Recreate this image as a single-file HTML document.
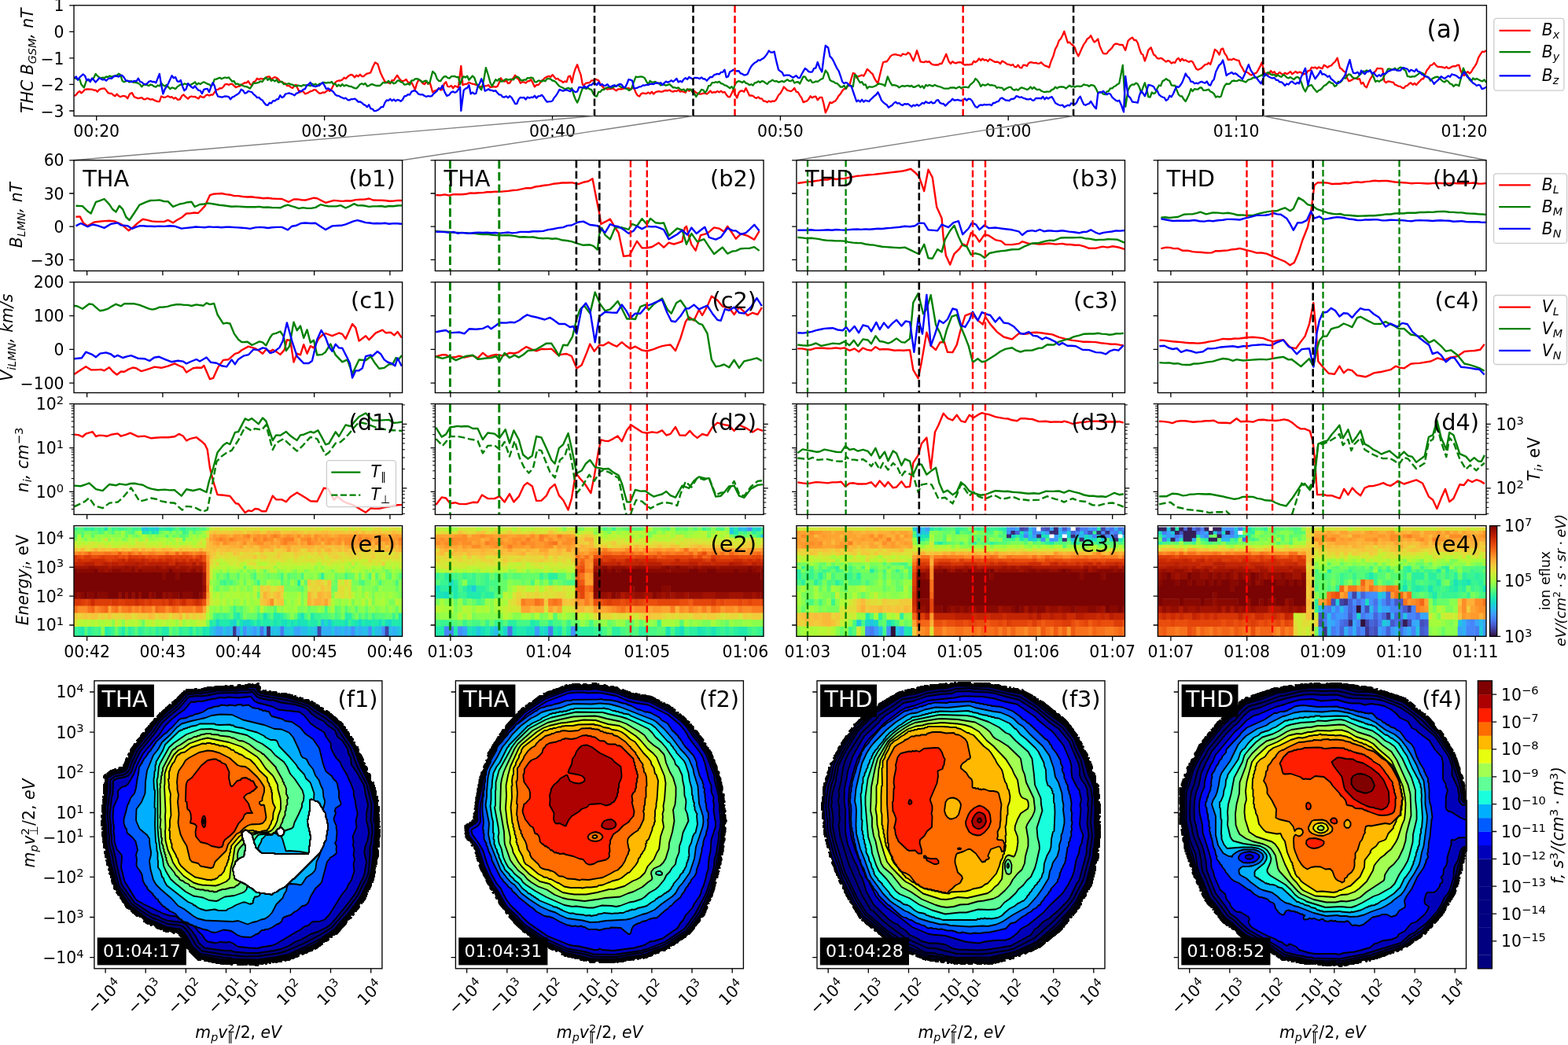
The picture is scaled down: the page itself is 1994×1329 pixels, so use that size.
<!DOCTYPE html><html><head><meta charset="utf-8"><title>THEMIS figure</title><style>html,body{margin:0;padding:0;background:#fff;}svg{display:block;}</style></head><body><svg width="1994" height="1329" viewBox="0 0 1994 1329" font-family="DejaVu Sans, Liberation Sans, sans-serif" font-size="20.4"><path fill="#38f491" d="M94 670.5h4.8v5h-4.8zM111.2 670.5h4.8v5h-4.8zM124.1 670.5h4.8v5h-4.8zM141.3 670.5h4.8v5h-4.8zM149.9 670.5h9.1v5h-9.1zM167.1 670.5h9.1v5h-9.1zM218.7 670.5h4.8v5h-4.8zM227.3 670.5h4.8v5h-4.8zM244.5 670.5h4.8v5h-4.8zM188.6 675h4.8v4.9h-4.8zM231.6 675h4.8v4.9h-4.8zM283.2 736.9h4.8v8.2h-4.8zM326.2 736.9h4.8v8.2h-4.8zM296.1 770.1h4.8v9.3h-4.8zM274.6 778.9h4.8v9.4h-4.8zM283.2 778.9h4.8v9.4h-4.8zM326.2 778.9h4.8v9.4h-4.8zM339.1 778.9h4.8v9.4h-4.8zM399.3 778.9h9.1v9.4h-9.1zM472.4 778.9h4.8v9.4h-4.8zM498.2 778.9h4.8v9.4h-4.8zM300.4 787.8h4.8v9.3h-4.8zM403.6 787.8h4.8v9.3h-4.8zM442.3 787.8h4.8v9.3h-4.8zM94 796.6h4.8v12.8h-4.8zM115.5 796.6h4.8v12.8h-4.8zM124.1 796.6h4.8v12.8h-4.8zM141.3 796.6h4.8v12.8h-4.8zM149.9 796.6h4.8v12.8h-4.8zM167.1 796.6h4.8v12.8h-4.8zM180 796.6h4.8v12.8h-4.8zM188.6 796.6h4.8v12.8h-4.8zM201.5 796.6h4.8v12.8h-4.8zM231.6 796.6h9.1v12.8h-9.1zM253.1 796.6h4.8v12.8h-4.8zM777.6 670.5h6.2v5h-6.2zM892.6 670.5h6.2v5h-6.2zM967.4 670.5h3.6v5h-3.6zM944.4 675h6.2v4.9h-6.2zM961.6 679.4h6.2v4.9h-6.2zM553.4 728.1h6.2v9.3h-6.2zM570.6 728.1h6.2v9.3h-6.2zM587.9 728.1h6.2v9.3h-6.2zM599.4 728.1h6.2v9.3h-6.2zM616.6 728.1h6.2v9.3h-6.2zM685.6 728.1h6.2v9.3h-6.2zM559.1 736.9h12v8.2h-12zM593.6 736.9h12v8.2h-12zM616.6 736.9h6.2v8.2h-6.2zM616.6 744.6h6.2v8.3h-6.2zM570.6 752.4h6.2v9.3h-6.2zM582.1 752.4h12v9.3h-12zM610.9 752.4h6.2v9.3h-6.2zM559.1 787.8h12v9.3h-12zM587.9 787.8h6.2v9.3h-6.2zM616.6 787.8h6.2v9.3h-6.2zM628.1 787.8h12v9.3h-12zM720.1 787.8h6.2v9.3h-6.2zM835.1 787.8h6.2v9.3h-6.2zM754.6 796.6h6.2v12.8h-6.2zM869.6 796.6h6.2v12.8h-6.2zM915.6 796.6h6.2v12.8h-6.2zM927.1 796.6h6.2v12.8h-6.2zM950.1 796.6h6.2v12.8h-6.2zM961.6 796.6h6.2v12.8h-6.2zM1187.3 670.5h6v5h-6zM1220 670.5h6v5h-6zM1236.3 670.5h6v5h-6zM1258.2 670.5h11.4v5h-11.4zM1274.5 675h6v4.9h-6zM1389 675h6v4.9h-6zM1285.4 683.8h5.9v4.9h-5.9zM1356.2 683.8h6v4.9h-6zM1187.3 688.2h6v5h-6zM1018.4 719.2h5.9v4.9h-5.9zM1029.2 723.6h6v5h-6zM1045.6 723.6h6v5h-6zM1062 723.6h6v5h-6zM1138.2 723.6h6v5h-6zM1023.8 728.1h11.4v9.3h-11.4zM1072.8 728.1h11.4v9.3h-11.4zM1056.5 761.2h6v9.4h-6zM1078.3 796.6h6v12.8h-6zM1590.5 670.5h5.9v5h-5.9zM1585.2 675h5.9v4.9h-5.9zM1472.4 679.4h5.9v4.9h-5.9zM1526.1 683.8h5.9v4.9h-5.9zM1590.5 683.8h5.9v4.9h-5.9zM1515.4 688.2h5.9v5h-5.9zM1783.9 719.2h5.9v4.9h-5.9zM1805.3 719.2h5.9v4.9h-5.9zM1832.2 719.2h5.9v4.9h-5.9zM1714.1 723.6h5.9v5h-5.9zM1751.6 723.6h5.9v5h-5.9zM1762.4 723.6h5.9v5h-5.9zM1783.9 723.6h5.9v5h-5.9zM1800 723.6h5.9v5h-5.9zM1810.7 723.6h11.2v5h-11.2zM1869.8 723.6h5.9v5h-5.9zM1703.3 728.1h5.9v9.3h-5.9zM1719.4 728.1h5.9v9.3h-5.9zM1735.5 728.1h5.9v9.3h-5.9zM1746.3 728.1h5.9v9.3h-5.9zM1783.9 728.1h5.9v9.3h-5.9zM1837.6 728.1h5.9v9.3h-5.9zM1864.4 728.1h11.2v9.3h-11.2zM1880.5 728.1h5.9v9.3h-5.9zM1703.3 736.9h5.9v8.2h-5.9zM1746.3 736.9h5.9v8.2h-5.9zM1816.1 736.9h11.2v8.2h-11.2zM1842.9 736.9h5.9v8.2h-5.9zM1869.8 736.9h11.2v8.2h-11.2zM1778.5 744.6h5.9v8.3h-5.9zM1810.7 744.6h5.9v8.3h-5.9zM1821.5 744.6h11.2v8.3h-11.2zM1837.6 744.6h5.9v8.3h-5.9zM1853.7 744.6h5.9v8.3h-5.9zM1869.8 744.6h5.9v8.3h-5.9zM1880.5 744.6h5.9v8.3h-5.9zM1816.1 752.4h5.9v9.3h-5.9zM1832.2 752.4h22v9.3h-22zM1864.4 752.4h5.9v9.3h-5.9zM1671.1 770.1h5.9v9.3h-5.9z"/>
<path fill="#55fa76" d="M98.3 670.5h9.1v5h-9.1zM162.8 670.5h4.8v5h-4.8zM223 670.5h4.8v5h-4.8zM253.1 670.5h4.8v5h-4.8zM102.6 675h4.8v4.9h-4.8zM128.4 675h4.8v4.9h-4.8zM162.8 675h4.8v4.9h-4.8zM244.5 675h4.8v4.9h-4.8zM94 679.4h4.8v4.9h-4.8zM102.6 679.4h4.8v4.9h-4.8zM115.5 679.4h4.8v4.9h-4.8zM227.3 679.4h9.1v4.9h-9.1zM231.6 683.8h4.8v4.9h-4.8zM300.4 728.1h4.8v9.3h-4.8zM364.9 728.1h4.8v9.3h-4.8zM476.7 728.1h4.8v9.3h-4.8zM493.9 728.1h4.8v9.3h-4.8zM506.8 728.1h4.8v9.3h-4.8zM287.5 736.9h4.8v8.2h-4.8zM356.3 736.9h4.8v8.2h-4.8zM386.4 736.9h4.8v8.2h-4.8zM455.2 736.9h4.8v8.2h-4.8zM511.1 736.9h0.5v8.2h-0.5zM382.1 744.6h4.8v8.3h-4.8zM511.1 744.6h0.5v8.3h-0.5zM304.7 770.1h4.8v9.3h-4.8zM347.7 770.1h4.8v9.3h-4.8zM425.1 770.1h4.8v9.3h-4.8zM438 770.1h4.8v9.3h-4.8zM450.9 770.1h4.8v9.3h-4.8zM343.4 778.9h4.8v9.4h-4.8zM416.5 778.9h4.8v9.4h-4.8zM429.4 778.9h4.8v9.4h-4.8zM446.6 778.9h4.8v9.4h-4.8zM476.7 778.9h13.4v9.4h-13.4zM106.9 796.6h4.8v12.8h-4.8zM158.5 796.6h4.8v12.8h-4.8zM171.4 796.6h4.8v12.8h-4.8zM223 796.6h4.8v12.8h-4.8zM794.9 670.5h23.5v5h-23.5zM846.6 670.5h6.2v5h-6.2zM858.1 670.5h6.2v5h-6.2zM869.6 670.5h6.2v5h-6.2zM881.1 670.5h6.2v5h-6.2zM898.4 670.5h6.2v5h-6.2zM967.4 675h3.6v4.9h-3.6zM582.1 728.1h6.2v9.3h-6.2zM605.1 728.1h6.2v9.3h-6.2zM651.1 728.1h12v9.3h-12zM691.4 728.1h6.2v9.3h-6.2zM708.6 728.1h12v9.3h-12zM553.4 736.9h6.2v8.2h-6.2zM582.1 736.9h6.2v8.2h-6.2zM605.1 736.9h6.2v8.2h-6.2zM714.4 736.9h6.2v8.2h-6.2zM622.4 744.6h6.2v8.3h-6.2zM628.1 752.4h6.2v9.3h-6.2zM587.9 761.2h6.2v9.4h-6.2zM610.9 761.2h6.2v9.4h-6.2zM702.9 778.9h6.2v9.4h-6.2zM576.4 787.8h6.2v9.3h-6.2zM593.6 787.8h6.2v9.3h-6.2zM639.6 787.8h6.2v9.3h-6.2zM685.6 787.8h12v9.3h-12zM863.9 787.8h6.2v9.3h-6.2zM794.9 796.6h6.2v12.8h-6.2zM806.4 796.6h6.2v12.8h-6.2zM835.1 796.6h12v12.8h-12zM1203.7 670.5h11.4v5h-11.4zM1160 675h6v4.9h-6zM1225.5 675h6v4.9h-6zM1198.2 679.4h6v4.9h-6zM1274.5 679.4h6v4.9h-6zM1198.2 683.8h6v4.9h-6zM1252.7 683.8h6v4.9h-6zM1329 683.8h6v4.9h-6zM1165.5 688.2h6v5h-6zM1203.7 688.2h5.9v5h-5.9zM1230.9 688.2h5.9v5h-5.9zM1247.2 688.2h11.4v5h-11.4zM1269 688.2h11.4v5h-11.4zM1301.8 688.2h6v5h-6zM1312.7 688.2h5.9v5h-5.9zM1339.9 688.2h5.9v5h-5.9zM1350.8 688.2h6v5h-6zM1372.6 688.2h11.4v5h-11.4zM1399.8 688.2h6v5h-6zM1410.8 688.2h6v5h-6zM1427.1 688.2h3.4v5h-3.4zM1350.8 692.7h6v4.9h-6zM1121.9 714.8h5.9v4.9h-5.9zM1132.8 714.8h11.4v4.9h-11.4zM1040.2 719.2h5.9v4.9h-5.9zM1051 719.2h6v4.9h-6zM1127.3 719.2h6v4.9h-6zM1149.2 719.2h5.9v4.9h-5.9zM1023.8 723.6h6v5h-6zM1040.2 723.6h5.9v5h-5.9zM1111 723.6h6v5h-6zM1018.4 728.1h5.9v9.3h-5.9zM1034.7 728.1h6v9.3h-6zM1045.6 728.1h6v9.3h-6zM1083.8 728.1h6v9.3h-6zM1121.9 728.1h5.9v9.3h-5.9zM1143.7 728.1h6v9.3h-6zM1056.5 736.9h6v8.2h-6zM1051 744.6h6v8.3h-6zM1072.8 744.6h6v8.3h-6zM1023.8 761.2h6v9.4h-6zM1105.5 778.9h6v9.4h-6zM1116.5 787.8h6v9.3h-6zM1083.8 796.6h6v12.8h-6zM1595.9 670.5h5.9v5h-5.9zM1622.8 670.5h11.2v5h-11.2zM1638.9 670.5h5.9v5h-5.9zM1649.6 670.5h5.9v5h-5.9zM1617.4 675h5.9v4.9h-5.9zM1644.2 675h16.6v4.9h-16.6zM1628.1 679.4h5.9v4.9h-5.9zM1638.9 679.4h5.9v4.9h-5.9zM1585.2 683.8h5.9v4.9h-5.9zM1595.9 683.8h5.9v4.9h-5.9zM1628.1 683.8h5.9v4.9h-5.9zM1493.9 688.2h5.9v5h-5.9zM1504.6 688.2h11.2v5h-11.2zM1531.5 688.2h5.9v5h-5.9zM1547.6 688.2h5.9v5h-5.9zM1563.7 688.2h11.2v5h-11.2zM1622.8 688.2h5.9v5h-5.9zM1638.9 688.2h5.9v5h-5.9zM1687.2 714.8h5.9v4.9h-5.9zM1697.9 719.2h5.9v4.9h-5.9zM1714.1 719.2h11.2v4.9h-11.2zM1730.2 719.2h5.9v4.9h-5.9zM1751.6 719.2h5.9v4.9h-5.9zM1859 719.2h16.6v4.9h-16.6zM1880.5 719.2h5.9v4.9h-5.9zM1708.7 723.6h5.9v5h-5.9zM1719.4 723.6h27.3v5h-27.3zM1757 723.6h5.9v5h-5.9zM1767.8 723.6h5.9v5h-5.9zM1778.5 723.6h5.9v5h-5.9zM1794.6 723.6h5.9v5h-5.9zM1805.3 723.6h5.9v5h-5.9zM1848.3 723.6h5.9v5h-5.9zM1859 723.6h11.2v5h-11.2zM1671.1 728.1h11.2v9.3h-11.2zM1687.2 728.1h5.9v9.3h-5.9zM1697.9 728.1h5.9v9.3h-5.9zM1714.1 728.1h5.9v9.3h-5.9zM1724.8 728.1h11.2v9.3h-11.2zM1751.6 728.1h11.2v9.3h-11.2zM1767.8 728.1h16.6v9.3h-16.6zM1810.7 728.1h5.9v9.3h-5.9zM1832.2 728.1h5.9v9.3h-5.9zM1671.1 736.9h5.9v8.2h-5.9zM1687.2 736.9h5.9v8.2h-5.9zM1697.9 736.9h5.9v8.2h-5.9zM1757 736.9h5.9v8.2h-5.9zM1767.8 736.9h5.9v8.2h-5.9zM1805.3 736.9h5.9v8.2h-5.9zM1885.9 736.9h4.1v8.2h-4.1zM1789.2 744.6h5.9v8.3h-5.9zM1800 752.4h5.9v9.3h-5.9zM1810.7 752.4h5.9v9.3h-5.9zM1859 752.4h5.9v9.3h-5.9z"/>
<path fill="#2aefa1" d="M106.9 670.5h4.8v5h-4.8zM115.5 670.5h4.8v5h-4.8zM201.5 670.5h9.1v5h-9.1zM231.6 670.5h4.8v5h-4.8zM407.9 728.1h4.8v9.3h-4.8zM296.1 778.9h4.8v9.4h-4.8zM356.3 778.9h4.8v9.4h-4.8zM377.8 778.9h4.8v9.4h-4.8zM438 778.9h9.1v9.4h-9.1zM270.3 787.8h4.8v9.3h-4.8zM321.9 787.8h4.8v9.3h-4.8zM330.5 787.8h4.8v9.3h-4.8zM343.4 787.8h4.8v9.3h-4.8zM390.7 787.8h4.8v9.3h-4.8zM485.3 787.8h4.8v9.3h-4.8zM98.3 796.6h4.8v12.8h-4.8zM111.2 796.6h4.8v12.8h-4.8zM137 796.6h4.8v12.8h-4.8zM162.8 796.6h4.8v12.8h-4.8zM175.7 796.6h4.8v12.8h-4.8zM197.2 796.6h4.8v12.8h-4.8zM227.3 796.6h4.8v12.8h-4.8zM248.8 796.6h4.8v12.8h-4.8zM955.9 675h6.2v4.9h-6.2zM564.9 728.1h6.2v9.3h-6.2zM697.1 728.1h12v9.3h-12zM576.4 736.9h6.2v8.2h-6.2zM559.1 744.6h12v8.3h-12zM587.9 744.6h6.2v8.3h-6.2zM605.1 744.6h12v8.3h-12zM616.6 752.4h12v9.3h-12zM645.4 787.8h12v9.3h-12zM679.9 787.8h6.2v9.3h-6.2zM697.1 787.8h6.2v9.3h-6.2zM737.4 796.6h17.8v12.8h-17.8zM760.4 796.6h6.2v12.8h-6.2zM777.6 796.6h12v12.8h-12zM812.1 796.6h12v12.8h-12zM875.4 796.6h12v12.8h-12zM898.4 796.6h6.2v12.8h-6.2zM909.9 796.6h6.2v12.8h-6.2zM921.4 796.6h6.2v12.8h-6.2zM932.9 796.6h6.2v12.8h-6.2zM967.4 796.6h3.6v12.8h-3.6zM1192.8 670.5h6v5h-6zM1214.5 670.5h6v5h-6zM1241.8 670.5h6v5h-6zM1252.7 670.5h6v5h-6zM1269 670.5h6v5h-6zM1290.8 679.4h6v4.9h-6zM1171 683.8h6v4.9h-6zM1318.1 683.8h6v4.9h-6zM1345.3 683.8h6v4.9h-6zM1236.3 688.2h6v5h-6zM1258.2 688.2h5.9v5h-5.9zM1329 688.2h6v5h-6zM1361.7 688.2h11.4v5h-11.4zM1394.4 688.2h5.9v5h-5.9zM1062 719.2h6v4.9h-6zM1012.9 723.6h6v5h-6zM1012.9 728.1h6v9.3h-6zM1040.2 728.1h5.9v9.3h-5.9zM1089.2 728.1h6v9.3h-6zM1018.4 736.9h5.9v8.2h-5.9zM1034.7 736.9h6v8.2h-6zM1062 736.9h6v8.2h-6zM1116.5 778.9h6v9.4h-6zM1143.7 778.9h6v9.4h-6zM1132.8 787.8h6v9.3h-6zM1606.7 670.5h5.9v5h-5.9zM1590.5 675h5.9v4.9h-5.9zM1579.8 679.4h11.2v4.9h-11.2zM1531.5 683.8h5.9v4.9h-5.9zM1569.1 683.8h5.9v4.9h-5.9zM1472.4 688.2h5.9v5h-5.9zM1789.2 719.2h5.9v4.9h-5.9zM1837.6 719.2h5.9v4.9h-5.9zM1789.2 723.6h5.9v5h-5.9zM1837.6 723.6h5.9v5h-5.9zM1794.6 728.1h16.6v9.3h-16.6zM1816.1 728.1h11.2v9.3h-11.2zM1848.3 728.1h5.9v9.3h-5.9zM1859 728.1h5.9v9.3h-5.9zM1875.2 728.1h5.9v9.3h-5.9zM1783.9 736.9h5.9v8.2h-5.9zM1794.6 736.9h5.9v8.2h-5.9zM1853.7 736.9h5.9v8.2h-5.9zM1880.5 736.9h5.9v8.2h-5.9zM1697.9 744.6h5.9v8.3h-5.9zM1794.6 744.6h5.9v8.3h-5.9zM1805.3 744.6h5.9v8.3h-5.9zM1842.9 744.6h5.9v8.3h-5.9zM1859 744.6h5.9v8.3h-5.9zM1671.1 761.2h5.9v9.4h-5.9z"/>
<path fill="#46f884" d="M119.8 670.5h4.8v5h-4.8zM128.4 670.5h4.8v5h-4.8zM145.6 670.5h4.8v5h-4.8zM158.5 670.5h4.8v5h-4.8zM175.7 670.5h4.8v5h-4.8zM235.9 670.5h9.1v5h-9.1zM248.8 670.5h4.8v5h-4.8zM257.4 670.5h4.8v5h-4.8zM124.1 675h4.8v4.9h-4.8zM141.3 675h4.8v4.9h-4.8zM167.1 675h4.8v4.9h-4.8zM235.9 675h4.8v4.9h-4.8zM210.1 679.4h4.8v4.9h-4.8zM287.5 728.1h4.8v9.3h-4.8zM321.9 728.1h4.8v9.3h-4.8zM356.3 728.1h4.8v9.3h-4.8zM382.1 728.1h4.8v9.3h-4.8zM438 728.1h4.8v9.3h-4.8zM468.1 728.1h4.8v9.3h-4.8zM278.9 736.9h4.8v8.2h-4.8zM291.8 736.9h4.8v8.2h-4.8zM459.5 736.9h4.8v8.2h-4.8zM481 736.9h4.8v8.2h-4.8zM502.5 736.9h4.8v8.2h-4.8zM412.2 770.1h4.8v9.3h-4.8zM270.3 778.9h4.8v9.4h-4.8zM278.9 778.9h4.8v9.4h-4.8zM287.5 778.9h4.8v9.4h-4.8zM304.7 778.9h4.8v9.4h-4.8zM330.5 778.9h4.8v9.4h-4.8zM360.6 778.9h4.8v9.4h-4.8zM386.4 778.9h4.8v9.4h-4.8zM407.9 778.9h9.1v9.4h-9.1zM425.1 778.9h4.8v9.4h-4.8zM455.2 778.9h4.8v9.4h-4.8zM463.8 778.9h4.8v9.4h-4.8zM119.8 796.6h4.8v12.8h-4.8zM184.3 796.6h4.8v12.8h-4.8zM192.9 796.6h4.8v12.8h-4.8zM218.7 796.6h4.8v12.8h-4.8zM244.5 796.6h4.8v12.8h-4.8zM766.1 670.5h6.2v5h-6.2zM909.9 670.5h12v5h-12zM938.6 675h6.2v4.9h-6.2zM961.6 675h6.2v4.9h-6.2zM932.9 679.4h6.2v4.9h-6.2zM559.1 728.1h6.2v9.3h-6.2zM576.4 728.1h6.2v9.3h-6.2zM593.6 728.1h6.2v9.3h-6.2zM610.9 728.1h6.2v9.3h-6.2zM628.1 728.1h6.2v9.3h-6.2zM639.6 728.1h6.2v9.3h-6.2zM610.9 736.9h6.2v8.2h-6.2zM622.4 736.9h12v8.2h-12zM674.1 736.9h6.2v8.2h-6.2zM697.1 736.9h6.2v8.2h-6.2zM720.1 736.9h12v8.2h-12zM582.1 744.6h6.2v8.3h-6.2zM628.1 744.6h6.2v8.3h-6.2zM605.1 761.2h6.2v9.4h-6.2zM553.4 787.8h6.2v9.3h-6.2zM570.6 787.8h6.2v9.3h-6.2zM599.4 787.8h12v9.3h-12zM656.9 787.8h17.8v9.3h-17.8zM702.9 787.8h12v9.3h-12zM748.9 787.8h6.2v9.3h-6.2zM714.4 796.6h6.2v12.8h-6.2zM766.1 796.6h6.2v12.8h-6.2zM789.1 796.6h6.2v12.8h-6.2zM800.6 796.6h6.2v12.8h-6.2zM823.6 796.6h12v12.8h-12zM852.4 796.6h6.2v12.8h-6.2zM955.9 796.6h6.2v12.8h-6.2zM1198.2 670.5h6v5h-6zM1225.5 670.5h6v5h-6zM1247.2 670.5h6v5h-6zM1230.9 675h5.9v4.9h-5.9zM1252.7 675h11.4v4.9h-11.4zM1160 679.4h6v4.9h-6zM1269 679.4h6v4.9h-6zM1176.4 683.8h5.9v4.9h-5.9zM1241.8 683.8h6v4.9h-6zM1274.5 683.8h11.4v4.9h-11.4zM1301.8 683.8h6v4.9h-6zM1367.2 683.8h5.9v4.9h-5.9zM1394.4 683.8h5.9v4.9h-5.9zM1427.1 683.8h3.4v4.9h-3.4zM1198.2 688.2h6v5h-6zM1220 688.2h6v5h-6zM1263.6 688.2h6v5h-6zM1323.5 688.2h6v5h-6zM1345.3 688.2h6v5h-6zM1383.5 688.2h11.4v5h-11.4zM1405.3 688.2h6v5h-6zM1421.7 688.2h5.9v5h-5.9zM1143.7 714.8h11.4v4.9h-11.4zM1029.2 719.2h6v4.9h-6zM1056.5 719.2h6v4.9h-6zM1078.3 719.2h6v4.9h-6zM1094.7 719.2h5.9v4.9h-5.9zM1154.6 719.2h6v4.9h-6zM1051 723.6h6v5h-6zM1067.4 723.6h5.9v5h-5.9zM1078.3 723.6h6v5h-6zM1121.9 723.6h5.9v5h-5.9zM1154.6 723.6h6v5h-6zM1056.5 728.1h6v9.3h-6zM1154.6 728.1h6v9.3h-6zM1012.9 736.9h6v8.2h-6zM1040.2 736.9h5.9v8.2h-5.9zM1051 736.9h6v8.2h-6zM1067.4 736.9h5.9v8.2h-5.9zM1078.3 736.9h16.9v8.2h-16.9zM1100.1 736.9h6v8.2h-6zM1029.2 761.2h6v9.4h-6zM1040.2 761.2h5.9v9.4h-5.9zM1083.8 787.8h6v9.3h-6zM1094.7 787.8h5.9v9.3h-5.9zM1138.2 787.8h6v9.3h-6zM1121.9 796.6h5.9v12.8h-5.9zM1601.3 670.5h5.9v5h-5.9zM1617.4 670.5h5.9v5h-5.9zM1644.2 670.5h5.9v5h-5.9zM1563.7 683.8h5.9v4.9h-5.9zM1477.8 688.2h11.2v5h-11.2zM1536.8 688.2h5.9v5h-5.9zM1558.3 688.2h5.9v5h-5.9zM1740.9 719.2h5.9v4.9h-5.9zM1762.4 719.2h5.9v4.9h-5.9zM1875.2 719.2h5.9v4.9h-5.9zM1885.9 719.2h4.1v4.9h-4.1zM1671.1 723.6h5.9v5h-5.9zM1821.5 723.6h5.9v5h-5.9zM1842.9 723.6h5.9v5h-5.9zM1875.2 723.6h11.2v5h-11.2zM1681.8 728.1h5.9v9.3h-5.9zM1708.7 728.1h5.9v9.3h-5.9zM1826.8 728.1h5.9v9.3h-5.9zM1842.9 728.1h5.9v9.3h-5.9zM1885.9 728.1h4.1v9.3h-4.1zM1719.4 736.9h5.9v8.2h-5.9zM1762.4 736.9h5.9v8.2h-5.9zM1778.5 736.9h5.9v8.2h-5.9zM1789.2 736.9h5.9v8.2h-5.9zM1800 736.9h5.9v8.2h-5.9zM1810.7 736.9h5.9v8.2h-5.9zM1671.1 744.6h5.9v8.3h-5.9zM1687.2 744.6h5.9v8.3h-5.9zM1832.2 744.6h5.9v8.3h-5.9zM1875.2 744.6h5.9v8.3h-5.9zM1794.6 752.4h5.9v9.3h-5.9zM1826.8 752.4h5.9v9.3h-5.9zM1853.7 752.4h5.9v9.3h-5.9zM1880.5 752.4h9.5v9.3h-9.5zM1821.5 761.2h5.9v9.4h-5.9z"/>
<path fill="#1ae4b6" d="M132.7 670.5h4.8v5h-4.8zM180 675h4.8v4.9h-4.8zM192.9 675h4.8v4.9h-4.8zM334.8 778.9h4.8v9.4h-4.8zM382.1 778.9h4.8v9.4h-4.8zM304.7 787.8h4.8v9.3h-4.8zM317.6 787.8h4.8v9.3h-4.8zM326.2 787.8h4.8v9.3h-4.8zM347.7 787.8h4.8v9.3h-4.8zM356.3 787.8h4.8v9.3h-4.8zM382.1 787.8h9.1v9.3h-9.1zM420.8 787.8h4.8v9.3h-4.8zM450.9 787.8h4.8v9.3h-4.8zM463.8 787.8h9.1v9.3h-9.1zM506.8 787.8h4.8v9.3h-4.8zM257.4 796.6h4.8v12.8h-4.8zM570.6 744.6h6.2v8.3h-6.2zM593.6 744.6h6.2v8.3h-6.2zM553.4 752.4h12v9.3h-12zM593.6 796.6h6.2v12.8h-6.2zM846.6 796.6h6.2v12.8h-6.2zM886.9 796.6h6.2v12.8h-6.2zM904.1 796.6h6.2v12.8h-6.2zM1296.3 675h6v4.9h-6zM1171 679.4h6v4.9h-6zM1323.5 679.4h11.4v4.9h-11.4zM1165.5 683.8h6v4.9h-6zM1421.7 683.8h5.9v4.9h-5.9zM1154.6 796.6h6v12.8h-6zM1579.8 670.5h11.2v5h-11.2zM1499.2 683.8h5.9v4.9h-5.9zM1848.3 736.9h5.9v8.2h-5.9zM1864.4 736.9h5.9v8.2h-5.9zM1783.9 744.6h5.9v8.3h-5.9zM1816.1 744.6h5.9v8.3h-5.9zM1885.9 744.6h4.1v8.3h-4.1z"/>
<path fill="#65fd69" d="M137 670.5h4.8v5h-4.8zM94 675h9.1v4.9h-9.1zM115.5 675h9.1v4.9h-9.1zM137 675h4.8v4.9h-4.8zM158.5 675h4.8v4.9h-4.8zM201.5 675h4.8v4.9h-4.8zM214.4 675h4.8v4.9h-4.8zM223 675h4.8v4.9h-4.8zM158.5 679.4h4.8v4.9h-4.8zM171.4 679.4h4.8v4.9h-4.8zM218.7 679.4h4.8v4.9h-4.8zM235.9 679.4h4.8v4.9h-4.8zM309 719.2h4.8v4.9h-4.8zM334.8 723.6h4.8v5h-4.8zM489.6 723.6h4.8v5h-4.8zM274.6 728.1h4.8v9.3h-4.8zM283.2 728.1h4.8v9.3h-4.8zM317.6 728.1h4.8v9.3h-4.8zM339.1 728.1h4.8v9.3h-4.8zM352 728.1h4.8v9.3h-4.8zM369.2 728.1h9.1v9.3h-9.1zM403.6 728.1h4.8v9.3h-4.8zM425.1 728.1h4.8v9.3h-4.8zM442.3 728.1h9.1v9.3h-9.1zM455.2 728.1h4.8v9.3h-4.8zM489.6 728.1h4.8v9.3h-4.8zM296.1 736.9h4.8v8.2h-4.8zM309 736.9h4.8v8.2h-4.8zM321.9 736.9h4.8v8.2h-4.8zM364.9 736.9h4.8v8.2h-4.8zM425.1 736.9h4.8v8.2h-4.8zM274.6 744.6h4.8v8.3h-4.8zM377.8 744.6h4.8v8.3h-4.8zM420.8 744.6h9.1v8.3h-9.1zM476.7 744.6h4.8v8.3h-4.8zM502.5 744.6h4.8v8.3h-4.8zM326.2 752.4h4.8v9.3h-4.8zM291.8 770.1h4.8v9.3h-4.8zM300.4 770.1h4.8v9.3h-4.8zM326.2 770.1h4.8v9.3h-4.8zM390.7 770.1h4.8v9.3h-4.8zM429.4 770.1h4.8v9.3h-4.8zM463.8 770.1h4.8v9.3h-4.8zM502.5 770.1h4.8v9.3h-4.8zM291.8 778.9h4.8v9.4h-4.8zM313.3 778.9h13.4v9.4h-13.4zM364.9 778.9h4.8v9.4h-4.8zM373.5 778.9h4.8v9.4h-4.8zM390.7 778.9h4.8v9.4h-4.8zM420.8 778.9h4.8v9.4h-4.8zM459.5 778.9h4.8v9.4h-4.8zM468.1 778.9h4.8v9.4h-4.8zM489.6 778.9h9.1v9.4h-9.1zM502.5 778.9h4.8v9.4h-4.8zM511.1 778.9h0.5v9.4h-0.5zM180 787.8h4.8v9.3h-4.8zM145.6 796.6h4.8v12.8h-4.8zM214.4 796.6h4.8v12.8h-4.8zM771.9 670.5h6.2v5h-6.2zM789.1 670.5h6.2v5h-6.2zM840.9 670.5h6.2v5h-6.2zM863.9 670.5h6.2v5h-6.2zM950.1 675h6.2v4.9h-6.2zM944.4 679.4h6.2v4.9h-6.2zM955.9 679.4h6.2v4.9h-6.2zM622.4 728.1h6.2v9.3h-6.2zM633.9 728.1h6.2v9.3h-6.2zM645.4 728.1h6.2v9.3h-6.2zM662.6 728.1h23.5v9.3h-23.5zM725.9 728.1h6.2v9.3h-6.2zM633.9 736.9h12v8.2h-12zM662.6 736.9h6.2v8.2h-6.2zM685.6 736.9h6.2v8.2h-6.2zM708.6 736.9h6.2v8.2h-6.2zM633.9 744.6h12v8.3h-12zM633.9 752.4h6.2v9.3h-6.2zM576.4 761.2h6.2v9.4h-6.2zM599.4 761.2h6.2v9.4h-6.2zM582.1 787.8h6.2v9.3h-6.2zM610.9 787.8h6.2v9.3h-6.2zM622.4 787.8h6.2v9.3h-6.2zM714.4 787.8h6.2v9.3h-6.2zM725.9 787.8h12v9.3h-12zM771.9 787.8h6.2v9.3h-6.2zM794.9 787.8h12v9.3h-12zM812.1 787.8h6.2v9.3h-6.2zM921.4 787.8h6.2v9.3h-6.2zM771.9 796.6h6.2v12.8h-6.2zM1198.2 675h11.4v4.9h-11.4zM1220 675h6v4.9h-6zM1269 675h6v4.9h-6zM1236.3 679.4h27.8v4.9h-27.8zM1230.9 683.8h5.9v4.9h-5.9zM1290.8 683.8h6v4.9h-6zM1405.3 683.8h6v4.9h-6zM1171 688.2h6v5h-6zM1209.1 688.2h6v5h-6zM1241.8 688.2h6v5h-6zM1280 688.2h6v5h-6zM1318.1 688.2h6v5h-6zM1356.2 688.2h6v5h-6zM1416.2 688.2h6v5h-6zM1410.8 692.7h6v4.9h-6zM1012.9 714.8h6v4.9h-6zM1040.2 714.8h11.4v4.9h-11.4zM1056.5 714.8h6v4.9h-6zM1078.3 714.8h6v4.9h-6zM1023.8 719.2h6v4.9h-6zM1072.8 719.2h6v4.9h-6zM1083.8 719.2h6v4.9h-6zM1105.5 719.2h11.4v4.9h-11.4zM1034.7 723.6h6v5h-6zM1056.5 723.6h6v5h-6zM1083.8 723.6h11.4v5h-11.4zM1132.8 723.6h6v5h-6zM1143.7 723.6h6v5h-6zM1062 728.1h11.4v9.3h-11.4zM1094.7 728.1h22.3v9.3h-22.3zM1132.8 728.1h11.4v9.3h-11.4zM1023.8 736.9h11.4v8.2h-11.4zM1094.7 736.9h5.9v8.2h-5.9zM1105.5 736.9h6v8.2h-6zM1121.9 736.9h5.9v8.2h-5.9zM1138.2 736.9h6v8.2h-6zM1040.2 744.6h5.9v8.3h-5.9zM1121.9 744.6h5.9v8.3h-5.9zM1138.2 744.6h11.4v8.3h-11.4zM1056.5 752.4h6v9.3h-6zM1094.7 752.4h5.9v9.3h-5.9zM1018.4 770.1h5.9v9.3h-5.9zM1121.9 778.9h5.9v9.4h-5.9zM1121.9 787.8h5.9v9.3h-5.9zM1149.2 787.8h5.9v9.3h-5.9zM1067.4 796.6h5.9v12.8h-5.9zM1633.5 670.5h5.9v5h-5.9zM1606.7 675h5.9v4.9h-5.9zM1536.8 679.4h5.9v4.9h-5.9zM1590.5 679.4h5.9v4.9h-5.9zM1601.3 679.4h5.9v4.9h-5.9zM1622.8 679.4h5.9v4.9h-5.9zM1644.2 679.4h11.2v4.9h-11.2zM1472.4 683.8h5.9v4.9h-5.9zM1547.6 683.8h5.9v4.9h-5.9zM1617.4 683.8h5.9v4.9h-5.9zM1638.9 683.8h5.9v4.9h-5.9zM1649.6 683.8h5.9v4.9h-5.9zM1488.5 688.2h5.9v5h-5.9zM1526.1 688.2h5.9v5h-5.9zM1542.2 688.2h5.9v5h-5.9zM1703.3 714.8h5.9v4.9h-5.9zM1746.3 714.8h5.9v4.9h-5.9zM1800 714.8h11.2v4.9h-11.2zM1816.1 714.8h5.9v4.9h-5.9zM1692.6 719.2h5.9v4.9h-5.9zM1724.8 719.2h5.9v4.9h-5.9zM1810.7 719.2h5.9v4.9h-5.9zM1826.8 719.2h5.9v4.9h-5.9zM1848.3 719.2h5.9v4.9h-5.9zM1692.6 723.6h16.6v5h-16.6zM1832.2 723.6h5.9v5h-5.9zM1885.9 723.6h4.1v5h-4.1zM1692.6 728.1h5.9v9.3h-5.9zM1789.2 728.1h5.9v9.3h-5.9zM1853.7 728.1h5.9v9.3h-5.9zM1676.5 736.9h11.2v8.2h-11.2zM1708.7 736.9h5.9v8.2h-5.9zM1832.2 736.9h5.9v8.2h-5.9zM1676.5 744.6h11.2v8.3h-11.2zM1692.6 744.6h5.9v8.3h-5.9zM1864.4 744.6h5.9v8.3h-5.9zM1676.5 752.4h5.9v9.3h-5.9zM1805.3 752.4h5.9v9.3h-5.9zM1875.2 752.4h5.9v9.3h-5.9zM1826.8 761.2h16.6v9.4h-16.6zM1832.2 796.6h5.9v12.8h-5.9z"/>
<path fill="#1ccdd8" d="M180 670.5h4.8v5h-4.8zM266 796.6h4.8v12.8h-4.8zM304.7 796.6h4.8v12.8h-4.8zM369.2 796.6h4.8v12.8h-4.8zM390.7 796.6h4.8v12.8h-4.8zM506.8 796.6h4.8v12.8h-4.8zM927.1 670.5h6.2v5h-6.2zM961.6 670.5h6.2v5h-6.2zM599.4 744.6h6.2v8.3h-6.2zM1171 675h6v4.9h-6zM1421.7 675h5.9v4.9h-5.9zM1307.2 679.4h6v4.9h-6zM1345.3 679.4h6v4.9h-6zM1356.2 679.4h6v4.9h-6zM1399.8 683.8h6v4.9h-6zM1410.8 683.8h6v4.9h-6zM1089.2 787.8h6v9.3h-6zM1569.1 670.5h5.9v5h-5.9zM1488.5 675h5.9v4.9h-5.9zM1542.2 675h5.9v4.9h-5.9zM1751.6 752.4h5.9v9.3h-5.9zM1697.9 761.2h5.9v9.4h-5.9zM1757 787.8h5.9v9.3h-5.9zM1880.5 796.6h5.9v12.8h-5.9z"/>
<path fill="#22c5e2" d="M184.3 670.5h4.8v5h-4.8zM197.2 670.5h4.8v5h-4.8zM407.9 787.8h4.8v9.3h-4.8zM416.5 787.8h4.8v9.3h-4.8zM283.2 796.6h4.8v12.8h-4.8zM347.7 796.6h4.8v12.8h-4.8zM360.6 796.6h9.1v12.8h-9.1zM395 796.6h4.8v12.8h-4.8zM420.8 796.6h4.8v12.8h-4.8zM944.4 670.5h6.2v5h-6.2zM927.1 675h6.2v4.9h-6.2zM967.4 679.4h3.6v4.9h-3.6zM605.1 796.6h6.2v12.8h-6.2zM1171 670.5h6v5h-6zM1176.4 675h5.9v4.9h-5.9zM1323.5 675h6v4.9h-6zM1372.6 675h6v4.9h-6zM1367.2 679.4h5.9v4.9h-5.9zM1383.5 679.4h6v4.9h-6zM1427.1 679.4h3.4v4.9h-3.4zM1307.2 683.8h6v4.9h-6zM1105.5 787.8h6v9.3h-6zM1116.5 796.6h6v12.8h-6zM1138.2 796.6h6v12.8h-6zM1483.1 670.5h5.9v5h-5.9zM1477.8 679.4h5.9v4.9h-5.9zM1751.6 770.1h5.9v9.3h-5.9zM1783.9 778.9h5.9v9.4h-5.9zM1853.7 787.8h5.9v9.3h-5.9zM1800 796.6h5.9v12.8h-5.9z"/>
<path fill="#18dec0" d="M188.6 670.5h4.8v5h-4.8zM291.8 787.8h4.8v9.3h-4.8zM360.6 787.8h4.8v9.3h-4.8zM369.2 787.8h4.8v9.3h-4.8zM377.8 787.8h4.8v9.3h-4.8zM412.2 787.8h4.8v9.3h-4.8zM438 787.8h4.8v9.3h-4.8zM481 787.8h4.8v9.3h-4.8zM489.6 787.8h4.8v9.3h-4.8zM955.9 670.5h6.2v5h-6.2zM570.6 736.9h6.2v8.2h-6.2zM553.4 744.6h6.2v8.3h-6.2zM564.9 752.4h6.2v9.3h-6.2zM599.4 796.6h6.2v12.8h-6.2zM610.9 796.6h6.2v12.8h-6.2zM651.1 796.6h6.2v12.8h-6.2zM668.4 796.6h12v12.8h-12zM685.6 796.6h6.2v12.8h-6.2zM708.6 796.6h6.2v12.8h-6.2zM863.9 796.6h6.2v12.8h-6.2zM1176.4 679.4h5.9v4.9h-5.9zM1378 679.4h6v4.9h-6zM1394.4 679.4h5.9v4.9h-5.9zM1378 683.8h6v4.9h-6zM1389 683.8h6v4.9h-6zM1127.3 787.8h6v9.3h-6zM1472.4 675h5.9v4.9h-5.9zM1553 675h5.9v4.9h-5.9zM1574.4 679.4h5.9v4.9h-5.9zM1735.5 761.2h5.9v9.4h-5.9z"/>
<path fill="#19d5cd" d="M192.9 670.5h4.8v5h-4.8zM274.6 787.8h4.8v9.3h-4.8zM296.1 787.8h4.8v9.3h-4.8zM309 787.8h9.1v9.3h-9.1zM455.2 787.8h4.8v9.3h-4.8zM493.9 787.8h4.8v9.3h-4.8zM472.4 796.6h4.8v12.8h-4.8zM622.4 796.6h6.2v12.8h-6.2zM639.6 796.6h6.2v12.8h-6.2zM691.4 796.6h6.2v12.8h-6.2zM1160 670.5h6v5h-6zM1307.2 675h6v4.9h-6zM1356.2 675h6v4.9h-6zM1165.5 679.4h6v4.9h-6zM1285.4 679.4h5.9v4.9h-5.9zM1296.3 679.4h6v4.9h-6zM1312.7 683.8h5.9v4.9h-5.9zM1383.5 683.8h6v4.9h-6zM1100.1 787.8h6v9.3h-6zM1111 787.8h6v9.3h-6zM1483.1 683.8h5.9v4.9h-5.9zM1724.8 778.9h5.9v9.4h-5.9z"/>
<path fill="#20eaac" d="M210.1 670.5h9.1v5h-9.1zM184.3 675h4.8v4.9h-4.8zM197.2 675h4.8v4.9h-4.8zM377.8 736.9h4.8v8.2h-4.8zM300.4 778.9h4.8v9.4h-4.8zM347.7 778.9h9.1v9.4h-9.1zM395 778.9h4.8v9.4h-4.8zM506.8 778.9h4.8v9.4h-4.8zM266 787.8h4.8v9.3h-4.8zM278.9 787.8h13.4v9.3h-13.4zM334.8 787.8h9.1v9.3h-9.1zM352 787.8h4.8v9.3h-4.8zM364.9 787.8h4.8v9.3h-4.8zM373.5 787.8h4.8v9.3h-4.8zM395 787.8h9.1v9.3h-9.1zM425.1 787.8h13.4v9.3h-13.4zM446.6 787.8h4.8v9.3h-4.8zM459.5 787.8h4.8v9.3h-4.8zM472.4 787.8h9.1v9.3h-9.1zM498.2 787.8h9.1v9.3h-9.1zM102.6 796.6h4.8v12.8h-4.8zM132.7 796.6h4.8v12.8h-4.8zM154.2 796.6h4.8v12.8h-4.8zM205.8 796.6h9.1v12.8h-9.1zM240.2 796.6h4.8v12.8h-4.8zM261.7 796.6h4.8v12.8h-4.8zM932.9 670.5h6.2v5h-6.2zM932.9 675h6.2v4.9h-6.2zM576.4 744.6h6.2v8.3h-6.2zM576.4 752.4h6.2v9.3h-6.2zM593.6 752.4h17.8v9.3h-17.8zM674.1 787.8h6.2v9.3h-6.2zM553.4 796.6h12v12.8h-12zM576.4 796.6h6.2v12.8h-6.2zM616.6 796.6h6.2v12.8h-6.2zM633.9 796.6h6.2v12.8h-6.2zM656.9 796.6h12v12.8h-12zM702.9 796.6h6.2v12.8h-6.2zM720.1 796.6h6.2v12.8h-6.2zM731.6 796.6h6.2v12.8h-6.2zM858.1 796.6h6.2v12.8h-6.2zM892.6 796.6h6.2v12.8h-6.2zM938.6 796.6h12v12.8h-12zM1181.8 670.5h6v5h-6zM1274.5 670.5h6v5h-6zM1394.4 670.5h5.9v5h-5.9zM1214.5 675h6v4.9h-6zM1296.3 683.8h6v4.9h-6zM1192.8 688.2h6v5h-6zM1334.5 688.2h6v5h-6zM1105.5 723.6h6v5h-6zM1100.1 778.9h6v9.4h-6zM1149.2 796.6h5.9v12.8h-5.9zM1493.9 670.5h5.9v5h-5.9zM1520.7 679.4h5.9v4.9h-5.9zM1687.2 723.6h5.9v5h-5.9zM1826.8 723.6h5.9v5h-5.9zM1740.9 728.1h5.9v9.3h-5.9zM1826.8 736.9h5.9v8.2h-5.9zM1859 736.9h5.9v8.2h-5.9zM1800 744.6h5.9v8.3h-5.9zM1848.3 744.6h5.9v8.3h-5.9zM1821.5 752.4h5.9v9.3h-5.9z"/>
<path fill="#79fe59" d="M261.7 670.5h4.8v5h-4.8zM106.9 675h9.1v4.9h-9.1zM149.9 675h4.8v4.9h-4.8zM205.8 675h4.8v4.9h-4.8zM227.3 675h4.8v4.9h-4.8zM248.8 675h9.1v4.9h-9.1zM167.1 679.4h4.8v4.9h-4.8zM188.6 679.4h4.8v4.9h-4.8zM197.2 679.4h4.8v4.9h-4.8zM223 679.4h4.8v4.9h-4.8zM94 683.8h4.8v4.9h-4.8zM106.9 683.8h4.8v4.9h-4.8zM154.2 683.8h4.8v4.9h-4.8zM304.7 723.6h4.8v5h-4.8zM313.3 723.6h4.8v5h-4.8zM321.9 723.6h4.8v5h-4.8zM373.5 723.6h4.8v5h-4.8zM386.4 723.6h4.8v5h-4.8zM420.8 723.6h4.8v5h-4.8zM278.9 728.1h4.8v9.3h-4.8zM291.8 728.1h9.1v9.3h-9.1zM309 728.1h4.8v9.3h-4.8zM334.8 728.1h4.8v9.3h-4.8zM343.4 728.1h9.1v9.3h-9.1zM377.8 728.1h4.8v9.3h-4.8zM429.4 728.1h9.1v9.3h-9.1zM463.8 728.1h4.8v9.3h-4.8zM502.5 728.1h4.8v9.3h-4.8zM274.6 736.9h4.8v8.2h-4.8zM300.4 736.9h4.8v8.2h-4.8zM334.8 736.9h4.8v8.2h-4.8zM360.6 736.9h4.8v8.2h-4.8zM373.5 736.9h4.8v8.2h-4.8zM420.8 736.9h4.8v8.2h-4.8zM446.6 736.9h9.1v8.2h-9.1zM463.8 736.9h9.1v8.2h-9.1zM476.7 736.9h4.8v8.2h-4.8zM485.3 736.9h4.8v8.2h-4.8zM498.2 736.9h4.8v8.2h-4.8zM270.3 744.6h4.8v8.3h-4.8zM283.2 744.6h9.1v8.3h-9.1zM313.3 744.6h4.8v8.3h-4.8zM360.6 744.6h17.7v8.3h-17.7zM459.5 744.6h4.8v8.3h-4.8zM472.4 744.6h4.8v8.3h-4.8zM382.1 752.4h4.8v9.3h-4.8zM472.4 752.4h4.8v9.3h-4.8zM506.8 752.4h4.8v9.3h-4.8zM382.1 761.2h4.8v9.4h-4.8zM446.6 761.2h4.8v9.4h-4.8zM472.4 761.2h4.8v9.4h-4.8zM493.9 761.2h9.1v9.4h-9.1zM278.9 770.1h4.8v9.3h-4.8zM309 770.1h4.8v9.3h-4.8zM339.1 770.1h9.1v9.3h-9.1zM377.8 770.1h9.1v9.3h-9.1zM395 770.1h9.1v9.3h-9.1zM442.3 770.1h4.8v9.3h-4.8zM476.7 770.1h4.8v9.3h-4.8zM489.6 770.1h4.8v9.3h-4.8zM309 778.9h4.8v9.4h-4.8zM433.7 778.9h4.8v9.4h-4.8zM450.9 778.9h4.8v9.4h-4.8zM261.7 787.8h4.8v9.3h-4.8zM731.6 670.5h12v5h-12zM760.4 670.5h6.2v5h-6.2zM783.4 670.5h6.2v5h-6.2zM829.4 670.5h12v5h-12zM875.4 670.5h6.2v5h-6.2zM886.9 670.5h6.2v5h-6.2zM771.9 675h6.2v4.9h-6.2zM823.6 675h12v4.9h-12zM823.6 679.4h6.2v4.9h-6.2zM898.4 679.4h6.2v4.9h-6.2zM927.1 679.4h6.2v4.9h-6.2zM938.6 679.4h6.2v4.9h-6.2zM950.1 679.4h6.2v4.9h-6.2zM651.1 736.9h12v8.2h-12zM668.4 736.9h6.2v8.2h-6.2zM702.9 736.9h6.2v8.2h-6.2zM553.4 761.2h6.2v9.4h-6.2zM593.6 761.2h6.2v9.4h-6.2zM576.4 770.1h6.2v9.3h-6.2zM599.4 778.9h6.2v9.4h-6.2zM685.6 778.9h6.2v9.4h-6.2zM743.1 787.8h6.2v9.3h-6.2zM754.6 787.8h6.2v9.3h-6.2zM777.6 787.8h6.2v9.3h-6.2zM892.6 787.8h12v9.3h-12zM915.6 787.8h6.2v9.3h-6.2zM1230.9 670.5h5.9v5h-5.9zM1192.8 675h6v4.9h-6zM1209.1 675h6v4.9h-6zM1241.8 675h11.4v4.9h-11.4zM1187.3 679.4h11.4v4.9h-11.4zM1209.1 679.4h6v4.9h-6zM1230.9 679.4h5.9v4.9h-5.9zM1263.6 679.4h6v4.9h-6zM1187.3 683.8h11.4v4.9h-11.4zM1209.1 683.8h6v4.9h-6zM1236.3 683.8h6v4.9h-6zM1247.2 683.8h6v4.9h-6zM1263.6 683.8h6v4.9h-6zM1176.4 688.2h5.9v5h-5.9zM1214.5 688.2h6v5h-6zM1285.4 688.2h16.8v5h-16.8zM1394.4 692.7h5.9v4.9h-5.9zM1018.4 714.8h11.4v4.9h-11.4zM1067.4 714.8h5.9v4.9h-5.9zM1089.2 714.8h6v4.9h-6zM1105.5 714.8h11.4v4.9h-11.4zM1127.3 714.8h6v4.9h-6zM1045.6 719.2h6v4.9h-6zM1121.9 719.2h5.9v4.9h-5.9zM1138.2 719.2h6v4.9h-6zM1018.4 723.6h5.9v5h-5.9zM1094.7 723.6h11.4v5h-11.4zM1116.5 723.6h6v5h-6zM1149.2 728.1h5.9v9.3h-5.9zM1045.6 736.9h6v8.2h-6zM1072.8 736.9h6v8.2h-6zM1111 736.9h6v8.2h-6zM1132.8 736.9h6v8.2h-6zM1143.7 736.9h6v8.2h-6zM1023.8 744.6h11.4v8.3h-11.4zM1067.4 744.6h5.9v8.3h-5.9zM1127.3 744.6h6v8.3h-6zM1154.6 744.6h6v8.3h-6zM1018.4 752.4h16.9v9.3h-16.9zM1045.6 752.4h11.4v9.3h-11.4zM1034.7 761.2h6v9.4h-6zM1045.6 761.2h6v9.4h-6zM1040.2 770.1h5.9v9.3h-5.9zM1051 770.1h16.9v9.3h-16.9zM1154.6 787.8h6v9.3h-6zM1612 675h5.9v4.9h-5.9zM1622.8 675h5.9v4.9h-5.9zM1638.9 675h5.9v4.9h-5.9zM1542.2 679.4h5.9v4.9h-5.9zM1606.7 679.4h11.2v4.9h-11.2zM1606.7 683.8h5.9v4.9h-5.9zM1574.4 688.2h11.2v5h-11.2zM1628.1 688.2h11.2v5h-11.2zM1783.9 710.4h5.9v4.9h-5.9zM1805.3 710.4h5.9v4.9h-5.9zM1842.9 710.4h11.2v4.9h-11.2zM1671.1 714.8h5.9v4.9h-5.9zM1719.4 714.8h5.9v4.9h-5.9zM1757 714.8h5.9v4.9h-5.9zM1778.5 714.8h5.9v4.9h-5.9zM1789.2 714.8h5.9v4.9h-5.9zM1837.6 714.8h11.2v4.9h-11.2zM1875.2 714.8h11.2v4.9h-11.2zM1681.8 719.2h5.9v4.9h-5.9zM1703.3 719.2h11.2v4.9h-11.2zM1735.5 719.2h5.9v4.9h-5.9zM1757 719.2h5.9v4.9h-5.9zM1773.1 719.2h5.9v4.9h-5.9zM1794.6 719.2h11.2v4.9h-11.2zM1816.1 719.2h5.9v4.9h-5.9zM1853.7 719.2h5.9v4.9h-5.9zM1676.5 723.6h5.9v5h-5.9zM1762.4 728.1h5.9v9.3h-5.9zM1692.6 736.9h5.9v8.2h-5.9zM1724.8 736.9h5.9v8.2h-5.9zM1751.6 736.9h5.9v8.2h-5.9zM1773.1 736.9h5.9v8.2h-5.9zM1837.6 736.9h5.9v8.2h-5.9zM1681.8 752.4h5.9v9.3h-5.9zM1869.8 752.4h5.9v9.3h-5.9zM1821.5 770.1h5.9v9.3h-5.9zM1837.6 770.1h11.2v9.3h-11.2zM1826.8 778.9h5.9v9.4h-5.9zM1842.9 787.8h5.9v9.3h-5.9zM1671.1 796.6h5.9v12.8h-5.9z"/>
<path fill="#c3f134" d="M266 670.5h4.8v5h-4.8zM278.9 670.5h4.8v5h-4.8zM291.8 670.5h4.8v5h-4.8zM330.5 670.5h4.8v5h-4.8zM343.4 670.5h4.8v5h-4.8zM420.8 670.5h4.8v5h-4.8zM438 670.5h4.8v5h-4.8zM446.6 670.5h4.8v5h-4.8zM459.5 670.5h4.8v5h-4.8zM468.1 670.5h4.8v5h-4.8zM485.3 670.5h4.8v5h-4.8zM261.7 679.4h4.8v4.9h-4.8zM171.4 683.8h4.8v4.9h-4.8zM253.1 683.8h9.1v4.9h-9.1zM94 688.2h4.8v5h-4.8zM102.6 688.2h4.8v5h-4.8zM111.2 688.2h4.8v5h-4.8zM119.8 688.2h13.4v5h-13.4zM137 688.2h4.8v5h-4.8zM158.5 688.2h4.8v5h-4.8zM184.3 688.2h4.8v5h-4.8zM223 688.2h4.8v5h-4.8zM248.8 688.2h4.8v5h-4.8zM119.8 692.7h4.8v4.9h-4.8zM141.3 692.7h9.1v4.9h-9.1zM205.8 692.7h4.8v4.9h-4.8zM223 692.7h4.8v4.9h-4.8zM244.5 692.7h4.8v4.9h-4.8zM274.6 710.4h4.8v4.9h-4.8zM326.2 710.4h4.8v4.9h-4.8zM364.9 710.4h4.8v4.9h-4.8zM446.6 710.4h4.8v4.9h-4.8zM459.5 710.4h9.1v4.9h-9.1zM493.9 710.4h4.8v4.9h-4.8zM270.3 714.8h4.8v4.9h-4.8zM287.5 714.8h4.8v4.9h-4.8zM296.1 714.8h4.8v4.9h-4.8zM339.1 714.8h4.8v4.9h-4.8zM356.3 714.8h22v4.9h-22zM382.1 714.8h9.1v4.9h-9.1zM399.3 714.8h4.8v4.9h-4.8zM412.2 714.8h4.8v4.9h-4.8zM420.8 714.8h17.7v4.9h-17.7zM481 714.8h4.8v4.9h-4.8zM493.9 714.8h4.8v4.9h-4.8zM506.8 714.8h4.8v4.9h-4.8zM300.4 719.2h4.8v4.9h-4.8zM326.2 719.2h4.8v4.9h-4.8zM343.4 719.2h4.8v4.9h-4.8zM352 719.2h4.8v4.9h-4.8zM442.3 719.2h4.8v4.9h-4.8zM468.1 719.2h4.8v4.9h-4.8zM343.4 723.6h4.8v5h-4.8zM433.7 736.9h4.8v8.2h-4.8zM274.6 761.2h4.8v9.4h-4.8zM158.5 787.8h4.8v9.3h-4.8zM192.9 787.8h4.8v9.3h-4.8zM253.1 787.8h4.8v9.3h-4.8zM559.1 670.5h6.2v5h-6.2zM639.6 670.5h6.2v5h-6.2zM668.4 670.5h6.2v5h-6.2zM691.4 670.5h6.2v5h-6.2zM720.1 670.5h12v5h-12zM737.4 675h6.2v4.9h-6.2zM909.9 675h6.2v4.9h-6.2zM771.9 679.4h6.2v4.9h-6.2zM783.4 679.4h6.2v4.9h-6.2zM835.1 679.4h6.2v4.9h-6.2zM846.6 679.4h6.2v4.9h-6.2zM921.4 679.4h6.2v4.9h-6.2zM766.1 683.8h12v4.9h-12zM829.4 683.8h6.2v4.9h-6.2zM863.9 683.8h6.2v4.9h-6.2zM892.6 683.8h12v4.9h-12zM915.6 683.8h6.2v4.9h-6.2zM932.9 683.8h6.2v4.9h-6.2zM858.1 688.2h6.2v5h-6.2zM961.6 688.2h6.2v5h-6.2zM564.9 714.8h6.2v4.9h-6.2zM645.4 714.8h12v4.9h-12zM685.6 714.8h6.2v4.9h-6.2zM708.6 714.8h6.2v4.9h-6.2zM553.4 719.2h6.2v4.9h-6.2zM570.6 719.2h12v4.9h-12zM605.1 719.2h6.2v4.9h-6.2zM616.6 719.2h23.5v4.9h-23.5zM651.1 719.2h6.2v4.9h-6.2zM674.1 719.2h6.2v4.9h-6.2zM702.9 719.2h6.2v4.9h-6.2zM720.1 719.2h12v4.9h-12zM622.4 723.6h6.2v5h-6.2zM691.4 723.6h6.2v5h-6.2zM720.1 723.6h6.2v5h-6.2zM708.6 744.6h6.2v8.3h-6.2zM725.9 744.6h6.2v8.3h-6.2zM639.6 770.1h6.2v9.3h-6.2zM714.4 770.1h6.2v9.3h-6.2zM731.6 778.9h6.2v9.4h-6.2zM748.9 778.9h6.2v9.4h-6.2zM1012.9 670.5h6v5h-6zM1023.8 670.5h6v5h-6zM1187.3 697.1h6v4.9h-6zM1209.1 697.1h6v4.9h-6zM1230.9 697.1h5.9v4.9h-5.9zM1252.7 697.1h11.4v4.9h-11.4zM1269 697.1h11.4v4.9h-11.4zM1307.2 697.1h6v4.9h-6zM1367.2 697.1h5.9v4.9h-5.9zM1405.3 697.1h6v4.9h-6zM1427.1 697.1h3.4v4.9h-3.4zM1018.4 705.9h5.9v5h-5.9zM1040.2 705.9h5.9v5h-5.9zM1051 705.9h6v5h-6zM1062 705.9h6v5h-6zM1111 705.9h6v5h-6zM1127.3 705.9h6v5h-6zM1149.2 705.9h5.9v5h-5.9zM1029.2 710.4h6v4.9h-6zM1040.2 710.4h11.4v4.9h-11.4zM1067.4 710.4h5.9v4.9h-5.9zM1149.2 710.4h5.9v4.9h-5.9zM1062 752.4h6v9.3h-6zM1111 752.4h6v9.3h-6zM1078.3 778.9h6v9.4h-6zM1138.2 778.9h6v9.4h-6zM1067.4 787.8h11.4v9.3h-11.4zM1051 796.6h6v12.8h-6zM1676.5 670.5h5.9v5h-5.9zM1735.5 670.5h5.9v5h-5.9zM1778.5 670.5h5.9v5h-5.9zM1805.3 670.5h5.9v5h-5.9zM1821.5 670.5h5.9v5h-5.9zM1869.8 670.5h5.9v5h-5.9zM1660.4 683.8h5.9v4.9h-5.9zM1472.4 692.7h5.9v4.9h-5.9zM1515.4 692.7h16.6v4.9h-16.6zM1569.1 692.7h5.9v4.9h-5.9zM1590.5 692.7h16.6v4.9h-16.6zM1628.1 692.7h5.9v4.9h-5.9zM1757 701.5h5.9v4.9h-5.9zM1810.7 701.5h5.9v4.9h-5.9zM1826.8 701.5h5.9v4.9h-5.9zM1848.3 701.5h5.9v4.9h-5.9zM1671.1 705.9h5.9v5h-5.9zM1681.8 705.9h5.9v5h-5.9zM1719.4 705.9h11.2v5h-11.2zM1746.3 705.9h5.9v5h-5.9zM1778.5 705.9h22v5h-22zM1805.3 705.9h5.9v5h-5.9zM1832.2 705.9h5.9v5h-5.9zM1681.8 710.4h5.9v4.9h-5.9zM1708.7 710.4h5.9v4.9h-5.9zM1746.3 710.4h5.9v4.9h-5.9zM1767.8 710.4h5.9v4.9h-5.9zM1644.2 778.9h5.9v9.4h-5.9zM1671.1 778.9h5.9v9.4h-5.9zM1832.2 778.9h5.9v9.4h-5.9zM1848.3 778.9h5.9v9.4h-5.9zM1660.4 796.6h5.9v12.8h-5.9z"/>
<path fill="#d9e436" d="M270.3 670.5h4.8v5h-4.8zM296.1 670.5h9.1v5h-9.1zM313.3 670.5h13.4v5h-13.4zM334.8 670.5h9.1v5h-9.1zM347.7 670.5h4.8v5h-4.8zM356.3 670.5h4.8v5h-4.8zM369.2 670.5h4.8v5h-4.8zM377.8 670.5h4.8v5h-4.8zM386.4 670.5h4.8v5h-4.8zM399.3 670.5h4.8v5h-4.8zM407.9 670.5h4.8v5h-4.8zM425.1 670.5h9.1v5h-9.1zM450.9 670.5h4.8v5h-4.8zM472.4 670.5h4.8v5h-4.8zM493.9 670.5h4.8v5h-4.8zM502.5 670.5h4.8v5h-4.8zM511.1 670.5h0.5v5h-0.5zM184.3 683.8h4.8v4.9h-4.8zM115.5 688.2h4.8v5h-4.8zM171.4 688.2h4.8v5h-4.8zM94 692.7h4.8v4.9h-4.8zM111.2 692.7h4.8v4.9h-4.8zM128.4 692.7h4.8v4.9h-4.8zM137 692.7h4.8v4.9h-4.8zM154.2 692.7h9.1v4.9h-9.1zM167.1 692.7h13.4v4.9h-13.4zM192.9 692.7h4.8v4.9h-4.8zM201.5 692.7h4.8v4.9h-4.8zM227.3 692.7h4.8v4.9h-4.8zM240.2 692.7h4.8v4.9h-4.8zM304.7 701.5h4.8v4.9h-4.8zM326.2 701.5h4.8v4.9h-4.8zM399.3 701.5h4.8v4.9h-4.8zM433.7 701.5h4.8v4.9h-4.8zM485.3 701.5h9.1v4.9h-9.1zM498.2 701.5h4.8v4.9h-4.8zM511.1 701.5h0.5v4.9h-0.5zM278.9 705.9h4.8v5h-4.8zM291.8 705.9h9.1v5h-9.1zM369.2 705.9h4.8v5h-4.8zM395 705.9h4.8v5h-4.8zM403.6 705.9h4.8v5h-4.8zM450.9 705.9h4.8v5h-4.8zM476.7 705.9h4.8v5h-4.8zM270.3 710.4h4.8v4.9h-4.8zM300.4 710.4h4.8v4.9h-4.8zM309 710.4h4.8v4.9h-4.8zM317.6 710.4h4.8v4.9h-4.8zM330.5 710.4h9.1v4.9h-9.1zM347.7 710.4h9.1v4.9h-9.1zM360.6 710.4h4.8v4.9h-4.8zM382.1 710.4h9.1v4.9h-9.1zM399.3 710.4h4.8v4.9h-4.8zM407.9 710.4h9.1v4.9h-9.1zM425.1 710.4h4.8v4.9h-4.8zM442.3 710.4h4.8v4.9h-4.8zM476.7 710.4h4.8v4.9h-4.8zM489.6 710.4h4.8v4.9h-4.8zM498.2 710.4h4.8v4.9h-4.8zM506.8 710.4h4.8v4.9h-4.8zM291.8 714.8h4.8v4.9h-4.8zM300.4 714.8h4.8v4.9h-4.8zM313.3 714.8h4.8v4.9h-4.8zM416.5 714.8h4.8v4.9h-4.8zM476.7 714.8h4.8v4.9h-4.8zM511.1 714.8h0.5v4.9h-0.5zM412.2 736.9h4.8v8.2h-4.8zM429.4 736.9h4.8v8.2h-4.8zM343.4 744.6h9.1v8.3h-9.1zM390.7 744.6h4.8v8.3h-4.8zM429.4 752.4h4.8v9.3h-4.8zM261.7 770.1h4.8v9.3h-4.8zM94 787.8h4.8v9.3h-4.8zM616.6 670.5h6.2v5h-6.2zM628.1 670.5h6.2v5h-6.2zM656.9 670.5h6.2v5h-6.2zM697.1 670.5h6.2v5h-6.2zM553.4 675h6.2v4.9h-6.2zM576.4 675h6.2v4.9h-6.2zM662.6 675h6.2v4.9h-6.2zM685.6 675h6.2v4.9h-6.2zM748.9 675h6.2v4.9h-6.2zM760.4 683.8h6.2v4.9h-6.2zM789.1 683.8h6.2v4.9h-6.2zM817.9 683.8h6.2v4.9h-6.2zM869.6 683.8h12v4.9h-12zM904.1 683.8h6.2v4.9h-6.2zM950.1 683.8h12v4.9h-12zM754.6 688.2h17.8v5h-17.8zM783.4 688.2h6.2v5h-6.2zM794.9 688.2h6.2v5h-6.2zM806.4 688.2h12v5h-12zM846.6 688.2h6.2v5h-6.2zM869.6 688.2h6.2v5h-6.2zM886.9 688.2h6.2v5h-6.2zM898.4 688.2h6.2v5h-6.2zM909.9 688.2h6.2v5h-6.2zM927.1 688.2h17.8v5h-17.8zM955.9 688.2h6.2v5h-6.2zM967.4 688.2h3.6v5h-3.6zM771.9 692.7h6.2v4.9h-6.2zM932.9 692.7h6.2v4.9h-6.2zM955.9 692.7h6.2v4.9h-6.2zM599.4 705.9h6.2v5h-6.2zM616.6 705.9h12v5h-12zM697.1 705.9h6.2v5h-6.2zM559.1 710.4h6.2v4.9h-6.2zM570.6 710.4h12v4.9h-12zM593.6 710.4h6.2v4.9h-6.2zM605.1 710.4h6.2v4.9h-6.2zM628.1 710.4h6.2v4.9h-6.2zM662.6 710.4h6.2v4.9h-6.2zM553.4 714.8h12v4.9h-12zM570.6 714.8h12v4.9h-12zM599.4 714.8h6.2v4.9h-6.2zM616.6 714.8h6.2v4.9h-6.2zM628.1 714.8h12v4.9h-12zM662.6 714.8h6.2v4.9h-6.2zM679.9 714.8h6.2v4.9h-6.2zM702.9 714.8h6.2v4.9h-6.2zM714.4 714.8h17.8v4.9h-17.8zM685.6 719.2h6.2v4.9h-6.2zM570.6 723.6h6.2v5h-6.2zM679.9 744.6h6.2v8.3h-6.2zM714.4 744.6h6.2v8.3h-6.2zM651.1 752.4h6.2v9.3h-6.2zM662.6 752.4h6.2v9.3h-6.2zM685.6 752.4h6.2v9.3h-6.2zM697.1 752.4h6.2v9.3h-6.2zM725.9 752.4h6.2v9.3h-6.2zM645.4 761.2h6.2v9.4h-6.2zM656.9 770.1h6.2v9.3h-6.2zM691.4 770.1h6.2v9.3h-6.2zM725.9 770.1h6.2v9.3h-6.2zM777.6 778.9h6.2v9.4h-6.2zM915.6 778.9h6.2v9.4h-6.2zM938.6 778.9h6.2v9.4h-6.2zM1018.4 670.5h5.9v5h-5.9zM1051 670.5h11.4v5h-11.4zM1078.3 670.5h6v5h-6zM1111 670.5h6v5h-6zM1121.9 670.5h5.9v5h-5.9zM1132.8 670.5h11.4v5h-11.4zM1149.2 670.5h11.4v5h-11.4zM1181.8 697.1h6v4.9h-6zM1220 697.1h11.4v4.9h-11.4zM1236.3 697.1h16.9v4.9h-16.9zM1263.6 697.1h6v4.9h-6zM1280 697.1h16.8v4.9h-16.8zM1301.8 697.1h6v4.9h-6zM1318.1 697.1h11.4v4.9h-11.4zM1334.5 697.1h6v4.9h-6zM1345.3 697.1h6v4.9h-6zM1399.8 697.1h6v4.9h-6zM1421.7 697.1h5.9v4.9h-5.9zM1040.2 701.5h5.9v4.9h-5.9zM1089.2 701.5h6v4.9h-6zM1132.8 701.5h6v4.9h-6zM1149.2 701.5h11.4v4.9h-11.4zM1100.1 705.9h6v5h-6zM1127.3 710.4h6v4.9h-6zM1116.5 761.2h6v9.4h-6zM1072.8 770.1h6v9.3h-6zM1067.4 778.9h5.9v9.4h-5.9zM1181.8 796.6h6v12.8h-6zM1660.4 670.5h5.9v5h-5.9zM1671.1 670.5h5.9v5h-5.9zM1681.8 670.5h11.2v5h-11.2zM1703.3 670.5h11.2v5h-11.2zM1724.8 670.5h5.9v5h-5.9zM1751.6 670.5h16.6v5h-16.6zM1794.6 670.5h5.9v5h-5.9zM1842.9 670.5h5.9v5h-5.9zM1853.7 670.5h5.9v5h-5.9zM1660.4 675h5.9v4.9h-5.9zM1483.1 692.7h5.9v4.9h-5.9zM1547.6 692.7h11.2v4.9h-11.2zM1612 692.7h5.9v4.9h-5.9zM1649.6 692.7h5.9v4.9h-5.9zM1751.6 697.1h5.9v4.9h-5.9zM1681.8 701.5h5.9v4.9h-5.9zM1703.3 701.5h5.9v4.9h-5.9zM1714.1 701.5h5.9v4.9h-5.9zM1735.5 701.5h5.9v4.9h-5.9zM1762.4 701.5h11.2v4.9h-11.2zM1789.2 701.5h5.9v4.9h-5.9zM1800 701.5h5.9v4.9h-5.9zM1821.5 701.5h5.9v4.9h-5.9zM1837.6 701.5h5.9v4.9h-5.9zM1853.7 701.5h5.9v4.9h-5.9zM1885.9 701.5h4.1v4.9h-4.1zM1676.5 705.9h5.9v5h-5.9zM1687.2 705.9h5.9v5h-5.9zM1708.7 705.9h5.9v5h-5.9zM1730.2 705.9h5.9v5h-5.9zM1740.9 705.9h5.9v5h-5.9zM1762.4 705.9h5.9v5h-5.9zM1773.1 705.9h5.9v5h-5.9zM1826.8 705.9h5.9v5h-5.9zM1875.2 705.9h5.9v5h-5.9zM1655 778.9h5.9v9.4h-5.9zM1655 796.6h5.9v12.8h-5.9z"/>
<path fill="#e1dd37" d="M274.6 670.5h4.8v5h-4.8zM309 670.5h4.8v5h-4.8zM326.2 670.5h4.8v5h-4.8zM395 670.5h4.8v5h-4.8zM412.2 670.5h9.1v5h-9.1zM442.3 670.5h4.8v5h-4.8zM455.2 670.5h4.8v5h-4.8zM476.7 670.5h4.8v5h-4.8zM498.2 670.5h4.8v5h-4.8zM132.7 683.8h4.8v4.9h-4.8zM253.1 688.2h4.8v5h-4.8zM106.9 692.7h4.8v4.9h-4.8zM124.1 692.7h4.8v4.9h-4.8zM180 692.7h4.8v4.9h-4.8zM210.1 692.7h4.8v4.9h-4.8zM231.6 692.7h9.1v4.9h-9.1zM111.2 697.1h4.8v4.9h-4.8zM382.1 697.1h4.8v4.9h-4.8zM274.6 701.5h4.8v4.9h-4.8zM287.5 701.5h9.1v4.9h-9.1zM321.9 701.5h4.8v4.9h-4.8zM334.8 701.5h17.7v4.9h-17.7zM360.6 701.5h13.4v4.9h-13.4zM386.4 701.5h9.1v4.9h-9.1zM407.9 701.5h9.1v4.9h-9.1zM429.4 701.5h4.8v4.9h-4.8zM446.6 701.5h4.8v4.9h-4.8zM455.2 701.5h9.1v4.9h-9.1zM476.7 701.5h9.1v4.9h-9.1zM493.9 701.5h4.8v4.9h-4.8zM506.8 701.5h4.8v4.9h-4.8zM274.6 705.9h4.8v5h-4.8zM283.2 705.9h9.1v5h-9.1zM300.4 705.9h4.8v5h-4.8zM326.2 705.9h4.8v5h-4.8zM339.1 705.9h9.1v5h-9.1zM356.3 705.9h13.4v5h-13.4zM377.8 705.9h4.8v5h-4.8zM386.4 705.9h4.8v5h-4.8zM399.3 705.9h4.8v5h-4.8zM416.5 705.9h4.8v5h-4.8zM433.7 705.9h13.4v5h-13.4zM459.5 705.9h13.4v5h-13.4zM481 705.9h9.1v5h-9.1zM493.9 705.9h9.1v5h-9.1zM511.1 705.9h0.5v5h-0.5zM304.7 710.4h4.8v4.9h-4.8zM343.4 710.4h4.8v4.9h-4.8zM356.3 710.4h4.8v4.9h-4.8zM373.5 710.4h4.8v4.9h-4.8zM390.7 710.4h9.1v4.9h-9.1zM420.8 710.4h4.8v4.9h-4.8zM433.7 710.4h4.8v4.9h-4.8zM481 710.4h4.8v4.9h-4.8zM317.6 714.8h9.1v4.9h-9.1zM446.6 714.8h4.8v4.9h-4.8zM330.5 719.2h4.8v4.9h-4.8zM395 736.9h4.8v8.2h-4.8zM403.6 744.6h4.8v8.3h-4.8zM429.4 744.6h9.1v8.3h-9.1zM442.3 744.6h4.8v8.3h-4.8zM433.7 752.4h4.8v9.3h-4.8zM442.3 752.4h4.8v9.3h-4.8zM167.1 778.9h4.8v9.4h-4.8zM214.4 778.9h4.8v9.4h-4.8zM231.6 778.9h4.8v9.4h-4.8zM559.1 675h12v4.9h-12zM593.6 675h12v4.9h-12zM616.6 675h6.2v4.9h-6.2zM633.9 675h12v4.9h-12zM651.1 675h12v4.9h-12zM668.4 675h6.2v4.9h-6.2zM679.9 675h6.2v4.9h-6.2zM691.4 675h6.2v4.9h-6.2zM708.6 675h6.2v4.9h-6.2zM731.6 679.4h6.2v4.9h-6.2zM771.9 688.2h6.2v5h-6.2zM789.1 688.2h6.2v5h-6.2zM800.6 688.2h6.2v5h-6.2zM829.4 688.2h17.8v5h-17.8zM852.4 688.2h6.2v5h-6.2zM863.9 688.2h6.2v5h-6.2zM875.4 688.2h12v5h-12zM892.6 688.2h6.2v5h-6.2zM904.1 688.2h6.2v5h-6.2zM915.6 688.2h6.2v5h-6.2zM944.4 688.2h6.2v5h-6.2zM863.9 692.7h6.2v4.9h-6.2zM938.6 692.7h6.2v4.9h-6.2zM961.6 692.7h6.2v4.9h-6.2zM553.4 697.1h6.2v4.9h-6.2zM553.4 705.9h12v5h-12zM628.1 705.9h12v5h-12zM645.4 705.9h17.8v5h-17.8zM668.4 705.9h6.2v5h-6.2zM685.6 705.9h6.2v5h-6.2zM708.6 705.9h6.2v5h-6.2zM564.9 710.4h6.2v4.9h-6.2zM587.9 710.4h6.2v4.9h-6.2zM599.4 710.4h6.2v4.9h-6.2zM633.9 710.4h6.2v4.9h-6.2zM645.4 710.4h6.2v4.9h-6.2zM697.1 710.4h6.2v4.9h-6.2zM708.6 710.4h6.2v4.9h-6.2zM593.6 714.8h6.2v4.9h-6.2zM622.4 714.8h6.2v4.9h-6.2zM639.6 714.8h6.2v4.9h-6.2zM564.9 719.2h6.2v4.9h-6.2zM697.1 744.6h6.2v8.3h-6.2zM674.1 752.4h6.2v9.3h-6.2zM691.4 752.4h6.2v9.3h-6.2zM702.9 752.4h6.2v9.3h-6.2zM714.4 752.4h6.2v9.3h-6.2zM651.1 761.2h6.2v9.4h-6.2zM754.6 778.9h6.2v9.4h-6.2zM783.4 778.9h23.5v9.4h-23.5zM846.6 778.9h6.2v9.4h-6.2zM858.1 778.9h6.2v9.4h-6.2zM875.4 778.9h6.2v9.4h-6.2zM921.4 778.9h6.2v9.4h-6.2zM967.4 778.9h3.6v9.4h-3.6zM1040.2 670.5h11.4v5h-11.4zM1067.4 670.5h11.4v5h-11.4zM1100.1 670.5h6v5h-6zM1116.5 670.5h6v5h-6zM1127.3 670.5h6v5h-6zM1143.7 670.5h6v5h-6zM1111 697.1h6v4.9h-6zM1121.9 697.1h5.9v4.9h-5.9zM1149.2 697.1h11.4v4.9h-11.4zM1171 697.1h6v4.9h-6zM1296.3 697.1h6v4.9h-6zM1312.7 697.1h5.9v4.9h-5.9zM1329 697.1h6v4.9h-6zM1339.9 697.1h5.9v4.9h-5.9zM1410.8 697.1h6v4.9h-6zM1012.9 701.5h6v4.9h-6zM1056.5 701.5h6v4.9h-6zM1072.8 701.5h6v4.9h-6zM1105.5 701.5h6v4.9h-6zM1116.5 701.5h6v4.9h-6zM1138.2 701.5h11.4v4.9h-11.4zM1083.8 761.2h6v9.4h-6zM1105.5 761.2h11.4v9.4h-11.4zM1078.3 770.1h11.4v9.3h-11.4zM1697.9 670.5h5.9v5h-5.9zM1746.3 670.5h5.9v5h-5.9zM1767.8 670.5h5.9v5h-5.9zM1783.9 670.5h11.2v5h-11.2zM1826.8 670.5h11.2v5h-11.2zM1880.5 670.5h9.5v5h-9.5zM1665.7 675h5.9v4.9h-5.9zM1660.4 679.4h5.9v4.9h-5.9zM1665.7 683.8h5.9v4.9h-5.9zM1660.4 688.2h5.9v5h-5.9zM1585.2 692.7h5.9v4.9h-5.9zM1633.5 692.7h5.9v4.9h-5.9zM1665.7 692.7h5.9v4.9h-5.9zM1746.3 692.7h5.9v4.9h-5.9zM1671.1 697.1h5.9v4.9h-5.9zM1783.9 697.1h5.9v4.9h-5.9zM1810.7 697.1h5.9v4.9h-5.9zM1821.5 697.1h5.9v4.9h-5.9zM1869.8 697.1h11.2v4.9h-11.2zM1692.6 701.5h5.9v4.9h-5.9zM1730.2 701.5h5.9v4.9h-5.9zM1778.5 701.5h11.2v4.9h-11.2zM1794.6 701.5h5.9v4.9h-5.9zM1816.1 701.5h5.9v4.9h-5.9zM1842.9 701.5h5.9v4.9h-5.9zM1859 701.5h16.6v4.9h-16.6zM1697.9 705.9h5.9v5h-5.9zM1821.5 705.9h5.9v5h-5.9zM1859 705.9h5.9v5h-5.9zM1660.4 719.2h5.9v4.9h-5.9zM1665.7 736.9h5.9v8.2h-5.9zM1644.2 787.8h5.9v9.3h-5.9zM1655 787.8h11.2v9.3h-11.2z"/>
<path fill="#d0ea34" d="M283.2 670.5h9.1v5h-9.1zM304.7 670.5h4.8v5h-4.8zM352 670.5h4.8v5h-4.8zM360.6 670.5h9.1v5h-9.1zM373.5 670.5h4.8v5h-4.8zM382.1 670.5h4.8v5h-4.8zM390.7 670.5h4.8v5h-4.8zM403.6 670.5h4.8v5h-4.8zM433.7 670.5h4.8v5h-4.8zM463.8 670.5h4.8v5h-4.8zM489.6 670.5h4.8v5h-4.8zM506.8 670.5h4.8v5h-4.8zM261.7 675h4.8v4.9h-4.8zM223 683.8h4.8v4.9h-4.8zM175.7 688.2h9.1v5h-9.1zM201.5 688.2h4.8v5h-4.8zM98.3 692.7h9.1v4.9h-9.1zM115.5 692.7h4.8v4.9h-4.8zM132.7 692.7h4.8v4.9h-4.8zM149.9 692.7h4.8v4.9h-4.8zM162.8 692.7h4.8v4.9h-4.8zM184.3 692.7h9.1v4.9h-9.1zM197.2 692.7h4.8v4.9h-4.8zM214.4 692.7h9.1v4.9h-9.1zM248.8 692.7h13.4v4.9h-13.4zM382.1 705.9h4.8v5h-4.8zM390.7 705.9h4.8v5h-4.8zM412.2 705.9h4.8v5h-4.8zM506.8 705.9h4.8v5h-4.8zM283.2 710.4h17.7v4.9h-17.7zM313.3 710.4h4.8v4.9h-4.8zM321.9 710.4h4.8v4.9h-4.8zM339.1 710.4h4.8v4.9h-4.8zM369.2 710.4h4.8v4.9h-4.8zM377.8 710.4h4.8v4.9h-4.8zM403.6 710.4h4.8v4.9h-4.8zM416.5 710.4h4.8v4.9h-4.8zM429.4 710.4h4.8v4.9h-4.8zM438 710.4h4.8v4.9h-4.8zM450.9 710.4h9.1v4.9h-9.1zM472.4 710.4h4.8v4.9h-4.8zM485.3 710.4h4.8v4.9h-4.8zM502.5 710.4h4.8v4.9h-4.8zM343.4 714.8h9.1v4.9h-9.1zM377.8 714.8h4.8v4.9h-4.8zM395 714.8h4.8v4.9h-4.8zM407.9 714.8h4.8v4.9h-4.8zM459.5 714.8h17.7v4.9h-17.7zM266 719.2h9.1v4.9h-9.1zM321.9 719.2h4.8v4.9h-4.8zM334.8 719.2h9.1v4.9h-9.1zM433.7 719.2h4.8v4.9h-4.8zM498.2 719.2h4.8v4.9h-4.8zM506.8 719.2h4.8v4.9h-4.8zM266 723.6h4.8v5h-4.8zM266 728.1h4.8v9.3h-4.8zM442.3 736.9h4.8v8.2h-4.8zM438 744.6h4.8v8.3h-4.8zM266 752.4h4.8v9.3h-4.8zM425.1 752.4h4.8v9.3h-4.8zM438 752.4h4.8v9.3h-4.8zM266 761.2h4.8v9.4h-4.8zM145.6 787.8h4.8v9.3h-4.8zM227.3 787.8h4.8v9.3h-4.8zM582.1 670.5h23.5v5h-23.5zM610.9 670.5h6.2v5h-6.2zM645.4 670.5h6.2v5h-6.2zM679.9 670.5h12v5h-12zM702.9 670.5h6.2v5h-6.2zM743.1 675h6.2v4.9h-6.2zM754.6 679.4h6.2v4.9h-6.2zM858.1 679.4h12v4.9h-12zM754.6 683.8h6.2v4.9h-6.2zM777.6 683.8h12v4.9h-12zM812.1 683.8h6.2v4.9h-6.2zM852.4 683.8h12v4.9h-12zM881.1 683.8h12v4.9h-12zM909.9 683.8h6.2v4.9h-6.2zM921.4 683.8h12v4.9h-12zM938.6 683.8h12v4.9h-12zM967.4 683.8h3.6v4.9h-3.6zM817.9 688.2h12v5h-12zM570.6 705.9h6.2v5h-6.2zM587.9 705.9h6.2v5h-6.2zM720.1 710.4h6.2v4.9h-6.2zM582.1 714.8h12v4.9h-12zM605.1 714.8h12v4.9h-12zM674.1 714.8h6.2v4.9h-6.2zM691.4 714.8h12v4.9h-12zM559.1 719.2h6.2v4.9h-6.2zM582.1 719.2h12v4.9h-12zM610.9 719.2h6.2v4.9h-6.2zM639.6 719.2h6.2v4.9h-6.2zM656.9 719.2h12v4.9h-12zM679.9 719.2h6.2v4.9h-6.2zM697.1 719.2h6.2v4.9h-6.2zM708.6 719.2h12v4.9h-12zM702.9 723.6h6.2v5h-6.2zM656.9 744.6h12v8.3h-12zM691.4 744.6h6.2v8.3h-6.2zM702.9 744.6h6.2v8.3h-6.2zM720.1 744.6h6.2v8.3h-6.2zM720.1 752.4h6.2v9.3h-6.2zM645.4 770.1h12v9.3h-12zM720.1 770.1h6.2v9.3h-6.2zM806.4 778.9h6.2v9.4h-6.2zM1029.2 670.5h11.4v5h-11.4zM1062 670.5h6v5h-6zM1083.8 670.5h16.8v5h-16.8zM1105.5 670.5h6v5h-6zM1181.8 688.2h6v5h-6zM1160 692.7h6v4.9h-6zM1181.8 692.7h6v4.9h-6zM1160 697.1h11.4v4.9h-11.4zM1176.4 697.1h5.9v4.9h-5.9zM1192.8 697.1h16.8v4.9h-16.8zM1214.5 697.1h6v4.9h-6zM1350.8 697.1h16.9v4.9h-16.9zM1372.6 697.1h16.9v4.9h-16.9zM1416.2 697.1h6v4.9h-6zM1023.8 705.9h6v5h-6zM1034.7 705.9h6v5h-6zM1045.6 705.9h6v5h-6zM1083.8 705.9h6v5h-6zM1105.5 705.9h6v5h-6zM1121.9 705.9h5.9v5h-5.9zM1138.2 705.9h6v5h-6zM1154.6 705.9h6v5h-6zM1012.9 710.4h6v4.9h-6zM1051 710.4h11.4v4.9h-11.4zM1078.3 710.4h16.9v4.9h-16.9zM1116.5 710.4h6v4.9h-6zM1132.8 710.4h16.9v4.9h-16.9zM1078.3 761.2h6v9.4h-6zM1067.4 770.1h5.9v9.3h-5.9zM1072.8 778.9h6v9.4h-6zM1083.8 778.9h6v9.4h-6zM1089.2 796.6h6v12.8h-6zM1692.6 670.5h5.9v5h-5.9zM1719.4 670.5h5.9v5h-5.9zM1730.2 670.5h5.9v5h-5.9zM1740.9 670.5h5.9v5h-5.9zM1800 670.5h5.9v5h-5.9zM1810.7 670.5h11.2v5h-11.2zM1837.6 670.5h5.9v5h-5.9zM1848.3 670.5h5.9v5h-5.9zM1859 670.5h5.9v5h-5.9zM1875.2 670.5h5.9v5h-5.9zM1477.8 692.7h5.9v4.9h-5.9zM1488.5 692.7h5.9v4.9h-5.9zM1499.2 692.7h5.9v4.9h-5.9zM1510 692.7h5.9v4.9h-5.9zM1606.7 692.7h5.9v4.9h-5.9zM1617.4 692.7h5.9v4.9h-5.9zM1644.2 692.7h5.9v4.9h-5.9zM1655 692.7h5.9v4.9h-5.9zM1671.1 701.5h5.9v4.9h-5.9zM1751.6 701.5h5.9v4.9h-5.9zM1805.3 701.5h5.9v4.9h-5.9zM1832.2 701.5h5.9v4.9h-5.9zM1880.5 701.5h5.9v4.9h-5.9zM1692.6 705.9h5.9v5h-5.9zM1703.3 705.9h5.9v5h-5.9zM1735.5 705.9h5.9v5h-5.9zM1757 705.9h5.9v5h-5.9zM1767.8 705.9h5.9v5h-5.9zM1848.3 705.9h5.9v5h-5.9zM1869.8 705.9h5.9v5h-5.9zM1735.5 710.4h5.9v4.9h-5.9zM1649.6 778.9h5.9v9.4h-5.9zM1816.1 778.9h5.9v9.4h-5.9zM1837.6 778.9h11.2v9.4h-11.2zM1649.6 787.8h5.9v9.3h-5.9zM1665.7 787.8h5.9v9.3h-5.9zM1649.6 796.6h5.9v12.8h-5.9z"/>
<path fill="#e9d539" d="M481 670.5h4.8v5h-4.8zM309 675h4.8v4.9h-4.8zM386.4 675h4.8v4.9h-4.8zM98.3 697.1h4.8v4.9h-4.8zM106.9 697.1h4.8v4.9h-4.8zM223 697.1h4.8v4.9h-4.8zM347.7 697.1h9.1v4.9h-9.1zM386.4 697.1h4.8v4.9h-4.8zM407.9 697.1h4.8v4.9h-4.8zM468.1 697.1h4.8v4.9h-4.8zM283.2 701.5h4.8v4.9h-4.8zM309 701.5h13.4v4.9h-13.4zM356.3 701.5h4.8v4.9h-4.8zM377.8 701.5h9.1v4.9h-9.1zM395 701.5h4.8v4.9h-4.8zM420.8 701.5h9.1v4.9h-9.1zM438 701.5h4.8v4.9h-4.8zM463.8 701.5h13.4v4.9h-13.4zM502.5 701.5h4.8v4.9h-4.8zM270.3 705.9h4.8v5h-4.8zM304.7 705.9h17.7v5h-17.7zM330.5 705.9h4.8v5h-4.8zM347.7 705.9h4.8v5h-4.8zM373.5 705.9h4.8v5h-4.8zM407.9 705.9h4.8v5h-4.8zM420.8 705.9h4.8v5h-4.8zM429.4 705.9h4.8v5h-4.8zM446.6 705.9h4.8v5h-4.8zM455.2 705.9h4.8v5h-4.8zM489.6 705.9h4.8v5h-4.8zM502.5 705.9h4.8v5h-4.8zM266 710.4h4.8v4.9h-4.8zM468.1 710.4h4.8v4.9h-4.8zM266 714.8h4.8v4.9h-4.8zM274.6 714.8h4.8v4.9h-4.8zM399.3 736.9h4.8v8.2h-4.8zM407.9 736.9h4.8v8.2h-4.8zM438 736.9h4.8v8.2h-4.8zM334.8 744.6h4.8v8.3h-4.8zM352 744.6h4.8v8.3h-4.8zM395 744.6h9.1v8.3h-9.1zM412.2 744.6h4.8v8.3h-4.8zM330.5 752.4h4.8v9.3h-4.8zM343.4 752.4h4.8v9.3h-4.8zM356.3 752.4h4.8v9.3h-4.8zM399.3 752.4h4.8v9.3h-4.8zM347.7 761.2h4.8v9.4h-4.8zM98.3 778.9h4.8v9.4h-4.8zM124.1 778.9h4.8v9.4h-4.8zM132.7 778.9h4.8v9.4h-4.8zM141.3 778.9h17.7v9.4h-17.7zM171.4 778.9h4.8v9.4h-4.8zM197.2 778.9h4.8v9.4h-4.8zM240.2 778.9h4.8v9.4h-4.8zM248.8 778.9h4.8v9.4h-4.8zM257.4 778.9h4.8v9.4h-4.8zM570.6 675h6.2v4.9h-6.2zM587.9 675h6.2v4.9h-6.2zM622.4 675h6.2v4.9h-6.2zM702.9 675h6.2v4.9h-6.2zM714.4 675h17.8v4.9h-17.8zM737.4 679.4h6.2v4.9h-6.2zM748.9 679.4h6.2v4.9h-6.2zM800.6 683.8h6.2v4.9h-6.2zM743.1 688.2h6.2v5h-6.2zM921.4 688.2h6.2v5h-6.2zM754.6 692.7h6.2v4.9h-6.2zM777.6 692.7h12v4.9h-12zM800.6 692.7h6.2v4.9h-6.2zM823.6 692.7h12v4.9h-12zM840.9 692.7h12v4.9h-12zM869.6 692.7h6.2v4.9h-6.2zM915.6 692.7h6.2v4.9h-6.2zM927.1 692.7h6.2v4.9h-6.2zM570.6 697.1h6.2v4.9h-6.2zM564.9 701.5h6.2v4.9h-6.2zM564.9 705.9h6.2v5h-6.2zM576.4 705.9h12v5h-12zM605.1 705.9h6.2v5h-6.2zM639.6 705.9h6.2v5h-6.2zM662.6 705.9h6.2v5h-6.2zM674.1 705.9h12v5h-12zM714.4 705.9h12v5h-12zM553.4 710.4h6.2v4.9h-6.2zM582.1 710.4h6.2v4.9h-6.2zM610.9 710.4h17.8v4.9h-17.8zM651.1 710.4h6.2v4.9h-6.2zM668.4 710.4h17.8v4.9h-17.8zM691.4 710.4h6.2v4.9h-6.2zM702.9 710.4h6.2v4.9h-6.2zM714.4 710.4h6.2v4.9h-6.2zM656.9 752.4h6.2v9.3h-6.2zM668.4 752.4h6.2v9.3h-6.2zM679.9 752.4h6.2v9.3h-6.2zM708.6 752.4h6.2v9.3h-6.2zM760.4 778.9h17.8v9.4h-17.8zM812.1 778.9h6.2v9.4h-6.2zM840.9 778.9h6.2v9.4h-6.2zM852.4 778.9h6.2v9.4h-6.2zM863.9 778.9h12v9.4h-12zM892.6 778.9h6.2v9.4h-6.2zM909.9 778.9h6.2v9.4h-6.2zM927.1 778.9h12v9.4h-12zM950.1 778.9h6.2v9.4h-6.2zM1018.4 697.1h5.9v4.9h-5.9zM1056.5 697.1h6v4.9h-6zM1067.4 697.1h5.9v4.9h-5.9zM1089.2 697.1h6v4.9h-6zM1100.1 697.1h11.4v4.9h-11.4zM1018.4 701.5h11.4v4.9h-11.4zM1045.6 701.5h11.4v4.9h-11.4zM1062 701.5h6v4.9h-6zM1078.3 701.5h6v4.9h-6zM1121.9 701.5h11.4v4.9h-11.4zM1100.1 710.4h6v4.9h-6zM1100.1 761.2h6v9.4h-6zM1127.3 761.2h16.9v9.4h-16.9zM1056.5 778.9h6v9.4h-6zM1018.4 787.8h5.9v9.3h-5.9zM1062 787.8h6v9.3h-6zM1864.4 670.5h5.9v5h-5.9zM1665.7 679.4h5.9v4.9h-5.9zM1665.7 688.2h5.9v5h-5.9zM1853.7 688.2h5.9v5h-5.9zM1660.4 692.7h5.9v4.9h-5.9zM1789.2 692.7h11.2v4.9h-11.2zM1885.9 692.7h4.1v4.9h-4.1zM1472.4 697.1h5.9v4.9h-5.9zM1504.6 697.1h5.9v4.9h-5.9zM1536.8 697.1h5.9v4.9h-5.9zM1547.6 697.1h5.9v4.9h-5.9zM1569.1 697.1h5.9v4.9h-5.9zM1595.9 697.1h11.2v4.9h-11.2zM1628.1 697.1h5.9v4.9h-5.9zM1681.8 697.1h5.9v4.9h-5.9zM1719.4 697.1h5.9v4.9h-5.9zM1757 697.1h11.2v4.9h-11.2zM1805.3 697.1h5.9v4.9h-5.9zM1816.1 697.1h5.9v4.9h-5.9zM1853.7 697.1h5.9v4.9h-5.9zM1880.5 697.1h5.9v4.9h-5.9zM1676.5 701.5h5.9v4.9h-5.9zM1687.2 701.5h5.9v4.9h-5.9zM1724.8 701.5h5.9v4.9h-5.9zM1746.3 701.5h5.9v4.9h-5.9zM1773.1 701.5h5.9v4.9h-5.9zM1875.2 701.5h5.9v4.9h-5.9zM1885.9 705.9h4.1v5h-4.1zM1660.4 714.8h5.9v4.9h-5.9zM1665.7 719.2h5.9v4.9h-5.9zM1660.4 723.6h5.9v5h-5.9zM1665.7 728.1h5.9v9.3h-5.9zM1665.7 761.2h5.9v9.4h-5.9zM1671.1 787.8h5.9v9.3h-5.9zM1644.2 796.6h5.9v12.8h-5.9zM1665.7 796.6h5.9v12.8h-5.9z"/>
<path fill="#88ff4e" d="M132.7 675h4.8v4.9h-4.8zM145.6 675h4.8v4.9h-4.8zM171.4 675h4.8v4.9h-4.8zM210.1 675h4.8v4.9h-4.8zM218.7 675h4.8v4.9h-4.8zM240.2 675h4.8v4.9h-4.8zM119.8 679.4h4.8v4.9h-4.8zM132.7 679.4h4.8v4.9h-4.8zM141.3 679.4h13.4v4.9h-13.4zM175.7 679.4h4.8v4.9h-4.8zM201.5 679.4h9.1v4.9h-9.1zM214.4 679.4h4.8v4.9h-4.8zM248.8 679.4h4.8v4.9h-4.8zM124.1 683.8h4.8v4.9h-4.8zM137 683.8h4.8v4.9h-4.8zM158.5 683.8h4.8v4.9h-4.8zM399.3 719.2h4.8v4.9h-4.8zM485.3 719.2h4.8v4.9h-4.8zM278.9 723.6h4.8v5h-4.8zM287.5 723.6h4.8v5h-4.8zM317.6 723.6h4.8v5h-4.8zM352 723.6h4.8v5h-4.8zM463.8 723.6h4.8v5h-4.8zM472.4 723.6h4.8v5h-4.8zM485.3 723.6h4.8v5h-4.8zM493.9 723.6h4.8v5h-4.8zM304.7 728.1h4.8v9.3h-4.8zM313.3 728.1h4.8v9.3h-4.8zM326.2 728.1h9.1v9.3h-9.1zM360.6 728.1h4.8v9.3h-4.8zM390.7 728.1h9.1v9.3h-9.1zM412.2 728.1h4.8v9.3h-4.8zM481 728.1h4.8v9.3h-4.8zM270.3 736.9h4.8v8.2h-4.8zM317.6 736.9h4.8v8.2h-4.8zM330.5 736.9h4.8v8.2h-4.8zM347.7 736.9h4.8v8.2h-4.8zM489.6 736.9h9.1v8.2h-9.1zM506.8 736.9h4.8v8.2h-4.8zM278.9 744.6h4.8v8.3h-4.8zM296.1 744.6h4.8v8.3h-4.8zM304.7 744.6h4.8v8.3h-4.8zM317.6 744.6h4.8v8.3h-4.8zM386.4 744.6h4.8v8.3h-4.8zM446.6 744.6h9.1v8.3h-9.1zM463.8 744.6h9.1v8.3h-9.1zM485.3 744.6h17.7v8.3h-17.7zM506.8 744.6h4.8v8.3h-4.8zM420.8 752.4h4.8v9.3h-4.8zM459.5 752.4h4.8v9.3h-4.8zM502.5 752.4h4.8v9.3h-4.8zM296.1 761.2h4.8v9.4h-4.8zM309 761.2h4.8v9.4h-4.8zM360.6 761.2h4.8v9.4h-4.8zM369.2 761.2h4.8v9.4h-4.8zM429.4 761.2h4.8v9.4h-4.8zM463.8 761.2h4.8v9.4h-4.8zM511.1 761.2h0.5v9.4h-0.5zM270.3 770.1h4.8v9.3h-4.8zM287.5 770.1h4.8v9.3h-4.8zM313.3 770.1h4.8v9.3h-4.8zM321.9 770.1h4.8v9.3h-4.8zM334.8 770.1h4.8v9.3h-4.8zM356.3 770.1h4.8v9.3h-4.8zM386.4 770.1h4.8v9.3h-4.8zM407.9 770.1h4.8v9.3h-4.8zM416.5 770.1h4.8v9.3h-4.8zM433.7 770.1h4.8v9.3h-4.8zM446.6 770.1h4.8v9.3h-4.8zM455.2 770.1h9.1v9.3h-9.1zM468.1 770.1h4.8v9.3h-4.8zM481 770.1h4.8v9.3h-4.8zM498.2 770.1h4.8v9.3h-4.8zM266 778.9h4.8v9.4h-4.8zM369.2 778.9h4.8v9.4h-4.8zM141.3 787.8h4.8v9.3h-4.8zM154.2 787.8h4.8v9.3h-4.8zM128.4 796.6h4.8v12.8h-4.8zM714.4 670.5h6.2v5h-6.2zM817.9 670.5h6.2v5h-6.2zM904.1 670.5h6.2v5h-6.2zM921.4 670.5h6.2v5h-6.2zM754.6 675h6.2v4.9h-6.2zM840.9 675h6.2v4.9h-6.2zM858.1 675h17.8v4.9h-17.8zM898.4 675h6.2v4.9h-6.2zM645.4 723.6h6.2v5h-6.2zM668.4 723.6h6.2v5h-6.2zM720.1 728.1h6.2v9.3h-6.2zM587.9 736.9h6.2v8.2h-6.2zM645.4 736.9h6.2v8.2h-6.2zM691.4 736.9h6.2v8.2h-6.2zM564.9 761.2h6.2v9.4h-6.2zM622.4 761.2h6.2v9.4h-6.2zM622.4 770.1h6.2v9.3h-6.2zM553.4 778.9h6.2v9.4h-6.2zM570.6 778.9h12v9.4h-12zM605.1 778.9h35v9.4h-35zM651.1 778.9h12v9.4h-12zM674.1 778.9h6.2v9.4h-6.2zM691.4 778.9h6.2v9.4h-6.2zM725.9 778.9h6.2v9.4h-6.2zM760.4 787.8h6.2v9.3h-6.2zM817.9 787.8h6.2v9.3h-6.2zM829.4 787.8h6.2v9.3h-6.2zM875.4 787.8h6.2v9.3h-6.2zM886.9 787.8h6.2v9.3h-6.2zM909.9 787.8h6.2v9.3h-6.2zM932.9 787.8h12v9.3h-12zM955.9 787.8h15.1v9.3h-15.1zM1181.8 675h11.4v4.9h-11.4zM1263.6 675h6v4.9h-6zM1214.5 679.4h16.9v4.9h-16.9zM1214.5 683.8h6v4.9h-6zM1269 683.8h6v4.9h-6zM1225.5 688.2h6v5h-6zM1307.2 688.2h6v5h-6zM1209.1 692.7h6v4.9h-6zM1220 692.7h16.8v4.9h-16.8zM1247.2 692.7h6v4.9h-6zM1258.2 692.7h5.9v4.9h-5.9zM1307.2 692.7h6v4.9h-6zM1318.1 692.7h6v4.9h-6zM1378 692.7h6v4.9h-6zM1399.8 692.7h6v4.9h-6zM1427.1 692.7h3.4v4.9h-3.4zM1034.7 714.8h6v4.9h-6zM1062 714.8h6v4.9h-6zM1083.8 714.8h6v4.9h-6zM1094.7 714.8h5.9v4.9h-5.9zM1116.5 714.8h6v4.9h-6zM1154.6 714.8h6v4.9h-6zM1012.9 719.2h6v4.9h-6zM1034.7 719.2h6v4.9h-6zM1089.2 719.2h6v4.9h-6zM1116.5 719.2h6v4.9h-6zM1132.8 719.2h6v4.9h-6zM1143.7 719.2h6v4.9h-6zM1072.8 723.6h6v5h-6zM1051 728.1h6v9.3h-6zM1116.5 728.1h6v9.3h-6zM1127.3 728.1h6v9.3h-6zM1012.9 744.6h6v8.3h-6zM1045.6 744.6h6v8.3h-6zM1105.5 744.6h16.9v8.3h-16.9zM1132.8 744.6h6v8.3h-6zM1040.2 752.4h5.9v9.3h-5.9zM1067.4 752.4h5.9v9.3h-5.9zM1078.3 752.4h6v9.3h-6zM1089.2 752.4h6v9.3h-6zM1100.1 752.4h6v9.3h-6zM1121.9 752.4h5.9v9.3h-5.9zM1132.8 752.4h11.4v9.3h-11.4zM1154.6 752.4h6v9.3h-6zM1018.4 761.2h5.9v9.4h-5.9zM1062 761.2h6v9.4h-6zM1023.8 770.1h6v9.3h-6zM1045.6 770.1h6v9.3h-6zM1149.2 778.9h5.9v9.4h-5.9zM1143.7 787.8h6v9.3h-6zM1062 796.6h6v12.8h-6zM1072.8 796.6h6v12.8h-6zM1094.7 796.6h5.9v12.8h-5.9zM1612 670.5h5.9v5h-5.9zM1579.8 675h5.9v4.9h-5.9zM1601.3 675h5.9v4.9h-5.9zM1628.1 675h11.2v4.9h-11.2zM1595.9 679.4h5.9v4.9h-5.9zM1617.4 679.4h5.9v4.9h-5.9zM1633.5 679.4h5.9v4.9h-5.9zM1655 679.4h5.9v4.9h-5.9zM1520.7 683.8h5.9v4.9h-5.9zM1601.3 683.8h5.9v4.9h-5.9zM1633.5 683.8h5.9v4.9h-5.9zM1655 683.8h5.9v4.9h-5.9zM1553 688.2h5.9v5h-5.9zM1585.2 688.2h11.2v5h-11.2zM1601.3 688.2h5.9v5h-5.9zM1617.4 688.2h5.9v5h-5.9zM1730.2 710.4h5.9v4.9h-5.9zM1708.7 714.8h5.9v4.9h-5.9zM1724.8 714.8h5.9v4.9h-5.9zM1735.5 714.8h11.2v4.9h-11.2zM1794.6 714.8h5.9v4.9h-5.9zM1810.7 714.8h5.9v4.9h-5.9zM1832.2 714.8h5.9v4.9h-5.9zM1853.7 714.8h11.2v4.9h-11.2zM1869.8 714.8h5.9v4.9h-5.9zM1671.1 719.2h5.9v4.9h-5.9zM1687.2 719.2h5.9v4.9h-5.9zM1746.3 719.2h5.9v4.9h-5.9zM1767.8 719.2h5.9v4.9h-5.9zM1821.5 719.2h5.9v4.9h-5.9zM1773.1 723.6h5.9v5h-5.9zM1853.7 723.6h5.9v5h-5.9zM1714.1 736.9h5.9v8.2h-5.9zM1671.1 752.4h5.9v9.3h-5.9zM1816.1 761.2h5.9v9.4h-5.9zM1842.9 761.2h11.2v9.4h-11.2zM1837.6 787.8h5.9v9.3h-5.9zM1816.1 796.6h5.9v12.8h-5.9zM1826.8 796.6h5.9v12.8h-5.9zM1837.6 796.6h16.6v12.8h-16.6z"/>
<path fill="#a4fc3c" d="M154.2 675h4.8v4.9h-4.8zM175.7 675h4.8v4.9h-4.8zM257.4 675h4.8v4.9h-4.8zM244.5 679.4h4.8v4.9h-4.8zM253.1 679.4h4.8v4.9h-4.8zM111.2 683.8h4.8v4.9h-4.8zM119.8 683.8h4.8v4.9h-4.8zM149.9 683.8h4.8v4.9h-4.8zM167.1 683.8h4.8v4.9h-4.8zM180 683.8h4.8v4.9h-4.8zM197.2 683.8h9.1v4.9h-9.1zM210.1 683.8h4.8v4.9h-4.8zM218.7 683.8h4.8v4.9h-4.8zM235.9 683.8h4.8v4.9h-4.8zM248.8 683.8h4.8v4.9h-4.8zM210.1 688.2h4.8v5h-4.8zM218.7 688.2h4.8v5h-4.8zM227.3 688.2h9.1v5h-9.1zM244.5 688.2h4.8v5h-4.8zM403.6 714.8h4.8v4.9h-4.8zM442.3 714.8h4.8v4.9h-4.8zM450.9 714.8h4.8v4.9h-4.8zM287.5 719.2h4.8v4.9h-4.8zM438 719.2h4.8v4.9h-4.8zM459.5 719.2h4.8v4.9h-4.8zM472.4 719.2h4.8v4.9h-4.8zM493.9 719.2h4.8v4.9h-4.8zM502.5 719.2h4.8v4.9h-4.8zM270.3 723.6h9.1v5h-9.1zM291.8 723.6h9.1v5h-9.1zM309 723.6h4.8v5h-4.8zM339.1 723.6h4.8v5h-4.8zM360.6 723.6h4.8v5h-4.8zM377.8 723.6h9.1v5h-9.1zM395 723.6h4.8v5h-4.8zM403.6 723.6h4.8v5h-4.8zM412.2 723.6h4.8v5h-4.8zM425.1 723.6h4.8v5h-4.8zM455.2 723.6h9.1v5h-9.1zM468.1 723.6h4.8v5h-4.8zM498.2 723.6h4.8v5h-4.8zM511.1 723.6h0.5v5h-0.5zM450.9 728.1h4.8v9.3h-4.8zM459.5 728.1h4.8v9.3h-4.8zM485.3 728.1h4.8v9.3h-4.8zM339.1 736.9h4.8v8.2h-4.8zM291.8 744.6h4.8v8.3h-4.8zM300.4 744.6h4.8v8.3h-4.8zM455.2 744.6h4.8v8.3h-4.8zM270.3 752.4h4.8v9.3h-4.8zM283.2 752.4h4.8v9.3h-4.8zM291.8 752.4h4.8v9.3h-4.8zM304.7 752.4h9.1v9.3h-9.1zM360.6 752.4h4.8v9.3h-4.8zM455.2 752.4h4.8v9.3h-4.8zM476.7 752.4h4.8v9.3h-4.8zM485.3 752.4h4.8v9.3h-4.8zM493.9 752.4h4.8v9.3h-4.8zM278.9 761.2h4.8v9.4h-4.8zM321.9 761.2h9.1v9.4h-9.1zM364.9 761.2h4.8v9.4h-4.8zM373.5 761.2h4.8v9.4h-4.8zM386.4 761.2h4.8v9.4h-4.8zM433.7 761.2h4.8v9.4h-4.8zM450.9 761.2h4.8v9.4h-4.8zM476.7 761.2h9.1v9.4h-9.1zM506.8 761.2h4.8v9.4h-4.8zM317.6 770.1h4.8v9.3h-4.8zM360.6 770.1h4.8v9.3h-4.8zM373.5 770.1h4.8v9.3h-4.8zM420.8 770.1h4.8v9.3h-4.8zM115.5 787.8h4.8v9.3h-4.8zM124.1 787.8h9.1v9.3h-9.1zM197.2 787.8h4.8v9.3h-4.8zM210.1 787.8h4.8v9.3h-4.8zM240.2 787.8h9.1v9.3h-9.1zM576.4 670.5h6.2v5h-6.2zM731.6 675h6.2v4.9h-6.2zM794.9 675h6.2v4.9h-6.2zM835.1 675h6.2v4.9h-6.2zM852.4 675h6.2v4.9h-6.2zM881.1 675h6.2v4.9h-6.2zM921.4 675h6.2v4.9h-6.2zM766.1 679.4h6.2v4.9h-6.2zM852.4 679.4h6.2v4.9h-6.2zM875.4 679.4h6.2v4.9h-6.2zM915.6 679.4h6.2v4.9h-6.2zM553.4 723.6h6.2v5h-6.2zM576.4 723.6h6.2v5h-6.2zM587.9 723.6h6.2v5h-6.2zM599.4 723.6h6.2v5h-6.2zM628.1 723.6h6.2v5h-6.2zM674.1 723.6h6.2v5h-6.2zM685.6 723.6h6.2v5h-6.2zM697.1 723.6h6.2v5h-6.2zM708.6 723.6h12v5h-12zM645.4 752.4h6.2v9.3h-6.2zM559.1 761.2h6.2v9.4h-6.2zM639.6 761.2h6.2v9.4h-6.2zM564.9 770.1h6.2v9.3h-6.2zM610.9 770.1h6.2v9.3h-6.2zM628.1 770.1h6.2v9.3h-6.2zM645.4 778.9h6.2v9.4h-6.2zM662.6 778.9h12v9.4h-12zM743.1 778.9h6.2v9.4h-6.2zM840.9 787.8h17.8v9.3h-17.8zM869.6 787.8h6.2v9.3h-6.2zM904.1 787.8h6.2v9.3h-6.2zM1236.3 675h6v4.9h-6zM1181.8 679.4h6v4.9h-6zM1181.8 683.8h6v4.9h-6zM1165.5 692.7h6v4.9h-6zM1187.3 692.7h6v4.9h-6zM1198.2 692.7h6v4.9h-6zM1236.3 692.7h6v4.9h-6zM1263.6 692.7h11.4v4.9h-11.4zM1290.8 692.7h6v4.9h-6zM1312.7 692.7h5.9v4.9h-5.9zM1329 692.7h6v4.9h-6zM1361.7 692.7h6v4.9h-6zM1383.5 692.7h6v4.9h-6zM1056.5 705.9h6v5h-6zM1078.3 705.9h6v5h-6zM1116.5 705.9h6v5h-6zM1121.9 710.4h5.9v4.9h-5.9zM1154.6 710.4h6v4.9h-6zM1029.2 714.8h6v4.9h-6zM1100.1 719.2h6v4.9h-6zM1018.4 744.6h5.9v8.3h-5.9zM1034.7 744.6h6v8.3h-6zM1056.5 744.6h6v8.3h-6zM1089.2 744.6h6v8.3h-6zM1012.9 752.4h6v9.3h-6zM1034.7 752.4h6v9.3h-6zM1105.5 752.4h6v9.3h-6zM1149.2 752.4h5.9v9.3h-5.9zM1012.9 761.2h6v9.4h-6zM1029.2 770.1h6v9.3h-6zM1111 778.9h6v9.4h-6zM1132.8 778.9h6v9.4h-6zM1018.4 796.6h5.9v12.8h-5.9zM1665.7 670.5h5.9v5h-5.9zM1622.8 683.8h5.9v4.9h-5.9zM1644.2 688.2h16.6v5h-16.6zM1531.5 692.7h5.9v4.9h-5.9zM1864.4 705.9h5.9v5h-5.9zM1714.1 710.4h5.9v4.9h-5.9zM1762.4 710.4h5.9v4.9h-5.9zM1778.5 710.4h5.9v4.9h-5.9zM1794.6 710.4h5.9v4.9h-5.9zM1816.1 710.4h5.9v4.9h-5.9zM1826.8 710.4h5.9v4.9h-5.9zM1853.7 710.4h5.9v4.9h-5.9zM1869.8 710.4h20.2v4.9h-20.2zM1681.8 714.8h5.9v4.9h-5.9zM1751.6 714.8h5.9v4.9h-5.9zM1762.4 714.8h5.9v4.9h-5.9zM1821.5 714.8h5.9v4.9h-5.9zM1885.9 714.8h4.1v4.9h-4.1zM1832.2 770.1h5.9v9.3h-5.9zM1821.5 778.9h5.9v9.4h-5.9zM1816.1 787.8h16.6v9.3h-16.6z"/>
<path fill="#f1cb3a" d="M266 675h4.8v4.9h-4.8zM274.6 675h22v4.9h-22zM330.5 675h9.1v4.9h-9.1zM356.3 675h4.8v4.9h-4.8zM395 675h4.8v4.9h-4.8zM438 675h4.8v4.9h-4.8zM455.2 675h4.8v4.9h-4.8zM463.8 675h9.1v4.9h-9.1zM476.7 675h4.8v4.9h-4.8zM485.3 675h13.4v4.9h-13.4zM506.8 675h4.8v4.9h-4.8zM261.7 683.8h4.8v4.9h-4.8zM489.6 692.7h4.8v4.9h-4.8zM124.1 697.1h4.8v4.9h-4.8zM149.9 697.1h4.8v4.9h-4.8zM162.8 697.1h4.8v4.9h-4.8zM175.7 697.1h4.8v4.9h-4.8zM218.7 697.1h4.8v4.9h-4.8zM231.6 697.1h4.8v4.9h-4.8zM240.2 697.1h4.8v4.9h-4.8zM248.8 697.1h4.8v4.9h-4.8zM257.4 697.1h4.8v4.9h-4.8zM274.6 697.1h4.8v4.9h-4.8zM317.6 697.1h4.8v4.9h-4.8zM334.8 697.1h4.8v4.9h-4.8zM356.3 697.1h4.8v4.9h-4.8zM399.3 697.1h4.8v4.9h-4.8zM420.8 697.1h9.1v4.9h-9.1zM433.7 697.1h4.8v4.9h-4.8zM442.3 697.1h4.8v4.9h-4.8zM459.5 697.1h4.8v4.9h-4.8zM485.3 697.1h4.8v4.9h-4.8zM498.2 697.1h4.8v4.9h-4.8zM270.3 701.5h4.8v4.9h-4.8zM278.9 701.5h4.8v4.9h-4.8zM300.4 701.5h4.8v4.9h-4.8zM330.5 701.5h4.8v4.9h-4.8zM352 701.5h4.8v4.9h-4.8zM373.5 701.5h4.8v4.9h-4.8zM403.6 701.5h4.8v4.9h-4.8zM416.5 701.5h4.8v4.9h-4.8zM442.3 701.5h4.8v4.9h-4.8zM450.9 701.5h4.8v4.9h-4.8zM334.8 705.9h4.8v5h-4.8zM352 705.9h4.8v5h-4.8zM425.1 705.9h4.8v5h-4.8zM472.4 705.9h4.8v5h-4.8zM485.3 714.8h4.8v4.9h-4.8zM390.7 736.9h4.8v8.2h-4.8zM403.6 736.9h4.8v8.2h-4.8zM330.5 744.6h4.8v8.3h-4.8zM339.1 744.6h4.8v8.3h-4.8zM356.3 744.6h4.8v8.3h-4.8zM416.5 744.6h4.8v8.3h-4.8zM395 752.4h4.8v9.3h-4.8zM330.5 761.2h4.8v9.4h-4.8zM416.5 761.2h4.8v9.4h-4.8zM94 778.9h4.8v9.4h-4.8zM102.6 778.9h4.8v9.4h-4.8zM111.2 778.9h4.8v9.4h-4.8zM128.4 778.9h4.8v9.4h-4.8zM158.5 778.9h9.1v9.4h-9.1zM175.7 778.9h13.4v9.4h-13.4zM201.5 778.9h4.8v9.4h-4.8zM210.1 778.9h4.8v9.4h-4.8zM218.7 778.9h9.1v9.4h-9.1zM244.5 778.9h4.8v9.4h-4.8zM253.1 778.9h4.8v9.4h-4.8zM628.1 675h6.2v4.9h-6.2zM645.4 675h6.2v4.9h-6.2zM674.1 675h6.2v4.9h-6.2zM743.1 679.4h6.2v4.9h-6.2zM731.6 683.8h12v4.9h-12zM731.6 688.2h12v5h-12zM777.6 688.2h6.2v5h-6.2zM950.1 688.2h6.2v5h-6.2zM760.4 692.7h12v4.9h-12zM789.1 692.7h6.2v4.9h-6.2zM812.1 692.7h12v4.9h-12zM875.4 692.7h6.2v4.9h-6.2zM892.6 692.7h12v4.9h-12zM921.4 692.7h6.2v4.9h-6.2zM944.4 692.7h12v4.9h-12zM967.4 692.7h3.6v4.9h-3.6zM628.1 697.1h6.2v4.9h-6.2zM553.4 701.5h6.2v4.9h-6.2zM587.9 701.5h6.2v4.9h-6.2zM668.4 701.5h6.2v4.9h-6.2zM714.4 701.5h12v4.9h-12zM593.6 705.9h6.2v5h-6.2zM610.9 705.9h6.2v5h-6.2zM702.9 705.9h6.2v5h-6.2zM725.9 705.9h6.2v5h-6.2zM639.6 710.4h6.2v4.9h-6.2zM656.9 710.4h6.2v4.9h-6.2zM685.6 710.4h6.2v4.9h-6.2zM725.9 710.4h6.2v4.9h-6.2zM656.9 761.2h6.2v9.4h-6.2zM691.4 761.2h6.2v9.4h-6.2zM720.1 761.2h6.2v9.4h-6.2zM743.1 770.1h6.2v9.3h-6.2zM817.9 778.9h6.2v9.4h-6.2zM829.4 778.9h12v9.4h-12zM881.1 778.9h12v9.4h-12zM898.4 778.9h12v9.4h-12zM944.4 778.9h6.2v9.4h-6.2zM955.9 778.9h12v9.4h-12zM1012.9 697.1h6v4.9h-6zM1023.8 697.1h11.4v4.9h-11.4zM1040.2 697.1h5.9v4.9h-5.9zM1051 697.1h6v4.9h-6zM1072.8 697.1h6v4.9h-6zM1083.8 697.1h6v4.9h-6zM1094.7 697.1h5.9v4.9h-5.9zM1116.5 697.1h6v4.9h-6zM1127.3 697.1h16.9v4.9h-16.9zM1034.7 701.5h6v4.9h-6zM1067.4 701.5h5.9v4.9h-5.9zM1083.8 701.5h6v4.9h-6zM1094.7 701.5h11.4v4.9h-11.4zM1111 701.5h6v4.9h-6zM1160 701.5h6v4.9h-6zM1176.4 701.5h5.9v4.9h-5.9zM1089.2 761.2h6v9.4h-6zM1121.9 761.2h5.9v9.4h-5.9zM1143.7 761.2h16.8v9.4h-16.8zM1100.1 770.1h6v9.3h-6zM1121.9 770.1h5.9v9.3h-5.9zM1132.8 770.1h6v9.3h-6zM1143.7 770.1h6v9.3h-6zM1012.9 778.9h6v9.4h-6zM1062 778.9h6v9.4h-6zM1012.9 787.8h6v9.3h-6zM1034.7 787.8h6v9.3h-6zM1160 796.6h6v12.8h-6zM1880.5 688.2h5.9v5h-5.9zM1735.5 692.7h5.9v4.9h-5.9zM1762.4 692.7h5.9v4.9h-5.9zM1821.5 692.7h11.2v4.9h-11.2zM1880.5 692.7h5.9v4.9h-5.9zM1526.1 697.1h5.9v4.9h-5.9zM1542.2 697.1h5.9v4.9h-5.9zM1553 697.1h11.2v4.9h-11.2zM1579.8 697.1h5.9v4.9h-5.9zM1612 697.1h5.9v4.9h-5.9zM1622.8 697.1h5.9v4.9h-5.9zM1633.5 697.1h5.9v4.9h-5.9zM1644.2 697.1h11.2v4.9h-11.2zM1660.4 697.1h5.9v4.9h-5.9zM1676.5 697.1h5.9v4.9h-5.9zM1687.2 697.1h32.7v4.9h-32.7zM1724.8 697.1h5.9v4.9h-5.9zM1735.5 697.1h16.6v4.9h-16.6zM1778.5 697.1h5.9v4.9h-5.9zM1789.2 697.1h5.9v4.9h-5.9zM1800 697.1h5.9v4.9h-5.9zM1832.2 697.1h5.9v4.9h-5.9zM1859 697.1h11.2v4.9h-11.2zM1697.9 701.5h5.9v4.9h-5.9zM1708.7 701.5h5.9v4.9h-5.9zM1719.4 701.5h5.9v4.9h-5.9zM1740.9 701.5h5.9v4.9h-5.9zM1665.7 723.6h5.9v5h-5.9zM1660.4 728.1h5.9v9.3h-5.9zM1660.4 744.6h5.9v8.3h-5.9zM1660.4 752.4h5.9v9.3h-5.9zM1665.7 770.1h5.9v9.3h-5.9zM1864.4 770.1h5.9v9.3h-5.9z"/>
<path fill="#f6c33a" d="M270.3 675h4.8v4.9h-4.8zM296.1 675h13.4v4.9h-13.4zM313.3 675h9.1v4.9h-9.1zM360.6 675h9.1v4.9h-9.1zM377.8 675h9.1v4.9h-9.1zM390.7 675h4.8v4.9h-4.8zM399.3 675h9.1v4.9h-9.1zM416.5 675h22v4.9h-22zM442.3 675h9.1v4.9h-9.1zM472.4 675h4.8v4.9h-4.8zM481 675h4.8v4.9h-4.8zM502.5 675h4.8v4.9h-4.8zM511.1 675h0.5v4.9h-0.5zM261.7 688.2h4.8v5h-4.8zM261.7 692.7h4.8v4.9h-4.8zM309 692.7h4.8v4.9h-4.8zM321.9 692.7h4.8v4.9h-4.8zM399.3 692.7h4.8v4.9h-4.8zM416.5 692.7h9.1v4.9h-9.1zM433.7 692.7h4.8v4.9h-4.8zM459.5 692.7h4.8v4.9h-4.8zM468.1 692.7h4.8v4.9h-4.8zM476.7 692.7h4.8v4.9h-4.8zM511.1 692.7h0.5v4.9h-0.5zM94 697.1h4.8v4.9h-4.8zM115.5 697.1h4.8v4.9h-4.8zM132.7 697.1h9.1v4.9h-9.1zM158.5 697.1h4.8v4.9h-4.8zM184.3 697.1h9.1v4.9h-9.1zM197.2 697.1h9.1v4.9h-9.1zM235.9 697.1h4.8v4.9h-4.8zM244.5 697.1h4.8v4.9h-4.8zM261.7 697.1h9.1v4.9h-9.1zM278.9 697.1h9.1v4.9h-9.1zM291.8 697.1h26.3v4.9h-26.3zM321.9 697.1h9.1v4.9h-9.1zM339.1 697.1h4.8v4.9h-4.8zM360.6 697.1h4.8v4.9h-4.8zM369.2 697.1h4.8v4.9h-4.8zM377.8 697.1h4.8v4.9h-4.8zM395 697.1h4.8v4.9h-4.8zM450.9 697.1h9.1v4.9h-9.1zM463.8 697.1h4.8v4.9h-4.8zM472.4 697.1h9.1v4.9h-9.1zM493.9 697.1h4.8v4.9h-4.8zM511.1 697.1h0.5v4.9h-0.5zM266 701.5h4.8v4.9h-4.8zM296.1 701.5h4.8v4.9h-4.8zM266 705.9h4.8v5h-4.8zM321.9 705.9h4.8v5h-4.8zM416.5 736.9h4.8v8.2h-4.8zM407.9 744.6h4.8v8.3h-4.8zM339.1 752.4h4.8v9.3h-4.8zM347.7 752.4h4.8v9.3h-4.8zM412.2 752.4h4.8v9.3h-4.8zM334.8 761.2h4.8v9.4h-4.8zM352 761.2h9.1v9.4h-9.1zM395 761.2h4.8v9.4h-4.8zM106.9 778.9h4.8v9.4h-4.8zM115.5 778.9h9.1v9.4h-9.1zM137 778.9h4.8v9.4h-4.8zM192.9 778.9h4.8v9.4h-4.8zM205.8 778.9h4.8v9.4h-4.8zM235.9 778.9h4.8v9.4h-4.8zM582.1 675h6.2v4.9h-6.2zM605.1 675h12v4.9h-12zM697.1 675h6.2v4.9h-6.2zM731.6 692.7h6.2v4.9h-6.2zM794.9 692.7h6.2v4.9h-6.2zM835.1 692.7h6.2v4.9h-6.2zM852.4 692.7h12v4.9h-12zM881.1 692.7h6.2v4.9h-6.2zM904.1 692.7h12v4.9h-12zM662.6 697.1h6.2v4.9h-6.2zM679.9 697.1h6.2v4.9h-6.2zM697.1 697.1h12v4.9h-12zM714.4 697.1h6.2v4.9h-6.2zM576.4 701.5h12v4.9h-12zM599.4 701.5h12v4.9h-12zM616.6 701.5h12v4.9h-12zM639.6 701.5h17.8v4.9h-17.8zM674.1 701.5h12v4.9h-12zM697.1 701.5h12v4.9h-12zM725.9 701.5h6.2v4.9h-6.2zM691.4 705.9h6.2v5h-6.2zM714.4 761.2h6.2v9.4h-6.2zM725.9 761.2h6.2v9.4h-6.2zM748.9 770.1h6.2v9.3h-6.2zM823.6 778.9h6.2v9.4h-6.2zM1089.2 692.7h6v4.9h-6zM1034.7 697.1h6v4.9h-6zM1045.6 697.1h6v4.9h-6zM1062 697.1h6v4.9h-6zM1029.2 701.5h6v4.9h-6zM1165.5 701.5h6v4.9h-6zM1181.8 701.5h6v4.9h-6zM1192.8 701.5h6v4.9h-6zM1280 701.5h6v4.9h-6zM1290.8 701.5h6v4.9h-6zM1318.1 701.5h6v4.9h-6zM1329 701.5h11.4v4.9h-11.4zM1378 701.5h11.4v4.9h-11.4zM1405.3 701.5h6v4.9h-6zM1089.2 770.1h6v9.3h-6zM1105.5 770.1h11.4v9.3h-11.4zM1127.3 770.1h6v9.3h-6zM1138.2 770.1h6v9.3h-6zM1154.6 770.1h6v9.3h-6zM1018.4 778.9h5.9v9.4h-5.9zM1029.2 778.9h6v9.4h-6zM1040.2 778.9h5.9v9.4h-5.9zM1029.2 787.8h6v9.3h-6zM1040.2 787.8h5.9v9.3h-5.9zM1056.5 787.8h6v9.3h-6zM1714.1 679.4h5.9v4.9h-5.9zM1671.1 688.2h5.9v5h-5.9zM1681.8 688.2h5.9v5h-5.9zM1783.9 688.2h5.9v5h-5.9zM1794.6 688.2h11.2v5h-11.2zM1816.1 688.2h5.9v5h-5.9zM1832.2 688.2h5.9v5h-5.9zM1671.1 692.7h5.9v4.9h-5.9zM1681.8 692.7h5.9v4.9h-5.9zM1692.6 692.7h5.9v4.9h-5.9zM1703.3 692.7h5.9v4.9h-5.9zM1714.1 692.7h5.9v4.9h-5.9zM1740.9 692.7h5.9v4.9h-5.9zM1751.6 692.7h11.2v4.9h-11.2zM1767.8 692.7h5.9v4.9h-5.9zM1783.9 692.7h5.9v4.9h-5.9zM1800 692.7h5.9v4.9h-5.9zM1816.1 692.7h5.9v4.9h-5.9zM1832.2 692.7h11.2v4.9h-11.2zM1848.3 692.7h5.9v4.9h-5.9zM1859 692.7h5.9v4.9h-5.9zM1477.8 697.1h22v4.9h-22zM1520.7 697.1h5.9v4.9h-5.9zM1531.5 697.1h5.9v4.9h-5.9zM1574.4 697.1h5.9v4.9h-5.9zM1590.5 697.1h5.9v4.9h-5.9zM1606.7 697.1h5.9v4.9h-5.9zM1617.4 697.1h5.9v4.9h-5.9zM1638.9 697.1h5.9v4.9h-5.9zM1655 697.1h5.9v4.9h-5.9zM1665.7 697.1h5.9v4.9h-5.9zM1730.2 697.1h5.9v4.9h-5.9zM1767.8 697.1h11.2v4.9h-11.2zM1794.6 697.1h5.9v4.9h-5.9zM1826.8 697.1h5.9v4.9h-5.9zM1842.9 697.1h11.2v4.9h-11.2zM1885.9 697.1h4.1v4.9h-4.1zM1660.4 701.5h11.2v4.9h-11.2zM1660.4 705.9h11.2v5h-11.2zM1660.4 710.4h5.9v4.9h-5.9zM1665.7 714.8h5.9v4.9h-5.9zM1660.4 736.9h5.9v8.2h-5.9zM1853.7 761.2h5.9v9.4h-5.9zM1660.4 770.1h5.9v9.3h-5.9zM1660.4 778.9h11.2v9.4h-11.2zM1853.7 778.9h5.9v9.4h-5.9z"/>
<path fill="#faba39" d="M321.9 675h9.1v4.9h-9.1zM343.4 675h4.8v4.9h-4.8zM369.2 675h9.1v4.9h-9.1zM407.9 675h9.1v4.9h-9.1zM450.9 675h4.8v4.9h-4.8zM459.5 675h4.8v4.9h-4.8zM498.2 675h4.8v4.9h-4.8zM266 688.2h4.8v5h-4.8zM407.9 688.2h4.8v5h-4.8zM266 692.7h9.1v4.9h-9.1zM278.9 692.7h13.4v4.9h-13.4zM313.3 692.7h4.8v4.9h-4.8zM326.2 692.7h4.8v4.9h-4.8zM347.7 692.7h4.8v4.9h-4.8zM356.3 692.7h4.8v4.9h-4.8zM369.2 692.7h13.4v4.9h-13.4zM403.6 692.7h4.8v4.9h-4.8zM412.2 692.7h4.8v4.9h-4.8zM425.1 692.7h9.1v4.9h-9.1zM446.6 692.7h4.8v4.9h-4.8zM463.8 692.7h4.8v4.9h-4.8zM502.5 692.7h4.8v4.9h-4.8zM102.6 697.1h4.8v4.9h-4.8zM128.4 697.1h4.8v4.9h-4.8zM141.3 697.1h4.8v4.9h-4.8zM154.2 697.1h4.8v4.9h-4.8zM210.1 697.1h9.1v4.9h-9.1zM227.3 697.1h4.8v4.9h-4.8zM270.3 697.1h4.8v4.9h-4.8zM287.5 697.1h4.8v4.9h-4.8zM373.5 697.1h4.8v4.9h-4.8zM390.7 697.1h4.8v4.9h-4.8zM403.6 697.1h4.8v4.9h-4.8zM412.2 697.1h4.8v4.9h-4.8zM429.4 697.1h4.8v4.9h-4.8zM438 697.1h4.8v4.9h-4.8zM446.6 697.1h4.8v4.9h-4.8zM481 697.1h4.8v4.9h-4.8zM502.5 697.1h4.8v4.9h-4.8zM352 752.4h4.8v9.3h-4.8zM407.9 752.4h4.8v9.3h-4.8zM416.5 752.4h4.8v9.3h-4.8zM407.9 761.2h4.8v9.4h-4.8zM188.6 778.9h4.8v9.4h-4.8zM227.3 778.9h4.8v9.4h-4.8zM748.9 688.2h6.2v5h-6.2zM743.1 692.7h12v4.9h-12zM806.4 692.7h6.2v4.9h-6.2zM886.9 692.7h6.2v4.9h-6.2zM559.1 697.1h6.2v4.9h-6.2zM582.1 697.1h6.2v4.9h-6.2zM593.6 697.1h17.8v4.9h-17.8zM616.6 697.1h12v4.9h-12zM633.9 697.1h12v4.9h-12zM651.1 697.1h12v4.9h-12zM674.1 697.1h6.2v4.9h-6.2zM725.9 697.1h6.2v4.9h-6.2zM737.4 697.1h6.2v4.9h-6.2zM559.1 701.5h6.2v4.9h-6.2zM593.6 701.5h6.2v4.9h-6.2zM610.9 701.5h6.2v4.9h-6.2zM628.1 701.5h12v4.9h-12zM656.9 701.5h6.2v4.9h-6.2zM685.6 701.5h6.2v4.9h-6.2zM708.6 701.5h6.2v4.9h-6.2zM674.1 770.1h6.2v9.3h-6.2zM702.9 770.1h6.2v9.3h-6.2zM731.6 770.1h12v9.3h-12zM1094.7 675h5.9v4.9h-5.9zM1111 675h6v4.9h-6zM1034.7 679.4h6v4.9h-6zM1067.4 679.4h5.9v4.9h-5.9zM1143.7 679.4h6v4.9h-6zM1056.5 688.2h6v5h-6zM1111 688.2h6v5h-6zM1078.3 692.7h6v4.9h-6zM1100.1 692.7h6v4.9h-6zM1116.5 692.7h6v4.9h-6zM1078.3 697.1h6v4.9h-6zM1143.7 697.1h6v4.9h-6zM1187.3 701.5h6v4.9h-6zM1203.7 701.5h5.9v4.9h-5.9zM1214.5 701.5h6v4.9h-6zM1225.5 701.5h6v4.9h-6zM1241.8 701.5h11.4v4.9h-11.4zM1258.2 701.5h5.9v4.9h-5.9zM1269 701.5h11.4v4.9h-11.4zM1285.4 701.5h5.9v4.9h-5.9zM1296.3 701.5h6v4.9h-6zM1307.2 701.5h11.4v4.9h-11.4zM1323.5 701.5h6v4.9h-6zM1350.8 701.5h6v4.9h-6zM1367.2 701.5h11.4v4.9h-11.4zM1399.8 701.5h6v4.9h-6zM1094.7 761.2h5.9v9.4h-5.9zM1116.5 770.1h6v9.3h-6zM1149.2 770.1h5.9v9.3h-5.9zM1023.8 778.9h6v9.4h-6zM1034.7 778.9h6v9.4h-6zM1045.6 778.9h11.4v9.4h-11.4zM1023.8 787.8h6v9.3h-6zM1045.6 787.8h11.4v9.3h-11.4zM1681.8 675h5.9v4.9h-5.9zM1697.9 675h5.9v4.9h-5.9zM1730.2 675h5.9v4.9h-5.9zM1773.1 675h5.9v4.9h-5.9zM1789.2 675h5.9v4.9h-5.9zM1805.3 675h5.9v4.9h-5.9zM1853.7 675h5.9v4.9h-5.9zM1875.2 675h5.9v4.9h-5.9zM1816.1 679.4h5.9v4.9h-5.9zM1837.6 679.4h5.9v4.9h-5.9zM1859 679.4h5.9v4.9h-5.9zM1859 683.8h5.9v4.9h-5.9zM1724.8 688.2h5.9v5h-5.9zM1740.9 688.2h5.9v5h-5.9zM1751.6 688.2h5.9v5h-5.9zM1762.4 688.2h11.2v5h-11.2zM1778.5 688.2h5.9v5h-5.9zM1789.2 688.2h5.9v5h-5.9zM1842.9 688.2h5.9v5h-5.9zM1864.4 688.2h5.9v5h-5.9zM1885.9 688.2h4.1v5h-4.1zM1676.5 692.7h5.9v4.9h-5.9zM1687.2 692.7h5.9v4.9h-5.9zM1697.9 692.7h5.9v4.9h-5.9zM1708.7 692.7h5.9v4.9h-5.9zM1724.8 692.7h11.2v4.9h-11.2zM1773.1 692.7h5.9v4.9h-5.9zM1805.3 692.7h11.2v4.9h-11.2zM1842.9 692.7h5.9v4.9h-5.9zM1864.4 692.7h16.6v4.9h-16.6zM1499.2 697.1h5.9v4.9h-5.9zM1563.7 697.1h5.9v4.9h-5.9zM1585.2 697.1h5.9v4.9h-5.9zM1837.6 697.1h5.9v4.9h-5.9zM1665.7 710.4h5.9v4.9h-5.9zM1665.7 744.6h5.9v8.3h-5.9zM1665.7 752.4h5.9v9.3h-5.9zM1660.4 761.2h5.9v9.4h-5.9z"/>
<path fill="#fcb136" d="M339.1 675h4.8v4.9h-4.8zM347.7 675h9.1v4.9h-9.1zM266 679.4h4.8v4.9h-4.8zM291.8 679.4h4.8v4.9h-4.8zM382.1 679.4h4.8v4.9h-4.8zM395 679.4h4.8v4.9h-4.8zM420.8 679.4h4.8v4.9h-4.8zM317.6 683.8h4.8v4.9h-4.8zM347.7 683.8h4.8v4.9h-4.8zM377.8 683.8h4.8v4.9h-4.8zM511.1 683.8h0.5v4.9h-0.5zM278.9 688.2h4.8v5h-4.8zM300.4 688.2h4.8v5h-4.8zM313.3 688.2h4.8v5h-4.8zM377.8 688.2h4.8v5h-4.8zM433.7 688.2h4.8v5h-4.8zM459.5 688.2h4.8v5h-4.8zM472.4 688.2h4.8v5h-4.8zM485.3 688.2h4.8v5h-4.8zM274.6 692.7h4.8v4.9h-4.8zM291.8 692.7h13.4v4.9h-13.4zM317.6 692.7h4.8v4.9h-4.8zM343.4 692.7h4.8v4.9h-4.8zM360.6 692.7h4.8v4.9h-4.8zM382.1 692.7h17.7v4.9h-17.7zM407.9 692.7h4.8v4.9h-4.8zM438 692.7h4.8v4.9h-4.8zM455.2 692.7h4.8v4.9h-4.8zM472.4 692.7h4.8v4.9h-4.8zM485.3 692.7h4.8v4.9h-4.8zM493.9 692.7h4.8v4.9h-4.8zM119.8 697.1h4.8v4.9h-4.8zM145.6 697.1h4.8v4.9h-4.8zM167.1 697.1h9.1v4.9h-9.1zM180 697.1h4.8v4.9h-4.8zM192.9 697.1h4.8v4.9h-4.8zM205.8 697.1h4.8v4.9h-4.8zM253.1 697.1h4.8v4.9h-4.8zM330.5 697.1h4.8v4.9h-4.8zM343.4 697.1h4.8v4.9h-4.8zM416.5 697.1h4.8v4.9h-4.8zM489.6 697.1h4.8v4.9h-4.8zM506.8 697.1h4.8v4.9h-4.8zM261.7 701.5h4.8v4.9h-4.8zM334.8 752.4h4.8v9.3h-4.8zM390.7 752.4h4.8v9.3h-4.8zM403.6 752.4h4.8v9.3h-4.8zM261.7 761.2h4.8v9.4h-4.8zM339.1 761.2h4.8v9.4h-4.8zM390.7 761.2h4.8v9.4h-4.8zM399.3 761.2h9.1v9.4h-9.1zM593.6 679.4h6.2v4.9h-6.2zM610.9 683.8h6.2v4.9h-6.2zM743.1 683.8h12v4.9h-12zM553.4 692.7h6.2v4.9h-6.2zM582.1 692.7h6.2v4.9h-6.2zM633.9 692.7h6.2v4.9h-6.2zM702.9 692.7h6.2v4.9h-6.2zM737.4 692.7h6.2v4.9h-6.2zM564.9 697.1h6.2v4.9h-6.2zM576.4 697.1h6.2v4.9h-6.2zM587.9 697.1h6.2v4.9h-6.2zM610.9 697.1h6.2v4.9h-6.2zM668.4 697.1h6.2v4.9h-6.2zM708.6 697.1h6.2v4.9h-6.2zM743.1 697.1h6.2v4.9h-6.2zM800.6 697.1h6.2v4.9h-6.2zM812.1 697.1h6.2v4.9h-6.2zM858.1 697.1h6.2v4.9h-6.2zM886.9 697.1h6.2v4.9h-6.2zM915.6 697.1h6.2v4.9h-6.2zM932.9 697.1h6.2v4.9h-6.2zM944.4 697.1h6.2v4.9h-6.2zM570.6 701.5h6.2v4.9h-6.2zM662.6 701.5h6.2v4.9h-6.2zM691.4 701.5h6.2v4.9h-6.2zM679.9 770.1h12v9.3h-12zM858.1 770.1h6.2v9.3h-6.2zM1023.8 675h6v4.9h-6zM1056.5 675h6v4.9h-6zM1072.8 675h6v4.9h-6zM1083.8 675h11.4v4.9h-11.4zM1100.1 675h11.4v4.9h-11.4zM1116.5 675h16.8v4.9h-16.8zM1138.2 675h6v4.9h-6zM1154.6 675h6v4.9h-6zM1089.2 679.4h6v4.9h-6zM1111 679.4h6v4.9h-6zM1127.3 679.4h11.4v4.9h-11.4zM1056.5 683.8h6v4.9h-6zM1067.4 683.8h5.9v4.9h-5.9zM1078.3 683.8h6v4.9h-6zM1132.8 683.8h6v4.9h-6zM1149.2 683.8h11.4v4.9h-11.4zM1045.6 688.2h6v5h-6zM1083.8 688.2h6v5h-6zM1094.7 688.2h11.4v5h-11.4zM1116.5 688.2h6v5h-6zM1138.2 688.2h6v5h-6zM1083.8 692.7h6v4.9h-6zM1094.7 692.7h5.9v4.9h-5.9zM1143.7 692.7h11.4v4.9h-11.4zM1171 701.5h6v4.9h-6zM1198.2 701.5h6v4.9h-6zM1220 701.5h6v4.9h-6zM1230.9 701.5h11.4v4.9h-11.4zM1301.8 701.5h6v4.9h-6zM1345.3 701.5h6v4.9h-6zM1356.2 701.5h6v4.9h-6zM1421.7 701.5h5.9v4.9h-5.9zM1181.8 710.4h6v4.9h-6zM1181.8 714.8h6v4.9h-6zM1094.7 770.1h5.9v9.3h-5.9zM1181.8 787.8h6v9.3h-6zM1671.1 675h11.2v4.9h-11.2zM1692.6 675h5.9v4.9h-5.9zM1714.1 675h16.6v4.9h-16.6zM1751.6 675h11.2v4.9h-11.2zM1778.5 675h11.2v4.9h-11.2zM1832.2 675h5.9v4.9h-5.9zM1842.9 675h5.9v4.9h-5.9zM1864.4 675h11.2v4.9h-11.2zM1880.5 675h5.9v4.9h-5.9zM1703.3 679.4h11.2v4.9h-11.2zM1805.3 679.4h5.9v4.9h-5.9zM1869.8 679.4h5.9v4.9h-5.9zM1724.8 683.8h11.2v4.9h-11.2zM1751.6 683.8h5.9v4.9h-5.9zM1783.9 683.8h5.9v4.9h-5.9zM1794.6 683.8h5.9v4.9h-5.9zM1816.1 683.8h5.9v4.9h-5.9zM1864.4 683.8h5.9v4.9h-5.9zM1687.2 688.2h11.2v5h-11.2zM1714.1 688.2h11.2v5h-11.2zM1730.2 688.2h11.2v5h-11.2zM1757 688.2h5.9v5h-5.9zM1805.3 688.2h5.9v5h-5.9zM1837.6 688.2h5.9v5h-5.9zM1848.3 688.2h5.9v5h-5.9zM1859 688.2h5.9v5h-5.9zM1869.8 688.2h11.2v5h-11.2zM1719.4 692.7h5.9v4.9h-5.9zM1778.5 692.7h5.9v4.9h-5.9zM1853.7 692.7h5.9v4.9h-5.9zM1510 697.1h11.2v4.9h-11.2zM1708.7 744.6h5.9v8.3h-5.9zM1864.4 761.2h11.2v9.4h-11.2zM1853.7 770.1h5.9v9.3h-5.9zM1880.5 778.9h5.9v9.4h-5.9z"/>
<path fill="#affa37" d="M98.3 679.4h4.8v4.9h-4.8zM180 679.4h4.8v4.9h-4.8zM128.4 683.8h4.8v4.9h-4.8zM141.3 683.8h4.8v4.9h-4.8zM162.8 683.8h4.8v4.9h-4.8zM205.8 683.8h4.8v4.9h-4.8zM244.5 683.8h4.8v4.9h-4.8zM98.3 688.2h4.8v5h-4.8zM106.9 688.2h4.8v5h-4.8zM132.7 688.2h4.8v5h-4.8zM145.6 688.2h4.8v5h-4.8zM167.1 688.2h4.8v5h-4.8zM278.9 714.8h9.1v4.9h-9.1zM309 714.8h4.8v4.9h-4.8zM330.5 714.8h9.1v4.9h-9.1zM352 714.8h4.8v4.9h-4.8zM489.6 714.8h4.8v4.9h-4.8zM291.8 719.2h4.8v4.9h-4.8zM313.3 719.2h4.8v4.9h-4.8zM360.6 719.2h4.8v4.9h-4.8zM373.5 719.2h13.4v4.9h-13.4zM390.7 719.2h4.8v4.9h-4.8zM403.6 719.2h4.8v4.9h-4.8zM412.2 719.2h4.8v4.9h-4.8zM425.1 719.2h4.8v4.9h-4.8zM450.9 719.2h4.8v4.9h-4.8zM476.7 719.2h9.1v4.9h-9.1zM489.6 719.2h4.8v4.9h-4.8zM511.1 719.2h0.5v4.9h-0.5zM283.2 723.6h4.8v5h-4.8zM326.2 723.6h4.8v5h-4.8zM364.9 723.6h4.8v5h-4.8zM407.9 723.6h4.8v5h-4.8zM472.4 728.1h4.8v9.3h-4.8zM287.5 752.4h4.8v9.3h-4.8zM296.1 752.4h9.1v9.3h-9.1zM313.3 752.4h4.8v9.3h-4.8zM377.8 752.4h4.8v9.3h-4.8zM511.1 752.4h0.5v9.3h-0.5zM291.8 761.2h4.8v9.4h-4.8zM304.7 761.2h4.8v9.4h-4.8zM313.3 761.2h4.8v9.4h-4.8zM420.8 761.2h4.8v9.4h-4.8zM442.3 761.2h4.8v9.4h-4.8zM485.3 761.2h4.8v9.4h-4.8zM261.7 778.9h4.8v9.4h-4.8zM106.9 787.8h4.8v9.3h-4.8zM132.7 787.8h9.1v9.3h-9.1zM149.9 787.8h4.8v9.3h-4.8zM162.8 787.8h9.1v9.3h-9.1zM184.3 787.8h9.1v9.3h-9.1zM201.5 787.8h4.8v9.3h-4.8zM214.4 787.8h9.1v9.3h-9.1zM235.9 787.8h4.8v9.3h-4.8zM564.9 670.5h6.2v5h-6.2zM605.1 670.5h6.2v5h-6.2zM651.1 670.5h6.2v5h-6.2zM743.1 670.5h12v5h-12zM823.6 670.5h6.2v5h-6.2zM789.1 675h6.2v4.9h-6.2zM817.9 675h6.2v4.9h-6.2zM846.6 675h6.2v4.9h-6.2zM886.9 675h6.2v4.9h-6.2zM915.6 675h6.2v4.9h-6.2zM777.6 679.4h6.2v4.9h-6.2zM789.1 679.4h6.2v4.9h-6.2zM829.4 679.4h6.2v4.9h-6.2zM881.1 679.4h12v4.9h-12zM909.9 679.4h6.2v4.9h-6.2zM559.1 723.6h6.2v5h-6.2zM582.1 723.6h6.2v5h-6.2zM593.6 723.6h6.2v5h-6.2zM616.6 723.6h6.2v5h-6.2zM633.9 723.6h6.2v5h-6.2zM662.6 723.6h6.2v5h-6.2zM651.1 744.6h6.2v8.3h-6.2zM685.6 744.6h6.2v8.3h-6.2zM628.1 761.2h12v9.4h-12zM559.1 770.1h6.2v9.3h-6.2zM570.6 770.1h6.2v9.3h-6.2zM593.6 770.1h6.2v9.3h-6.2zM605.1 770.1h6.2v9.3h-6.2zM616.6 770.1h6.2v9.3h-6.2zM679.9 778.9h6.2v9.4h-6.2zM714.4 778.9h6.2v9.4h-6.2zM1203.7 683.8h5.9v4.9h-5.9zM1192.8 692.7h6v4.9h-6zM1214.5 692.7h6v4.9h-6zM1280 692.7h11.4v4.9h-11.4zM1323.5 692.7h6v4.9h-6zM1339.9 692.7h11.4v4.9h-11.4zM1367.2 692.7h5.9v4.9h-5.9zM1389 692.7h6v4.9h-6zM1421.7 692.7h5.9v4.9h-5.9zM1067.4 705.9h5.9v5h-5.9zM1018.4 710.4h5.9v4.9h-5.9zM1034.7 710.4h6v4.9h-6zM1111 710.4h6v4.9h-6zM1149.2 744.6h5.9v8.3h-5.9zM1083.8 752.4h6v9.3h-6zM1067.4 761.2h11.4v9.4h-11.4zM1023.8 796.6h16.9v12.8h-16.9zM1056.5 796.6h6v12.8h-6zM1542.2 692.7h5.9v4.9h-5.9zM1558.3 692.7h5.9v4.9h-5.9zM1816.1 705.9h5.9v5h-5.9zM1842.9 705.9h5.9v5h-5.9zM1671.1 710.4h11.2v4.9h-11.2zM1697.9 710.4h5.9v4.9h-5.9zM1724.8 710.4h5.9v4.9h-5.9zM1740.9 710.4h5.9v4.9h-5.9zM1773.1 710.4h5.9v4.9h-5.9zM1837.6 710.4h5.9v4.9h-5.9zM1859 710.4h5.9v4.9h-5.9zM1676.5 714.8h5.9v4.9h-5.9zM1773.1 714.8h5.9v4.9h-5.9zM1864.4 714.8h5.9v4.9h-5.9zM1826.8 770.1h5.9v9.3h-5.9z"/>
<path fill="#96fe44" d="M106.9 679.4h9.1v4.9h-9.1zM124.1 679.4h9.1v4.9h-9.1zM137 679.4h4.8v4.9h-4.8zM154.2 679.4h4.8v4.9h-4.8zM162.8 679.4h4.8v4.9h-4.8zM184.3 679.4h4.8v4.9h-4.8zM192.9 679.4h4.8v4.9h-4.8zM240.2 679.4h4.8v4.9h-4.8zM257.4 679.4h4.8v4.9h-4.8zM102.6 683.8h4.8v4.9h-4.8zM115.5 683.8h4.8v4.9h-4.8zM145.6 683.8h4.8v4.9h-4.8zM175.7 683.8h4.8v4.9h-4.8zM188.6 683.8h9.1v4.9h-9.1zM214.4 683.8h4.8v4.9h-4.8zM240.2 683.8h4.8v4.9h-4.8zM347.7 719.2h4.8v4.9h-4.8zM407.9 719.2h4.8v4.9h-4.8zM446.6 719.2h4.8v4.9h-4.8zM300.4 723.6h4.8v5h-4.8zM330.5 723.6h4.8v5h-4.8zM356.3 723.6h4.8v5h-4.8zM369.2 723.6h4.8v5h-4.8zM390.7 723.6h4.8v5h-4.8zM399.3 723.6h4.8v5h-4.8zM416.5 723.6h4.8v5h-4.8zM438 723.6h9.1v5h-9.1zM476.7 723.6h9.1v5h-9.1zM502.5 723.6h9.1v5h-9.1zM270.3 728.1h4.8v9.3h-4.8zM386.4 728.1h4.8v9.3h-4.8zM399.3 728.1h4.8v9.3h-4.8zM416.5 728.1h9.1v9.3h-9.1zM498.2 728.1h4.8v9.3h-4.8zM266 736.9h4.8v8.2h-4.8zM304.7 736.9h4.8v8.2h-4.8zM313.3 736.9h4.8v8.2h-4.8zM343.4 736.9h4.8v8.2h-4.8zM352 736.9h4.8v8.2h-4.8zM369.2 736.9h4.8v8.2h-4.8zM382.1 736.9h4.8v8.2h-4.8zM472.4 736.9h4.8v8.2h-4.8zM309 744.6h4.8v8.3h-4.8zM326.2 744.6h4.8v8.3h-4.8zM481 744.6h4.8v8.3h-4.8zM278.9 752.4h4.8v9.3h-4.8zM317.6 752.4h4.8v9.3h-4.8zM364.9 752.4h13.4v9.3h-13.4zM386.4 752.4h4.8v9.3h-4.8zM450.9 752.4h4.8v9.3h-4.8zM468.1 752.4h4.8v9.3h-4.8zM481 752.4h4.8v9.3h-4.8zM489.6 752.4h4.8v9.3h-4.8zM498.2 752.4h4.8v9.3h-4.8zM287.5 761.2h4.8v9.4h-4.8zM300.4 761.2h4.8v9.4h-4.8zM317.6 761.2h4.8v9.4h-4.8zM425.1 761.2h4.8v9.4h-4.8zM438 761.2h4.8v9.4h-4.8zM455.2 761.2h4.8v9.4h-4.8zM489.6 761.2h4.8v9.4h-4.8zM266 770.1h4.8v9.3h-4.8zM274.6 770.1h4.8v9.3h-4.8zM283.2 770.1h4.8v9.3h-4.8zM352 770.1h4.8v9.3h-4.8zM364.9 770.1h9.1v9.3h-9.1zM403.6 770.1h4.8v9.3h-4.8zM472.4 770.1h4.8v9.3h-4.8zM485.3 770.1h4.8v9.3h-4.8zM493.9 770.1h4.8v9.3h-4.8zM506.8 770.1h4.8v9.3h-4.8zM175.7 787.8h4.8v9.3h-4.8zM223 787.8h4.8v9.3h-4.8zM231.6 787.8h4.8v9.3h-4.8zM570.6 670.5h6.2v5h-6.2zM754.6 670.5h6.2v5h-6.2zM852.4 670.5h6.2v5h-6.2zM766.1 675h6.2v4.9h-6.2zM783.4 675h6.2v4.9h-6.2zM875.4 675h6.2v4.9h-6.2zM904.1 675h6.2v4.9h-6.2zM800.6 679.4h6.2v4.9h-6.2zM812.1 679.4h6.2v4.9h-6.2zM869.6 679.4h6.2v4.9h-6.2zM605.1 723.6h6.2v5h-6.2zM651.1 723.6h6.2v5h-6.2zM679.9 723.6h6.2v5h-6.2zM679.9 736.9h6.2v8.2h-6.2zM645.4 744.6h6.2v8.3h-6.2zM570.6 761.2h6.2v9.4h-6.2zM582.1 761.2h6.2v9.4h-6.2zM616.6 761.2h6.2v9.4h-6.2zM582.1 770.1h6.2v9.3h-6.2zM599.4 770.1h6.2v9.3h-6.2zM559.1 778.9h12v9.4h-12zM587.9 778.9h6.2v9.4h-6.2zM708.6 778.9h6.2v9.4h-6.2zM720.1 778.9h6.2v9.4h-6.2zM737.4 787.8h6.2v9.3h-6.2zM766.1 787.8h6.2v9.3h-6.2zM783.4 787.8h12v9.3h-12zM806.4 787.8h6.2v9.3h-6.2zM823.6 787.8h6.2v9.3h-6.2zM858.1 787.8h6.2v9.3h-6.2zM881.1 787.8h6.2v9.3h-6.2zM927.1 787.8h6.2v9.3h-6.2zM944.4 787.8h12v9.3h-12zM1203.7 679.4h5.9v4.9h-5.9zM1160 683.8h6v4.9h-6zM1220 683.8h11.4v4.9h-11.4zM1258.2 683.8h5.9v4.9h-5.9zM1160 688.2h6v5h-6zM1171 692.7h6v4.9h-6zM1241.8 692.7h6v4.9h-6zM1274.5 692.7h6v4.9h-6zM1301.8 692.7h6v4.9h-6zM1334.5 692.7h6v4.9h-6zM1356.2 692.7h6v4.9h-6zM1372.6 692.7h6v4.9h-6zM1405.3 692.7h6v4.9h-6zM1416.2 692.7h6v4.9h-6zM1062 710.4h6v4.9h-6zM1051 714.8h6v4.9h-6zM1072.8 714.8h6v4.9h-6zM1100.1 714.8h6v4.9h-6zM1067.4 719.2h5.9v4.9h-5.9zM1127.3 723.6h6v5h-6zM1149.2 723.6h5.9v5h-5.9zM1116.5 736.9h6v8.2h-6zM1127.3 736.9h6v8.2h-6zM1149.2 736.9h11.4v8.2h-11.4zM1062 744.6h6v8.3h-6zM1078.3 744.6h11.4v8.3h-11.4zM1100.1 744.6h6v8.3h-6zM1072.8 752.4h6v9.3h-6zM1116.5 752.4h6v9.3h-6zM1127.3 752.4h6v9.3h-6zM1143.7 752.4h6v9.3h-6zM1051 761.2h6v9.4h-6zM1012.9 770.1h6v9.3h-6zM1034.7 770.1h6v9.3h-6zM1089.2 778.9h11.4v9.4h-11.4zM1154.6 778.9h6v9.4h-6zM1078.3 787.8h6v9.3h-6zM1012.9 796.6h6v12.8h-6zM1655 670.5h5.9v5h-5.9zM1595.9 675h5.9v4.9h-5.9zM1574.4 683.8h5.9v4.9h-5.9zM1612 683.8h5.9v4.9h-5.9zM1644.2 683.8h5.9v4.9h-5.9zM1499.2 688.2h5.9v5h-5.9zM1520.7 688.2h5.9v5h-5.9zM1595.9 688.2h5.9v5h-5.9zM1606.7 688.2h11.2v5h-11.2zM1563.7 692.7h5.9v4.9h-5.9zM1687.2 710.4h11.2v4.9h-11.2zM1703.3 710.4h5.9v4.9h-5.9zM1719.4 710.4h5.9v4.9h-5.9zM1800 710.4h5.9v4.9h-5.9zM1832.2 710.4h5.9v4.9h-5.9zM1692.6 714.8h11.2v4.9h-11.2zM1714.1 714.8h5.9v4.9h-5.9zM1730.2 714.8h5.9v4.9h-5.9zM1783.9 714.8h5.9v4.9h-5.9zM1826.8 714.8h5.9v4.9h-5.9zM1848.3 714.8h5.9v4.9h-5.9zM1676.5 719.2h5.9v4.9h-5.9zM1778.5 719.2h5.9v4.9h-5.9zM1842.9 719.2h5.9v4.9h-5.9zM1681.8 723.6h5.9v5h-5.9zM1746.3 723.6h5.9v5h-5.9zM1816.1 770.1h5.9v9.3h-5.9zM1848.3 770.1h5.9v9.3h-5.9zM1832.2 787.8h5.9v9.3h-5.9zM1848.3 787.8h5.9v9.3h-5.9zM1821.5 796.6h5.9v12.8h-5.9z"/>
<path fill="#fe992c" d="M270.3 679.4h4.8v4.9h-4.8zM278.9 679.4h9.1v4.9h-9.1zM296.1 679.4h9.1v4.9h-9.1zM321.9 679.4h4.8v4.9h-4.8zM330.5 679.4h4.8v4.9h-4.8zM360.6 679.4h4.8v4.9h-4.8zM369.2 679.4h4.8v4.9h-4.8zM386.4 679.4h9.1v4.9h-9.1zM403.6 679.4h4.8v4.9h-4.8zM412.2 679.4h4.8v4.9h-4.8zM429.4 679.4h26.3v4.9h-26.3zM459.5 679.4h13.4v4.9h-13.4zM485.3 679.4h4.8v4.9h-4.8zM493.9 679.4h4.8v4.9h-4.8zM502.5 679.4h4.8v4.9h-4.8zM511.1 679.4h0.5v4.9h-0.5zM270.3 683.8h4.8v4.9h-4.8zM287.5 683.8h4.8v4.9h-4.8zM300.4 683.8h17.7v4.9h-17.7zM330.5 683.8h4.8v4.9h-4.8zM352 683.8h4.8v4.9h-4.8zM395 683.8h4.8v4.9h-4.8zM412.2 683.8h4.8v4.9h-4.8zM425.1 683.8h4.8v4.9h-4.8zM433.7 683.8h4.8v4.9h-4.8zM446.6 683.8h9.1v4.9h-9.1zM459.5 683.8h4.8v4.9h-4.8zM472.4 683.8h9.1v4.9h-9.1zM498.2 683.8h9.1v4.9h-9.1zM274.6 688.2h4.8v5h-4.8zM287.5 688.2h4.8v5h-4.8zM321.9 688.2h4.8v5h-4.8zM343.4 688.2h4.8v5h-4.8zM364.9 688.2h13.4v5h-13.4zM382.1 688.2h4.8v5h-4.8zM399.3 688.2h9.1v5h-9.1zM412.2 688.2h4.8v5h-4.8zM425.1 688.2h4.8v5h-4.8zM446.6 688.2h9.1v5h-9.1zM463.8 688.2h4.8v5h-4.8zM489.6 688.2h4.8v5h-4.8zM498.2 688.2h4.8v5h-4.8zM261.7 705.9h4.8v5h-4.8zM261.7 710.4h4.8v4.9h-4.8zM261.7 752.4h4.8v9.3h-4.8zM149.9 770.1h4.8v9.3h-4.8zM192.9 770.1h4.8v9.3h-4.8zM576.4 679.4h12v4.9h-12zM599.4 679.4h12v4.9h-12zM616.6 679.4h12v4.9h-12zM633.9 679.4h12v4.9h-12zM656.9 679.4h12v4.9h-12zM714.4 679.4h12v4.9h-12zM553.4 683.8h6.2v4.9h-6.2zM564.9 683.8h6.2v4.9h-6.2zM593.6 683.8h17.8v4.9h-17.8zM628.1 683.8h12v4.9h-12zM645.4 683.8h6.2v4.9h-6.2zM662.6 683.8h6.2v4.9h-6.2zM674.1 683.8h12v4.9h-12zM708.6 683.8h12v4.9h-12zM559.1 688.2h6.2v5h-6.2zM582.1 688.2h6.2v5h-6.2zM605.1 688.2h6.2v5h-6.2zM639.6 688.2h12v5h-12zM656.9 688.2h6.2v5h-6.2zM679.9 688.2h12v5h-12zM725.9 688.2h6.2v5h-6.2zM564.9 692.7h6.2v4.9h-6.2zM587.9 692.7h6.2v4.9h-6.2zM622.4 692.7h6.2v4.9h-6.2zM639.6 692.7h6.2v4.9h-6.2zM651.1 692.7h17.8v4.9h-17.8zM679.9 692.7h12v4.9h-12zM708.6 692.7h6.2v4.9h-6.2zM720.1 692.7h6.2v4.9h-6.2zM720.1 697.1h6.2v4.9h-6.2zM754.6 697.1h6.2v4.9h-6.2zM771.9 697.1h6.2v4.9h-6.2zM817.9 697.1h6.2v4.9h-6.2zM829.4 697.1h12v4.9h-12zM846.6 697.1h12v4.9h-12zM863.9 697.1h6.2v4.9h-6.2zM881.1 697.1h6.2v4.9h-6.2zM892.6 697.1h6.2v4.9h-6.2zM904.1 697.1h6.2v4.9h-6.2zM921.4 697.1h6.2v4.9h-6.2zM950.1 697.1h6.2v4.9h-6.2zM967.4 697.1h3.6v4.9h-3.6zM731.6 701.5h12v4.9h-12zM748.9 705.9h6.2v5h-6.2zM748.9 714.8h6.2v4.9h-6.2zM748.9 719.2h6.2v4.9h-6.2zM748.9 728.1h6.2v9.3h-6.2zM737.4 761.2h6.2v9.4h-6.2zM748.9 761.2h6.2v9.4h-6.2zM754.6 770.1h6.2v9.3h-6.2zM771.9 770.1h6.2v9.3h-6.2zM800.6 770.1h6.2v9.3h-6.2zM829.4 770.1h12v9.3h-12zM869.6 770.1h6.2v9.3h-6.2zM886.9 770.1h6.2v9.3h-6.2zM898.4 770.1h6.2v9.3h-6.2zM915.6 770.1h6.2v9.3h-6.2zM932.9 770.1h6.2v9.3h-6.2zM1012.9 675h6v4.9h-6zM1034.7 675h11.4v4.9h-11.4zM1023.8 679.4h11.4v4.9h-11.4zM1045.6 679.4h6v4.9h-6zM1138.2 679.4h6v4.9h-6zM1149.2 679.4h5.9v4.9h-5.9zM1012.9 683.8h6v4.9h-6zM1029.2 683.8h11.4v4.9h-11.4zM1094.7 683.8h5.9v4.9h-5.9zM1138.2 683.8h6v4.9h-6zM1012.9 688.2h16.9v5h-16.9zM1034.7 688.2h6v5h-6zM1067.4 688.2h5.9v5h-5.9zM1132.8 688.2h6v5h-6zM1149.2 688.2h5.9v5h-5.9zM1018.4 692.7h5.9v4.9h-5.9zM1029.2 692.7h16.8v4.9h-16.8zM1062 692.7h11.4v4.9h-11.4zM1132.8 692.7h6v4.9h-6zM1339.9 701.5h5.9v4.9h-5.9zM1269 705.9h6v5h-6zM1421.7 705.9h5.9v5h-5.9zM1181.8 719.2h6v4.9h-6zM1181.8 778.9h6v9.4h-6zM1165.5 796.6h6v12.8h-6zM1356.2 796.6h6v12.8h-6zM1740.9 675h5.9v4.9h-5.9zM1767.8 675h5.9v4.9h-5.9zM1826.8 675h5.9v4.9h-5.9zM1837.6 675h5.9v4.9h-5.9zM1885.9 675h4.1v4.9h-4.1zM1692.6 679.4h11.2v4.9h-11.2zM1719.4 679.4h11.2v4.9h-11.2zM1751.6 679.4h11.2v4.9h-11.2zM1794.6 679.4h11.2v4.9h-11.2zM1826.8 679.4h5.9v4.9h-5.9zM1864.4 679.4h5.9v4.9h-5.9zM1880.5 679.4h5.9v4.9h-5.9zM1676.5 683.8h11.2v4.9h-11.2zM1703.3 683.8h5.9v4.9h-5.9zM1714.1 683.8h5.9v4.9h-5.9zM1735.5 683.8h11.2v4.9h-11.2zM1773.1 683.8h5.9v4.9h-5.9zM1800 683.8h5.9v4.9h-5.9zM1826.8 683.8h11.2v4.9h-11.2zM1676.5 688.2h5.9v5h-5.9zM1553 701.5h5.9v4.9h-5.9zM1633.5 701.5h5.9v4.9h-5.9zM1655 701.5h5.9v4.9h-5.9zM1740.9 736.9h5.9v8.2h-5.9zM1724.8 744.6h5.9v8.3h-5.9zM1757 744.6h5.9v8.3h-5.9zM1767.8 752.4h5.9v9.3h-5.9zM1681.8 761.2h5.9v9.4h-5.9zM1789.2 761.2h5.9v9.4h-5.9zM1810.7 770.1h5.9v9.3h-5.9zM1875.2 770.1h5.9v9.3h-5.9zM1859 778.9h5.9v9.4h-5.9zM1869.8 778.9h11.2v9.4h-11.2zM1885.9 778.9h4.1v9.4h-4.1z"/>
<path fill="#fea431" d="M274.6 679.4h4.8v4.9h-4.8zM287.5 679.4h4.8v4.9h-4.8zM304.7 679.4h4.8v4.9h-4.8zM317.6 679.4h4.8v4.9h-4.8zM339.1 679.4h4.8v4.9h-4.8zM356.3 679.4h4.8v4.9h-4.8zM373.5 679.4h4.8v4.9h-4.8zM407.9 679.4h4.8v4.9h-4.8zM416.5 679.4h4.8v4.9h-4.8zM425.1 679.4h4.8v4.9h-4.8zM472.4 679.4h9.1v4.9h-9.1zM489.6 679.4h4.8v4.9h-4.8zM498.2 679.4h4.8v4.9h-4.8zM506.8 679.4h4.8v4.9h-4.8zM266 683.8h4.8v4.9h-4.8zM373.5 683.8h4.8v4.9h-4.8zM403.6 683.8h4.8v4.9h-4.8zM493.9 683.8h4.8v4.9h-4.8zM270.3 688.2h4.8v5h-4.8zM291.8 688.2h9.1v5h-9.1zM304.7 688.2h4.8v5h-4.8zM317.6 688.2h4.8v5h-4.8zM334.8 688.2h9.1v5h-9.1zM347.7 688.2h9.1v5h-9.1zM386.4 688.2h4.8v5h-4.8zM420.8 688.2h4.8v5h-4.8zM481 688.2h4.8v5h-4.8zM493.9 688.2h4.8v5h-4.8zM502.5 688.2h4.8v5h-4.8zM511.1 688.2h0.5v5h-0.5zM304.7 692.7h4.8v4.9h-4.8zM330.5 692.7h13.4v4.9h-13.4zM352 692.7h4.8v4.9h-4.8zM364.9 692.7h4.8v4.9h-4.8zM442.3 692.7h4.8v4.9h-4.8zM450.9 692.7h4.8v4.9h-4.8zM481 692.7h4.8v4.9h-4.8zM498.2 692.7h4.8v4.9h-4.8zM506.8 692.7h4.8v4.9h-4.8zM364.9 697.1h4.8v4.9h-4.8zM412.2 761.2h4.8v9.4h-4.8zM137 770.1h4.8v9.3h-4.8zM257.4 770.1h4.8v9.3h-4.8zM553.4 679.4h23.5v4.9h-23.5zM628.1 679.4h6.2v4.9h-6.2zM645.4 679.4h12v4.9h-12zM668.4 679.4h6.2v4.9h-6.2zM679.9 679.4h6.2v4.9h-6.2zM697.1 679.4h12v4.9h-12zM725.9 679.4h6.2v4.9h-6.2zM616.6 683.8h6.2v4.9h-6.2zM639.6 683.8h6.2v4.9h-6.2zM691.4 683.8h6.2v4.9h-6.2zM702.9 683.8h6.2v4.9h-6.2zM599.4 688.2h6.2v5h-6.2zM610.9 688.2h6.2v5h-6.2zM708.6 688.2h6.2v5h-6.2zM559.1 692.7h6.2v4.9h-6.2zM570.6 692.7h12v4.9h-12zM593.6 692.7h6.2v4.9h-6.2zM610.9 692.7h12v4.9h-12zM668.4 692.7h6.2v4.9h-6.2zM714.4 692.7h6.2v4.9h-6.2zM725.9 692.7h6.2v4.9h-6.2zM645.4 697.1h6.2v4.9h-6.2zM685.6 697.1h12v4.9h-12zM731.6 697.1h6.2v4.9h-6.2zM748.9 697.1h6.2v4.9h-6.2zM760.4 697.1h6.2v4.9h-6.2zM777.6 697.1h17.8v4.9h-17.8zM806.4 697.1h6.2v4.9h-6.2zM823.6 697.1h6.2v4.9h-6.2zM840.9 697.1h6.2v4.9h-6.2zM875.4 697.1h6.2v4.9h-6.2zM898.4 697.1h6.2v4.9h-6.2zM909.9 697.1h6.2v4.9h-6.2zM927.1 697.1h6.2v4.9h-6.2zM938.6 697.1h6.2v4.9h-6.2zM955.9 697.1h12v4.9h-12zM743.1 701.5h6.2v4.9h-6.2zM743.1 728.1h6.2v9.3h-6.2zM743.1 736.9h12v8.2h-12zM662.6 770.1h12v9.3h-12zM697.1 770.1h6.2v9.3h-6.2zM708.6 770.1h6.2v9.3h-6.2zM760.4 770.1h12v9.3h-12zM823.6 770.1h6.2v9.3h-6.2zM840.9 770.1h12v9.3h-12zM1018.4 675h5.9v4.9h-5.9zM1045.6 675h11.4v4.9h-11.4zM1062 675h11.4v4.9h-11.4zM1078.3 675h6v4.9h-6zM1132.8 675h6v4.9h-6zM1143.7 675h11.4v4.9h-11.4zM1012.9 679.4h6v4.9h-6zM1040.2 679.4h5.9v4.9h-5.9zM1051 679.4h16.9v4.9h-16.9zM1072.8 679.4h16.9v4.9h-16.9zM1094.7 679.4h11.4v4.9h-11.4zM1121.9 679.4h5.9v4.9h-5.9zM1154.6 679.4h6v4.9h-6zM1018.4 683.8h11.4v4.9h-11.4zM1040.2 683.8h16.8v4.9h-16.8zM1062 683.8h6v4.9h-6zM1083.8 683.8h11.4v4.9h-11.4zM1100.1 683.8h11.4v4.9h-11.4zM1116.5 683.8h11.4v4.9h-11.4zM1143.7 683.8h6v4.9h-6zM1051 688.2h6v5h-6zM1062 688.2h6v5h-6zM1072.8 688.2h6v5h-6zM1089.2 688.2h6v5h-6zM1105.5 688.2h6v5h-6zM1127.3 688.2h6v5h-6zM1143.7 688.2h6v5h-6zM1154.6 688.2h6v5h-6zM1012.9 692.7h6v4.9h-6zM1045.6 692.7h16.9v4.9h-16.9zM1105.5 692.7h11.4v4.9h-11.4zM1121.9 692.7h11.4v4.9h-11.4zM1138.2 692.7h6v4.9h-6zM1154.6 692.7h6v4.9h-6zM1209.1 701.5h6v4.9h-6zM1252.7 701.5h6v4.9h-6zM1263.6 701.5h6v4.9h-6zM1361.7 701.5h6v4.9h-6zM1389 701.5h6v4.9h-6zM1410.8 701.5h11.4v4.9h-11.4zM1427.1 701.5h3.4v4.9h-3.4zM1160 705.9h6v5h-6zM1181.8 705.9h6v5h-6zM1160 787.8h6v9.3h-6zM1687.2 675h5.9v4.9h-5.9zM1703.3 675h11.2v4.9h-11.2zM1735.5 675h5.9v4.9h-5.9zM1746.3 675h5.9v4.9h-5.9zM1762.4 675h5.9v4.9h-5.9zM1794.6 675h11.2v4.9h-11.2zM1810.7 675h16.6v4.9h-16.6zM1848.3 675h5.9v4.9h-5.9zM1859 675h5.9v4.9h-5.9zM1671.1 679.4h11.2v4.9h-11.2zM1687.2 679.4h5.9v4.9h-5.9zM1730.2 679.4h22v4.9h-22zM1762.4 679.4h5.9v4.9h-5.9zM1778.5 679.4h5.9v4.9h-5.9zM1810.7 679.4h5.9v4.9h-5.9zM1821.5 679.4h5.9v4.9h-5.9zM1832.2 679.4h5.9v4.9h-5.9zM1875.2 679.4h5.9v4.9h-5.9zM1697.9 683.8h5.9v4.9h-5.9zM1708.7 683.8h5.9v4.9h-5.9zM1719.4 683.8h5.9v4.9h-5.9zM1757 683.8h11.2v4.9h-11.2zM1778.5 683.8h5.9v4.9h-5.9zM1789.2 683.8h5.9v4.9h-5.9zM1810.7 683.8h5.9v4.9h-5.9zM1837.6 683.8h22v4.9h-22zM1869.8 683.8h20.2v4.9h-20.2zM1697.9 688.2h16.6v5h-16.6zM1746.3 688.2h5.9v5h-5.9zM1773.1 688.2h5.9v5h-5.9zM1810.7 688.2h5.9v5h-5.9zM1821.5 688.2h11.2v5h-11.2zM1649.6 701.5h5.9v4.9h-5.9zM1735.5 736.9h5.9v8.2h-5.9zM1735.5 744.6h5.9v8.3h-5.9zM1751.6 744.6h5.9v8.3h-5.9zM1703.3 752.4h5.9v9.3h-5.9zM1783.9 752.4h5.9v9.3h-5.9zM1676.5 761.2h5.9v9.4h-5.9zM1810.7 761.2h5.9v9.4h-5.9zM1869.8 770.1h5.9v9.3h-5.9zM1864.4 778.9h5.9v9.4h-5.9z"/>
<path fill="#fd8d27" d="M309 679.4h4.8v4.9h-4.8zM326.2 679.4h4.8v4.9h-4.8zM334.8 679.4h4.8v4.9h-4.8zM343.4 679.4h4.8v4.9h-4.8zM352 679.4h4.8v4.9h-4.8zM364.9 679.4h4.8v4.9h-4.8zM377.8 679.4h4.8v4.9h-4.8zM399.3 679.4h4.8v4.9h-4.8zM455.2 679.4h4.8v4.9h-4.8zM481 679.4h4.8v4.9h-4.8zM274.6 683.8h4.8v4.9h-4.8zM283.2 683.8h4.8v4.9h-4.8zM296.1 683.8h4.8v4.9h-4.8zM326.2 683.8h4.8v4.9h-4.8zM339.1 683.8h9.1v4.9h-9.1zM356.3 683.8h4.8v4.9h-4.8zM382.1 683.8h9.1v4.9h-9.1zM399.3 683.8h4.8v4.9h-4.8zM407.9 683.8h4.8v4.9h-4.8zM416.5 683.8h9.1v4.9h-9.1zM429.4 683.8h4.8v4.9h-4.8zM438 683.8h9.1v4.9h-9.1zM468.1 683.8h4.8v4.9h-4.8zM481 683.8h13.4v4.9h-13.4zM283.2 688.2h4.8v5h-4.8zM309 688.2h4.8v5h-4.8zM326.2 688.2h9.1v5h-9.1zM356.3 688.2h4.8v5h-4.8zM395 688.2h4.8v5h-4.8zM416.5 688.2h4.8v5h-4.8zM429.4 688.2h4.8v5h-4.8zM438 688.2h9.1v5h-9.1zM455.2 688.2h4.8v5h-4.8zM468.1 688.2h4.8v5h-4.8zM476.7 688.2h4.8v5h-4.8zM506.8 688.2h4.8v5h-4.8zM94 701.5h4.8v4.9h-4.8zM102.6 701.5h4.8v4.9h-4.8zM171.4 701.5h4.8v4.9h-4.8zM180 701.5h9.1v4.9h-9.1zM197.2 701.5h13.4v4.9h-13.4zM214.4 701.5h9.1v4.9h-9.1zM227.3 701.5h4.8v4.9h-4.8zM244.5 701.5h4.8v4.9h-4.8zM261.7 714.8h4.8v4.9h-4.8zM261.7 719.2h4.8v4.9h-4.8zM261.7 723.6h4.8v5h-4.8zM261.7 728.1h4.8v9.3h-4.8zM261.7 736.9h4.8v8.2h-4.8zM343.4 761.2h4.8v9.4h-4.8zM98.3 770.1h13.4v9.3h-13.4zM119.8 770.1h4.8v9.3h-4.8zM167.1 770.1h4.8v9.3h-4.8zM175.7 770.1h4.8v9.3h-4.8zM210.1 770.1h4.8v9.3h-4.8zM227.3 770.1h4.8v9.3h-4.8zM244.5 770.1h4.8v9.3h-4.8zM587.9 679.4h6.2v4.9h-6.2zM610.9 679.4h6.2v4.9h-6.2zM674.1 679.4h6.2v4.9h-6.2zM691.4 679.4h6.2v4.9h-6.2zM559.1 683.8h6.2v4.9h-6.2zM576.4 683.8h17.8v4.9h-17.8zM622.4 683.8h6.2v4.9h-6.2zM651.1 683.8h12v4.9h-12zM697.1 683.8h6.2v4.9h-6.2zM720.1 683.8h12v4.9h-12zM553.4 688.2h6.2v5h-6.2zM564.9 688.2h17.8v5h-17.8zM587.9 688.2h12v5h-12zM622.4 688.2h17.8v5h-17.8zM651.1 688.2h6.2v5h-6.2zM668.4 688.2h12v5h-12zM691.4 688.2h6.2v5h-6.2zM714.4 688.2h12v5h-12zM599.4 692.7h12v4.9h-12zM628.1 692.7h6.2v4.9h-6.2zM674.1 692.7h6.2v4.9h-6.2zM691.4 692.7h12v4.9h-12zM794.9 697.1h6.2v4.9h-6.2zM748.9 701.5h6.2v4.9h-6.2zM817.9 701.5h6.2v4.9h-6.2zM881.1 701.5h6.2v4.9h-6.2zM909.9 701.5h6.2v4.9h-6.2zM921.4 701.5h6.2v4.9h-6.2zM938.6 701.5h17.8v4.9h-17.8zM737.4 705.9h6.2v5h-6.2zM743.1 710.4h12v4.9h-12zM743.1 714.8h6.2v4.9h-6.2zM743.1 719.2h6.2v4.9h-6.2zM748.9 752.4h6.2v9.3h-6.2zM668.4 761.2h12v9.4h-12zM731.6 761.2h6.2v9.4h-6.2zM777.6 770.1h6.2v9.3h-6.2zM794.9 770.1h6.2v9.3h-6.2zM806.4 770.1h17.8v9.3h-17.8zM863.9 770.1h6.2v9.3h-6.2zM881.1 770.1h6.2v9.3h-6.2zM921.4 770.1h12v9.3h-12zM944.4 770.1h12v9.3h-12zM1029.2 675h6v4.9h-6zM1018.4 679.4h5.9v4.9h-5.9zM1105.5 679.4h6v4.9h-6zM1116.5 679.4h6v4.9h-6zM1072.8 683.8h6v4.9h-6zM1111 683.8h6v4.9h-6zM1029.2 688.2h6v5h-6zM1040.2 688.2h5.9v5h-5.9zM1121.9 688.2h5.9v5h-5.9zM1023.8 692.7h6v4.9h-6zM1072.8 692.7h6v4.9h-6zM1394.4 701.5h5.9v4.9h-5.9zM1165.5 705.9h6v5h-6zM1225.5 705.9h11.4v5h-11.4zM1247.2 705.9h6v5h-6zM1274.5 705.9h6v5h-6zM1307.2 705.9h6v5h-6zM1318.1 705.9h6v5h-6zM1350.8 705.9h11.4v5h-11.4zM1160 710.4h6v4.9h-6zM1181.8 723.6h6v5h-6zM1181.8 728.1h6v9.3h-6zM1171 796.6h6v12.8h-6zM1198.2 796.6h6v12.8h-6zM1301.8 796.6h6v12.8h-6zM1318.1 796.6h6v12.8h-6zM1681.8 679.4h5.9v4.9h-5.9zM1767.8 679.4h11.2v4.9h-11.2zM1783.9 679.4h5.9v4.9h-5.9zM1842.9 679.4h16.6v4.9h-16.6zM1885.9 679.4h4.1v4.9h-4.1zM1671.1 683.8h5.9v4.9h-5.9zM1687.2 683.8h5.9v4.9h-5.9zM1746.3 683.8h5.9v4.9h-5.9zM1767.8 683.8h5.9v4.9h-5.9zM1805.3 683.8h5.9v4.9h-5.9zM1477.8 701.5h5.9v4.9h-5.9zM1493.9 701.5h5.9v4.9h-5.9zM1504.6 701.5h5.9v4.9h-5.9zM1520.7 701.5h5.9v4.9h-5.9zM1563.7 701.5h5.9v4.9h-5.9zM1590.5 701.5h11.2v4.9h-11.2zM1612 701.5h22v4.9h-22zM1746.3 744.6h5.9v8.3h-5.9zM1708.7 752.4h5.9v9.3h-5.9zM1794.6 761.2h5.9v9.4h-5.9zM1859 761.2h5.9v9.4h-5.9zM1875.2 761.2h11.2v9.4h-11.2zM1805.3 770.1h5.9v9.3h-5.9zM1859 770.1h5.9v9.3h-5.9zM1880.5 770.1h9.5v9.3h-9.5zM1622.8 796.6h5.9v12.8h-5.9z"/>
<path fill="#fb7e21" d="M313.3 679.4h4.8v4.9h-4.8zM347.7 679.4h4.8v4.9h-4.8zM278.9 683.8h4.8v4.9h-4.8zM291.8 683.8h4.8v4.9h-4.8zM321.9 683.8h4.8v4.9h-4.8zM334.8 683.8h4.8v4.9h-4.8zM360.6 683.8h13.4v4.9h-13.4zM390.7 683.8h4.8v4.9h-4.8zM455.2 683.8h4.8v4.9h-4.8zM463.8 683.8h4.8v4.9h-4.8zM506.8 683.8h4.8v4.9h-4.8zM360.6 688.2h4.8v5h-4.8zM390.7 688.2h4.8v5h-4.8zM98.3 701.5h4.8v4.9h-4.8zM106.9 701.5h4.8v4.9h-4.8zM115.5 701.5h17.7v4.9h-17.7zM141.3 701.5h9.1v4.9h-9.1zM154.2 701.5h9.1v4.9h-9.1zM167.1 701.5h4.8v4.9h-4.8zM188.6 701.5h9.1v4.9h-9.1zM240.2 701.5h4.8v4.9h-4.8zM248.8 701.5h4.8v4.9h-4.8zM257.4 701.5h4.8v4.9h-4.8zM261.7 744.6h4.8v8.3h-4.8zM124.1 770.1h4.8v9.3h-4.8zM141.3 770.1h4.8v9.3h-4.8zM154.2 770.1h9.1v9.3h-9.1zM171.4 770.1h4.8v9.3h-4.8zM184.3 770.1h9.1v9.3h-9.1zM214.4 770.1h4.8v9.3h-4.8zM231.6 770.1h13.4v9.3h-13.4zM685.6 679.4h6.2v4.9h-6.2zM708.6 679.4h6.2v4.9h-6.2zM570.6 683.8h6.2v4.9h-6.2zM668.4 683.8h6.2v4.9h-6.2zM685.6 683.8h6.2v4.9h-6.2zM616.6 688.2h6.2v5h-6.2zM662.6 688.2h6.2v5h-6.2zM697.1 688.2h6.2v5h-6.2zM645.4 692.7h6.2v4.9h-6.2zM766.1 697.1h6.2v4.9h-6.2zM754.6 701.5h6.2v4.9h-6.2zM806.4 701.5h6.2v4.9h-6.2zM823.6 701.5h12v4.9h-12zM840.9 701.5h6.2v4.9h-6.2zM852.4 701.5h6.2v4.9h-6.2zM869.6 701.5h6.2v4.9h-6.2zM898.4 701.5h6.2v4.9h-6.2zM932.9 701.5h6.2v4.9h-6.2zM967.4 701.5h3.6v4.9h-3.6zM731.6 710.4h6.2v4.9h-6.2zM743.1 723.6h12v5h-12zM743.1 752.4h6.2v9.3h-6.2zM662.6 761.2h6.2v9.4h-6.2zM685.6 761.2h6.2v9.4h-6.2zM697.1 761.2h6.2v9.4h-6.2zM708.6 761.2h6.2v9.4h-6.2zM743.1 761.2h6.2v9.4h-6.2zM783.4 770.1h6.2v9.3h-6.2zM852.4 770.1h6.2v9.3h-6.2zM875.4 770.1h6.2v9.3h-6.2zM892.6 770.1h6.2v9.3h-6.2zM909.9 770.1h6.2v9.3h-6.2zM938.6 770.1h6.2v9.3h-6.2zM955.9 770.1h15.1v9.3h-15.1zM1127.3 683.8h6v4.9h-6zM1078.3 688.2h6v5h-6zM1187.3 705.9h11.4v5h-11.4zM1203.7 705.9h22.3v5h-22.3zM1236.3 705.9h11.4v5h-11.4zM1252.7 705.9h6v5h-6zM1285.4 705.9h22.3v5h-22.3zM1323.5 705.9h6v5h-6zM1339.9 705.9h11.4v5h-11.4zM1361.7 705.9h6v5h-6zM1372.6 705.9h6v5h-6zM1383.5 705.9h16.8v5h-16.8zM1405.3 705.9h16.9v5h-16.9zM1176.4 796.6h5.9v12.8h-5.9zM1203.7 796.6h11.4v12.8h-11.4zM1225.5 796.6h11.4v12.8h-11.4zM1241.8 796.6h6v12.8h-6zM1269 796.6h6v12.8h-6zM1280 796.6h6v12.8h-6zM1290.8 796.6h11.4v12.8h-11.4zM1334.5 796.6h6v12.8h-6zM1345.3 796.6h6v12.8h-6zM1383.5 796.6h6v12.8h-6zM1405.3 796.6h11.4v12.8h-11.4zM1789.2 679.4h5.9v4.9h-5.9zM1692.6 683.8h5.9v4.9h-5.9zM1821.5 683.8h5.9v4.9h-5.9zM1472.4 701.5h5.9v4.9h-5.9zM1483.1 701.5h5.9v4.9h-5.9zM1526.1 701.5h16.6v4.9h-16.6zM1547.6 701.5h5.9v4.9h-5.9zM1558.3 701.5h5.9v4.9h-5.9zM1569.1 701.5h16.6v4.9h-16.6zM1606.7 701.5h5.9v4.9h-5.9zM1730.2 744.6h5.9v8.3h-5.9zM1773.1 744.6h5.9v8.3h-5.9zM1800 761.2h5.9v9.4h-5.9zM1800 770.1h5.9v9.3h-5.9zM1493.9 796.6h5.9v12.8h-5.9zM1520.7 796.6h5.9v12.8h-5.9zM1536.8 796.6h5.9v12.8h-5.9zM1585.2 796.6h5.9v12.8h-5.9zM1617.4 796.6h5.9v12.8h-5.9zM1633.5 796.6h5.9v12.8h-5.9z"/>
<path fill="#b9f635" d="M98.3 683.8h4.8v4.9h-4.8zM227.3 683.8h4.8v4.9h-4.8zM141.3 688.2h4.8v5h-4.8zM149.9 688.2h9.1v5h-9.1zM162.8 688.2h4.8v5h-4.8zM188.6 688.2h13.4v5h-13.4zM205.8 688.2h4.8v5h-4.8zM214.4 688.2h4.8v5h-4.8zM235.9 688.2h9.1v5h-9.1zM257.4 688.2h4.8v5h-4.8zM278.9 710.4h4.8v4.9h-4.8zM304.7 714.8h4.8v4.9h-4.8zM326.2 714.8h4.8v4.9h-4.8zM390.7 714.8h4.8v4.9h-4.8zM438 714.8h4.8v4.9h-4.8zM455.2 714.8h4.8v4.9h-4.8zM498.2 714.8h9.1v4.9h-9.1zM274.6 719.2h13.4v4.9h-13.4zM296.1 719.2h4.8v4.9h-4.8zM304.7 719.2h4.8v4.9h-4.8zM317.6 719.2h4.8v4.9h-4.8zM356.3 719.2h4.8v4.9h-4.8zM364.9 719.2h9.1v4.9h-9.1zM386.4 719.2h4.8v4.9h-4.8zM395 719.2h4.8v4.9h-4.8zM416.5 719.2h9.1v4.9h-9.1zM429.4 719.2h4.8v4.9h-4.8zM455.2 719.2h4.8v4.9h-4.8zM463.8 719.2h4.8v4.9h-4.8zM347.7 723.6h4.8v5h-4.8zM429.4 723.6h9.1v5h-9.1zM446.6 723.6h9.1v5h-9.1zM266 744.6h4.8v8.3h-4.8zM321.9 744.6h4.8v8.3h-4.8zM274.6 752.4h4.8v9.3h-4.8zM321.9 752.4h4.8v9.3h-4.8zM446.6 752.4h4.8v9.3h-4.8zM463.8 752.4h4.8v9.3h-4.8zM270.3 761.2h4.8v9.4h-4.8zM283.2 761.2h4.8v9.4h-4.8zM377.8 761.2h4.8v9.4h-4.8zM459.5 761.2h4.8v9.4h-4.8zM468.1 761.2h4.8v9.4h-4.8zM502.5 761.2h4.8v9.4h-4.8zM330.5 770.1h4.8v9.3h-4.8zM98.3 787.8h9.1v9.3h-9.1zM111.2 787.8h4.8v9.3h-4.8zM119.8 787.8h4.8v9.3h-4.8zM171.4 787.8h4.8v9.3h-4.8zM205.8 787.8h4.8v9.3h-4.8zM248.8 787.8h4.8v9.3h-4.8zM257.4 787.8h4.8v9.3h-4.8zM553.4 670.5h6.2v5h-6.2zM622.4 670.5h6.2v5h-6.2zM633.9 670.5h6.2v5h-6.2zM662.6 670.5h6.2v5h-6.2zM674.1 670.5h6.2v5h-6.2zM708.6 670.5h6.2v5h-6.2zM760.4 675h6.2v4.9h-6.2zM777.6 675h6.2v4.9h-6.2zM800.6 675h17.8v4.9h-17.8zM892.6 675h6.2v4.9h-6.2zM760.4 679.4h6.2v4.9h-6.2zM794.9 679.4h6.2v4.9h-6.2zM806.4 679.4h6.2v4.9h-6.2zM817.9 679.4h6.2v4.9h-6.2zM840.9 679.4h6.2v4.9h-6.2zM892.6 679.4h6.2v4.9h-6.2zM904.1 679.4h6.2v4.9h-6.2zM794.9 683.8h6.2v4.9h-6.2zM806.4 683.8h6.2v4.9h-6.2zM823.6 683.8h6.2v4.9h-6.2zM835.1 683.8h17.8v4.9h-17.8zM961.6 683.8h6.2v4.9h-6.2zM656.9 714.8h6.2v4.9h-6.2zM668.4 714.8h6.2v4.9h-6.2zM593.6 719.2h12v4.9h-12zM645.4 719.2h6.2v4.9h-6.2zM668.4 719.2h6.2v4.9h-6.2zM691.4 719.2h6.2v4.9h-6.2zM564.9 723.6h6.2v5h-6.2zM610.9 723.6h6.2v5h-6.2zM639.6 723.6h6.2v5h-6.2zM656.9 723.6h6.2v5h-6.2zM725.9 723.6h6.2v5h-6.2zM668.4 744.6h12v8.3h-12zM639.6 752.4h6.2v9.3h-6.2zM553.4 770.1h6.2v9.3h-6.2zM587.9 770.1h6.2v9.3h-6.2zM633.9 770.1h6.2v9.3h-6.2zM582.1 778.9h6.2v9.4h-6.2zM593.6 778.9h6.2v9.4h-6.2zM639.6 778.9h6.2v9.4h-6.2zM697.1 778.9h6.2v9.4h-6.2zM737.4 778.9h6.2v9.4h-6.2zM1176.4 692.7h5.9v4.9h-5.9zM1203.7 692.7h5.9v4.9h-5.9zM1252.7 692.7h6v4.9h-6zM1296.3 692.7h6v4.9h-6zM1389 697.1h11.4v4.9h-11.4zM1012.9 705.9h6v5h-6zM1029.2 705.9h6v5h-6zM1072.8 705.9h6v5h-6zM1089.2 705.9h11.4v5h-11.4zM1132.8 705.9h6v5h-6zM1143.7 705.9h6v5h-6zM1023.8 710.4h6v4.9h-6zM1072.8 710.4h6v4.9h-6zM1094.7 710.4h5.9v4.9h-5.9zM1105.5 710.4h6v4.9h-6zM1094.7 744.6h5.9v8.3h-5.9zM1127.3 778.9h6v9.4h-6zM1040.2 796.6h11.4v12.8h-11.4zM1714.1 670.5h5.9v5h-5.9zM1773.1 670.5h5.9v5h-5.9zM1493.9 692.7h5.9v4.9h-5.9zM1504.6 692.7h5.9v4.9h-5.9zM1536.8 692.7h5.9v4.9h-5.9zM1574.4 692.7h11.2v4.9h-11.2zM1622.8 692.7h5.9v4.9h-5.9zM1638.9 692.7h5.9v4.9h-5.9zM1714.1 705.9h5.9v5h-5.9zM1751.6 705.9h5.9v5h-5.9zM1800 705.9h5.9v5h-5.9zM1810.7 705.9h5.9v5h-5.9zM1837.6 705.9h5.9v5h-5.9zM1853.7 705.9h5.9v5h-5.9zM1880.5 705.9h5.9v5h-5.9zM1751.6 710.4h11.2v4.9h-11.2zM1789.2 710.4h5.9v4.9h-5.9zM1810.7 710.4h5.9v4.9h-5.9zM1821.5 710.4h5.9v4.9h-5.9zM1864.4 710.4h5.9v4.9h-5.9zM1767.8 714.8h5.9v4.9h-5.9z"/>
<path fill="#f46617" d="M111.2 701.5h4.8v4.9h-4.8zM162.8 701.5h4.8v4.9h-4.8zM223 701.5h4.8v4.9h-4.8zM231.6 701.5h4.8v4.9h-4.8zM115.5 770.1h4.8v9.3h-4.8zM132.7 770.1h4.8v9.3h-4.8zM197.2 770.1h4.8v9.3h-4.8zM218.7 770.1h4.8v9.3h-4.8zM766.1 701.5h12v4.9h-12zM789.1 701.5h6.2v4.9h-6.2zM800.6 701.5h6.2v4.9h-6.2zM835.1 701.5h6.2v4.9h-6.2zM875.4 701.5h6.2v4.9h-6.2zM886.9 701.5h6.2v4.9h-6.2zM927.1 701.5h6.2v4.9h-6.2zM961.6 701.5h6.2v4.9h-6.2zM892.6 705.9h6.2v5h-6.2zM737.4 710.4h6.2v4.9h-6.2zM748.9 744.6h6.2v8.3h-6.2zM1258.2 705.9h5.9v5h-5.9zM1329 705.9h6v5h-6zM1181.8 752.4h6v9.3h-6zM1160 778.9h6v9.4h-6zM1171 787.8h11.4v9.3h-11.4zM1247.2 796.6h6v12.8h-6zM1263.6 796.6h6v12.8h-6zM1274.5 796.6h6v12.8h-6zM1285.4 796.6h5.9v12.8h-5.9zM1350.8 796.6h6v12.8h-6zM1389 796.6h6v12.8h-6zM1421.7 796.6h5.9v12.8h-5.9zM1499.2 701.5h5.9v4.9h-5.9zM1730.2 736.9h5.9v8.2h-5.9zM1703.3 744.6h5.9v8.3h-5.9zM1778.5 752.4h5.9v9.3h-5.9zM1687.2 761.2h5.9v9.4h-5.9zM1805.3 761.2h5.9v9.4h-5.9zM1472.4 796.6h5.9v12.8h-5.9zM1526.1 796.6h5.9v12.8h-5.9zM1542.2 796.6h5.9v12.8h-5.9zM1553 796.6h11.2v12.8h-11.2zM1574.4 796.6h5.9v12.8h-5.9zM1601.3 796.6h16.6v12.8h-16.6zM1628.1 796.6h5.9v12.8h-5.9z"/>
<path fill="#f8721c" d="M132.7 701.5h9.1v4.9h-9.1zM175.7 701.5h4.8v4.9h-4.8zM210.1 701.5h4.8v4.9h-4.8zM235.9 701.5h4.8v4.9h-4.8zM253.1 701.5h4.8v4.9h-4.8zM94 770.1h4.8v9.3h-4.8zM111.2 770.1h4.8v9.3h-4.8zM128.4 770.1h4.8v9.3h-4.8zM145.6 770.1h4.8v9.3h-4.8zM162.8 770.1h4.8v9.3h-4.8zM180 770.1h4.8v9.3h-4.8zM201.5 770.1h9.1v9.3h-9.1zM223 770.1h4.8v9.3h-4.8zM248.8 770.1h9.1v9.3h-9.1zM702.9 688.2h6.2v5h-6.2zM869.6 697.1h6.2v4.9h-6.2zM760.4 701.5h6.2v4.9h-6.2zM777.6 701.5h12v4.9h-12zM794.9 701.5h6.2v4.9h-6.2zM812.1 701.5h6.2v4.9h-6.2zM846.6 701.5h6.2v4.9h-6.2zM858.1 701.5h12v4.9h-12zM904.1 701.5h6.2v4.9h-6.2zM915.6 701.5h6.2v4.9h-6.2zM955.9 701.5h6.2v4.9h-6.2zM731.6 705.9h6.2v5h-6.2zM743.1 705.9h6.2v5h-6.2zM731.6 714.8h6.2v4.9h-6.2zM737.4 728.1h6.2v9.3h-6.2zM743.1 744.6h6.2v8.3h-6.2zM679.9 761.2h6.2v9.4h-6.2zM702.9 761.2h6.2v9.4h-6.2zM789.1 770.1h6.2v9.3h-6.2zM904.1 770.1h6.2v9.3h-6.2zM1171 705.9h11.4v5h-11.4zM1198.2 705.9h6v5h-6zM1263.6 705.9h6v5h-6zM1280 705.9h6v5h-6zM1312.7 705.9h5.9v5h-5.9zM1334.5 705.9h6v5h-6zM1367.2 705.9h5.9v5h-5.9zM1378 705.9h6v5h-6zM1399.8 705.9h6v5h-6zM1427.1 705.9h3.4v5h-3.4zM1160 714.8h6v4.9h-6zM1181.8 736.9h6v8.2h-6zM1181.8 744.6h6v8.3h-6zM1187.3 796.6h11.4v12.8h-11.4zM1214.5 796.6h11.4v12.8h-11.4zM1236.3 796.6h6v12.8h-6zM1252.7 796.6h11.4v12.8h-11.4zM1307.2 796.6h11.4v12.8h-11.4zM1329 796.6h6v12.8h-6zM1367.2 796.6h16.8v12.8h-16.8zM1394.4 796.6h11.4v12.8h-11.4zM1416.2 796.6h6v12.8h-6zM1427.1 796.6h3.4v12.8h-3.4zM1488.5 701.5h5.9v4.9h-5.9zM1510 701.5h11.2v4.9h-11.2zM1542.2 701.5h5.9v4.9h-5.9zM1585.2 701.5h5.9v4.9h-5.9zM1601.3 701.5h5.9v4.9h-5.9zM1638.9 701.5h11.2v4.9h-11.2zM1714.1 744.6h11.2v8.3h-11.2zM1740.9 744.6h5.9v8.3h-5.9zM1762.4 744.6h11.2v8.3h-11.2zM1687.2 752.4h5.9v9.3h-5.9zM1773.1 752.4h5.9v9.3h-5.9zM1789.2 752.4h5.9v9.3h-5.9zM1783.9 761.2h5.9v9.4h-5.9zM1885.9 761.2h4.1v9.4h-4.1zM1483.1 796.6h11.2v12.8h-11.2zM1499.2 796.6h11.2v12.8h-11.2zM1531.5 796.6h5.9v12.8h-5.9zM1547.6 796.6h5.9v12.8h-5.9zM1563.7 796.6h5.9v12.8h-5.9zM1579.8 796.6h5.9v12.8h-5.9zM1595.9 796.6h5.9v12.8h-5.9zM1638.9 796.6h5.9v12.8h-5.9z"/>
<path fill="#f05b12" d="M149.9 701.5h4.8v4.9h-4.8zM244.5 705.9h4.8v5h-4.8zM835.1 705.9h6.2v5h-6.2zM881.1 705.9h6.2v5h-6.2zM898.4 705.9h6.2v5h-6.2zM737.4 714.8h6.2v4.9h-6.2zM731.6 719.2h6.2v4.9h-6.2zM731.6 728.1h6.2v9.3h-6.2zM737.4 736.9h6.2v8.2h-6.2zM731.6 752.4h6.2v9.3h-6.2zM875.4 761.2h6.2v9.4h-6.2zM1214.5 710.4h6v4.9h-6zM1318.1 710.4h11.4v4.9h-11.4zM1160 719.2h6v4.9h-6zM1165.5 787.8h6v9.3h-6zM1198.2 787.8h6v9.3h-6zM1252.7 787.8h6v9.3h-6zM1323.5 787.8h6v9.3h-6zM1367.2 787.8h5.9v9.3h-5.9zM1383.5 787.8h6v9.3h-6zM1323.5 796.6h6v12.8h-6zM1339.9 796.6h5.9v12.8h-5.9zM1361.7 796.6h6v12.8h-6zM1628.1 705.9h11.2v5h-11.2zM1692.6 752.4h5.9v9.3h-5.9zM1628.1 787.8h5.9v9.3h-5.9zM1477.8 796.6h5.9v12.8h-5.9zM1515.4 796.6h5.9v12.8h-5.9zM1569.1 796.6h5.9v12.8h-5.9z"/>
<path fill="#d63506" d="M94 705.9h4.8v5h-4.8zM162.8 705.9h4.8v5h-4.8zM253.1 705.9h4.8v5h-4.8zM94 710.4h4.8v4.9h-4.8zM102.6 710.4h13.4v4.9h-13.4zM132.7 710.4h4.8v4.9h-4.8zM141.3 710.4h9.1v4.9h-9.1zM158.5 710.4h4.8v4.9h-4.8zM188.6 710.4h4.8v4.9h-4.8zM197.2 710.4h4.8v4.9h-4.8zM205.8 710.4h4.8v4.9h-4.8zM218.7 710.4h4.8v4.9h-4.8zM227.3 710.4h4.8v4.9h-4.8zM244.5 710.4h4.8v4.9h-4.8zM253.1 710.4h4.8v4.9h-4.8zM94 761.2h9.1v9.4h-9.1zM141.3 761.2h9.1v9.4h-9.1zM158.5 761.2h13.4v9.4h-13.4zM175.7 761.2h9.1v9.4h-9.1zM188.6 761.2h4.8v9.4h-4.8zM205.8 761.2h4.8v9.4h-4.8zM218.7 761.2h4.8v9.4h-4.8zM227.3 761.2h4.8v9.4h-4.8zM244.5 761.2h4.8v9.4h-4.8zM253.1 761.2h4.8v9.4h-4.8zM771.9 710.4h6.2v4.9h-6.2zM783.4 710.4h12v4.9h-12zM835.1 710.4h23.5v4.9h-23.5zM863.9 710.4h12v4.9h-12zM892.6 710.4h6.2v4.9h-6.2zM909.9 710.4h23.5v4.9h-23.5zM944.4 710.4h6.2v4.9h-6.2zM955.9 710.4h6.2v4.9h-6.2zM967.4 710.4h3.6v4.9h-3.6zM1171 714.8h6v4.9h-6zM1187.3 714.8h6v4.9h-6zM1209.1 714.8h16.9v4.9h-16.9zM1241.8 714.8h16.9v4.9h-16.9zM1263.6 714.8h6v4.9h-6zM1280 714.8h27.8v4.9h-27.8zM1345.3 714.8h6v4.9h-6zM1356.2 714.8h11.4v4.9h-11.4zM1372.6 714.8h6v4.9h-6zM1389 714.8h6v4.9h-6zM1399.8 714.8h6v4.9h-6zM1427.1 714.8h3.4v4.9h-3.4zM1160 744.6h6v8.3h-6zM1160 770.1h6v9.3h-6zM1165.5 778.9h6v9.4h-6zM1483.1 710.4h5.9v4.9h-5.9zM1531.5 710.4h5.9v4.9h-5.9zM1542.2 710.4h5.9v4.9h-5.9zM1563.7 710.4h11.2v4.9h-11.2zM1585.2 710.4h5.9v4.9h-5.9zM1601.3 710.4h5.9v4.9h-5.9zM1612 710.4h5.9v4.9h-5.9zM1622.8 710.4h22v4.9h-22zM1649.6 710.4h11.2v4.9h-11.2zM1628.1 714.8h5.9v4.9h-5.9zM1649.6 714.8h11.2v4.9h-11.2zM1472.4 778.9h5.9v9.4h-5.9zM1483.1 778.9h5.9v9.4h-5.9zM1493.9 778.9h5.9v9.4h-5.9zM1504.6 778.9h11.2v9.4h-11.2zM1526.1 778.9h5.9v9.4h-5.9zM1536.8 778.9h5.9v9.4h-5.9zM1547.6 778.9h27.3v9.4h-27.3zM1579.8 778.9h11.2v9.4h-11.2zM1606.7 778.9h11.2v9.4h-11.2zM1622.8 778.9h5.9v9.4h-5.9z"/>
<path fill="#e4450a" d="M98.3 705.9h4.8v5h-4.8zM124.1 705.9h4.8v5h-4.8zM132.7 705.9h13.4v5h-13.4zM154.2 705.9h4.8v5h-4.8zM175.7 705.9h4.8v5h-4.8zM188.6 705.9h4.8v5h-4.8zM201.5 705.9h9.1v5h-9.1zM218.7 705.9h9.1v5h-9.1zM231.6 705.9h4.8v5h-4.8zM240.2 705.9h4.8v5h-4.8zM248.8 705.9h4.8v5h-4.8zM106.9 761.2h4.8v9.4h-4.8zM777.6 705.9h23.5v5h-23.5zM806.4 705.9h17.8v5h-17.8zM829.4 705.9h6.2v5h-6.2zM846.6 705.9h35v5h-35zM886.9 705.9h6.2v5h-6.2zM909.9 705.9h6.2v5h-6.2zM927.1 705.9h12v5h-12zM955.9 705.9h12v5h-12zM737.4 723.6h6.2v5h-6.2zM731.6 744.6h12v8.3h-12zM737.4 752.4h6.2v9.3h-6.2zM766.1 761.2h6.2v9.4h-6.2zM777.6 761.2h12v9.4h-12zM794.9 761.2h12v9.4h-12zM812.1 761.2h6.2v9.4h-6.2zM835.1 761.2h29.2v9.4h-29.2zM881.1 761.2h23.5v9.4h-23.5zM915.6 761.2h6.2v9.4h-6.2zM938.6 761.2h6.2v9.4h-6.2zM950.1 761.2h6.2v9.4h-6.2zM967.4 761.2h3.6v9.4h-3.6zM1192.8 710.4h16.8v4.9h-16.8zM1241.8 710.4h6v4.9h-6zM1252.7 710.4h11.4v4.9h-11.4zM1269 710.4h6v4.9h-6zM1285.4 710.4h5.9v4.9h-5.9zM1312.7 710.4h5.9v4.9h-5.9zM1329 710.4h6v4.9h-6zM1339.9 710.4h11.4v4.9h-11.4zM1361.7 710.4h22.3v4.9h-22.3zM1389 710.4h6v4.9h-6zM1405.3 710.4h25.2v4.9h-25.2zM1181.8 761.2h6v9.4h-6zM1181.8 770.1h6v9.3h-6zM1214.5 787.8h11.4v9.3h-11.4zM1230.9 787.8h11.4v9.3h-11.4zM1269 787.8h6v9.3h-6zM1285.4 787.8h22.3v9.3h-22.3zM1339.9 787.8h11.4v9.3h-11.4zM1378 787.8h6v9.3h-6zM1394.4 787.8h5.9v9.3h-5.9zM1488.5 705.9h5.9v5h-5.9zM1510 705.9h16.6v5h-16.6zM1531.5 705.9h5.9v5h-5.9zM1569.1 705.9h5.9v5h-5.9zM1585.2 705.9h5.9v5h-5.9zM1595.9 705.9h5.9v5h-5.9zM1617.4 705.9h5.9v5h-5.9zM1638.9 705.9h5.9v5h-5.9zM1595.9 710.4h5.9v4.9h-5.9zM1644.2 710.4h5.9v4.9h-5.9zM1488.5 787.8h5.9v9.3h-5.9zM1510 787.8h43.5v9.3h-43.5zM1558.3 787.8h11.2v9.3h-11.2zM1574.4 787.8h5.9v9.3h-5.9zM1585.2 787.8h5.9v9.3h-5.9zM1595.9 787.8h5.9v9.3h-5.9zM1606.7 787.8h5.9v9.3h-5.9zM1622.8 787.8h5.9v9.3h-5.9zM1633.5 787.8h5.9v9.3h-5.9z"/>
<path fill="#ea4e0d" d="M102.6 705.9h4.8v5h-4.8zM115.5 705.9h9.1v5h-9.1zM149.9 705.9h4.8v5h-4.8zM158.5 705.9h4.8v5h-4.8zM184.3 705.9h4.8v5h-4.8zM192.9 705.9h9.1v5h-9.1zM257.4 705.9h4.8v5h-4.8zM257.4 710.4h4.8v4.9h-4.8zM257.4 761.2h4.8v9.4h-4.8zM892.6 701.5h6.2v4.9h-6.2zM754.6 705.9h12v5h-12zM800.6 705.9h6.2v5h-6.2zM823.6 705.9h6.2v5h-6.2zM840.9 705.9h6.2v5h-6.2zM915.6 705.9h12v5h-12zM938.6 705.9h17.8v5h-17.8zM967.4 705.9h3.6v5h-3.6zM737.4 719.2h6.2v4.9h-6.2zM731.6 723.6h6.2v5h-6.2zM731.6 736.9h6.2v8.2h-6.2zM754.6 761.2h12v9.4h-12zM789.1 761.2h6.2v9.4h-6.2zM817.9 761.2h17.8v9.4h-17.8zM863.9 761.2h12v9.4h-12zM909.9 761.2h6.2v9.4h-6.2zM921.4 761.2h17.8v9.4h-17.8zM944.4 761.2h6.2v9.4h-6.2zM955.9 761.2h12v9.4h-12zM1165.5 710.4h16.8v4.9h-16.8zM1187.3 710.4h6v4.9h-6zM1209.1 710.4h6v4.9h-6zM1225.5 710.4h16.8v4.9h-16.8zM1247.2 710.4h6v4.9h-6zM1263.6 710.4h6v4.9h-6zM1274.5 710.4h11.4v4.9h-11.4zM1290.8 710.4h22.3v4.9h-22.3zM1334.5 710.4h6v4.9h-6zM1350.8 710.4h11.4v4.9h-11.4zM1383.5 710.4h6v4.9h-6zM1394.4 710.4h11.4v4.9h-11.4zM1160 723.6h6v5h-6zM1187.3 787.8h11.4v9.3h-11.4zM1203.7 787.8h11.4v9.3h-11.4zM1225.5 787.8h6v9.3h-6zM1241.8 787.8h11.4v9.3h-11.4zM1258.2 787.8h11.4v9.3h-11.4zM1274.5 787.8h6v9.3h-6zM1307.2 787.8h6v9.3h-6zM1318.1 787.8h6v9.3h-6zM1329 787.8h11.4v9.3h-11.4zM1361.7 787.8h6v9.3h-6zM1372.6 787.8h6v9.3h-6zM1389 787.8h6v9.3h-6zM1399.8 787.8h16.9v9.3h-16.9zM1427.1 787.8h3.4v9.3h-3.4zM1493.9 705.9h5.9v5h-5.9zM1590.5 705.9h5.9v5h-5.9zM1606.7 705.9h11.2v5h-11.2zM1622.8 705.9h5.9v5h-5.9zM1644.2 705.9h5.9v5h-5.9zM1655 705.9h5.9v5h-5.9zM1697.9 752.4h5.9v9.3h-5.9zM1472.4 787.8h16.6v9.3h-16.6zM1493.9 787.8h16.6v9.3h-16.6zM1553 787.8h5.9v9.3h-5.9zM1569.1 787.8h5.9v9.3h-5.9zM1579.8 787.8h5.9v9.3h-5.9zM1601.3 787.8h5.9v9.3h-5.9zM1612 787.8h11.2v9.3h-11.2zM1638.9 787.8h5.9v9.3h-5.9zM1510 796.6h5.9v12.8h-5.9zM1590.5 796.6h5.9v12.8h-5.9z"/>
<path fill="#dd3d08" d="M106.9 705.9h9.1v5h-9.1zM128.4 705.9h4.8v5h-4.8zM145.6 705.9h4.8v5h-4.8zM167.1 705.9h9.1v5h-9.1zM180 705.9h4.8v5h-4.8zM210.1 705.9h9.1v5h-9.1zM227.3 705.9h4.8v5h-4.8zM235.9 705.9h4.8v5h-4.8zM137 710.4h4.8v4.9h-4.8zM235.9 710.4h4.8v4.9h-4.8zM102.6 761.2h4.8v9.4h-4.8zM111.2 761.2h4.8v9.4h-4.8zM119.8 761.2h22v9.4h-22zM149.9 761.2h9.1v9.4h-9.1zM184.3 761.2h4.8v9.4h-4.8zM192.9 761.2h13.4v9.4h-13.4zM210.1 761.2h4.8v9.4h-4.8zM223 761.2h4.8v9.4h-4.8zM235.9 761.2h9.1v9.4h-9.1zM766.1 705.9h12v5h-12zM904.1 705.9h6.2v5h-6.2zM766.1 710.4h6.2v4.9h-6.2zM898.4 710.4h6.2v4.9h-6.2zM771.9 761.2h6.2v9.4h-6.2zM806.4 761.2h6.2v9.4h-6.2zM904.1 761.2h6.2v9.4h-6.2zM1220 710.4h6v4.9h-6zM1165.5 714.8h6v4.9h-6zM1176.4 714.8h5.9v4.9h-5.9zM1323.5 714.8h11.4v4.9h-11.4zM1160 728.1h6v9.3h-6zM1160 736.9h6v8.2h-6zM1171 778.9h6v9.4h-6zM1280 787.8h6v9.3h-6zM1312.7 787.8h5.9v9.3h-5.9zM1350.8 787.8h11.4v9.3h-11.4zM1416.2 787.8h11.4v9.3h-11.4zM1472.4 705.9h16.6v5h-16.6zM1499.2 705.9h11.2v5h-11.2zM1526.1 705.9h5.9v5h-5.9zM1536.8 705.9h32.7v5h-32.7zM1574.4 705.9h11.2v5h-11.2zM1601.3 705.9h5.9v5h-5.9zM1649.6 705.9h5.9v5h-5.9zM1515.4 710.4h5.9v4.9h-5.9zM1553 710.4h11.2v4.9h-11.2zM1574.4 710.4h5.9v4.9h-5.9zM1590.5 710.4h5.9v4.9h-5.9zM1606.7 710.4h5.9v4.9h-5.9zM1590.5 778.9h5.9v9.4h-5.9zM1628.1 778.9h5.9v9.4h-5.9zM1590.5 787.8h5.9v9.3h-5.9z"/>
<path fill="#cc2b04" d="M98.3 710.4h4.8v4.9h-4.8zM115.5 710.4h17.7v4.9h-17.7zM149.9 710.4h4.8v4.9h-4.8zM171.4 710.4h9.1v4.9h-9.1zM184.3 710.4h4.8v4.9h-4.8zM192.9 710.4h4.8v4.9h-4.8zM201.5 710.4h4.8v4.9h-4.8zM210.1 710.4h9.1v4.9h-9.1zM223 710.4h4.8v4.9h-4.8zM231.6 710.4h4.8v4.9h-4.8zM240.2 710.4h4.8v4.9h-4.8zM248.8 710.4h4.8v4.9h-4.8zM119.8 714.8h9.1v4.9h-9.1zM214.4 714.8h9.1v4.9h-9.1zM248.8 714.8h4.8v4.9h-4.8zM257.4 714.8h4.8v4.9h-4.8zM115.5 761.2h4.8v9.4h-4.8zM171.4 761.2h4.8v9.4h-4.8zM214.4 761.2h4.8v9.4h-4.8zM231.6 761.2h4.8v9.4h-4.8zM248.8 761.2h4.8v9.4h-4.8zM754.6 710.4h12v4.9h-12zM777.6 710.4h6.2v4.9h-6.2zM800.6 710.4h6.2v4.9h-6.2zM812.1 710.4h23.5v4.9h-23.5zM875.4 710.4h17.8v4.9h-17.8zM932.9 710.4h12v4.9h-12zM950.1 710.4h6.2v4.9h-6.2zM961.6 710.4h6.2v4.9h-6.2zM789.1 714.8h6.2v4.9h-6.2zM840.9 714.8h12v4.9h-12zM886.9 714.8h6.2v4.9h-6.2zM904.1 714.8h6.2v4.9h-6.2zM950.1 714.8h6.2v4.9h-6.2zM1192.8 714.8h16.8v4.9h-16.8zM1225.5 714.8h16.8v4.9h-16.8zM1258.2 714.8h5.9v4.9h-5.9zM1269 714.8h11.4v4.9h-11.4zM1307.2 714.8h16.8v4.9h-16.8zM1334.5 714.8h6v4.9h-6zM1350.8 714.8h6v4.9h-6zM1367.2 714.8h5.9v4.9h-5.9zM1378 714.8h6v4.9h-6zM1405.3 714.8h11.4v4.9h-11.4zM1421.7 714.8h5.9v4.9h-5.9zM1171 719.2h6v4.9h-6zM1160 752.4h6v9.3h-6zM1160 761.2h6v9.4h-6zM1236.3 778.9h6v9.4h-6zM1252.7 778.9h6v9.4h-6zM1274.5 778.9h6v9.4h-6zM1356.2 778.9h11.4v9.4h-11.4zM1394.4 778.9h5.9v9.4h-5.9zM1405.3 778.9h6v9.4h-6zM1472.4 710.4h11.2v4.9h-11.2zM1488.5 710.4h16.6v4.9h-16.6zM1510 710.4h5.9v4.9h-5.9zM1520.7 710.4h5.9v4.9h-5.9zM1536.8 710.4h5.9v4.9h-5.9zM1547.6 710.4h5.9v4.9h-5.9zM1579.8 710.4h5.9v4.9h-5.9zM1617.4 710.4h5.9v4.9h-5.9zM1526.1 714.8h16.6v4.9h-16.6zM1585.2 714.8h5.9v4.9h-5.9zM1606.7 714.8h22v4.9h-22zM1633.5 714.8h11.2v4.9h-11.2zM1477.8 778.9h5.9v9.4h-5.9zM1488.5 778.9h5.9v9.4h-5.9zM1499.2 778.9h5.9v9.4h-5.9zM1520.7 778.9h5.9v9.4h-5.9zM1531.5 778.9h5.9v9.4h-5.9zM1542.2 778.9h5.9v9.4h-5.9zM1595.9 778.9h11.2v9.4h-11.2zM1617.4 778.9h5.9v9.4h-5.9zM1638.9 778.9h5.9v9.4h-5.9z"/>
<path fill="#c32503" d="M154.2 710.4h4.8v4.9h-4.8zM162.8 710.4h9.1v4.9h-9.1zM180 710.4h4.8v4.9h-4.8zM94 714.8h13.4v4.9h-13.4zM128.4 714.8h4.8v4.9h-4.8zM137 714.8h4.8v4.9h-4.8zM149.9 714.8h9.1v4.9h-9.1zM184.3 714.8h4.8v4.9h-4.8zM235.9 714.8h9.1v4.9h-9.1zM257.4 719.2h4.8v4.9h-4.8zM257.4 723.6h4.8v5h-4.8zM794.9 710.4h6.2v4.9h-6.2zM806.4 710.4h6.2v4.9h-6.2zM858.1 710.4h6.2v4.9h-6.2zM904.1 710.4h6.2v4.9h-6.2zM754.6 714.8h29.2v4.9h-29.2zM794.9 714.8h17.8v4.9h-17.8zM817.9 714.8h6.2v4.9h-6.2zM852.4 714.8h23.5v4.9h-23.5zM892.6 714.8h12v4.9h-12zM909.9 714.8h17.8v4.9h-17.8zM944.4 714.8h6.2v4.9h-6.2zM961.6 714.8h9.4v4.9h-9.4zM1339.9 714.8h5.9v4.9h-5.9zM1383.5 714.8h6v4.9h-6zM1394.4 714.8h5.9v4.9h-5.9zM1416.2 714.8h6v4.9h-6zM1165.5 719.2h6v4.9h-6zM1176.4 719.2h5.9v4.9h-5.9zM1176.4 778.9h5.9v9.4h-5.9zM1187.3 778.9h27.8v9.4h-27.8zM1241.8 778.9h11.4v9.4h-11.4zM1258.2 778.9h16.8v9.4h-16.8zM1280 778.9h27.8v9.4h-27.8zM1312.7 778.9h5.9v9.4h-5.9zM1323.5 778.9h11.4v9.4h-11.4zM1339.9 778.9h11.4v9.4h-11.4zM1378 778.9h16.9v9.4h-16.9zM1399.8 778.9h6v9.4h-6zM1416.2 778.9h14.3v9.4h-14.3zM1504.6 710.4h5.9v4.9h-5.9zM1526.1 710.4h5.9v4.9h-5.9zM1472.4 714.8h22v4.9h-22zM1499.2 714.8h27.4v4.9h-27.4zM1558.3 714.8h27.3v4.9h-27.3zM1590.5 714.8h16.6v4.9h-16.6zM1644.2 714.8h5.9v4.9h-5.9zM1520.7 719.2h5.9v4.9h-5.9zM1542.2 719.2h5.9v4.9h-5.9zM1585.2 719.2h11.2v4.9h-11.2zM1612 719.2h5.9v4.9h-5.9zM1515.4 778.9h5.9v9.4h-5.9zM1574.4 778.9h5.9v9.4h-5.9zM1633.5 778.9h5.9v9.4h-5.9z"/>
<path fill="#b91e02" d="M106.9 714.8h13.4v4.9h-13.4zM132.7 714.8h4.8v4.9h-4.8zM141.3 714.8h9.1v4.9h-9.1zM158.5 714.8h13.4v4.9h-13.4zM175.7 714.8h9.1v4.9h-9.1zM188.6 714.8h26.3v4.9h-26.3zM227.3 714.8h9.1v4.9h-9.1zM253.1 714.8h4.8v4.9h-4.8zM783.4 714.8h6.2v4.9h-6.2zM812.1 714.8h6.2v4.9h-6.2zM823.6 714.8h17.8v4.9h-17.8zM875.4 714.8h12v4.9h-12zM932.9 714.8h12v4.9h-12zM955.9 714.8h6.2v4.9h-6.2zM1209.1 719.2h6v4.9h-6zM1241.8 719.2h6v4.9h-6zM1372.6 719.2h6v4.9h-6zM1394.4 719.2h5.9v4.9h-5.9zM1421.7 719.2h5.9v4.9h-5.9zM1214.5 778.9h22.3v9.4h-22.3zM1307.2 778.9h6v9.4h-6zM1334.5 778.9h6v9.4h-6zM1350.8 778.9h6v9.4h-6zM1367.2 778.9h11.4v9.4h-11.4zM1410.8 778.9h6v9.4h-6zM1493.9 714.8h5.9v4.9h-5.9zM1542.2 714.8h16.6v4.9h-16.6zM1472.4 719.2h11.2v4.9h-11.2zM1499.2 719.2h5.9v4.9h-5.9zM1510 719.2h5.9v4.9h-5.9zM1526.1 719.2h5.9v4.9h-5.9zM1558.3 719.2h16.6v4.9h-16.6zM1579.8 719.2h5.9v4.9h-5.9zM1606.7 719.2h5.9v4.9h-5.9zM1617.4 719.2h22v4.9h-22zM1644.2 719.2h16.6v4.9h-16.6zM1612 723.6h5.9v5h-5.9zM1638.9 723.6h5.9v5h-5.9zM1612 770.1h5.9v9.3h-5.9z"/>
<path fill="#af1801" d="M171.4 714.8h4.8v4.9h-4.8zM223 714.8h4.8v4.9h-4.8zM244.5 714.8h4.8v4.9h-4.8zM137 719.2h4.8v4.9h-4.8zM175.7 719.2h4.8v4.9h-4.8zM205.8 719.2h4.8v4.9h-4.8zM223 719.2h4.8v4.9h-4.8zM240.2 719.2h4.8v4.9h-4.8zM257.4 752.4h4.8v9.3h-4.8zM927.1 714.8h6.2v4.9h-6.2zM789.1 752.4h6.2v9.3h-6.2zM1187.3 719.2h6v4.9h-6zM1198.2 719.2h11.4v4.9h-11.4zM1214.5 719.2h11.4v4.9h-11.4zM1230.9 719.2h5.9v4.9h-5.9zM1247.2 719.2h27.8v4.9h-27.8zM1280 719.2h6v4.9h-6zM1290.8 719.2h6v4.9h-6zM1312.7 719.2h60.4v4.9h-60.4zM1383.5 719.2h6v4.9h-6zM1399.8 719.2h11.4v4.9h-11.4zM1165.5 723.6h11.4v5h-11.4zM1318.1 778.9h6v9.4h-6zM1483.1 719.2h16.6v4.9h-16.6zM1504.6 719.2h5.9v4.9h-5.9zM1515.4 719.2h5.9v4.9h-5.9zM1531.5 719.2h11.2v4.9h-11.2zM1547.6 719.2h11.2v4.9h-11.2zM1574.4 719.2h5.9v4.9h-5.9zM1595.9 719.2h11.2v4.9h-11.2zM1638.9 719.2h5.9v4.9h-5.9zM1510 723.6h5.9v5h-5.9zM1536.8 723.6h5.9v5h-5.9zM1590.5 723.6h11.2v5h-11.2zM1617.4 723.6h22v5h-22zM1655 723.6h5.9v5h-5.9zM1472.4 770.1h5.9v9.3h-5.9zM1499.2 770.1h5.9v9.3h-5.9zM1553 770.1h5.9v9.3h-5.9zM1563.7 770.1h5.9v9.3h-5.9zM1617.4 770.1h11.2v9.3h-11.2z"/>
<path fill="#a11201" d="M94 719.2h17.7v4.9h-17.7zM119.8 719.2h17.7v4.9h-17.7zM141.3 719.2h17.7v4.9h-17.7zM162.8 719.2h4.8v4.9h-4.8zM171.4 719.2h4.8v4.9h-4.8zM180 719.2h17.7v4.9h-17.7zM201.5 719.2h4.8v4.9h-4.8zM210.1 719.2h13.4v4.9h-13.4zM227.3 719.2h13.4v4.9h-13.4zM244.5 719.2h13.4v4.9h-13.4zM132.7 723.6h4.8v5h-4.8zM171.4 723.6h4.8v5h-4.8zM235.9 723.6h4.8v5h-4.8zM248.8 723.6h4.8v5h-4.8zM257.4 728.1h4.8v9.3h-4.8zM257.4 736.9h4.8v8.2h-4.8zM754.6 719.2h6.2v4.9h-6.2zM771.9 719.2h6.2v4.9h-6.2zM794.9 719.2h12v4.9h-12zM823.6 719.2h17.8v4.9h-17.8zM875.4 719.2h6.2v4.9h-6.2zM886.9 719.2h6.2v4.9h-6.2zM909.9 719.2h6.2v4.9h-6.2zM967.4 719.2h3.6v4.9h-3.6zM771.9 752.4h6.2v9.3h-6.2zM794.9 752.4h12v9.3h-12zM817.9 752.4h12v9.3h-12zM840.9 752.4h6.2v9.3h-6.2zM852.4 752.4h6.2v9.3h-6.2zM869.6 752.4h6.2v9.3h-6.2zM892.6 752.4h17.8v9.3h-17.8zM927.1 752.4h17.8v9.3h-17.8zM955.9 752.4h6.2v9.3h-6.2zM1192.8 719.2h6v4.9h-6zM1225.5 719.2h6v4.9h-6zM1236.3 719.2h6v4.9h-6zM1274.5 719.2h6v4.9h-6zM1285.4 719.2h5.9v4.9h-5.9zM1296.3 719.2h16.9v4.9h-16.9zM1378 719.2h6v4.9h-6zM1389 719.2h6v4.9h-6zM1410.8 719.2h11.4v4.9h-11.4zM1427.1 719.2h3.4v4.9h-3.4zM1176.4 723.6h5.9v5h-5.9zM1209.1 723.6h6v5h-6zM1263.6 723.6h6v5h-6zM1296.3 723.6h6v5h-6zM1383.5 723.6h6v5h-6zM1269 770.1h6v9.3h-6zM1301.8 770.1h6v9.3h-6zM1329 770.1h6v9.3h-6zM1345.3 770.1h6v9.3h-6zM1399.8 770.1h6v9.3h-6zM1472.4 723.6h5.9v5h-5.9zM1483.1 723.6h11.2v5h-11.2zM1504.6 723.6h5.9v5h-5.9zM1526.1 723.6h5.9v5h-5.9zM1542.2 723.6h22v5h-22zM1569.1 723.6h22v5h-22zM1601.3 723.6h11.2v5h-11.2zM1644.2 723.6h11.2v5h-11.2zM1493.9 728.1h5.9v9.3h-5.9zM1569.1 728.1h5.9v9.3h-5.9zM1606.7 728.1h5.9v9.3h-5.9zM1644.2 728.1h11.2v9.3h-11.2zM1483.1 770.1h5.9v9.3h-5.9zM1510 770.1h11.2v9.3h-11.2zM1526.1 770.1h22v9.3h-22zM1574.4 770.1h5.9v9.3h-5.9zM1585.2 770.1h5.9v9.3h-5.9zM1595.9 770.1h16.6v9.3h-16.6zM1628.1 770.1h11.2v9.3h-11.2zM1644.2 770.1h5.9v9.3h-5.9zM1655 770.1h5.9v9.3h-5.9z"/>
<path fill="#950d01" d="M111.2 719.2h9.1v4.9h-9.1zM158.5 719.2h4.8v4.9h-4.8zM167.1 719.2h4.8v4.9h-4.8zM197.2 719.2h4.8v4.9h-4.8zM124.1 723.6h9.1v5h-9.1zM137 723.6h4.8v5h-4.8zM154.2 723.6h13.4v5h-13.4zM180 723.6h34.9v5h-34.9zM218.7 723.6h17.7v5h-17.7zM240.2 723.6h4.8v5h-4.8zM253.1 723.6h4.8v5h-4.8zM257.4 744.6h4.8v8.3h-4.8zM98.3 752.4h4.8v9.3h-4.8zM149.9 752.4h4.8v9.3h-4.8zM158.5 752.4h4.8v9.3h-4.8zM167.1 752.4h4.8v9.3h-4.8zM175.7 752.4h4.8v9.3h-4.8zM188.6 752.4h4.8v9.3h-4.8zM205.8 752.4h4.8v9.3h-4.8zM214.4 752.4h4.8v9.3h-4.8zM760.4 719.2h6.2v4.9h-6.2zM777.6 719.2h17.8v4.9h-17.8zM806.4 719.2h17.8v4.9h-17.8zM840.9 719.2h6.2v4.9h-6.2zM852.4 719.2h6.2v4.9h-6.2zM863.9 719.2h12v4.9h-12zM881.1 719.2h6.2v4.9h-6.2zM892.6 719.2h17.8v4.9h-17.8zM915.6 719.2h35v4.9h-35zM955.9 719.2h12v4.9h-12zM754.6 723.6h6.2v5h-6.2zM846.6 723.6h6.2v5h-6.2zM961.6 723.6h6.2v5h-6.2zM760.4 752.4h12v9.3h-12zM783.4 752.4h6.2v9.3h-6.2zM806.4 752.4h12v9.3h-12zM835.1 752.4h6.2v9.3h-6.2zM846.6 752.4h6.2v9.3h-6.2zM858.1 752.4h12v9.3h-12zM875.4 752.4h17.8v9.3h-17.8zM909.9 752.4h17.8v9.3h-17.8zM944.4 752.4h12v9.3h-12zM961.6 752.4h6.2v9.3h-6.2zM1203.7 723.6h5.9v5h-5.9zM1225.5 723.6h6v5h-6zM1236.3 723.6h11.4v5h-11.4zM1269 723.6h27.8v5h-27.8zM1301.8 723.6h6v5h-6zM1318.1 723.6h6v5h-6zM1334.5 723.6h11.4v5h-11.4zM1361.7 723.6h16.8v5h-16.8zM1389 723.6h6v5h-6zM1416.2 723.6h6v5h-6zM1427.1 723.6h3.4v5h-3.4zM1176.4 728.1h5.9v9.3h-5.9zM1165.5 770.1h11.4v9.3h-11.4zM1209.1 770.1h6v9.3h-6zM1220 770.1h6v9.3h-6zM1230.9 770.1h11.4v9.3h-11.4zM1274.5 770.1h11.4v9.3h-11.4zM1312.7 770.1h5.9v9.3h-5.9zM1334.5 770.1h11.4v9.3h-11.4zM1350.8 770.1h11.4v9.3h-11.4zM1367.2 770.1h16.8v9.3h-16.8zM1394.4 770.1h5.9v9.3h-5.9zM1427.1 770.1h3.4v9.3h-3.4zM1477.8 723.6h5.9v5h-5.9zM1493.9 723.6h11.2v5h-11.2zM1515.4 723.6h11.2v5h-11.2zM1531.5 723.6h5.9v5h-5.9zM1563.7 723.6h5.9v5h-5.9zM1472.4 728.1h5.9v9.3h-5.9zM1488.5 728.1h5.9v9.3h-5.9zM1499.2 728.1h11.2v9.3h-11.2zM1526.1 728.1h11.2v9.3h-11.2zM1542.2 728.1h5.9v9.3h-5.9zM1553 728.1h5.9v9.3h-5.9zM1563.7 728.1h5.9v9.3h-5.9zM1579.8 728.1h11.2v9.3h-11.2zM1601.3 728.1h5.9v9.3h-5.9zM1612 728.1h16.6v9.3h-16.6zM1633.5 728.1h11.2v9.3h-11.2zM1595.9 736.9h5.9v8.2h-5.9zM1542.2 761.2h5.9v9.4h-5.9zM1585.2 761.2h5.9v9.4h-5.9zM1633.5 761.2h5.9v9.4h-5.9zM1477.8 770.1h5.9v9.3h-5.9zM1488.5 770.1h11.2v9.3h-11.2zM1504.6 770.1h5.9v9.3h-5.9zM1520.7 770.1h5.9v9.3h-5.9zM1547.6 770.1h5.9v9.3h-5.9zM1558.3 770.1h5.9v9.3h-5.9zM1569.1 770.1h5.9v9.3h-5.9zM1579.8 770.1h5.9v9.3h-5.9zM1590.5 770.1h5.9v9.3h-5.9zM1638.9 770.1h5.9v9.3h-5.9zM1649.6 770.1h5.9v9.3h-5.9z"/>
<path fill="#7a0403" d="M94 723.6h4.8v5h-4.8zM119.8 723.6h4.8v5h-4.8zM214.4 723.6h4.8v5h-4.8zM94 728.1h112.3v9.3h-112.3zM210.1 728.1h13.4v9.3h-13.4zM227.3 728.1h30.6v9.3h-30.6zM94 736.9h163.9v8.2h-163.9zM94 744.6h163.9v8.3h-163.9zM106.9 752.4h4.8v9.3h-4.8zM119.8 752.4h4.8v9.3h-4.8zM137 752.4h13.4v9.3h-13.4zM154.2 752.4h4.8v9.3h-4.8zM162.8 752.4h4.8v9.3h-4.8zM171.4 752.4h4.8v9.3h-4.8zM180 752.4h9.1v9.3h-9.1zM197.2 752.4h9.1v9.3h-9.1zM227.3 752.4h4.8v9.3h-4.8zM244.5 752.4h9.1v9.3h-9.1zM766.1 723.6h6.2v5h-6.2zM777.6 723.6h6.2v5h-6.2zM789.1 723.6h35v5h-35zM875.4 723.6h12v5h-12zM898.4 723.6h12v5h-12zM932.9 723.6h6.2v5h-6.2zM950.1 723.6h6.2v5h-6.2zM754.6 728.1h213.2v9.3h-213.2zM754.6 736.9h216.4v8.2h-216.4zM754.6 744.6h46.5v8.3h-46.5zM806.4 744.6h35v8.3h-35zM852.4 744.6h118.6v8.3h-118.6zM1198.2 723.6h6v5h-6zM1230.9 723.6h5.9v5h-5.9zM1258.2 723.6h5.9v5h-5.9zM1350.8 723.6h6v5h-6zM1165.5 728.1h6v9.3h-6zM1187.3 728.1h71.4v9.3h-71.4zM1263.6 728.1h109.5v9.3h-109.5zM1378 728.1h22.3v9.3h-22.3zM1405.3 728.1h25.2v9.3h-25.2zM1165.5 736.9h16.8v8.2h-16.8zM1187.3 736.9h243.2v8.2h-243.2zM1165.5 744.6h16.8v8.3h-16.8zM1187.3 744.6h243.2v8.3h-243.2zM1165.5 752.4h16.8v9.3h-16.8zM1187.3 752.4h243.2v9.3h-243.2zM1187.3 761.2h243.2v9.4h-243.2zM1198.2 770.1h6v9.3h-6zM1290.8 770.1h6v9.3h-6zM1405.3 770.1h6v9.3h-6zM1421.7 770.1h5.9v9.3h-5.9zM1483.1 728.1h5.9v9.3h-5.9zM1510 728.1h5.9v9.3h-5.9zM1590.5 728.1h5.9v9.3h-5.9zM1477.8 736.9h16.6v8.2h-16.6zM1499.2 736.9h11.2v8.2h-11.2zM1515.4 736.9h5.9v8.2h-5.9zM1531.5 736.9h5.9v8.2h-5.9zM1542.2 736.9h5.9v8.2h-5.9zM1553 736.9h11.2v8.2h-11.2zM1574.4 736.9h11.2v8.2h-11.2zM1590.5 736.9h5.9v8.2h-5.9zM1606.7 736.9h16.6v8.2h-16.6zM1633.5 736.9h5.9v8.2h-5.9zM1644.2 736.9h5.9v8.2h-5.9zM1655 736.9h5.9v8.2h-5.9zM1472.4 744.6h91.8v8.3h-91.8zM1569.1 744.6h91.8v8.3h-91.8zM1472.4 752.4h70.3v9.3h-70.3zM1547.6 752.4h113.3v9.3h-113.3zM1472.4 761.2h5.9v9.4h-5.9zM1499.2 761.2h5.9v9.4h-5.9zM1526.1 761.2h5.9v9.4h-5.9zM1574.4 761.2h11.2v9.4h-11.2zM1590.5 761.2h11.2v9.4h-11.2zM1606.7 761.2h5.9v9.4h-5.9zM1622.8 761.2h11.2v9.4h-11.2zM1644.2 761.2h16.6v9.4h-16.6z"/>
<path fill="#880802" d="M98.3 723.6h22v5h-22zM141.3 723.6h13.4v5h-13.4zM167.1 723.6h4.8v5h-4.8zM175.7 723.6h4.8v5h-4.8zM244.5 723.6h4.8v5h-4.8zM205.8 728.1h4.8v9.3h-4.8zM223 728.1h4.8v9.3h-4.8zM94 752.4h4.8v9.3h-4.8zM102.6 752.4h4.8v9.3h-4.8zM111.2 752.4h9.1v9.3h-9.1zM124.1 752.4h13.4v9.3h-13.4zM192.9 752.4h4.8v9.3h-4.8zM210.1 752.4h4.8v9.3h-4.8zM218.7 752.4h9.1v9.3h-9.1zM231.6 752.4h13.4v9.3h-13.4zM253.1 752.4h4.8v9.3h-4.8zM766.1 719.2h6.2v4.9h-6.2zM846.6 719.2h6.2v4.9h-6.2zM858.1 719.2h6.2v4.9h-6.2zM950.1 719.2h6.2v4.9h-6.2zM760.4 723.6h6.2v5h-6.2zM771.9 723.6h6.2v5h-6.2zM783.4 723.6h6.2v5h-6.2zM823.6 723.6h23.5v5h-23.5zM852.4 723.6h23.5v5h-23.5zM886.9 723.6h12v5h-12zM909.9 723.6h23.5v5h-23.5zM938.6 723.6h12v5h-12zM955.9 723.6h6.2v5h-6.2zM967.4 723.6h3.6v5h-3.6zM967.4 728.1h3.6v9.3h-3.6zM800.6 744.6h6.2v8.3h-6.2zM840.9 744.6h12v8.3h-12zM754.6 752.4h6.2v9.3h-6.2zM777.6 752.4h6.2v9.3h-6.2zM829.4 752.4h6.2v9.3h-6.2zM967.4 752.4h3.6v9.3h-3.6zM1187.3 723.6h11.4v5h-11.4zM1214.5 723.6h11.4v5h-11.4zM1247.2 723.6h11.4v5h-11.4zM1307.2 723.6h11.4v5h-11.4zM1323.5 723.6h11.4v5h-11.4zM1345.3 723.6h6v5h-6zM1356.2 723.6h6v5h-6zM1378 723.6h6v5h-6zM1394.4 723.6h22.3v5h-22.3zM1421.7 723.6h5.9v5h-5.9zM1171 728.1h6v9.3h-6zM1258.2 728.1h5.9v9.3h-5.9zM1372.6 728.1h6v9.3h-6zM1399.8 728.1h6v9.3h-6zM1165.5 761.2h16.8v9.4h-16.8zM1176.4 770.1h5.9v9.3h-5.9zM1187.3 770.1h11.4v9.3h-11.4zM1203.7 770.1h5.9v9.3h-5.9zM1214.5 770.1h6v9.3h-6zM1225.5 770.1h6v9.3h-6zM1241.8 770.1h27.8v9.3h-27.8zM1285.4 770.1h5.9v9.3h-5.9zM1296.3 770.1h6v9.3h-6zM1307.2 770.1h6v9.3h-6zM1318.1 770.1h11.4v9.3h-11.4zM1361.7 770.1h6v9.3h-6zM1383.5 770.1h11.4v9.3h-11.4zM1410.8 770.1h11.4v9.3h-11.4zM1477.8 728.1h5.9v9.3h-5.9zM1515.4 728.1h11.2v9.3h-11.2zM1536.8 728.1h5.9v9.3h-5.9zM1547.6 728.1h5.9v9.3h-5.9zM1558.3 728.1h5.9v9.3h-5.9zM1574.4 728.1h5.9v9.3h-5.9zM1595.9 728.1h5.9v9.3h-5.9zM1628.1 728.1h5.9v9.3h-5.9zM1655 728.1h5.9v9.3h-5.9zM1472.4 736.9h5.9v8.2h-5.9zM1493.9 736.9h5.9v8.2h-5.9zM1510 736.9h5.9v8.2h-5.9zM1520.7 736.9h11.2v8.2h-11.2zM1536.8 736.9h5.9v8.2h-5.9zM1547.6 736.9h5.9v8.2h-5.9zM1563.7 736.9h11.2v8.2h-11.2zM1585.2 736.9h5.9v8.2h-5.9zM1601.3 736.9h5.9v8.2h-5.9zM1622.8 736.9h11.2v8.2h-11.2zM1638.9 736.9h5.9v8.2h-5.9zM1649.6 736.9h5.9v8.2h-5.9zM1563.7 744.6h5.9v8.3h-5.9zM1542.2 752.4h5.9v9.3h-5.9zM1477.8 761.2h22v9.4h-22zM1504.6 761.2h22v9.4h-22zM1531.5 761.2h11.2v9.4h-11.2zM1547.6 761.2h27.3v9.4h-27.3zM1601.3 761.2h5.9v9.4h-5.9zM1612 761.2h11.2v9.4h-11.2zM1638.9 761.2h5.9v9.4h-5.9z"/>
<path fill="#28bceb" d="M270.3 796.6h4.8v12.8h-4.8zM291.8 796.6h4.8v12.8h-4.8zM313.3 796.6h4.8v12.8h-4.8zM326.2 796.6h4.8v12.8h-4.8zM343.4 796.6h4.8v12.8h-4.8zM352 796.6h4.8v12.8h-4.8zM382.1 796.6h9.1v12.8h-9.1zM399.3 796.6h4.8v12.8h-4.8zM433.7 796.6h4.8v12.8h-4.8zM450.9 796.6h4.8v12.8h-4.8zM459.5 796.6h9.1v12.8h-9.1zM476.7 796.6h9.1v12.8h-9.1zM493.9 796.6h4.8v12.8h-4.8zM502.5 796.6h4.8v12.8h-4.8zM938.6 670.5h6.2v5h-6.2zM628.1 796.6h6.2v12.8h-6.2zM1307.2 670.5h6v5h-6zM1345.3 675h6v4.9h-6zM1361.7 683.8h6v4.9h-6zM1569.1 675h5.9v4.9h-5.9zM1553 683.8h11.2v4.9h-11.2zM1757 752.4h5.9v9.3h-5.9zM1676.5 770.1h5.9v9.3h-5.9zM1703.3 770.1h5.9v9.3h-5.9zM1740.9 770.1h5.9v9.3h-5.9zM1687.2 778.9h5.9v9.4h-5.9zM1762.4 787.8h5.9v9.3h-5.9zM1880.5 787.8h5.9v9.3h-5.9zM1687.2 796.6h5.9v12.8h-5.9z"/>
<path fill="#38a5fb" d="M274.6 796.6h9.1v12.8h-9.1zM373.5 796.6h9.1v12.8h-9.1zM425.1 796.6h4.8v12.8h-4.8zM438 796.6h4.8v12.8h-4.8zM587.9 796.6h6.2v12.8h-6.2zM1334.5 670.5h6v5h-6zM1345.3 670.5h6v5h-6zM1301.8 675h6v4.9h-6zM1410.8 679.4h6v4.9h-6zM1143.7 796.6h6v12.8h-6zM1553 670.5h5.9v5h-5.9zM1483.1 675h5.9v4.9h-5.9zM1488.5 679.4h5.9v4.9h-5.9zM1526.1 679.4h5.9v4.9h-5.9zM1558.3 679.4h5.9v4.9h-5.9zM1724.8 752.4h5.9v9.3h-5.9zM1757 770.1h11.2v9.3h-11.2zM1805.3 778.9h11.2v9.4h-11.2zM1692.6 787.8h5.9v9.3h-5.9zM1719.4 787.8h5.9v9.3h-5.9zM1794.6 787.8h5.9v9.3h-5.9zM1875.2 787.8h5.9v9.3h-5.9zM1885.9 787.8h4.1v9.3h-4.1zM1676.5 796.6h5.9v12.8h-5.9zM1751.6 796.6h5.9v12.8h-5.9zM1853.7 796.6h5.9v12.8h-5.9z"/>
<path fill="#31aff5" d="M287.5 796.6h4.8v12.8h-4.8zM317.6 796.6h4.8v12.8h-4.8zM334.8 796.6h4.8v12.8h-4.8zM407.9 796.6h13.4v12.8h-13.4zM429.4 796.6h4.8v12.8h-4.8zM442.3 796.6h4.8v12.8h-4.8zM455.2 796.6h4.8v12.8h-4.8zM498.2 796.6h4.8v12.8h-4.8zM511.1 796.6h0.5v12.8h-0.5zM1290.8 670.5h6v5h-6zM1416.2 670.5h6v5h-6zM1165.5 675h6v4.9h-6zM1372.6 679.4h6v4.9h-6zM1531.5 675h5.9v4.9h-5.9zM1569.1 679.4h5.9v4.9h-5.9zM1515.4 683.8h5.9v4.9h-5.9zM1751.6 761.2h5.9v9.4h-5.9zM1692.6 770.1h5.9v9.3h-5.9zM1767.8 778.9h5.9v9.4h-5.9zM1687.2 787.8h5.9v9.3h-5.9zM1800 787.8h5.9v9.3h-5.9zM1859 787.8h5.9v9.3h-5.9zM1708.7 796.6h5.9v12.8h-5.9zM1719.4 796.6h5.9v12.8h-5.9zM1773.1 796.6h5.9v12.8h-5.9zM1789.2 796.6h5.9v12.8h-5.9zM1859 796.6h5.9v12.8h-5.9z"/>
<path fill="#3d358b" d="M296.1 796.6h4.8v12.8h-4.8zM1708.7 761.2h5.9v9.4h-5.9zM1789.2 770.1h5.9v9.3h-5.9zM1762.4 778.9h5.9v9.4h-5.9zM1681.8 796.6h5.9v12.8h-5.9zM1735.5 796.6h5.9v12.8h-5.9z"/>
<path fill="#3e9bfe" d="M300.4 796.6h4.8v12.8h-4.8zM321.9 796.6h4.8v12.8h-4.8zM679.9 796.6h6.2v12.8h-6.2zM1176.4 670.5h5.9v5h-5.9zM1280 670.5h6v5h-6zM1383.5 670.5h6v5h-6zM1318.1 675h6v4.9h-6zM1329 675h6v4.9h-6zM1350.8 675h6v4.9h-6zM1312.7 679.4h5.9v4.9h-5.9zM1339.9 679.4h5.9v4.9h-5.9zM1339.9 683.8h5.9v4.9h-5.9zM1111 796.6h6v12.8h-6zM1483.1 679.4h5.9v4.9h-5.9zM1553 679.4h5.9v4.9h-5.9zM1697.9 778.9h11.2v9.4h-11.2zM1740.9 778.9h5.9v9.4h-5.9zM1767.8 796.6h5.9v12.8h-5.9zM1783.9 796.6h5.9v12.8h-5.9zM1885.9 796.6h4.1v12.8h-4.1z"/>
<path fill="#448ffe" d="M309 796.6h4.8v12.8h-4.8zM446.6 796.6h4.8v12.8h-4.8zM468.1 796.6h4.8v12.8h-4.8zM485.3 796.6h4.8v12.8h-4.8zM950.1 670.5h6.2v5h-6.2zM582.1 796.6h6.2v12.8h-6.2zM725.9 796.6h6.2v12.8h-6.2zM1165.5 670.5h6v5h-6zM1285.4 670.5h5.9v5h-5.9zM1312.7 670.5h5.9v5h-5.9zM1356.2 670.5h6v5h-6zM1389 670.5h6v5h-6zM1405.3 670.5h6v5h-6zM1427.1 670.5h3.4v5h-3.4zM1280 675h6v4.9h-6zM1399.8 675h6v4.9h-6zM1410.8 675h6v4.9h-6zM1323.5 683.8h6v4.9h-6zM1334.5 683.8h6v4.9h-6zM1127.3 796.6h6v12.8h-6zM1558.3 670.5h11.2v5h-11.2zM1526.1 675h5.9v4.9h-5.9zM1499.2 679.4h5.9v4.9h-5.9zM1563.7 679.4h5.9v4.9h-5.9zM1493.9 683.8h5.9v4.9h-5.9zM1714.1 752.4h5.9v9.3h-5.9zM1740.9 752.4h11.2v9.3h-11.2zM1719.4 761.2h5.9v9.4h-5.9zM1730.2 761.2h5.9v9.4h-5.9zM1740.9 761.2h5.9v9.4h-5.9zM1708.7 770.1h5.9v9.3h-5.9zM1730.2 770.1h5.9v9.3h-5.9zM1708.7 778.9h5.9v9.4h-5.9zM1735.5 778.9h5.9v9.4h-5.9zM1697.9 787.8h5.9v9.3h-5.9zM1864.4 787.8h5.9v9.3h-5.9zM1697.9 796.6h5.9v12.8h-5.9zM1757 796.6h5.9v12.8h-5.9z"/>
<path fill="#4771e9" d="M330.5 796.6h4.8v12.8h-4.8zM645.4 796.6h6.2v12.8h-6.2zM1410.8 670.5h6v5h-6zM1421.7 670.5h5.9v5h-5.9zM1515.4 670.5h5.9v5h-5.9zM1493.9 679.4h5.9v4.9h-5.9zM1579.8 683.8h5.9v4.9h-5.9zM1724.8 761.2h5.9v9.4h-5.9zM1746.3 761.2h5.9v9.4h-5.9zM1681.8 778.9h5.9v9.4h-5.9zM1800 778.9h5.9v9.4h-5.9zM1703.3 787.8h5.9v9.3h-5.9zM1773.1 787.8h5.9v9.3h-5.9zM1724.8 796.6h5.9v12.8h-5.9zM1778.5 796.6h5.9v12.8h-5.9z"/>
<path fill="#392a73" d="M339.1 796.6h4.8v12.8h-4.8zM1339.9 670.5h5.9v5h-5.9zM1285.4 675h5.9v4.9h-5.9zM1334.5 675h11.4v4.9h-11.4zM1394.4 675h5.9v4.9h-5.9zM1405.3 675h6v4.9h-6zM1280 679.4h6v4.9h-6zM1318.1 679.4h6v4.9h-6zM1361.7 679.4h6v4.9h-6zM1399.8 679.4h6v4.9h-6zM1350.8 683.8h6v4.9h-6zM1372.6 683.8h6v4.9h-6zM1416.2 683.8h6v4.9h-6zM1714.1 787.8h5.9v9.3h-5.9z"/>
<path fill="#477bf2" d="M356.3 796.6h4.8v12.8h-4.8zM697.1 796.6h6.2v12.8h-6.2zM1372.6 670.5h11.4v5h-11.4zM1378 675h6v4.9h-6zM1416.2 675h6v4.9h-6zM1105.5 796.6h6v12.8h-6zM1526.1 670.5h5.9v5h-5.9zM1574.4 670.5h5.9v5h-5.9zM1477.8 675h5.9v4.9h-5.9zM1520.7 675h5.9v4.9h-5.9zM1563.7 675h5.9v4.9h-5.9zM1477.8 683.8h5.9v4.9h-5.9zM1687.2 770.1h5.9v9.3h-5.9zM1719.4 770.1h5.9v9.3h-5.9zM1746.3 770.1h5.9v9.3h-5.9zM1778.5 770.1h5.9v9.3h-5.9zM1730.2 778.9h5.9v9.4h-5.9zM1778.5 778.9h5.9v9.4h-5.9zM1681.8 787.8h5.9v9.3h-5.9zM1751.6 787.8h5.9v9.3h-5.9zM1692.6 796.6h5.9v12.8h-5.9zM1875.2 796.6h5.9v12.8h-5.9z"/>
<path fill="#4143a7" d="M403.6 796.6h4.8v12.8h-4.8zM489.6 796.6h4.8v12.8h-4.8zM1296.3 670.5h6v5h-6zM1399.8 670.5h6v5h-6zM1719.4 752.4h5.9v9.3h-5.9zM1703.3 761.2h5.9v9.4h-5.9zM1735.5 787.8h5.9v9.3h-5.9z"/>
<path fill="#4685fa" d="M564.9 796.6h12v12.8h-12zM1312.7 675h5.9v4.9h-5.9zM1367.2 675h5.9v4.9h-5.9zM1301.8 679.4h6v4.9h-6zM1389 679.4h6v4.9h-6zM1405.3 679.4h6v4.9h-6zM1100.1 796.6h6v12.8h-6zM1531.5 679.4h5.9v4.9h-5.9zM1735.5 752.4h5.9v9.3h-5.9zM1757 761.2h5.9v9.4h-5.9zM1767.8 761.2h5.9v9.4h-5.9zM1681.8 770.1h5.9v9.3h-5.9zM1697.9 770.1h5.9v9.3h-5.9zM1767.8 770.1h11.2v9.3h-11.2zM1794.6 770.1h5.9v9.3h-5.9zM1692.6 778.9h5.9v9.4h-5.9zM1719.4 778.9h5.9v9.4h-5.9zM1751.6 778.9h5.9v9.4h-5.9zM1789.2 778.9h11.2v9.4h-11.2zM1724.8 787.8h5.9v9.3h-5.9zM1869.8 787.8h5.9v9.3h-5.9zM1714.1 796.6h5.9v12.8h-5.9zM1730.2 796.6h5.9v12.8h-5.9zM1794.6 796.6h5.9v12.8h-5.9zM1864.4 796.6h11.2v12.8h-11.2z"/>
<path fill="#434eba" d="M1301.8 670.5h6v5h-6zM1329 670.5h6v5h-6zM1367.2 670.5h5.9v5h-5.9zM1383.5 675h6v4.9h-6zM1416.2 679.4h6v4.9h-6zM1520.7 670.5h5.9v5h-5.9zM1692.6 761.2h5.9v9.4h-5.9zM1735.5 770.1h5.9v9.3h-5.9zM1676.5 787.8h5.9v9.3h-5.9zM1789.2 787.8h5.9v9.3h-5.9zM1805.3 787.8h5.9v9.3h-5.9zM1746.3 796.6h5.9v12.8h-5.9z"/>
<path fill="#ffffff" d="M1318.1 670.5h6v5h-6zM1361.7 670.5h6v5h-6zM1334.5 679.4h6v4.9h-6zM1350.8 679.4h6v4.9h-6zM1421.7 679.4h5.9v4.9h-5.9zM1536.8 670.5h5.9v5h-5.9zM1574.4 675h5.9v4.9h-5.9z"/>
<path fill="#4559cb" d="M1323.5 670.5h6v5h-6zM1350.8 670.5h6v5h-6zM1499.2 675h5.9v4.9h-5.9zM1773.1 761.2h11.2v9.4h-11.2zM1783.9 770.1h5.9v9.3h-5.9zM1676.5 778.9h5.9v9.4h-5.9zM1714.1 778.9h5.9v9.4h-5.9zM1746.3 787.8h5.9v9.3h-5.9zM1767.8 787.8h5.9v9.3h-5.9zM1778.5 787.8h5.9v9.3h-5.9zM1810.7 787.8h5.9v9.3h-5.9zM1740.9 796.6h5.9v12.8h-5.9zM1805.3 796.6h5.9v12.8h-5.9z"/>
<path fill="#4664da" d="M1290.8 675h6v4.9h-6zM1361.7 675h6v4.9h-6zM1427.1 675h3.4v4.9h-3.4zM1504.6 670.5h5.9v5h-5.9zM1547.6 675h5.9v4.9h-5.9zM1730.2 752.4h5.9v9.3h-5.9zM1762.4 752.4h5.9v9.3h-5.9zM1714.1 761.2h5.9v9.4h-5.9zM1762.4 761.2h5.9v9.4h-5.9zM1714.1 770.1h5.9v9.3h-5.9zM1746.3 778.9h5.9v9.4h-5.9zM1757 778.9h5.9v9.4h-5.9zM1773.1 778.9h5.9v9.4h-5.9zM1708.7 787.8h5.9v9.3h-5.9zM1740.9 787.8h5.9v9.3h-5.9zM1703.3 796.6h5.9v12.8h-5.9zM1762.4 796.6h5.9v12.8h-5.9zM1810.7 796.6h5.9v12.8h-5.9z"/>
<path fill="#30123b" d="M1132.8 796.6h6v12.8h-6zM1724.8 770.1h5.9v9.3h-5.9zM1730.2 787.8h5.9v9.3h-5.9z"/>
<path fill="#351e58" d="M1472.4 670.5h11.2v5h-11.2zM1488.5 670.5h5.9v5h-5.9zM1499.2 670.5h5.9v5h-5.9zM1510 670.5h5.9v5h-5.9zM1531.5 670.5h5.9v5h-5.9zM1542.2 670.5h11.2v5h-11.2zM1493.9 675h5.9v4.9h-5.9zM1504.6 675h16.6v4.9h-16.6zM1536.8 675h5.9v4.9h-5.9zM1558.3 675h5.9v4.9h-5.9zM1504.6 679.4h16.6v4.9h-16.6zM1547.6 679.4h5.9v4.9h-5.9zM1488.5 683.8h5.9v4.9h-5.9zM1504.6 683.8h11.2v4.9h-11.2zM1536.8 683.8h11.2v4.9h-11.2zM1783.9 787.8h5.9v9.3h-5.9z"/>
<path d="M94.5 121.9l2.3-1.4l2.2-2.8l2.3-1.8l2.2 2.5l2.3-2.1l2.3-2.5l2.2-.3l2.3 0l2.2 .2l2.3 0l2.2 .9l2.3 0l2.3 2.1l2.2-2.6l2.3-1.1l2.2-.3l2.3-.2l2.2 2.3l2.3 3.4l2.3 .7l2.2 0l2.3 2.1l2.2 1.2l2.3-2.6l2.2 2.4l2.3 1.2l2.2-1l2.3-.1l2.3 .6l2.2 2.6l2.8-5.8l2.9-1.4l2.8 5.2l2.8 1.1l2.3 .8l2.2-.6l2.3-.5l2.2 2.1l2.3 .1l2.2-1.4l2.3 .7l2.3 1.1l2.2-.6l2.3 1.3l2.2 1l2.3 .7l2.2 .1l2.3-6.7l3.4 1.5l2.6-.7l2.6-1.2l2.7 1.7l2.2-.6l2.3 2.3l2.3-1.4l2.8 2.7l2.8-.4l2.3-4.2l2.2-1.8l2.8 2.7l2.9 2.5l2.2-2.2l2.3-.9l2.2 .7l2.3-.2l2.2 1.3l2.3 1.1l2.2-3.3l2.3 1.4l2.3 .4l2.2-2.4l2.3-1.1l2.2 1.2l2.3-1.1l2.2 .1l2.3-3.2l2.3-3.2l2.2-.4l2.3-1.6l2.2 .1l2.3-2l2.2-3l2.3-.5l2.3 1.3l2.2-1.3l2.3 .1l2.2 2.2l2.3 2l2.2-.9l2.3-.5l2.3-1.5l2.2-1.6l2.3-1.4l2.2 .2l2.3-2.3l2.2 3.7l2.3 1.6l2.3-4.3l2.2-.7l2.3-3.7l2.2 1.5l2.3-1.4l2.2 .7l2.3-.2l2.3-1.7l2.2-1l2.3-.3l2.2 3.9l2.3-2.2l2.2-.8l2.3 .8l2.2 1.6l2.3 3l2.3 .6l2.2 1.5l2.3 .7l2.2 2.8l2.3-.2l2.2 2l2.3 1l2.3-3.2l2.2-.9l2.3 5.5l2.2 4.2l2.3-1.8l2.2 .6l2.3 3l2.3-.7l2.2-1.1l2.3-1.4l2.2-.5l2.3-1.6l2.2 .2l2.3 2.3l2.3 2.1l2.2 0l2.3-1.3l2.2 .5l2.3-1.8l2.2-1.5l2.3 1.3l2.3-3.1l2.2-4.3l2.3-3.7l2.2-1.7l2.3-.6l2.2 0l2.3-1.1l2.3-2.6l2.2 1.2l2.3-2.5l2.2-1.6l2.3-1l2.2 1l2.3 2.6l2.2-2.7l2.3 1.4l2.3-2.5l2.2 2.3l2.3 .1l2.2-2.1l2.3-1.4l2.2-.5l2.3-.9l2.8-7.2l2.8-5.6l3.4 2.1l3.4 10.8l2.8 6l2.9 5.4l2.2 1l2.3 .6l2.2 1l2.3-4.3l2.2 .5l2.3-3.8l2.3-2.9l2.2 3.8l2.3 2.7l2.2 .9l2.3-.7l2.2-1.6l2.3 3.8l2.3 .1l2.2 0l2.3 4.4l2.2 4.9l2.3-8l2.2-4.4l2.6 .9l2.5 3.3l2.6 1.2l2.3-3.6l2.2 3.4l2.3-1.5l3.4 12l2.8-2.1l2.8-.7l2.3-2.6l2.2 2.5l2.3-.6l2.2-7.3l2.3-2.4l2.2 5.6l2.3 .6l2.3-1.5l2.2 3.3l2.3-3l2.2 .9l2.3 1l3.4-27.2l2.2 24.2l2.7-1.1l2.6-.3l2.6-1.9l2.3 1.2l2.2 .7l2.3 .4l2.2 .8l2.3 .6l2.3 2l2.2-.3l2.3 0l2.2-.9l2.3-.1l2.2-1.1l2.3 3.1l2.3-.7l2.2-.4l2.3 .5l2.2-.7l2.3-4.8l2.2-5.8l2.3 3.6l2.3 .7l2.2-.9l2.3 3.3l2.2-.7l2.3-3.9l2.2-2l2.3-3.7l2.3 3.8l2.2 1.4l2.3 4.9l2.2-1.5l2.3 .1l2.2 1.2l2.3-2.2l2.3-.4l2.2-1.8l2.3 4.6l2.2 4.6l2.3-2.4l2.2 .2l2.3-2.6l2.3-3.1l2.2-1.6l2.3-2.2l2.2-1.1l2.3-.9l2.2 1.3l2.3-2.9l2.2 2.5l2.3 2.9l2.3-.7l2.2 2.4l2.3 .7l2.2 1.9l2.3-1.4l2.2 .9l2.3-6.9l2.3-.8l2.2 8.4l2.3-11l2.2-6.8l2.3-5l2.2 6.9l2.3 6l2.3 12.8l2.2-.3l2.3-1.9l2.2-.4l2.3-.3l2.2-2.6l2.3 0l2.3-1.8l2.2 .8l2.3 .9l2.2 4.7l2.3 2.6l2.2 2.8l2.3-.2l2.3 1.5l2.2-.7l2.3 .1l2.2-1.1l2.3 1.9l2.2 1.5l2.3-2.1l2.3 0l2.2 .1l2.3-.7l2.2-.7l2.3 .5l2.2-.6l2.3 1.7l2.2-1.7l2.3 .2l2.3 5.7l2.2 3.7l2.3 1l2.2-3.1l2.3-1.1l2.2 .5l2.3 .2l2.3-1.4l2.2 1.5l2.3-2.4l2.2 2.8l2.3-2.2l2.2-.8l2.3-.4l2.3 .5l2.2 .1l2.3-1.4l2.2-.3l2.3 .3l2.2-.8l2.3 1.7l2.3 .4l2.2-1.1l2.3 .6l2.2-1.8l2.3 2.3l2.2-.6l2.3 .8l2.3 .9l2.2-4.5l2.3 2.5l2.2-1.8l2.3 3l2.2-1l2.3 2l2.3 1.1l2.2 .7l2.3-.3l2.2-.7l2.3-.3l2.2 1.1l2.3-1.6l2.2-2.4l2.3 2.5l2.3-.8l2.2 .3l2.3-1.6l2.2 1.5l2.3-1.8l2.2 2.1l2.3-.9l2.3 3.6l2.2 2.6l2.3 .3l2.2-4.3l2.3-5l2.2 6.1l2.3 4.4l2.3-6.5l2.2-2.4l2.3-.1l2.2 1.2l2.3-4.6l2.2 4.3l2.3 5.1l2.3 0l2.2 .4l2.3 2.1l2.2 .8l2.3-1.3l2.2 1.8l2.3 .1l2.3 3.2l2.2 0l2.3 1.5l2.2-1.7l2.3 1.2l2.2-1.1l2.3 .3l2.3-1.8l3.1-6l2.3-2.1l2.2-3.7l2.3-4.7l2.2 2.1l2.3 2.3l2.2 .6l2.3 .6l2.3-1.5l2.2-2.7l2.3 4.8l2.2 .6l2.3 4l2.2 3.1l2.3 5.7l2.3-1l2.2-.6l2.3-2.6l2.2-3.6l2.3 2l2.2-1.3l2.3-.3l2.3 4.5l2.8-3.3l2.8-.1l2.2 8.1l2.3 11.4l2.8-5.8l2.8-7.4l2.3 1l2.3-1.6l2.2-1l2.3-3.2l2.2-3.7l2.3-2.4l2.2-3.8l2.3-2.4l2.3-.2l2.2-3.5l2.3-.7l2.2-8.3l2.3-7.3l2.2 .7l2.3 5.3l2.3-2l2.2-.7l2.3-.8l2.2 1.1l2.3-4l2.2-4.7l2.3 1.9l2.3 2.5l2.2 1.7l2.3 5.4l2.2 3.7l2.3 2.8l2.2-9.2l2.3-9.5l2.3-8.2l2.2-.5l2.3-.2l2.2-2.8l2.3-3.6l2.2-1.9l2.3-.6l2.3-.3l2.2 .7l2.3 .4l2.2 1l2.3-2.7l2.2 .7l2.3 .1l2.2-2.3l2.3 1.3l2.3 4.7l2.2 4.4l2.3-6l2.2-7.1l2.3 6.9l2.2 7.1l2.3 .5l2.3 .4l2.2-1.3l2.3 1.1l2.2-.8l2.3 2.8l2.2 1.2l2.3 .4l2.3-.2l2.2 .1l2.3-1.7l2.2 .2l2.8-6l2.9-6.2l3.4 9.5l2.2 2.7l2.3-2.7l2.2 1.5l2.3 .6l2.2-1l2.3-.2l2.3 .2l2.2 2l2.3 1.3l2.2-.6l2.3 .2l2.2-.3l2.3-.1l2.3-4.1l2.2 1.4l2.3-1.7l2.2-3l2.3 2.4l2.2-2.3l2.3 2.1l2.2-.7l2.3 2l2.3-2.8l2.2 1.1l2.3 1.5l2.2 1.1l2.3-.2l2.2 .4l2.3 2.1l2.3-3.6l2.2 1.2l2.3 1.4l2.2 1.7l2.3 .1l2.2 1.2l2.3-1.2l2.3 2.9l2.2 .4l2.3-2.7l2.2 3.2l2.3 .5l2.2-3.6l2.3 .3l2.3 .9l2.2-3.7l2.3-1.1l2.2 .4l2.3 .6l2.2-.3l2.3 1l2.3-.1l2.2-1.4l2.3 2.3l2.2 1.7l2.8 1l2.9 1.4l2.6-8.2l2.6-6.1l2.7-9.3l2.2-3.7l2.3-6.6l2.2-2.3l2.3-4.3l2.2-5.3l2.3 7.3l2.3 7.2l2.2-.7l2.3 2.5l2.2 1.6l2.3 3l2.2 6.5l2.3 4.1l2.3-5.1l2.2-5.1l2.3-4.8l2.2-2.8l2.3-4.2l2.2-1.3l2.3-2.9l2.3 4.9l2.2 3.5l2.3-1.6l2.2-2.5l2.3 8.9l2.2 5l2.3 4.5l2.3 .5l2.2-.3l2.3-3.3l2.2-1.8l2.3-2.4l2.2-3.7l2.3-1.3l2.3 .3l2.2 .9l2.3 .2l2.2 .2l3.4 6.7l3.4-12.1l2.7-2.5l2.7-1.6l2.3 3.5l2.2-.3l2.3 3.6l2.2 7.5l2.3 6.2l2.2 1.4l2.3 7.9l2.3-6.2l2.2-7.4l3.4-3.5l3.4 9.1l2.2 1.3l2.3 3.4l2.3 .4l2.2-.7l2.3 1l2.2 2l2.3 1.6l2.2-1.3l2.3 .7l2.3 2.6l2.2-1.3l2.3 .6l2.2-4.1l2.3-1.8l2.2 3.8l2.3-3.1l2.2 2.4l2.3-.7l2.3 1.7l2.2 .8l2.3-1.2l2.2 1.1l2.3 4.5l2.2 4.2l2.3 1.4l2.3-1.1l2.2-1.1l2.3-2.3l2.2-2.1l2.3-.4l2.2-2l2.3 2.2l2.8-8.9l2.8-10.1l2.9 2.1l2.8 4.5l2.2-6.8l2.3-1.2l2.3 6.4l2.2 2.8l2.3 5.4l2.2-.6l2.3 .4l2.2-1.4l2.3 1.1l2.3 .9l2.2 .2l2.3 6.4l2.2 3.3l2.3 4.5l2.2 .3l2.3 1l2.3 1.9l2.2 1.4l2.3-1.2l2.2-1.1l2.3-.8l2.2-3.9l2.3-4.4l2.2-4.7l3.4 13.7l2.7 .3l2.6 .9l2.6-4.3l2.3 2.7l2.2-1.5l2.3 3.1l2.3-.4l2.2-2.1l2.3 1.9l2.2 1.3l2.3-2.5l2.2 1.5l2.3-1.1l2.3-2l2.2 3.2l2.3-1.6l2.2-1.7l2.3 1.9l2.2-1.1l2.3 .3l2.3 2.6l2.2-.8l2.3-.2l2.2-3.6l2.3-.3l2.2-4l2.3 .6l2.3-.8l2.2 1.8l2.3-1.9l2.2 1l2.3 .8l2.2-4.5l2.3 1.3l2.3 1.8l2.2-1.8l2.3-.5l2.2-2.6l2.8-2.4l2.9-4.8l3.3 12.8l2.3 1.2l2.3 2.7l2.2 1.5l2.3 7.3l2.2 4.1l2.3-.9l2.2-1.1l2.3-1.7l2.3 .2l2.2 .8l2.3-.5l2.2 6.5l2.3-1.7l2.2 4.7l2.3 1.6l2.3-5.6l2.2-5l2.3-3.4l2.2-4.8l2.3-1.8l2.2-3.7l2.3 .2l2.3 .1l2.2 .5l2.3 15.7l2.2 1.8l2.3-1.7l2.2 .2l2.3 .6l2.3 .4l2.2 3l2.3 .8l2.2 1.2l2.3 .1l2.2 1.8l2.3 .6l2.3-2.9l2.2-.5l2.3-2.4l2.2-1l2.3 2.4l2.2-2l2.3 2.3l2.2-2.7l2.3-2.2l2.3-2.8l2.2-.1l2.3-6l2.2-5l2.3-2.8l2.2-3.3l2.3-.7l2.3-2.6l2.2 3l2.3 1.9l2.2 .2l2.3 .1l2.2 .5l2.3 .9l2.3-1.5l2.2 2l2.3-.7l2.2-1.5l2.3-.6l2.2 .2l2.3-1.4l2.3-.4l2.2 7.4l2.3 5l2.2 1l2.3-3.5l2.2-1.4l2.3 2.4l2.3-2.2l2.2-4.1l2.3-3.1l2.2-3.7l2.3-7.1l2.2-3.7l2.6-4l2.6 .3l2.5-1.6" stroke="#ff0000" stroke-width="2.3" fill="none" stroke-linejoin="round"/>
<path d="M94.5 99.3l2.3 .6l2.2 1.2l2.3-.2l2.2 6.7l3.4 3.8l3.4-10.2l2.3 1.2l2.2-.5l2.3-1l2.2-1.9l2.3-5l2.3 2.5l2.2 1.9l2.3 1.1l2.2-.9l2.3 .5l2.2-1.6l2.3 .4l2.3-1.5l2.2 1.5l2.3-1.1l2.2-.4l2.3-.5l2.2-2.1l2.3 1.4l2.2 7.3l2.3 1.8l2.3-1l2.2-.6l2.3 1.8l2.2-1.7l2.3 1.8l2.2 .3l2.3 .2l2.3 .8l2.2 1.5l2.3 3l2.2-2.8l2.3 .3l2.2 .1l2.3 1.2l2.3-1.7l2.2 .8l2.3 1.7l2.2 .7l2.3-2.2l2.2 .8l2.3-3.8l2.3 2.9l2.2 1.1l2.3-1.6l2.2 2.9l2.3 2.3l2.2-1.7l2.3 .6l2.3 1.1l2.2-2.7l2.3-1.5l2.2-1.4l2.3 .6l2.2-1.8l2.3 .5l2.3 .5l2.2 1.3l2.3-1.4l2.2-1.2l2.3-1.7l2.2 3.3l2.3-1.9l2.2 1.4l2.3-1.8l2.3-1l2.2 1.2l2.3 1.2l2.2 .6l2.3 2.3l2.2-2.1l2.3-6.7l2.3-.2l2.2-1l2.3-.8l2.2 1.5l2.3-1.1l2.2-.7l2.3 .7l2.3-.9l2.2 2.8l2.3 2.6l2.2-.6l2.3 4.1l2.2-.7l2.3 1.5l2.3-.4l2.2 1.4l2.3 1l2.2 .1l2.3 1.1l2.2 1.3l2.3-3.2l2.3-3.8l2.2 .3l2.3-.4l2.2-.6l2.3-1.5l2.2 .7l2.3-3.6l2.3-2.1l2.2 3.6l2.3-2.3l2.2 3.2l2.3-1.2l2.2 1.9l2.3-2.2l2.2 3.6l2.3-.8l2.3-.3l2.2 3.4l2.3-.4l2.2-.2l2.3-.4l2.2 1.2l2.3 .3l2.3 1.4l2.2 .6l2.3-1.2l2.2 .6l2.3 .4l2.2-1.4l2.3 .3l2.3-.1l2.2 .3l2.3 .6l2.2-2.6l2.3 1.4l2.2-1.3l2.3 2.5l2.3-2.6l2.2 .3l2.3-1.9l2.2-.1l2.3 .8l2.2-.9l2.3 .5l2.3-1.3l2.2 3.1l2.3-.9l2.2 3.6l2.3-2l2.2 1.8l2.3-2.5l2.3 2.3l2.2-1.2l2.3 .7l2.2 1l2.3 .1l2.2 1.1l2.3 1l2.2 .3l2.3-2.3l2.3-2.9l2.2-.9l2.3 1.2l2.2-1.5l2.3 3.7l2.2-.5l2.3-1.7l2.3-.4l2.2 1.1l2.3 .8l2.2 0l2.3 0l2.2-1.4l2.3-2.8l2.3 .6l2.2-.2l2.3-2.4l2.2 2.6l2.3-1.2l2.2 2.1l2.3-.9l2.3-2.7l2.2-.3l2.3 2l2.2 .5l2.3 2.8l2.2-.4l2.3-.8l2.3 1.3l2.2-5.5l2.3 0l2.2-2l2.3-.1l2.2 .6l2.6 1.8l2.5 1.9l2.6-1.6l2.3-.3l2.2 3.9l2.3-2.5l3.4-13.2l3.3 3.3l2.3 6.2l2.3 2.6l2.2 .1l2.3-3.4l2.2-2.2l2.3-.3l2.2 1.9l2.3 .6l2.3-2.4l2.2 0l2.3-.2l2.2 1.2l2.3-.3l2.2 9.6l2.3-7l2.3-3.3l2.2 1.3l2.3-1.8l2.2 5.1l2.3-2.8l2.2-2.5l2.3 2.2l2.2 6.6l2.3 3.6l2.3 2.7l2.2 2.7l2.8-11.5l2.9-16.6l3.3 10.3l2.3 8.8l2.3 4.2l2.2-4.1l2.3-4.3l2.2 1.7l2.3-2.6l2.2 3.4l2.3-.2l2.3-1.6l2.2-1.4l2.3 1.3l2.2-.7l2.3-.2l2.2 .6l2.3-2.7l2.3-1.2l2.2 1l2.3 3.1l2.2 1l2.3-1.2l2.2 .3l2.3-2.6l2.3 .2l2.2-.8l2.3 .8l2.2 4.8l2.3 .2l2.2-1.7l2.3 .1l2.3 .9l2.2-1.4l2.3 1l2.2-3.1l2.3-.1l2.2 .6l2.3 1.9l2.2 .3l2.3 1.8l2.3 2.8l2.2 2.4l2.3 1l2.2 1l2.3 1.6l2.2-.8l2.3-.8l2.3 1.5l2.2-1.2l2.3 8.7l2.2 5.4l2.3 4.3l2.2-5l2.3-7.2l2.3-6.2l2.2-.1l2.3 .9l2.2-1.1l2.3 1.6l2.2 .7l2.3 4.9l2.3 3.2l2.2 .3l2.3-5.6l2.2 0l2.3-2.8l2.2-.1l2.3-1.8l2.3-1l2.2 0l2.3 .4l2.2-.4l2.3-1.4l2.2-.4l2.3-1.7l2.3 2.3l2.2 1.2l2.3-.6l2.2 1.9l2.3 .4l2.8 2.1l2.8-1.7l2.8-8.5l2.9-7.3l2.2 .6l2.3-.4l2.2-.3l2.3 .5l2.2 1.4l2.3 4.3l2.3 3.8l2.2-4.6l2.3 1.8l2.2 .1l2.3-.8l2.2 2.1l2.3-.7l2.3 3.2l2.2-1.7l2.3 1.1l2.2 .9l2.3-.9l2.2-.8l2.3 2.1l2.3 2.2l2.2-.2l2.3 1l2.2-.8l2.3 2.1l2.2 .8l2.3-.6l2.3 2.2l2.2-2.2l2.3-.1l2.2 .1l2.3 3.8l2.2 1.5l2.3 4l2.3-3.8l2.2-1.9l2.3-3.5l2.2 .7l2.3 3.2l2.2-2.5l2.3-6l2.2-.4l2.3-3.7l2.3 .1l2.2-1l2.3 .8l2.2-1.3l2.3 2.4l2.2 .5l2.3 1.8l2.3 .5l2.2 1.6l2.3 1.7l2.2-2l2.3 3.2l2.2-6.2l2.3-3.2l2.3-.8l2.2 .7l2.3 1.1l2.2-1.8l2.3 2.4l2.2 .7l2.3 1.8l2.3-.9l2.2 1.3l2.3-3.1l2.2-.4l2.3-1.7l2.2 1.5l2.3-1.6l2.3 .4l2.2 1.8l2.3 1.5l2.2-2.5l2.3-1.1l2.2-1.7l2.6 1.8l2.5-.3l2.6 1.5l2.3-.8l2.2-.7l2.3 1.2l2.2-1.6l2.3-1.4l2.2 1.6l2.3 .2l2.3-1.6l2.2 4l2.3-1l2.2-.4l2.3 2.4l2.2-4.5l2.3-4.7l2.3 .3l2.2 3.7l2.3 1.8l2.2-1.7l2.3 3.4l2.2-.1l2.3-1.3l2.3 .5l2.2-1.5l2.3-1.8l2.2-.6l3.4-10.5l2.8 3.7l2.8 8.6l2.3 1.5l2.3 .5l2.2 1.8l2.3 .4l2.2 2.1l2.3 2.5l2.2 0l2.3-1.8l2.3 4l2.2-4.5l2.3 .2l2.2 .7l2.3 .9l2.2-15l2.3 1.4l2.3 5.4l2.2 3.2l2.3-1l2.2 3.7l2.3-.5l2.2 5.2l2.3-2.3l2.3 .5l2.2 0l2.3-.9l2.2-.9l2.3-2.1l2.2-.3l2.3 .6l2.3 .5l2.2 1.9l3.4-12.1l2.8 6.4l2.8 4.6l2.3-.3l2.3 .5l2.2 .7l2.3 2.1l2.2-1.5l2.3-.8l2.2 .8l2.3-.8l2.2-.2l2.3 1l2.3-1l2.2 1.9l2.3-.3l2.2-1.2l2.3-1l2.2 2.8l2.3-1.8l2.3 2.9l2.2-4.3l2.3 1.4l2.2-1.3l2.3 .8l2.2 .8l2.3-1.7l2.3 1.2l2.2 .8l2.3 .4l2.2 .9l2.3 1.1l2.2 .3l2.3 0l2.3-.1l2.2-1.2l2.3 .2l2.2-.1l2.3 1.1l2.2-1.2l2.3-1l2.3 2.1l2.2-1.6l2.3-.2l2.2 .3l2.3 .5l2.2-3.5l2.3-1.9l2.3-2l2.2-4l2.3 2.1l2.2 3l2.3 4.8l2.2-2.4l2.3 1l2.2-.1l2.3-1.7l2.3 1.7l2.2-.2l2.3 .5l2.2 .2l2.3 2.9l2.2-.8l2.3 .6l2.3 0l2.2 2.9l2.3-1.4l2.2-1.3l2.3-.9l2.2 0l2.3 2.8l2.3 .9l2.2-1.1l2.3 1.2l2.2-2.1l2.3-1.4l2.2 1l2.3 .7l2.3 1.2l2.2-1.1l2.3-2.5l2.2 2.6l2.3-2.2l2.2 2.2l2.3 1.1l2.3-.5l2.2 1.8l2.3 1l2.2 .6l2.3-.5l2.2 .1l2.3-.4l2.3-2.1l2.2-.8l2.3-2.8l2.2 1.8l2.3-1.8l2.2-.1l2.3 0l2.2 .3l2.3 1.7l2.3-2l2.2-1.8l2.3 1.6l2.2-.7l2.3 1.2l2.2-1.2l2.3 .1l2.3 .3l2.2-.7l2.3-1.9l2.2 .8l2.3 .1l2.2 1.5l2.3-1.6l2.3 .1l2.2 1.1l2.3 3.7l2.2 4.9l2.3-.6l2.2-.1l2.3 2.1l2.3 .8l2.2-3.7l2.3-.7l2.2-3.4l2.3 0l2.2-2.2l2.3-1l2.3-2l2.2-1.3l2.3-11.8l2.2-11.2l3.4 52.8l3.4-21.2l2.7-5.3l2.7-1.8l2.3 .2l2.2-2l2.3 1.1l2.2 4.5l2.3 6.7l2.2-6.5l2.3-6l2.3 7.4l2.2 10.4l2.3 .4l2.2-6.1l2.3 1.7l2.2-1.3l2.3-5.3l2.3-4.1l2.2 .7l2.3-6.1l2.2-1l2.3-1.9l2.2 1.5l2.3 1.3l2.3 5.3l2.2 .5l2.3-.1l2.2 5.6l2.3 5.8l2.2 2.2l2.3 .2l2.2 3.8l2.3 2.6l2.3-4.3l2.2-4.6l2.3-6.9l2.2 2.9l2.3-2.9l2.2 .6l2.3 0l2.3-2.2l2.2 0l2.3 3.4l2.2 0l2.3-.4l2.2-.8l2.3 2.8l2.3 .8l2.2 2.1l2.3 4.2l2.2-1.1l2.3 1l2.2-1l2.3-8l2.3-5.5l2.2-2.5l2.3 .4l2.2-.6l2.3-2.9l2.2-.9l2.3 .4l2.3 .2l2.2-1.5l2.3 .7l2.2 .4l2.3 .9l2.2 .9l2.3-2.6l2.3-.9l2.2-.5l2.3-1.9l2.2 .3l2.3-.1l2.2-1.2l2.3-1.2l2.2-1.1l2.3 2l2.3-1.8l2.2-3.1l2.3-.2l2.2 2.4l2.3 .7l2.2-.4l2.3 2.3l2.3-1.8l2.2 1.6l2.3 .9l2.2-2.9l2.3 1.2l2.2 2.3l2.3 .9l2.3-1.3l2.2 1.5l2.3 1.5l2.2-2.2l2.3-1.1l2.2 1.4l2.7 5.3l2.6 7.5l2.6 4.4l2.9-6.1l2.8-1.6l2.2-.6l2.3 3.6l2.3 2.7l2.2 2.7l2.3-2.1l2.2-.9l2.3-2.2l2.2-2.9l2.3-.9l2.3-2.2l2.2-2.3l2.3 1.9l2.2 .6l2.3 3.7l2.2-.9l2.3-5.2l2.2 1.3l2.3-2l2.3-4.3l2.2 1.1l2.3-3.4l2.2-2l2.3 .8l2.2 3l2.3 1.3l2.3 .1l2.2-1.5l2.3-2.9l2.2-1.7l2.3-2.9l2.2 .3l2.3-1.4l2.3 .6l2.2 0l2.3 3.3l2.2 4.9l2.3 5.7l2.2-1.4l2.3 1.2l2.3-1.7l2.2-1l2.3-5.6l2.2-2.9l2.3-4.9l2.2-.1l2.3 .7l2.3-.1l2.2-1.6l2.3 2.9l2.2-2.4l2.3-1.5l2.2 .5l2.3 2.3l2.3 1.7l2.2 6.8l2.3 .6l2.2 .4l2.3-.7l2.2 .2l2.3-1.3l2.2-1.7l2.3-1.6l2.3-.2l2.2 1.1l2.3 3.1l2.2 .8l2.3 1l2.2 4.1l2.3-2.7l2.3-1.1l2.2-1l2.3-.2l2.2 1.3l2.3 2.5l2.2 2l2.3 .9l2.3-2.3l2.2 1.5l2.3 2.9l2.2 .6l2.3 2.8l2.2-2.2l2.3 .2l2.3 1.5l2.8-10.6l2.8-12.2l2.6 6.1l2.7 3.5l2.6 5.4l2.3 1.6l2.2-3.8l2.3 1.8l2.2-1.2l2.5 1.3l2.4 1.3l2.4 .7l2.5-1.8l2.4 3.4" stroke="#008000" stroke-width="2.3" fill="none" stroke-linejoin="round"/>
<path d="M94.5 99.3l2.3-1.9l2.2 4.2l2.3-3.2l2.2-2l2.3-1.9l2.3 2l2.2 5.9l2.3-1.8l2.2 3.5l2.3-4.6l2.2 2.2l2.3 2.9l2.3-2.6l2.2-2.7l2.3 1l2.2 1.2l2.3-.5l2.2 1.6l2.3-2.4l2.3-.9l2.2 .6l2.3-2.3l2.2-1.1l2.3 .3l2.2 .8l2.3-1.8l2.2 .1l2.3 2.6l2.3 3.9l2.2 .4l2.3 .4l2.2 1l2.3-.6l2.2-.8l2.3 .6l2.3-3.8l2.2 4.2l2.3 .7l2.2 2l2.3 .8l2.2-.9l2.3-2.6l2.3-.8l2.2 1.1l2.3-.2l2.2 1.5l2.3-5.8l2.2-5.7l2.3 14l2.3 11.5l2.2-5.9l2.3-3.4l2.2-4.1l2.3-5.1l2.2-4.7l2.3 3l2.3-1.1l2.2 5.3l2.3 .4l2.2-1.8l2.3 8.1l2.2 5.1l2.3-2.1l2.3-7l2.2 2.1l2.3 2.6l2.2 1.3l2.3-2.8l2.2 3.3l2.3 2.3l2.2 .4l2.3 3.8l2.3-5.3l2.2-.6l2.3-.2l2.2 4.1l2.3-6.5l2.2-5.4l2.3 3.9l2.3 9.2l2.2 4.4l2.3 .3l2.2 .7l2.3-.6l2.2-.8l2.3 .4l2.3 .5l2.2 3l2.3-2.6l2.2-.9l2.3-1.6l2.2-1.2l2.3-1.9l2.3-4.3l2.2 1.2l2.3 3.6l2.2-.4l2.3-2.2l2.2 .6l2.3 .5l2.3 2.9l2.2 1.7l2.3 2.6l2.2-.4l2.3 2.4l2.2 1.2l2.3 3.5l2.3 2.5l2.2 .5l2.3-3.2l2.2 .7l2.3-3.2l2.2 .2l2.3-2l2.2-.4l2.3-4.8l2.3 2.9l2.2-1.1l2.3-3.5l2.2-.5l2.3-.7l2.2 .9l2.3 .7l2.3 1.5l2.2-2.5l2.3-.7l2.2-2.5l2.3 .5l2.2-2.4l2.3-.6l2.3-4.7l2.2-1.1l2.3-2.7l2.2 4.2l2.3 .8l2.2 .5l2.3-1.2l2.3-.1l2.2-2.5l2.3-1.4l2.2 3.9l2.3 4.4l2.2-1l2.3 1.6l2.3 1.3l2.2 1.8l2.3 3.2l2.2 1.5l2.3 .2l2.2 1.5l2.3 .9l2.3 1.1l2.2-.7l2.3 2.3l2.2 .4l2.3-1.3l2.2 0l2.3-.6l2.2 1.6l2.3 2.5l2.3-.3l2.2 1.4l2.3 2.2l2.2 1l2.3 2.2l2.2-3l2.3 5.1l2.3 .4l2.2 2.6l2.3-.4l2.2-.8l2.3-1.6l2.2-2.4l2.3 .1l2.3-5.5l2.2-3.2l2.3 .4l2.2-2l2.3 2.4l2.2-1.8l2.3 2.1l2.3-1.6l2.2 .5l2.3 1.4l2.2-2.2l2.3-4.2l2.2-.4l2.3-1.8l2.3 .3l2.2-3.9l3.4-1.5l2.8 1.5l2.8 3.1l2.6 .6l2.5-.1l2.6 1.8l2.3 1l2.2-1l2.3 .6l2.2-.4l2.3-3l2.2-1.6l2.3-2.2l2.3-3.2l2.2 .9l2.3-4.4l2.8 8.2l2.8 5l2.8-1l2.9-3.6l2.2-.9l2.3 1.3l2.2-1l2.3-2.9l2.2-3.2l1.2 30.3l3.4-26l2.2-2.2l2.3-.8l2.2-3.7l2.3 11.2l2.2-1.9l2.3 1.8l2.2-.5l2.3-9.2l2.3-3.4l2.2-5.9l2.3 6.3l2.2 9.1l2.3-1.1l2.2-1.4l2.3 1.6l2.3 .1l2.2 1.1l2.3-.8l2.2 2.8l2.3 2.4l2.2 .2l2.3 2.8l2.3 .1l2.2-1.1l2.3 2l2.2-2.3l2.3 2l2.2 3.7l2.3 4.2l2.3-.2l2.2-5.5l2.3-2.5l2.2 .6l2.3-.5l2.2 2.6l2.3-3l2.3 1.2l2.2-1l2.3 .3l2.2-2.3l2.3 3l2.2-2.4l2.3-.1l2.3-1.4l2.2 2.5l2.3 3.7l2.2 2.7l2.3-.6l2.2 .1l2.3-.9l2.2-4.1l2.3-2.5l2.3-3.7l2.2-4.1l2.3 1l2.2 .8l2.3-1l2.2-.4l2.3 .9l2.3 1.1l2.2-2.6l2.3 1.9l2.2 1.6l2.3-.8l2.2-5.6l2.3 .2l2.3 .7l2.2-2.3l2.3 2.4l2.2-1.8l2.3-1.9l2.2 .1l2.3-2.7l2.3 .6l2.2 2.1l2.3-3.6l2.2 3.8l2.3-1.4l2.2 2l2.3-.2l2.3-1.6l2.2 2.8l2.3 .5l2.2-1.7l2.3-.5l2.2 1.6l2.3-1.5l2.3-1.6l2.2 .8l2.3 3.4l2.2 .2l2.3-4.7l2.2-5.5l2.3 .6l2.2 1l2.3 9.9l2.3-.3l2.2-.6l2.3-1.3l2.2-.2l2.3-1.7l2.2 .3l2.3-.9l2.3 .2l2.2-1.1l2.3-.3l2.2 .5l2.3-1.3l2.2-.6l2.3 1.2l2.3-1.2l2.2 2.9l2.3-2.5l2.2-2l2.3 1.1l2.2-.8l2.3-1.6l2.3 1.6l2.2-1.8l2.3-2.2l2.2 4.5l2.3-1.3l2.2 1.2l2.3-3.5l2.3-1.7l2.2 1.9l2.3-3l2.2 1.3l2.3 1.3l2.2-1.6l2.3-.1l2.3 .3l2.2 .9l2.3-1.7l2.2 1.9l2.3 .2l2.2 2.2l2.3-2.6l2.2-2.2l2.3 .3l2.3-2.8l2.2-.7l2.3-.8l2.2 .5l2.3-2.6l2.2 .1l2.3-3.3l2.3 9.7l2.2-.9l2.3-6.1l2.2-1l2.3-1.5l2.2 1l2.3 .7l2.3-.4l2.2 3.2l2.3 .6l2.2 1.7l2.3-.4l2.2-1.1l2.3-5.3l2.3-4.3l2.2-2.7l2.3-2l2.2-1l2.3-2.4l2.2 .4l2.3-1.7l2.3-1.1l2.2-2.6l2.3-2.9l2.2-4l2.3 2l2.2 .2l2.3-1.1l2.7 12.3l2.7 10.7l2.3 2l2.2 1.3l2.3 4.4l2.2-.6l2.3 0l2.2-.1l2.3 1.3l2.3 1.7l2.2-1l2.3-1.4l2.2 2.6l2.3 .3l2.2-4.4l2.3-4.2l2.3-3.5l2.2 1.6l2.3 2.5l2.2 .6l2.3-.3l2.2-4.3l2.3-.8l2.3-7.3l2.8 7.5l2.8 4.9l2.2-17.9l2.3-15.5l3.4 2.6l2.2 11.1l2.3 2.2l2.3 3.8l2.2 4.7l2.3 4.8l2.2 3.2l2.3 6.7l2.2 6.9l2.3 2.1l2.3-1.2l2.2 1.2l2.3 3.1l2.2 .2l2.3 6.6l2.2 6.7l2.3 6.5l2.3-1.7l2.2 2l2.3-2.8l2.2 2.9l2.3-1.9l2.2 .7l2.3 .6l2.3-2.7l2.2-1.9l2.3-2.3l2.2-1.6l2.3-3.2l2.2 4.5l2.3 5.7l2.3 2.6l2.2 1.8l2.3 1.4l2.2 3.4l2.3-1.6l2.2-1.1l2.3-2.9l2.3-1.5l2.2 2l2.3-.6l2.2 2.2l2.3 .7l2.2-1.8l2.3 .4l2.2-.3l2.3 1.7l2.3 1.8l2.2-2.1l2.3 1l2.2-1.7l2.3 1.6l2.2-1.4l2.3-2.3l2.3 1l2.2-2.6l2.3 1.5l2.2 .3l2.3-1.5l2.2 1.8l2.3-.4l2.3-3.2l2.2-.6l2.3 3.8l2.2 .9l2.3 .2l2.2 2.6l2.3-2.2l2.3-2.5l2.2-1.3l2.3-2.9l2.2 1.8l2.3-.2l2.2-.5l2.3 .8l2.3 .4l2.2-.6l2.3-2l2.2 2.4l2.3-2.2l2.2 .3l2.3 2.1l2.3 4.2l2.2 3.6l2.3 .9l2.2-2.3l2.3-1.1l2.2 .5l2.3-.9l2.2 .5l2.3-.3l2.3-.2l2.2 1.2l2.3-3.1l2.2-.1l2.3-1.6l2.2-.5l2.3-3.4l2.3-.9l2.2 1.6l2.3 1.4l2.2 .2l2.3 .4l2.2-2.1l2.3-.2l2.3-.7l2.2-2.9l2.3 .7l2.2 1.1l2.3-.6l2.2 1.5l2.3 .5l2.3 1l2.2 0l2.3-.9l2.2 2l2.3 .1l2.2-2.7l2.3 .1l2.3-.1l2.2 .5l2.3-2.5l2.2 3.5l2.3-2.6l2.2 1.7l2.3-1.5l2.3-.8l2.2 3.5l2.3 4.3l2.2 1.2l2.3 1.3l2.2 .6l2.3-.6l2.2 2.8l2.3-1.4l2.3-1.2l2.2 .7l2.3-3.1l2.2 .3l2.3 1.2l2.2-2.3l2.3-5.1l2.3-2.7l2.2 5.2l2.3 4.9l2.2 1l2.3-1.3l2.2-.6l2.3-3.1l2.3 3.8l2.2 3.3l2.3 2.3l2.2-19.3l2.3-1.8l2.2 .4l2.3-1.7l2.3 2.4l2.2 2l2.3-1.4l2.2 .7l2.3 4.2l2.2 2l2.3 1.8l2.3 1.2l2.2-.9l2.8 6.2l2.9 8.4l2.2-45.4l3.4 24.9l2.7 2.5l2.7 5.1l2.3 .3l2.2 .4l2.3 .5l2.2-9.4l2.3-5.9l2.2 3.1l2.3 3.7l2.3-5.7l2.2-8.5l2.3 .3l2.2 .7l2.3 1.2l2.2 4l2.3 1.1l2.3 5l2.2 1.9l2.3 1.3l2.2 .7l2.3 3.6l2.2-1.4l2.3-4.6l2.3 1.4l2.2-3.7l2.3-5.5l2.2-4l2.3 1l2.2-2.4l2.3-3.5l2.2-5.3l2.3-6.3l2.3 3.9l2.2 1.6l2.3 4.9l2.2 0l2.3 2.4l2.2-.8l2.3 .8l2.3-1.7l2.2-.8l2.3 1.2l2.2 .6l2.3-2.1l2.2 4.1l2.3 1l2.3-5.4l2.2-2.2l2.3-9.4l2.2-4.7l2.3-4.3l2.2-1.6l2.3-4.5l2.3 8.9l2.2 10.6l2.3-1.8l2.2-.9l2.3-1.3l2.2 2.1l2.3-.9l2.3 1.5l2.2 2.2l2.3 1.5l2.2 2.4l2.7-5.7l2.6-6.5l2.6-6.5l2.8 7.2l2.9 4.3l2.2 3.7l2.3 2l2.8 3.7l2.8 3.3l2.3-4.8l2.2-7.9l2.7 2l2.6 1.9l2.6 1.3l2.3 .7l2.2-.6l2.3 2.9l2.3 0l2.2 2.6l2.3-.1l2.2 1.9l2.3 2.7l2.2-2.4l2.3 1l2.3-2.9l2.2-1.1l2.3 2.3l2.2 1l2.3-1.9l2.2 1.3l2.7-8.5l2.6-5.4l2.6-5.6l3.4 21.5l2.3-9l2.2-9.3l2.3 5.9l2.3 4.4l2.2-2.9l2.3-3l2.2-4.3l2.3 4.7l2.2-.5l2.3 1.3l2.3 2.3l2.2-1.4l2.3 4l2.2 1.6l2.3 2.2l2.2 1.8l2.3-.2l2.2-1.7l2.3-2.2l2.3-3.1l2.2-3.9l2.8-10l2.9-8.9l2.2 9.8l2.3 7.1l2.8 .2l2.8-1.3l2.3 3.4l2.2-5.5l2.3 2.4l2.2 2.2l2.3-3.1l2.3-.1l2.2-2.1l2.3 4.5l2.2-1.3l2.3 3.4l2.2 1.6l2.3-1.9l2.3 1.6l2.2-3.1l2.3 .2l2.2-.9l2.3-2.2l2.2-.7l2.3-1.2l2.3-.7l2.2 .2l2.3 .6l2.2 .8l2.3-.2l2.2-2.7l2.3-.8l2.3 1l2.2 .6l2.3 3.4l2.2-2.4l2.3 .9l2.2 1.4l2.3-3.2l2.2 3.2l2.3 .3l2.3 3.1l2.2 .9l2.3 1.8l2.2 .4l2.3 1.3l2.2 2.1l2.3 2l2.3 3.8l2.2-2.5l2.3-1.9l2.2-2.3l2.3-2.8l2.2 1.5l2.3 1.2l2.3-1.9l2.2-1.6l2.3 1.2l2.2-3.4l2.3 .9l2.2 .5l2.3 1.4l2.3 1.9l2.2 .2l2.3-4.6l2.2-3.2l2.3 3.5l2.2 3.4l2.3 1.4l2.3 3.7l2.2 2.3l2.3 1.3l2.2 2l2.3-1l2.2 .7l2.3 4.4l2.7-.7l2.7-1.8" stroke="#0000ff" stroke-width="2.3" fill="none" stroke-linejoin="round"/>
<path d="M756 6.8V147.5" stroke="#000" stroke-width="2.5" stroke-dasharray="9.2 4"/>
<path d="M881.5 6.8V147.5" stroke="#000" stroke-width="2.5" stroke-dasharray="9.2 4"/>
<path d="M1365.1 6.8V147.5" stroke="#000" stroke-width="2.5" stroke-dasharray="9.2 4"/>
<path d="M1606.3 6.8V147.5" stroke="#000" stroke-width="2.5" stroke-dasharray="9.2 4"/>
<path d="M934.5 6.8V147.5" stroke="#f00" stroke-width="2.5" stroke-dasharray="9.2 4"/>
<path d="M1224.7 6.8V147.5" stroke="#f00" stroke-width="2.5" stroke-dasharray="9.2 4"/>
<rect x="94" y="6.8" width="1796.4" height="140.7" fill="none" stroke="#000" stroke-width="1.35"/>
<path d="M122.7 147.5v5.8M412.6 147.5v5.8M702.5 147.5v5.8M992.4 147.5v5.8M1282.2 147.5v5.8M1572.1 147.5v5.8M1862 147.5v5.8M94 141h-5.8M94 107.4h-5.8M94 73.9h-5.8M94 40.3h-5.8M94 6.8h-5.8" stroke="#000" stroke-width="1.3" fill="none"/>
<text x="122.7" y="174.4" text-anchor="middle">00:20</text>
<text x="412.6" y="174.4" text-anchor="middle">00:30</text>
<text x="702.5" y="174.4" text-anchor="middle">00:40</text>
<text x="992.4" y="174.4" text-anchor="middle">00:50</text>
<text x="1282.2" y="174.4" text-anchor="middle">01:00</text>
<text x="1572.1" y="174.4" text-anchor="middle">01:10</text>
<text x="1862" y="174.4" text-anchor="middle">01:20</text>
<text x="81.6" y="148.6" text-anchor="end">−3</text>
<text x="81.6" y="115" text-anchor="end">−2</text>
<text x="81.6" y="81.5" text-anchor="end">−1</text>
<text x="81.6" y="47.9" text-anchor="end">0</text>
<text x="81.6" y="14.4" text-anchor="end">1</text>
<text transform="translate(41.6 77.1) rotate(-90)" font-size="20.4" text-anchor="middle"><tspan font-style="italic">THC B</tspan><tspan dy="3.9" font-size="14.3" font-style="italic">GSM</tspan><tspan dy="-3.9" font-style="italic">, nT</tspan></text>
<text x="1858.0" y="48.1" text-anchor="end" font-size="31.2">(a)</text>
<path d="M756 147.5L94 203.8M881.5 147.5L511.6 203.8M1365.1 147.5L1012.9 203.8M1606.3 147.5L1890 203.8" stroke="#808080" stroke-width="1.4" fill="none"/>
<path d="M96.4 275.7l5.3-.3l4.3 8.2l5.3 3.8l8.5-4.9l6.4-.8l6.4-.6l6.4-.3l6.4 .6l8.5 3.6l4.8 3.8l4.8 4.4l5.4-3.9l6.4-5.8l6.3-4.7l5.7 1.1l5.7 1.5l5.7 .5l5.3 0l5.4-.2l4.2-1.8l6.4 3.3l5.3-3.4l5.4-3l6.4-5.3l4.9-.1l5-.9l5 .5l8.5-8.8l6.4-14l4.3-1.4l5.3-.4l5.3-.4l5.3 1.1l5.4 .6l5.3 1.4l5.3 0l5.4 .9l5.3 .5l5.3-.3l5.3 .8l5.4 .5l5.3 .7l5.3-.5l5.4 .8l6.3 .4l6.4 .1l8.6 3.8l6.4-3.3l4.9-.1l5 .8l5 .3l5.3-1.4l5.3-1.4l4.3 .6l5.3 2.7l5.4 2.8l5.3-1.5l5.3-1.4l5.3 .5l5.4 .5l5.7-.7l5.6 .3l5.7-1.4l5.7-.4l5.7-.1l5.7-1.1l4.9 2l5 .1l5 .1l5.3 .3l5.3 .7l5.4-.1l5.3-.7l5.3 .1" stroke="#ff0000" stroke-width="2.4" fill="none" stroke-linejoin="round"/>
<path d="M96.4 261.8l8.5 .3l6.4 6.4l4.3 3l6.4-14.7l5.3-1.7l5.3-2.1l6.4 6.9l4.3 6.4l4.2 3.2l4.3-7.8l4.3 4.4l4.2 9.9l4.3 4l6.4-9.5l6.4-9.8l8.5-3.9l5.3-1.8l5.4-.1l6.4-.5l5.3 1.6l5.3 .2l6.4 6.6l8.5-3.3l5-.9l5-1.4l5-.5l4.2 6.3l6.4-3l5.3-.5l5.4-1.1l8.5 1.4l5.3 1l5.3 .5l5.4 .7l5.3 .8l4.8-.3l4.8 .1l4.8 .4l4.8 .3l5.3 0l5.3-.1l5.4-.3l5.3 .9l5.3-.3l5.4 .5l5.3 .1l5.3 .2l4.8-2.3l4.8-1.3l4.6 1.4l4.6 1.2l4.7 1.8l5.3-1l5.3 .8l5.3 0l5.4-1l6.4-3.7l4.9 1.2l5 .8l5 .2l5.3 0l5.3-1.3l6.4 3.4l5.4-2.4l5.3-2.9l4.8 2.2l4.8-.2l4.8 .6l4.8 1.1l5.1-.5l5.1 0l5.1-.4l5.1 1l5.1-1l5.4 .3l5.3-.8l5.3-.1" stroke="#008000" stroke-width="2.4" fill="none" stroke-linejoin="round"/>
<path d="M96.4 287.4l6.4-3.4l8.5 4.3l6.4-2.8l6.4 1.4l8.5 3l8.6-5.2l8.5-1.3l4.2 3l8.6 .8l5.3 3.7l4.8-2l4.8-1.6l4.8-.1l4.8 .6l4.8-.1l4.8 .3l6.4-.4l6.4 .3l6.3-.6l6.4 .4l8.6 2.9l6.4-.7l6.4-.7l5.6-.7l5.7 .4l5.7 .3l5.3-.8l5.4 .5l5.3-.2l5.3 .6l5.3-.5l5.4 0l5.1 .3l5.1 .3l5.1 .4l5.1 .3l5.1 .8l6.4-1.5l6.4-.5l5 .4l5 .7l5-.8l6.3-.3l6.4 0l7.5 3.5l5.3-4.7l5.7-1l5.7-2.7l5.7-.5l6.4 .5l6.4-.3l6.4 4.3l6.4 4.1l8.5-4.7l5.7-.4l5.6-.2l5.7-1.5l5-1.9l5-2l5-1.2l5.3 1.3l5.3 1.6l4.8 .4l4.8 .7l4.8-.2l4.8 .3l5.3-.6l5.3 1l5.4-.6l5.3 .2l5.3 .5" stroke="#0000ff" stroke-width="2.4" fill="none" stroke-linejoin="round"/>
<rect x="94" y="203.8" width="417.6" height="140.7" fill="none" stroke="#000" stroke-width="1.35"/>
<path d="M110.6 344.5v5.8M206.9 344.5v5.8M303.2 344.5v5.8M399.6 344.5v5.8M495.9 344.5v5.8M94 330.4h-5.8M94 288.2h-5.8M94 246h-5.8M94 203.8h-5.8" stroke="#000" stroke-width="1.3" fill="none"/>
<text x="81.6" y="338" text-anchor="end">−30</text>
<text x="81.6" y="295.8" text-anchor="end">0</text>
<text x="81.6" y="253.6" text-anchor="end">30</text>
<text x="81.6" y="211.4" text-anchor="end">60</text>
<text x="502.7" y="237" text-anchor="end" font-size="28.8">(b1)</text>
<text x="105.2" y="237.2" font-size="28.8">THA</text>
<path d="M554.3 248l5.6 .4l5.7-1l5.7 1.3l5.3-1.5l5.4 0l5.3 0l5.3-.4l5.4-1.3l5.3 .2l5.3-.4l5.3-.2l5.4-.9l5.3 0l5.3-.6l5.4 .3l5.6-.5l5.7-.5l5.7-.9l5.7-.4l5.7-1.2l5.7-1.2l5.6 .1l5.7-1.8l5.7-.7l5.7-1l5.7-.7l5.7-1.3l5.6-.6l5.7-.7l5.7 0l6.4-.3l8.5 2l6.4-2.4l6.4-1.3l5.3-3.2l4.3 22.2l4.3 21.2l2.1 14.1l5.3-2.6l6.4-3.6l6.4 11.1l4.3 6.3l6.4 29.9l7.4-.9l4.8-9.2l4.8-9.1l6.4 8.7l6.4-.1l6.4-1.3l8.5-5.2l6.4 5.9l6.4-6l6.4 1.8l5.3-1.7l5.4-1.8l3.2-17.1l2.1-2.1l3.2 12.8l3.2 10.3l5.3 7.8l6.4-19.5l8.5-2.3l8.6-7.5l6.4 1.2l6.3 4.1l4.3-6.9l5.3 7.5l5.4 8.4l6.4-6.4l8.5 2.6l8.5 4.8l6.4-10.9" stroke="#ff0000" stroke-width="2.4" fill="none" stroke-linejoin="round"/>
<path d="M554.3 293.8l5.6 .9l5.7 .1l5.7 .1l5.3 .8l5.4 .2l5.3 .2l5.3 0l5.4 .6l5.3 .1l5.3 .7l5.3 .6l5.4-.3l5.3 .7l5.3 .6l5.4 .3l5.3-.1l5.3-.3l5 .6l5 .8l4.9 1.1l5.7-.3l5.7 .4l5.7-.1l6.4 1.2l6.4 .5l5.6-.3l5.7 .9l5.7-.5l6.4 1.9l6.4 .8l6.4 1.1l6.4 2.2l8.5 2.5l8.5-.5l4.3 1.5l5.3 4.7l2.2-19.5l3.2-8.2l4.2 9.1l6.4 5.5l6.4-15.3l8.5 .2l8.6 2.6l4.2-7l6.4 2.4l6.4-9.1l6.4 7.2l4.3-7.5l6.4 5.3l6.4 .8l4.2-.5l6.4 16.3l5.3-4.6l5.4-4.7l6.4 2.2l5.3 18l6.4-13.8l7.4 10.5l8.6-3.2l6.4 9.6l6.4 9.3l5.3-4.3l5.3-4.2l6.4 8l6.4-3.1l4.3-.4l6.4-2.9l5.3-.3l5.3 0l6.4-1.8l6.4 4.8" stroke="#008000" stroke-width="2.4" fill="none" stroke-linejoin="round"/>
<path d="M554.3 294.8l5.6 0l5.7 .3l5.7 .6l5.3-.7l5.4 1.7l5.3-.8l5.3 .6l5.4 .3l5.3-.8l5.3-.3l5.3 .2l5.4-.3l5.3 .6l5.3-.2l5.4 .6l5.3-.5l5.3-.6l5.3 .9l5.4-.5l5.3-1l5.3 0l5.3 .1l5.4-.8l6.4 0l6.4-.3l6.4-1.8l6.4-.9l6.3-1.3l6.4-.8l5.4-2.2l5.3-.4l8.5-4l6.4-.9l8.5 4.4l4.8 .5l4.8 .7l3.2 2.9l6.4 5.8l6.4-10.7l5.3 2l5.4 1.1l6.4 3.7l6.4 4.9l6.4-3.4l4.2-5.9l6.4 3.5l6.4-3.4l5.3 .7l5.4-.2l5.3 1.7l5.3 2.2l6.4 12.2l5.3-3.2l5.4-3.1l6.4-5.2l6.4 5.8l5.3-9l6.4 7.4l5.3-4.2l5.3-4.1l5.4 13.1l8.5 2.8l6.4-2.9l8.5-11.5l6.4 3l4.3 .2l6.4 4.6l6.4-1.9l5.3-5l5.3-5.3l6.4 7.6" stroke="#0000ff" stroke-width="2.4" fill="none" stroke-linejoin="round"/>
<path d="M572.4 203.8V344.5" stroke="#008000" stroke-width="2.9" stroke-dasharray="10.7 4.6"/>
<path d="M634.8 203.8V344.5" stroke="#008000" stroke-width="2.9" stroke-dasharray="10.7 4.6"/>
<path d="M732.9 203.8V344.5" stroke="#000" stroke-width="2.6" stroke-dasharray="9.6 4.2"/>
<path d="M762.3 203.8V344.5" stroke="#000" stroke-width="2.6" stroke-dasharray="9.6 4.2"/>
<path d="M801.9 203.8V344.5" stroke="#f00" stroke-width="2.4" stroke-dasharray="8.9 3.8"/>
<path d="M822.8 203.8V344.5" stroke="#f00" stroke-width="2.4" stroke-dasharray="8.9 3.8"/>
<rect x="553.4" y="203.8" width="417.6" height="140.7" fill="none" stroke="#000" stroke-width="1.35"/>
<path d="M572.9 344.5v5.8M697.9 344.5v5.8M822.8 344.5v5.8M947.8 344.5v5.8M553.4 330.4h-5.8M553.4 288.2h-5.8M553.4 246h-5.8M553.4 203.8h-5.8" stroke="#000" stroke-width="1.3" fill="none"/>
<text x="962.1" y="237" text-anchor="end" font-size="28.8">(b2)</text>
<text x="564.6" y="237.2" font-size="28.8">THA</text>
<path d="M1014.3 233l5.6-.8l5.7-.8l5.7-.5l5.3-.7l5.4-.8l5.3-1l5.3 .1l5.4-1.6l5.3 1.1l5.3-.9l5.3-.1l5.4-1.1l5.3-1l5.3-1.1l5.4-.4l5.3-.7l5.3-.4l5.3-.4l5.4-.7l5.3-.6l5.3-.6l5.3-.6l5.4-.6l8.5-1l5.9-1.3l5.8-1.7l5.4 4.4l5.3 5.5l6.4 18.4l5.3-27.4l5.3 10l5.4 37.6l6.4 14.3l2.1 24.8l3.2 22.6l5.3 11.6l5.3-13.8l6.4-6.1l4.3-6.3l5.3 2.1l5.4-16.5l5.3 3.7l5.3 7.9l6.4-9.2l5.3 1.1l8.6 5.6l7.4 1.5l5.3 4.5l8.6 0l8.5-1.2l4.3-2.7l8.5 2.7l6.4 0l6.4 .6l6.4-.2l6.4-.8l8.5 1.1l8.5-.7l5.3 1.1l5.4 0l5.3 .8l5.3-.1l6.4 1.7l6.4 2.4l8.5-.1l8.6-2.1l6.4 1l6.3-1.3l7.5 1.2l7.5 2.3" stroke="#ff0000" stroke-width="2.4" fill="none" stroke-linejoin="round"/>
<path d="M1014.3 301.9l5.6 .5l5.7 .7l5.7-.3l5.3 .6l5.4 .7l5.3 1.2l5.3 .6l5.4 .1l5.3 .4l5.3 0l5.3 .2l5.4 1.3l5.3 .7l5.3 .4l5.4 .1l5.3 1.4l5.3 .7l5.3 .4l5.4 1.2l5.3 .9l5.3 .4l5.3 .4l5.4 .4l6.4 .4l6.4-.7l8.5 4l4.8 2.4l4.8 2.2l6.4-12.5l5.3 17.6l5.3 .5l6.4-11.8l5.4 3.4l4.2-15.7l6.4-11.2l5.3-6.7l5.4 13.9l5.3 11.2l5.3 1.7l5.4 10.3l5.3-1.8l6.4 1.8l5.3 3.9l6.4-5.8l7.5-1.7l6.3-.9l6.4-.6l8.6-1.5l8.5-.2l8.5-4.3l8.5-3.3l8.6-.5l8.5-2.4l5.3-1l5.3 .4l8.6-3.5l5.3-.2l5.3-.1l5 0l5-.1l5-.2l5.3 1.3l5.3 .4l8.5 1.7l5-.4l5 0l5-.7l6.3 .2l6.4 .4l8.6 3.9" stroke="#008000" stroke-width="2.4" fill="none" stroke-linejoin="round"/>
<path d="M1014.3 292.7l5.6 0l5.7 0l5.7-.5l5.3 .7l5.4 0l5.3-.3l5.3-.4l5.4 .5l5.3-.7l5.3 .4l5.3 .2l5.4-.5l5.3-.4l5.3-.2l5.4 .4l5.3-.5l5.3 .3l5.3-.5l5.4-.5l5.3 .3l5.3-.8l5.3-.3l5.4-.5l6.4-.6l6.4-1.1l6.4 .6l6.4-1.1l5.3-3.6l6.4 .3l5.3 8.5l6.4 .5l5.3 .5l5.4-7.8l8.5 3.6l6.4-6l6.4-2l5.3 16.9l7.5-7.6l4.2-7.1l5.3 2.3l4.3 6.4l6.4-5.6l5.3 3.6l8.6-.6l8.5 1.2l6.4 .8l6.4 .8l8.5 2l4.3 4.7l6.3-5l6.4-.9l4.3 1.1l5.3-2.2l5.4 2.2l6.4-.9l5.3 .5l5.3 .2l6.4-.8l8.5 1.4l6.4 .7l6.4 1l5-1.3l5-.3l4.9-2.4l5.4 3l5.3 2.2l5.3-1.6l5.4-.8l5.3-.6l5.3-1.1l5.3 .2l5.4-.5" stroke="#0000ff" stroke-width="2.4" fill="none" stroke-linejoin="round"/>
<path d="M1027 203.8V344.5" stroke="#008000" stroke-width="2.3" stroke-dasharray="8.5 3.7"/>
<path d="M1075.6 203.8V344.5" stroke="#008000" stroke-width="2.3" stroke-dasharray="8.5 3.7"/>
<path d="M1168.8 203.8V344.5" stroke="#000" stroke-width="2.6" stroke-dasharray="9.6 4.2"/>
<path d="M1237 203.8V344.5" stroke="#f00" stroke-width="2.4" stroke-dasharray="8.9 3.8"/>
<path d="M1253 203.8V344.5" stroke="#f00" stroke-width="2.4" stroke-dasharray="8.9 3.8"/>
<rect x="1012.9" y="203.8" width="417.6" height="140.7" fill="none" stroke="#000" stroke-width="1.35"/>
<path d="M1026.9 344.5v5.8M1123.9 344.5v5.8M1220.8 344.5v5.8M1317.8 344.5v5.8M1414.7 344.5v5.8M1012.9 330.4h-5.8M1012.9 288.2h-5.8M1012.9 246h-5.8M1012.9 203.8h-5.8" stroke="#000" stroke-width="1.3" fill="none"/>
<text x="1421.6" y="237" text-anchor="end" font-size="28.8">(b3)</text>
<text x="1024.1" y="237.2" font-size="28.8">THD</text>
<path d="M1476.4 316.2l6.4-1.5l5 .2l4.9 1.2l5-.2l6.4 2.9l6.4-.2l6.4 1.5l4.8 .5l4.8 .2l4.8 .5l4.8 .3l4.9-.2l5-2.2l5 .1l5.3-.5l5.3-.4l5.4-1.2l5.3-.5l4.3-.8l8.5 2.3l6.4 1.4l6.4 2l6.4-.1l6.4 1.1l8.5 3.7l8.5 3.7l6.4 2.6l6.4 4.6l5.3-3.3l5.4-12.4l5.3-16.5l6.4-16l4.2-18.4l4.3-35l4.3-3.5l7.4 .1l5.4 .4l5.3 1.4l5.3-.2l5.3-.1l5.4-.9l5.3 .4l5.3-1.2l5.4-.6l5.3 .6l5.3-.9l5.7-.5l5.7-.9l5.7 .5l5.3-.2l5.3 0l5 .8l5 .7l4.9 .4l5.4 .4l5.3 .3l5.3 .7l5.3-.4l5.4 0l5.3 .3l5.3 .3l5.4-.4l5.3-.4l5.3 .3l5.3 .4l5.4 0l5.3-.6l5.3 .5l5.4-.2l5.3 .1l5.3-.3l5.3-.4l5 1l5 .1l5-.6" stroke="#ff0000" stroke-width="2.4" fill="none" stroke-linejoin="round"/>
<path d="M1476.4 276.7l5.3-.4l5.4 .7l5.3-.6l5.3-.4l7.5-3.2l5.8-.4l5.9-.2l4.8-1.1l4.8-1.5l7.4 2.7l8.6-1.9l6.4 .2l6.4 .8l6.3-.7l6.4 1.2l5.7 1.6l5.7-.1l5.7 .6l8.5 0l8.5-2.7l5.4-1.2l5.3-1l5.3-.7l5.4-.1l5.3-2.1l5.3-1.9l6.4 3.9l4.3-2.7l6.4-14.1l6.4 3.7l5.3 5.1l6.4 1.6l5.3 4.1l8.5 3l5.4 1.8l5.3 1l5.3 .7l5.3-.4l5.4 1.6l5.3 .1l5.3 .5l5.4 .5l5.3-.1l5.3-.1l5.3-.2l5.4-.1l5.3-.5l5.3-.5l5.4-.8l5.3 .1l5.3-1l5.3-.3l5.4 .3l5.3-.8l5.3-.1l5.3 .1l5.4-.7l5.3 0l5.3-.2l5.4 .1l5.3-.6l5.3-.4l5.3 .1l5.4 .7l5.3 .2l5.3 .5l5.4 0l5.3 .8l5.3 .4l5.3 .2l5 .5l5 .2l5 .4" stroke="#008000" stroke-width="2.4" fill="none" stroke-linejoin="round"/>
<path d="M1476.4 278.4l5.3 .8l5.4 1l4.9 .8l5-.4l5 .2l5.3-.2l5.3 .1l6.4-.7l6.4 1.2l5.7 .4l5.7-1l5.7 .7l6.4-1l6.4-.6l4.9-.8l5 0l5 .1l6.4 .5l6.4-1.9l6.4-1.5l8.5-2.3l5.3 .1l5.3-.1l5.4-.8l5.3-2l4.8 1.4l4.8 .4l7.4 4.9l4.3 6.8l4.3 8.3l5.3-9.5l5.3 0l6.4-3.1l5.3-11.5l4.3 9l6.4-2.4l5.3 3.6l5.7-.8l5.7-1.1l5.7-.9l5.1 .4l5.1 .8l5.1 1.2l5.1 .5l5.2 1l5.3 .1l5.3-.7l5.3 .1l5.4-.2l5.3 .1l5.3 1l5.4-.1l5.3-.5l5.3 .1l5.3 .2l5.4 .1l5.3 .7l5.3 .3l5.3-.8l5.4-.1l5.3 .1l5.3 .1l5.4 .5l5.3-.5l5.3-.3l5.3 .4l5.4 .2l5.3 1l5.3-.3l5.4-.4l5.3 .9l5.3 .2l5.3 .1l5 0l5 .6l5-.2" stroke="#0000ff" stroke-width="2.4" fill="none" stroke-linejoin="round"/>
<path d="M1585.5 203.8V344.5" stroke="#f00" stroke-width="2.4" stroke-dasharray="8.9 3.8"/>
<path d="M1618.1 203.8V344.5" stroke="#f00" stroke-width="2.4" stroke-dasharray="8.9 3.8"/>
<path d="M1669.7 203.8V344.5" stroke="#000" stroke-width="2.6" stroke-dasharray="9.6 4.2"/>
<path d="M1682.5 203.8V344.5" stroke="#008000" stroke-width="2.3" stroke-dasharray="8.5 3.7"/>
<path d="M1779.5 203.8V344.5" stroke="#008000" stroke-width="2.3" stroke-dasharray="8.5 3.7"/>
<rect x="1472.4" y="203.8" width="417.6" height="140.7" fill="none" stroke="#000" stroke-width="1.35"/>
<path d="M1488.9 344.5v5.8M1585.7 344.5v5.8M1682.6 344.5v5.8M1779.4 344.5v5.8M1876.2 344.5v5.8M1472.4 330.4h-5.8M1472.4 288.2h-5.8M1472.4 246h-5.8M1472.4 203.8h-5.8" stroke="#000" stroke-width="1.3" fill="none"/>
<text x="1881.1" y="237" text-anchor="end" font-size="28.8">(b4)</text>
<text x="1483.6" y="237.2" font-size="28.8">THD</text>
<path d="M94.3 476.1l6.4-4.4l8.5-5.5l6.4 4l6.4 .2l6.4-.5l4.2 1.4l6.4-4l4.3 4.9l5.3 4.3l5.3-4l4.3 .2l5.3-3.1l5.4-2.1l4.2 .7l6.4 3.9l5.3-1.5l5.4-1.7l6.4-2.3l8.5 1.2l8.5-2.1l8.5-3.3l5.4 2.6l5.3 2.1l4.3 6.5l8.5-5.4l5.3-.7l5.3 .3l3.2-2.9l7.5 17.3l4.3-1.4l6.4-14.2l6.3-8.7l6.4-.6l8.6-7.4l4.2-1.2l4.3-3.5l8.5-4.6l8.5 2.5l4.8 3l4.8 3.7l4.3-5.3l5.3 2.4l3.2-2.2l4.8 2.7l4.8 3.5l5.3-6l3.2-12.6l4.3 .6l4.3 27.7l4.2-10.9l4.3 1.6l4.2-13.1l4.3 11.5l4.3-9.6l4.2 2.3l6.4-11.9l4.3-4.1l4.3-2.4l8.5 3.2l8.5-3.7l4.3 1.4l4.2 6l8.6-18.9l4.2 4.9l4.3 16.7l8.5-6.4l4.3 5l8.5-8.9l8.5-3.6l4.3 3.6l6.4-.5l4.2 3.6l4.3-4.4l5.3 7.6" stroke="#ff0000" stroke-width="2.4" fill="none" stroke-linejoin="round"/>
<path d="M94.3 388.7l4.2 .8l6.4 3.2l8.5-6.2l4.3 .6l4.8 4.2l4.8 4l4.3-.8l5.3-1.6l5.3-3.3l5.3-2.8l6.4 2.5l4.3-3.2l6.4 .1l6.4 .1l6.4 1.6l6.4 2.5l4.8 2l4.8 1.2l4.8-.9l4.8-2l4.9-.2l5-.6l5-1.5l6.4-1.1l4.8-.2l4.8 .8l4.8 0l4.8 1.1l6.3-1.6l8.6 1.4l4.2-3.5l4.3 1.8l5.3-1.1l4.3 14l7.4 11.6l4.3-.9l4.3 .8l5.3 12.9l5.3 7.3l4.3 3.4l7.5-.4l5.3 4.1l4.2-1.8l5.4-2.6l4.2 1l4.3 4.1l5.3-10.5l3.2-4.2l4.3-.9l5.3-2.4l4.3 6.2l3.2 18.4l4.2-5.8l5.4-30.7l4.2 10.6l4.3-5.8l4.2 15.4l4.3-10.4l4.3 16.4l4.2-3.1l4.3 18.8l6.4-.6l4.3-3.2l6.3-10.3l6.4 14l8.6 9l6.4-3.1l6.4 18l8.5-17.8l8.5 .8l6.4-4.9l5.3 8.4l5.4 7l6.4-.9l6.3-4.6l4.3 .1l4.3-8.4l3.2 2.5l4.2-5.5" stroke="#008000" stroke-width="2.4" fill="none" stroke-linejoin="round"/>
<path d="M94.3 456.2l4.8-.4l4.8-.5l5.3-7.6l8.5 3.5l4.3 3l5.3-4.6l7.5-1.2l6.4 2.1l4.2 3.5l4.3-2.1l6.4 3.1l5.3-1.6l5.3-1.3l8.6 3.6l8.5 .5l6.4 2.8l5.8-4.2l5.9-1.1l7.5 3.1l8.5 3.4l4.2-.7l4.3-.7l6.4 .8l4.3 2.8l6.4-2.9l6.3-2.5l4.3 2.5l8.5-5l5.4 6.2l7.4 1.1l6.4 3.4l6.4 1.2l6.4-9l4.3 5.8l4.2-6.3l6.4-4.2l6.4-1.5l6.4-6.8l6.4 .7l5.3-2.7l4.3 .7l5.3 6l4.3-1.4l7.4-5.6l4.3-8.4l5.3-23.2l6.4 23.1l6.4 19.5l8.5 8.9l6.4 0l4.3-3l6.4-27.3l5.3-11.7l5.4 9.2l4.2 11.5l4.3 6.1l4.2-9.1l4.3 4.7l4.3 .3l6.4 12.6l3.2 6.6l3.2 18.6l4.2-9.1l4.3-.2l4.2-2.9l4.3-15.1l6.4-1.7l2.1 1.4l6.4-5.9l4.3 3.4l4.3 7l4.2 3.1l6.4 2.2l3.2 2.6l3.2-9.8l5.3 10.3" stroke="#0000ff" stroke-width="2.4" fill="none" stroke-linejoin="round"/>
<rect x="94" y="358.8" width="417.6" height="140.7" fill="none" stroke="#000" stroke-width="1.35"/>
<path d="M110.6 499.4v5.8M206.9 499.4v5.8M303.2 499.4v5.8M399.6 499.4v5.8M495.9 499.4v5.8M94 487.2h-5.8M94 444.4h-5.8M94 401.6h-5.8M94 358.8h-5.8" stroke="#000" stroke-width="1.3" fill="none"/>
<text x="81.6" y="494.8" text-anchor="end">−100</text>
<text x="81.6" y="452" text-anchor="end">0</text>
<text x="81.6" y="409.2" text-anchor="end">100</text>
<text x="81.6" y="366.4" text-anchor="end">200</text>
<text x="502.7" y="391.9" text-anchor="end" font-size="28.8">(c1)</text>
<path d="M554.3 453.5l8.5-2.4l4.3 .1l6.3 3.3l5.4-.2l5.3-1.6l6.4 1.9l5.3-1.2l5.4-1.3l6.3 3.4l6.4-6.7l6.4 5.1l5.4-1.9l5.3-1.1l8.5 1.5l8.5-3.6l5.4 .7l5.3-1.3l5.3-3.7l5.4-3.4l6.3 3.1l6.4 2.1l6.4-2.5l6.4 .3l6.4-.5l8.5 7.9l5.4-.9l5.3-.6l6.4 2.9l6.4 15.5l6.4-4.2l6.4-15.6l4.2-11.1l5.4 9.2l6.4-7.8l5.3 .4l6.4-4.1l5.3 3.2l5.3 2.2l6.4-5.4l5.4 4.6l5.3 3.8l6.4-2.9l8.5 4.7l6.4 1.1l8.5-2.4l5.4-2.2l5.3-1.8l5.3-1l5.3-.6l6.4 7.6l6.4-15.9l6.4-20.9l4.3-6l6.4 4.3l6.4-13.5l4.2 6.9l6.4-11.6l5.4-12.7l7.4 5.1l6.4 7.8l8.5 2l6.4 8.4l6.4-9.3l5.4 4.9l5.3 5.6l6.4-3.4l6.4 2.2l5.3-8.8" stroke="#ff0000" stroke-width="2.4" fill="none" stroke-linejoin="round"/>
<path d="M554.3 453.5l8.5 2.4l8.5-2.5l8.5 4.8l6.4-2.9l6.4-2.4l8.6-1.1l6.3 5l5.4-.5l5.3-.8l6.4-.4l6.4-2.1l4.3 6.5l6.3-10.5l6.4 6l6.4-3.4l5.4 3l5.8-3.6l5.9-5.1l5.3-.4l5.3-1.2l6.4-3.9l6.4-3.8l6.4 .2l4.8 7.6l4.8 8.2l5.3-13.8l5.4 .5l6.4-11.1l5.3-22.8l4.3-11.7l5.3-5.2l7.4 10.1l6.4-27l6.4 15l6.4 8.7l6.4-2l4.8-4.7l4.8-5.7l5.9 10.8l5.8 11.8l5.4-.3l5.3 .8l6.4-15.9l6.4-2.6l4.2 6.5l6.4-7l5.4-3.9l5.3-3.5l6.4 13.5l5.3 5.6l6.4-13.4l5.3-3.3l6.4 9l4.3 15.5l6.4-.5l6.4 5.6l4.2 1.2l6.4 11.3l5.4 33.3l5.3 8.8l5.3-.8l5.3-1.9l6.4 3.7l6.4-9.4l6.4 10.1l6.4-8.6l8.5-1.9l7.5-2l6.4 3.6" stroke="#008000" stroke-width="2.4" fill="none" stroke-linejoin="round"/>
<path d="M554.3 422.3l6.4-1.3l6.4-1l5.3 3.4l5.8-.5l5.9-.4l6.4 1.9l6.4-6.2l8.5 .6l8.5-.9l6.4-3.2l4.3 3.5l5.3-3.7l5.4-4l8.5 .1l5.3-.9l5.3 .6l6.4-3.3l4.8-3.8l4.8-2.8l5.9 1.9l5.8 1.2l5.4 1.5l5.3 1.5l6.4-2.6l4.3 2.6l7.4 5.5l7.5 0l6.4 4l4.2-1l4.3 9.5l6.4-32.6l5.3-6.3l5.3 9.2l6.4 40.4l5.4-32.7l7.4-5.7l8.5 .8l6.4 .2l6.4-10.3l5.4 7.4l5.3 9.6l6.4-5.9l6.4 .1l8.5-9.9l6.4-2.1l6.4-3l6.4-2.5l6.4 16.6l5.3 10.4l5.3 1l6.4-7.2l6.4-9.6l4.3-.1l6.4-4.7l6.4 5.7l5.3-2.4l5.3-2.2l6.4 10l6.4 8.1l4.3 1l5.3-14.7l5.3 1.7l6.4-4l6.4 6.9l6.4 .9l8.5-8l7.5-11.5l6.4 10" stroke="#0000ff" stroke-width="2.4" fill="none" stroke-linejoin="round"/>
<path d="M572.4 358.8V499.4" stroke="#008000" stroke-width="2.9" stroke-dasharray="10.7 4.6"/>
<path d="M634.8 358.8V499.4" stroke="#008000" stroke-width="2.9" stroke-dasharray="10.7 4.6"/>
<path d="M732.9 358.8V499.4" stroke="#000" stroke-width="2.6" stroke-dasharray="9.6 4.2"/>
<path d="M762.3 358.8V499.4" stroke="#000" stroke-width="2.6" stroke-dasharray="9.6 4.2"/>
<path d="M801.9 358.8V499.4" stroke="#f00" stroke-width="2.4" stroke-dasharray="8.9 3.8"/>
<path d="M822.8 358.8V499.4" stroke="#f00" stroke-width="2.4" stroke-dasharray="8.9 3.8"/>
<rect x="553.4" y="358.8" width="417.6" height="140.7" fill="none" stroke="#000" stroke-width="1.35"/>
<path d="M572.9 499.4v5.8M697.9 499.4v5.8M822.8 499.4v5.8M947.8 499.4v5.8M553.4 487.2h-5.8M553.4 444.4h-5.8M553.4 401.6h-5.8M553.4 358.8h-5.8" stroke="#000" stroke-width="1.3" fill="none"/>
<text x="962.1" y="391.9" text-anchor="end" font-size="28.8">(c2)</text>
<path d="M1014.3 443.4l5.6 0l5.7 1.1l5.7 .2l6.4-2l5-.1l5 .2l4.9 .4l5.4-.2l5.3-.6l5.3 .8l5.3-.8l6.4 3.4l6.4-2.4l5.4 4l5.3-4.9l5.3 2.4l5.3 .9l5.4-4.6l5.3 3.3l5.3-.5l5.4 .2l8.5 1.5l5.3-.3l5.3 .3l8.6-.6l4.2 25.3l6.4 10.8l4.3-21.3l6.4-37.3l5.3 16.7l6.4 5.7l5.3-9.5l5.4-.7l4.2 13l6.4 .3l5.3-9.5l4.3-16.9l6.4-20.3l8.5-3.3l3.2 4.2l5.3 5.8l5.4 4.6l3.2-9.9l6.4 9.6l8.5 9.7l8.5 6.4l5.3 1.5l5.4 1.4l8.5-7.3l8.5 .7l8.5-1.8l5.4-.3l5.3 .5l6.4 1.1l8.5 1.1l8.5 3.5l8.6 2.3l8.5 1.7l8.5 1l5.3 .8l5.4 .1l5.3 .1l5.3 .2l6.4 1.1l6.4 .7l6.4 .8l6.4 .1l4.8 .8l4.8 .6" stroke="#ff0000" stroke-width="2.4" fill="none" stroke-linejoin="round"/>
<path d="M1014.3 438.5l6.4 .7l6.4 .4l5.3-1.2l5.3-1.9l6.4 3.4l8.5-1.8l6.4-1.5l8.5 .8l6.4-3l6.4 4.8l5.4-6.4l5.3 7.3l6.4-8.7l6.4 1.1l4.2 4.8l5.4-10l5.3 6.7l5.3 .8l5.4 1.8l4.2-1.6l6.4-4.6l6.4 4.7l4.3 .5l6.4-5.1l4.2-45.7l6.4-11.6l6.4 25.9l4.3-6.1l5.3-17.8l6.4 38l5.3 10.2l4.3 11.9l4.2-15.9l6.4-16.8l6.4-2.3l4.3 13.1l6.4 15.3l4.3 11.2l5.3 20.9l6.4-4.6l5.3 4l4.3-.7l6.4-4.1l6.4-3.9l6.3-4.5l6.4-3.1l8.6-1.7l5.3 3.5l5.3 1.8l6.4-1.8l8.5-.2l8.6-2.9l4.2 0l6.4-4.4l8.5 .4l6.4-4l8.6-2.7l5.3-1.3l5.3-2.4l6.4-1.6l6.4-1.9l6.4-.2l6.4 0l4.8-.8l4.8 .9l4.8 .3l4.8 .9l4.5-.6l4.5-.9l4.6 .1l4.5-.6" stroke="#008000" stroke-width="2.4" fill="none" stroke-linejoin="round"/>
<path d="M1014.3 423.2l6.4 .4l6.4-.8l5.3-.9l5.3-1.8l5.3-1.1l5.4-1.1l5.3-.4l5.3-.3l6.4 2.3l6.4 .7l4.3-4.3l4.2 5.8l6.4-6.8l5.4 8.4l5.3-9.8l6.4 1.6l4.2 6.3l6.4-11.5l4.3 9.2l5.3-8.5l5.4 6.5l5.3-5.8l5.3-4.5l6.4 7.8l5.3-6.2l5.4 1.3l5.3 38.2l5.3-43.6l5.3 20.3l5.4-49.6l5.3 64.9l5.3-14.7l5.4-17.7l5.3 3.5l5.3-5l6.4-13.5l5.3 1.5l5.4 19.8l5.3 2.1l5.3-8.9l4.3-10.5l6.4 11.2l5.3-10.6l5.3 2.3l5.4 1.6l6.4 8.5l5.3-6l5.3 7l6.4 .9l6.4 3.9l8.5 8.7l4.3 .7l6.4-2.6l5.3 4.8l5.3 .6l6.4 4l4.3-2.3l5.3 2l7.5 3.7l4.2 3.7l4.3-2.5l6.4 3.7l5.3 0l5.4 .5l8.5 4.5l8.5 .3l8.5 3l6.4 .3l6.4 1.9l5.3-4l5.4-1.7l5.3 1.1l6.4-6.5" stroke="#0000ff" stroke-width="2.4" fill="none" stroke-linejoin="round"/>
<path d="M1027 358.8V499.4" stroke="#008000" stroke-width="2.3" stroke-dasharray="8.5 3.7"/>
<path d="M1075.6 358.8V499.4" stroke="#008000" stroke-width="2.3" stroke-dasharray="8.5 3.7"/>
<path d="M1168.8 358.8V499.4" stroke="#000" stroke-width="2.6" stroke-dasharray="9.6 4.2"/>
<path d="M1237 358.8V499.4" stroke="#f00" stroke-width="2.4" stroke-dasharray="8.9 3.8"/>
<path d="M1253 358.8V499.4" stroke="#f00" stroke-width="2.4" stroke-dasharray="8.9 3.8"/>
<rect x="1012.9" y="358.8" width="417.6" height="140.7" fill="none" stroke="#000" stroke-width="1.35"/>
<path d="M1026.9 499.4v5.8M1123.9 499.4v5.8M1220.8 499.4v5.8M1317.8 499.4v5.8M1414.7 499.4v5.8M1012.9 487.2h-5.8M1012.9 444.4h-5.8M1012.9 401.6h-5.8M1012.9 358.8h-5.8" stroke="#000" stroke-width="1.3" fill="none"/>
<text x="1421.6" y="391.9" text-anchor="end" font-size="28.8">(c3)</text>
<path d="M1474.3 432.8l5.6 .1l5.7 .7l5.7 .7l5.3 .4l5.4 .4l5.3 .7l5.3 .5l5 0l5 .3l4.9-.2l5.4-.9l5.3-1.1l5.7-.8l5.7-1.3l5.7-1.4l4.9 .4l5-.1l5-.7l4.9 .1l5-.6l5-.7l8.5-.6l6.4 .7l6.4 .7l6.4 2.5l6.4 1.8l6.4-1.5l6.4-.6l8.5 9.3l7.5 1.6l5.3-7.3l6.4-8.5l5.3-15.2l5.3-27.1l3.2 33.3l2.8 41.1l6.8 8.2l6.4 7l7.5 1.2l6.4-10.3l5.3 8.6l5.3-4.3l5.4 1.3l6.4 6.2l5.3 .9l5.3 1l5.3-2.2l5.4-2.7l5.3-.9l5.3-.8l5.4-1.4l5.3-1.1l6.4-4.5l5.3 1.9l5.3 .8l8.6-5.7l5.6-.6l5.7-.2l5.7-1l8.5-1.4l8.6-4.1l8.5 2.5l8.5-3.5l8.5-1.3l8.6-6.1l6.4-.6l6.3-.4l7.5-1.2l5.3-7.1" stroke="#ff0000" stroke-width="2.4" fill="none" stroke-linejoin="round"/>
<path d="M1474.3 461.1l6.4 .5l6.4-.2l5.3 1.1l5.3-.3l5.3 1.4l5.4 .4l4.9 0l5-1.5l5 0l5.3-.7l5.3-1.2l8.6-1l6.4-1.9l6.4-1.7l6.3 .7l6.4 2.1l4.3-1.7l8.5 1.4l5.7-.4l5.7-.5l5.7-.4l6.4-.3l6.4 .5l8.5-1.5l6.4-1.2l6.4-.8l6.4 3.5l4.2-.4l5.9 4.5l5.9 4.6l5.3-5l5.3-4.9l5.3 9.8l4.3-21.6l3.2-11.1l4.3-5.4l5.3-.4l5.3-9l4.8-1.6l4.8-1.1l6.4-4.3l5.3 2l5.4 2.6l6.4-11.9l4.2-1.4l8.5 4.6l8.6 4.3l8.5 .3l6.4-2.9l5.3 2.9l5.3 2.3l6.4 3.8l6.4-.2l8.6 7.6l5.3 .9l5.3 1.5l4.3-.6l8.5 8.5l6.4-3.4l8.5 7.4l6.4 6.9l6.4-1.4l8.5 6.5l8.6 10.7l6.4 1.4l6.3 2l6.4 2.2l6.4 3.7" stroke="#008000" stroke-width="2.4" fill="none" stroke-linejoin="round"/>
<path d="M1474.3 440.3l6.4-.5l5.3 2.7l5.3 1.5l5.3-1l5.4 4.9l6.4-2.6l6.4 1.2l6.4 2.1l8.5-1.4l6.4-4.1l4.8 .3l4.8-.5l4.8-1.1l4.8-.5l6.3-.6l6.4-.4l6.4 1.2l6.4-1.2l5.7 .1l5.7-1.3l5.7-.3l8.5-.7l5.3 .8l5.4 .2l6.4-3.5l8.5-3.2l6.4 8l4.2 2.3l6.4 7.6l6.4-6.2l4.8-.5l4.8-.4l5.3 23.4l4.3-43.4l3.2-15.5l4.3-9.9l5.3-1l5.3-4.9l5.3 3.1l5.4 7.5l5.3-4.2l5.3 .5l5.4 5.1l5.3-6.3l5.3-5.4l5.3 1.7l5.4 0l6.4 5.6l6.4 3.9l8.5 12.2l6.4-4.1l8.5 4.1l6.4-4.7l6.4 1.3l6.4 9.6l8.5 7.4l6.4 5.1l6.4 4.7l4.3 11l6.4-2.2l4.2 3.5l6.4 9l6.4-5.2l4.3-.2l8.5 11.9l6.4 .6l5.7 .7l5.7 1.1l5.6 .5l6.4 6.8" stroke="#0000ff" stroke-width="2.4" fill="none" stroke-linejoin="round"/>
<path d="M1585.5 358.8V499.4" stroke="#f00" stroke-width="2.4" stroke-dasharray="8.9 3.8"/>
<path d="M1618.1 358.8V499.4" stroke="#f00" stroke-width="2.4" stroke-dasharray="8.9 3.8"/>
<path d="M1669.7 358.8V499.4" stroke="#000" stroke-width="2.6" stroke-dasharray="9.6 4.2"/>
<path d="M1682.5 358.8V499.4" stroke="#008000" stroke-width="2.3" stroke-dasharray="8.5 3.7"/>
<path d="M1779.5 358.8V499.4" stroke="#008000" stroke-width="2.3" stroke-dasharray="8.5 3.7"/>
<rect x="1472.4" y="358.8" width="417.6" height="140.7" fill="none" stroke="#000" stroke-width="1.35"/>
<path d="M1488.9 499.4v5.8M1585.7 499.4v5.8M1682.6 499.4v5.8M1779.4 499.4v5.8M1876.2 499.4v5.8M1472.4 487.2h-5.8M1472.4 444.4h-5.8M1472.4 401.6h-5.8M1472.4 358.8h-5.8" stroke="#000" stroke-width="1.3" fill="none"/>
<text x="1881.1" y="391.9" text-anchor="end" font-size="28.8">(c4)</text>
<path d="M94.3 552.6l5.3 .5l5.3 2.4l4.3-3.9l8.5-2.4l4.3 5.8l4.2-1.4l4.8 .3l4.8 .9l5.4-2l8.5-1.4l4.2 3.3l5.9-1.9l5.9-2.1l4.8 2.2l4.8 2.3l8.5-.6l8.5 2.7l8.5-.8l6.4-.4l6.4 .2l8.5-1.1l5.4-3.3l5.3 2.6l4.3 5.9l4.2-2.2l8.5-2l6.4 5l4.3 3.9l3.2 6.6l3.2 23.2l4.3 17.3l5.3 16.9l7.4 .7l8.6 1.1l7.4 9.3l3.2 .6l8.6 11.1l4.2-2.6l4.3 .8l4.2-3.1l4.3 .5l4.3 2.7l5.3 0l8.5-19.6l4.3 4.7l7.4 .1l5.4 2.9l5.3-6.3l8.5-5.5l5.4 3.3l5.8 3.5l5.9 3.9l8.5 .6l8.5-17l5.4 .7l7.4 14.3l4.3-4.4l6.4 5.3l5.7 3l5.6 1.6l5.7 2.7l6.4 3.9l6.4 3.8l6.4-5.3l5.3 .5l5.4-.1l6.4-1.5l6.3-1l5.4-1.2l5.3-.9l5.3-.1" stroke="#ff0000" stroke-width="2.4" fill="none" stroke-linejoin="round"/>
<path d="M94.3 617.6l8.5 .6l5.3-1.7l5.3-2.1l8.6 7.8l8.5 2l8.5-8.2l8.5 1.3l4.3-1.9l8.5 1.2l5.4-1.6l5.3-.2l5.3 1.1l5.3 .8l5.4 3.1l5.3 1.8l8.5 1.6l8.6-.6l6.3 .8l6.4-.1l8.6 7.4l6.4-8.4l8.5 1.7l8.5-2.1l8.5 4.1l3.2-13.7l5.4-17.3l5.3-19.5l7.4-9.3l4.3-3.1l4.3 1.9l6.4-15.1l4.2-.8l8.6-16.7l4.2 2.1l4.3-2.4l8.5 7.1l5.3-7.7l4.3 4l8.5 24.5l4.3-6.6l5.3 .4l7.5-4.8l4.6 4.5l4.6 3.5l4.6 2.9l4.3-6.5l4.2-.7l8.6-3.7l4.2 1.4l5.4-3.1l4.8 8.6l4.8 9.4l4.2-1.1l8.5-14.9l4.3 5.7l8.5-14.5l6.4 1.6l5.4-6.3l5.3-5.8l8.5-4.5l8.5 9l6.4 .2l6.4-.3l8.5-.5l6.4 4l4.8-.5l4.8-.8" stroke="#008000" stroke-width="2.4" fill="none" stroke-linejoin="round"/>
<path d="M94.3 644.3l8.5-4l5.3-2.6l5.3-4.5l6.4 9.1l5.4 2.4l5.3 1.5l8.5-6.3l5.3-1.1l5.4-.2l6.4-5.7l5.3-6.2l5.3-6.4l5.4 8.5l5.3 8.7l6.4-1.4l8.5-2.6l6.4 1.2l6.4 2.7l8.5 1.7l8.5 .6l4.8 4.6l4.8 4.4l5.4-4.8l5.3 .5l5.3 1l5.3 2.7l5.4 2.5l5.3-2.1l5.3-27.3l6.4-34.1l6.4-6.7l6.4-4.6l6.4-2.9l8.5-13.1l8.6-16.9l8.5 5l4.2-2.8l8.6 1.5l5.3-6.2l8.5 31.5l4.3-8.5l4.8-2.6l4.8-2.7l5.7 5.6l5.6 5l5.7 4.9l6.4-5.9l5.3-6l5.4-5.8l8.5 2.2l5.3 10.2l5.4 10.2l4.2-2.9l8.5-11.9l6.4-1.5l5.4-4.9l5.3-5.6l6.4-7.9l6.4-6.9l5 1.1l4.9 1.1l5 2l6.4 2.4l6.4 1.5l5 1.1l4.9 1l5 .1l5.9 .3l5.8 .4" stroke="#008000" stroke-width="2.4" fill="none" stroke-linejoin="round" stroke-dasharray="8.8 3.8"/>
<rect x="94" y="513.7" width="417.6" height="140.7" fill="none" stroke="#000" stroke-width="1.35"/>
<path d="M110.6 654.4v5.8M206.9 654.4v5.8M303.2 654.4v5.8M399.6 654.4v5.8M495.9 654.4v5.8M511.6 620.9h5.8M511.6 539.4h5.8M94 625.4h-5.8M94 569.6h-5.8M94 513.7h-5.8" stroke="#000" stroke-width="1.3" fill="none"/>
<path d="M94 647.6h-3.3M94 642.2h-3.3M94 637.8h-3.3M94 634.1h-3.3M94 630.8h-3.3M94 628h-3.3M94 608.6h-3.3M94 598.8h-3.3M94 591.8h-3.3M94 586.4h-3.3M94 581.9h-3.3M94 578.2h-3.3M94 575h-3.3M94 572.1h-3.3M94 552.7h-3.3M94 542.9h-3.3M94 535.9h-3.3M94 530.5h-3.3M94 526.1h-3.3M94 522.4h-3.3M94 519.1h-3.3M94 516.3h-3.3M511.6 653.3h3.3M511.6 645.4h3.3M511.6 639h3.3M511.6 633.5h3.3M511.6 628.8h3.3M511.6 624.6h3.3M511.6 596.4h3.3M511.6 582h3.3M511.6 571.8h3.3M511.6 563.9h3.3M511.6 557.5h3.3M511.6 552h3.3M511.6 547.3h3.3M511.6 543.1h3.3M511.6 514.9h3.3" stroke="#000" stroke-width="1.0" fill="none"/>
<text x="81" y="632.8" font-size="20.4" text-anchor="end">10<tspan dy="-7.3" font-size="14.7">0</tspan></text>
<text x="81" y="577" font-size="20.4" text-anchor="end">10<tspan dy="-7.3" font-size="14.7">1</tspan></text>
<text x="81" y="521.1" font-size="20.4" text-anchor="end">10<tspan dy="-7.3" font-size="14.7">2</tspan></text>
<text x="502.7" y="546.9" text-anchor="end" font-size="28.8">(d1)</text>
<path d="M554.3 642.1l7.4-9.7l5.4 1.1l5.3 6.7l6.4-1l5.3 1.7l8.5 .2l8.6-2.3l6.3 .2l5.4-9.5l7.4 4.6l8.6 0l6.4-3l6.3 7.4l6.4-10.4l5.4 10.3l6.4-7l6.4-13.7l4.2-3.6l6.4 4.1l5.3 18.7l6.4-.3l6.4-6.2l4.3-9.1l6.4-5.4l5.3 14.2l5.3 5.9l6.4 12.5l4.3-14.6l5.3-32.4l5.4 7l6.3 7l7.5 11.6l4.3-21.4l5.3-31.7l3.2-14.6l4.8 1.2l4.8 .4l5.8-2.9l5.9-3.6l5.3 6.8l6.4-14.2l5.4-6.6l5.3 3.5l8.5 5.6l6.4 1.1l6.4-1.3l6.4 1l6.4-3.1l5.3 6.2l5.3-1.6l6.4-8.9l5.4 10.5l7.4 .2l5.4-5.8l4.7 5.2l4.8 3.8l6.4-4.9l6.4 1.9l6.4-10.6l6.4-5.6l8.5 2.4l6.4 1.2l6.4 6.6l6.4-7.4l8.6 3.8l8.5 5.2l6.4-4l6.4 2.4" stroke="#ff0000" stroke-width="2.4" fill="none" stroke-linejoin="round"/>
<path d="M554.3 543.7l7.4 11.9l5.4-3.2l5.3-9l4.8-.6l4.8-.9l4.6 .6l4.6-.5l4.6 .3l5.4 2.7l6.3 0l6.4 14l6.4-8.5l8.6 1.1l6.4 5.3l7.4-10.7l5.3 17.3l5.4-16.1l6.4 11.8l5.3 19.1l6.4 5.2l5.3-3.9l5.3-24.6l6.4 1.4l6.4 13.8l6.4 14.8l4.3 4.7l5.3-19.9l5.3-4.5l6.4-14.2l4.3 19l6.4 31.8l6.4-3.4l5.3-8.8l5.3-4.7l6.4 9.1l6.4 1.3l4.3 1.1l6.4-.5l6.4 4.9l6.4 3.6l4.2 10.1l6.4 23.8l4.3 .1l6.4-15.6l6.4 1.7l6.4-.2l5.3 3.9l5.3 3.3l5.4-1.7l5.3-1.4l5.3-3.5l5.3 5.1l6.4 2.5l8.6-14.9l8.5 3.2l6.4-9.4l6.4-5.1l8.5 2.3l4.3-.6l8.5 23.5l6.4-.9l5.3-5.6l5.3-6.6l6.4-.7l6.4 12.8l6.4 2.3l8.5-11.3l8.6-4.7l6.4-.8" stroke="#008000" stroke-width="2.4" fill="none" stroke-linejoin="round"/>
<path d="M554.3 558l8.5 8.9l4.8-5.5l4.8-6.4l5.8 .1l5.9 .3l6.4 1.2l6.4 1.8l5.3 .9l5.3 1.4l6.4 15.7l6.4-9.5l8.6-.5l6.4 5.3l6.3-9.7l6.4 18.5l6.4-19.7l6.4 21.6l5.4 11.6l6.3 7.5l5.4-5.8l5.3-23.9l5.3 1.3l5.4 13.6l5.3 13.2l6.4 7.7l6.4-22.5l6.4-5.3l4.2-14.3l5.4 27l5.3 35l6.4-7.9l4.8-8.1l4.8-7.7l6.4 8l7.4-12l4.3-1.8l8.5 3.2l5.3 3.8l5.4 3l8.5 41.8l1.4 4.6M802 654.4l1.6-5.4l5.4-13.1l7.4 1.8l5.3 4.5l5.4 4.5l8.5-4.9l8.5-2.9l8.5 1l8.6 3.1l4.2-14.6l6.4-15.9l7.5 7.2l7.4-12.3l8.6 2.6l6.4-2.2l8.5 21.7l6.4-2.8l8.5-1.1l8.5-13.6l6.4 16.1l6.4 2.5l8.5-11.6l8.6-7.1l6.4-.7" stroke="#008000" stroke-width="2.4" fill="none" stroke-linejoin="round" stroke-dasharray="8.8 3.8"/>
<path d="M572.4 513.7V654.4" stroke="#008000" stroke-width="2.9" stroke-dasharray="10.7 4.6"/>
<path d="M634.8 513.7V654.4" stroke="#008000" stroke-width="2.9" stroke-dasharray="10.7 4.6"/>
<path d="M732.9 513.7V654.4" stroke="#000" stroke-width="2.6" stroke-dasharray="9.6 4.2"/>
<path d="M762.3 513.7V654.4" stroke="#000" stroke-width="2.6" stroke-dasharray="9.6 4.2"/>
<path d="M801.9 513.7V654.4" stroke="#f00" stroke-width="2.4" stroke-dasharray="8.9 3.8"/>
<path d="M822.8 513.7V654.4" stroke="#f00" stroke-width="2.4" stroke-dasharray="8.9 3.8"/>
<rect x="553.4" y="513.7" width="417.6" height="140.7" fill="none" stroke="#000" stroke-width="1.35"/>
<path d="M572.9 654.4v5.8M697.9 654.4v5.8M822.8 654.4v5.8M947.8 654.4v5.8M971 620.9h5.8M971 539.4h5.8M553.4 625.4h-5.8M553.4 569.6h-5.8M553.4 513.7h-5.8" stroke="#000" stroke-width="1.3" fill="none"/>
<path d="M553.4 647.6h-3.3M553.4 642.2h-3.3M553.4 637.8h-3.3M553.4 634.1h-3.3M553.4 630.8h-3.3M553.4 628h-3.3M553.4 608.6h-3.3M553.4 598.8h-3.3M553.4 591.8h-3.3M553.4 586.4h-3.3M553.4 581.9h-3.3M553.4 578.2h-3.3M553.4 575h-3.3M553.4 572.1h-3.3M553.4 552.7h-3.3M553.4 542.9h-3.3M553.4 535.9h-3.3M553.4 530.5h-3.3M553.4 526.1h-3.3M553.4 522.4h-3.3M553.4 519.1h-3.3M553.4 516.3h-3.3M971 653.3h3.3M971 645.4h3.3M971 639h3.3M971 633.5h3.3M971 628.8h3.3M971 624.6h3.3M971 596.4h3.3M971 582h3.3M971 571.8h3.3M971 563.9h3.3M971 557.5h3.3M971 552h3.3M971 547.3h3.3M971 543.1h3.3M971 514.9h3.3" stroke="#000" stroke-width="1.0" fill="none"/>
<text x="962.1" y="546.9" text-anchor="end" font-size="28.8">(d2)</text>
<path d="M1014.3 613.4l6.4 1l6.4 .7l5.3-1l5.3-1l5 .3l5 .5l4.9 .5l5.7-1l5.7 0l5.7-.6l5.3 5.9l5.3-4.1l5.4-.3l5.3 1.2l5.3 0l5.3-.1l6.4-2.2l5.4 5.8l5.3-7.5l6.4 7.3l4.3-5.8l6.3 7.4l4.3-.9l6.4-7.2l5.3 7.3l5.4-.8l4.2-30.1l6.4-9.9l4.3-14.8l6.4-7.4l5.3 39.6l5.3-46.7l4.3-8.5l6.4-15.3l5.3 6.1l6.4 2.7l5.3-6.8l5.4 7.7l5.3 1.4l5.3-9l5.3 3.5l6.4-4.1l4.3-2.1l4.8 1.3l4.8 .9l7.5 2.8l5.3 1l5.3 1l5.3 .4l5.4 1.8l6.4 .9l4.2-3l5-.1l5 .7l4.9 .2l8.6 3.1l8.5-.3l6.4 1l6.4-.4l8.5 .3l2.1-1l5.4 1.3l5.3 2l8.5-1.6l6.4-.5l6.4-1l6.4-.1l6.4 0l6.4 1l6.4-.6l6.4 .3l6.4-.3l5.3 1.5" stroke="#ff0000" stroke-width="2.4" fill="none" stroke-linejoin="round"/>
<path d="M1014.3 576.1l6.4-4.7l6.4 1.2l5.3 .9l5.3 1.2l4.3-.2l6.4-2.9l8.5 1.8l6.4 1.3l6.4 .4l5.3-7.9l5.3 4.8l5.4-1.1l5.3 2.8l6.4-1.9l6.4 2.1l4.2 5.3l5.4-9.3l5.3 13.1l6.4-8.4l4.3 11.6l6.3-12.8l4.3 3l6.4 15.5l4.3-8.2l6.4 3l4.2 16.8l6.4-13.8l4.3 1.2l6.4 12.7l6.4-5.2l5.3-3.6l4.3 19.5l5.3 12l5.3-2.7l6.4 5.6l5.3-3.4l5.4-12.5l5.3 4.4l5.3 6.7l5.3 2.6l8.6 2.7l6.4-.7l6.4-2.5l6.4-2.3l5.3 .3l5.3 .5l5.3-.2l5.4 1l5.3 .3l5.3 .4l5.4 .7l5.3 .6l6.4-.5l6.4 .6l8.5-3.1l5.7 .1l5.7-.1l5.6-.3l6.4 2.2l6.4-2.9l6.4 1.8l6.4 1.6l6.4 2.3l6.4 1.3l5.3 0l5.4 .7l5.3-.3l5.3 .8l5.3-2.5l5.4-2.7l6.4 2.4l5.3-.9" stroke="#008000" stroke-width="2.4" fill="none" stroke-linejoin="round"/>
<path d="M1014.3 582.5l6.4 .8l6.4 1.1l6.3-2.5l6.4 3l5.4-.5l5.3-.6l6.4 1.4l6.4 1.2l5.3 .3l5.3-.2l2.2-5.9l4.2 4l6.4 0l5.4 1l5.3-1.6l6.4 4.4l4.2 4.8l4.3-6.4l6.4 10.3l4.3-8.4l6.4 8.9l6.3-8.7l5.4 5.1l5.3 11.6l4.3-6.1l6.4 3.5l4.2 1.6l6.4 21.4l4.3-9.6l8.5-1.5l4.3 1.5l8.5 17.6l8.5-1.2l4.8 3.7l4.8 3.9l5.3-10.9l5.4-14l5.3 7.1l5.3 8l5.3-4.9l6.4 5.6l8.6 3l5.3-2.1l5.3-2.7l5.4 2.5l5.3 2.9l6.4-1.4l6.4-1.8l5.3 1.8l5.3 2.1l5-.1l5 .8l4.9-.3l8.6-.4l5.3-2.3l5.3-2.2l5.4 2.1l5.3 1.6l5.3 1.2l5.3 2.6l5.4-2.5l5.3-2.1l8.5 3.1l8.5 .9l8.6 4.4l8.5 .3l8.5-2.6l8.5-.6l8.6 2.9l5.3 2.3" stroke="#008000" stroke-width="2.4" fill="none" stroke-linejoin="round" stroke-dasharray="8.8 3.8"/>
<path d="M1027 513.7V654.4" stroke="#008000" stroke-width="2.3" stroke-dasharray="8.5 3.7"/>
<path d="M1075.6 513.7V654.4" stroke="#008000" stroke-width="2.3" stroke-dasharray="8.5 3.7"/>
<path d="M1168.8 513.7V654.4" stroke="#000" stroke-width="2.6" stroke-dasharray="9.6 4.2"/>
<path d="M1237 513.7V654.4" stroke="#f00" stroke-width="2.4" stroke-dasharray="8.9 3.8"/>
<path d="M1253 513.7V654.4" stroke="#f00" stroke-width="2.4" stroke-dasharray="8.9 3.8"/>
<rect x="1012.9" y="513.7" width="417.6" height="140.7" fill="none" stroke="#000" stroke-width="1.35"/>
<path d="M1026.9 654.4v5.8M1123.9 654.4v5.8M1220.8 654.4v5.8M1317.8 654.4v5.8M1414.7 654.4v5.8M1430.5 620.9h5.8M1430.5 539.4h5.8M1012.9 625.4h-5.8M1012.9 569.6h-5.8M1012.9 513.7h-5.8" stroke="#000" stroke-width="1.3" fill="none"/>
<path d="M1012.9 647.6h-3.3M1012.9 642.2h-3.3M1012.9 637.8h-3.3M1012.9 634.1h-3.3M1012.9 630.8h-3.3M1012.9 628h-3.3M1012.9 608.6h-3.3M1012.9 598.8h-3.3M1012.9 591.8h-3.3M1012.9 586.4h-3.3M1012.9 581.9h-3.3M1012.9 578.2h-3.3M1012.9 575h-3.3M1012.9 572.1h-3.3M1012.9 552.7h-3.3M1012.9 542.9h-3.3M1012.9 535.9h-3.3M1012.9 530.5h-3.3M1012.9 526.1h-3.3M1012.9 522.4h-3.3M1012.9 519.1h-3.3M1012.9 516.3h-3.3M1430.5 653.3h3.3M1430.5 645.4h3.3M1430.5 639h3.3M1430.5 633.5h3.3M1430.5 628.8h3.3M1430.5 624.6h3.3M1430.5 596.4h3.3M1430.5 582h3.3M1430.5 571.8h3.3M1430.5 563.9h3.3M1430.5 557.5h3.3M1430.5 552h3.3M1430.5 547.3h3.3M1430.5 543.1h3.3M1430.5 514.9h3.3" stroke="#000" stroke-width="1.0" fill="none"/>
<text x="1421.6" y="546.9" text-anchor="end" font-size="28.8">(d3)</text>
<path d="M1473.9 535.8l6 .3l5.9 .8l5.2 1.2l5.3-2.2l5.2-.6l5.3 0l5.2 .7l5.3 .7l5.3-.5l5.2-.2l5.3-.7l5.2 0l5.3-.5l5.2 2.7l5.3 .3l5.3 0l5.2 .5l7.9-6l5.3 4l7.8-.6l7.9 .9l6.6-2.6l6.6-.3l5.2 .8l5.3 .1l5.2 .4l5.3-.6l5.2-1l5.3 1.1l5.3 3.1l5.2 4.6l5.3 3.2l5.2 0l6.6 2.7l3.9 13.9l2.7 26.5l2.6 40.6l7.9-.1l5.2 1.3l5.3-.2l5.2 2.1l5.3 1.6l5.3-12l5.2 7.5l5.3-8.8l5.2 5.6l5.3 4.2l5.2-9.7l5.3-2.3l5.3-.2l7.8-1.9l5.3-2.1l4.6 2.5l4.6 1.3l4.6-2.8l4.6-3.4l7.9 3.8l7.9-2.7l7.8-2.4l7.9 4.1l7.9 17.1l5.3 4.2l5.2 11.1l5.3-13.3l5.2-11.7l5.3 16.2l5.2-4.1l7.9-17.8l5.3 .8l5.2-6.8l5.3 2.8l5.3-2.8l5.2 1.7l5.3 3.2" stroke="#ff0000" stroke-width="2.4" fill="none" stroke-linejoin="round"/>
<path d="M1473.9 631.4l4.6-.3l4.6 .2l7.9-3.6l6.6 .5l6.6 2.2l4.6-.5l4.6-1.2l4.6-.1l4.6-.5l5.2 .1l5.3 .3l5.2-.2l5.3 1l5.2 1l5.3 .9l5.3 1.3l5.2 1.1l5.3 1.2l5.2-.9l5.3-2l6.6-.2l6.5 .2l5.3 2l5.2 .7l5.3 1.7l7.9 .5l5.2 2.7l5.3 2.1l7.9 1.9l7.9-10l5.2-7.8l5.3-8.2l5.2-2.4l6.6 8.1l5.3-9.2l5.2-49.4l5.9-2.6l5.9-1.7l5.3-7.5l5.2-6l4.8-6l4.4 16.5l6.6-11l5.3 16.2l5.2-6.7l5.3-8.1l5.2 16.9l5.3 2.8l5.3 4.1l5.2 2.6l5.3 3.5l5.2-2.3l5.3-1.8l5.2 4.4l5.3 4.5l7.9-7.8l5.2 5l5.3 1.3l5.2 7l5.3-4l5.3-3.8l5.2-24.3l5.3-2.7l5.2-18.2l5.3 21.8l6.6 15l3.9-21.8l5.2 3.3l7.9 23.9l7.9 3.5l5.3 6.1l5.2-4.5l5.3 4.4l3.9 .1l4-7.8" stroke="#008000" stroke-width="2.4" fill="none" stroke-linejoin="round"/>
<path d="M1473.9 641.4l4.9-1.1l4.8-.7l4.8-.9l7.9 6.2l6.6 1.3l6.5 1.8l6.6 .6l6.6 .8l5.2 .6l5.3 1l5.2 1.1l5.3-.8l5.2-.2l5.3 .1l5.3-1l4.6 4.2M1642.6 654.4l.9-1.5l7.8-24.6l4-13.7l4.6 3.4l4.6 3l5.2-8.5l6.6-46.8l6.6-1.3l7.9-3.5l7.8-4.7l4.8-4.3l4.4 14.2l6.6-7.3l4 14.2l3.9-8l7.9-7.9l5.2 14.7l5.3 3.1l5.3 3.1l6.5 2.9l6.6 2.2l5.2-.1l5.3 1l4.6 2.6l4.6 4.1l6.6-9.1l5.2 2l5.3 6.4l5.2 6.1l5.3-3.5l5.3-3.5l5.2-27.4l5.3-3l5.2-19.3l5.3 22.8l6.6 18.8l3.9-24.1l5.2 5.5l7.9 21.2l7.9 13.2l5.3-5.3l7.9 6.8l5.2-5.2l5.3-4.3" stroke="#008000" stroke-width="2.4" fill="none" stroke-linejoin="round" stroke-dasharray="8.8 3.8"/>
<path d="M1585.5 513.7V654.4" stroke="#f00" stroke-width="2.4" stroke-dasharray="8.9 3.8"/>
<path d="M1618.1 513.7V654.4" stroke="#f00" stroke-width="2.4" stroke-dasharray="8.9 3.8"/>
<path d="M1669.7 513.7V654.4" stroke="#000" stroke-width="2.6" stroke-dasharray="9.6 4.2"/>
<path d="M1682.5 513.7V654.4" stroke="#008000" stroke-width="2.3" stroke-dasharray="8.5 3.7"/>
<path d="M1779.5 513.7V654.4" stroke="#008000" stroke-width="2.3" stroke-dasharray="8.5 3.7"/>
<rect x="1472.4" y="513.7" width="417.6" height="140.7" fill="none" stroke="#000" stroke-width="1.35"/>
<path d="M1488.9 654.4v5.8M1585.7 654.4v5.8M1682.6 654.4v5.8M1779.4 654.4v5.8M1876.2 654.4v5.8M1890 620.9h5.8M1890 539.4h5.8M1472.4 625.4h-5.8M1472.4 569.6h-5.8M1472.4 513.7h-5.8" stroke="#000" stroke-width="1.3" fill="none"/>
<path d="M1472.4 647.6h-3.3M1472.4 642.2h-3.3M1472.4 637.8h-3.3M1472.4 634.1h-3.3M1472.4 630.8h-3.3M1472.4 628h-3.3M1472.4 608.6h-3.3M1472.4 598.8h-3.3M1472.4 591.8h-3.3M1472.4 586.4h-3.3M1472.4 581.9h-3.3M1472.4 578.2h-3.3M1472.4 575h-3.3M1472.4 572.1h-3.3M1472.4 552.7h-3.3M1472.4 542.9h-3.3M1472.4 535.9h-3.3M1472.4 530.5h-3.3M1472.4 526.1h-3.3M1472.4 522.4h-3.3M1472.4 519.1h-3.3M1472.4 516.3h-3.3M1890 653.3h3.3M1890 645.4h3.3M1890 639h3.3M1890 633.5h3.3M1890 628.8h3.3M1890 624.6h3.3M1890 596.4h3.3M1890 582h3.3M1890 571.8h3.3M1890 563.9h3.3M1890 557.5h3.3M1890 552h3.3M1890 547.3h3.3M1890 543.1h3.3M1890 514.9h3.3" stroke="#000" stroke-width="1.0" fill="none"/>
<text x="1902.6" y="628.3" font-size="20.4">10<tspan dy="-7.3" font-size="14.7">2</tspan></text>
<text x="1902.6" y="546.8" font-size="20.4">10<tspan dy="-7.3" font-size="14.7">3</tspan></text>
<text x="1881.1" y="546.9" text-anchor="end" font-size="28.8">(d4)</text>
<rect x="94" y="668.6" width="417.6" height="140.7" fill="none" stroke="#000" stroke-width="1.35"/>
<path d="M110.6 809.3v5.8M206.9 809.3v5.8M303.2 809.3v5.8M399.6 809.3v5.8M495.9 809.3v5.8M94 795h-5.8M94 758.2h-5.8M94 721.3h-5.8M94 684.5h-5.8" stroke="#000" stroke-width="1.3" fill="none"/>
<text x="81" y="802.4" font-size="20.4" text-anchor="end">10<tspan dy="-7.3" font-size="14.7">1</tspan></text>
<text x="81" y="765.6" font-size="20.4" text-anchor="end">10<tspan dy="-7.3" font-size="14.7">2</tspan></text>
<text x="81" y="728.7" font-size="20.4" text-anchor="end">10<tspan dy="-7.3" font-size="14.7">3</tspan></text>
<text x="81" y="691.9" font-size="20.4" text-anchor="end">10<tspan dy="-7.3" font-size="14.7">4</tspan></text>
<text x="110.6" y="836.3" text-anchor="middle">00:42</text>
<text x="206.9" y="836.3" text-anchor="middle">00:43</text>
<text x="303.2" y="836.3" text-anchor="middle">00:44</text>
<text x="399.6" y="836.3" text-anchor="middle">00:45</text>
<text x="495.9" y="836.3" text-anchor="middle">00:46</text>
<text x="502.7" y="701.9" text-anchor="end" font-size="28.8">(e1)</text>
<path d="M572.4 668.6V809.3" stroke="#008000" stroke-width="2.9" stroke-dasharray="10.7 4.6"/>
<path d="M634.8 668.6V809.3" stroke="#008000" stroke-width="2.9" stroke-dasharray="10.7 4.6"/>
<path d="M732.9 668.6V809.3" stroke="#000" stroke-width="2.6" stroke-dasharray="9.6 4.2"/>
<path d="M762.3 668.6V809.3" stroke="#000" stroke-width="2.6" stroke-dasharray="9.6 4.2"/>
<path d="M801.9 668.6V809.3" stroke="#f00" stroke-width="2.4" stroke-dasharray="8.9 3.8"/>
<path d="M822.8 668.6V809.3" stroke="#f00" stroke-width="2.4" stroke-dasharray="8.9 3.8"/>
<rect x="553.4" y="668.6" width="417.6" height="140.7" fill="none" stroke="#000" stroke-width="1.35"/>
<path d="M572.9 809.3v5.8M697.9 809.3v5.8M822.8 809.3v5.8M947.8 809.3v5.8M553.4 795h-5.8M553.4 758.2h-5.8M553.4 721.3h-5.8M553.4 684.5h-5.8" stroke="#000" stroke-width="1.3" fill="none"/>
<text x="572.9" y="836.3" text-anchor="middle">01:03</text>
<text x="697.9" y="836.3" text-anchor="middle">01:04</text>
<text x="822.8" y="836.3" text-anchor="middle">01:05</text>
<text x="947.8" y="836.3" text-anchor="middle">01:06</text>
<text x="962.1" y="701.9" text-anchor="end" font-size="28.8">(e2)</text>
<path d="M1027 668.6V809.3" stroke="#008000" stroke-width="2.3" stroke-dasharray="8.5 3.7"/>
<path d="M1075.6 668.6V809.3" stroke="#008000" stroke-width="2.3" stroke-dasharray="8.5 3.7"/>
<path d="M1168.8 668.6V809.3" stroke="#000" stroke-width="2.6" stroke-dasharray="9.6 4.2"/>
<path d="M1237 668.6V809.3" stroke="#f00" stroke-width="2.4" stroke-dasharray="8.9 3.8"/>
<path d="M1253 668.6V809.3" stroke="#f00" stroke-width="2.4" stroke-dasharray="8.9 3.8"/>
<rect x="1012.9" y="668.6" width="417.6" height="140.7" fill="none" stroke="#000" stroke-width="1.35"/>
<path d="M1026.9 809.3v5.8M1123.9 809.3v5.8M1220.8 809.3v5.8M1317.8 809.3v5.8M1414.7 809.3v5.8M1012.9 795h-5.8M1012.9 758.2h-5.8M1012.9 721.3h-5.8M1012.9 684.5h-5.8" stroke="#000" stroke-width="1.3" fill="none"/>
<text x="1026.9" y="836.3" text-anchor="middle">01:03</text>
<text x="1123.9" y="836.3" text-anchor="middle">01:04</text>
<text x="1220.8" y="836.3" text-anchor="middle">01:05</text>
<text x="1317.8" y="836.3" text-anchor="middle">01:06</text>
<text x="1414.7" y="836.3" text-anchor="middle">01:07</text>
<text x="1421.6" y="701.9" text-anchor="end" font-size="28.8">(e3)</text>
<path d="M1585.5 668.6V809.3" stroke="#f00" stroke-width="2.4" stroke-dasharray="8.9 3.8"/>
<path d="M1618.1 668.6V809.3" stroke="#f00" stroke-width="2.4" stroke-dasharray="8.9 3.8"/>
<path d="M1669.7 668.6V809.3" stroke="#000" stroke-width="2.6" stroke-dasharray="9.6 4.2"/>
<path d="M1682.5 668.6V809.3" stroke="#008000" stroke-width="2.3" stroke-dasharray="8.5 3.7"/>
<path d="M1779.5 668.6V809.3" stroke="#008000" stroke-width="2.3" stroke-dasharray="8.5 3.7"/>
<rect x="1472.4" y="668.6" width="417.6" height="140.7" fill="none" stroke="#000" stroke-width="1.35"/>
<path d="M1488.9 809.3v5.8M1585.7 809.3v5.8M1682.6 809.3v5.8M1779.4 809.3v5.8M1876.2 809.3v5.8M1472.4 795h-5.8M1472.4 758.2h-5.8M1472.4 721.3h-5.8M1472.4 684.5h-5.8" stroke="#000" stroke-width="1.3" fill="none"/>
<text x="1488.9" y="836.3" text-anchor="middle">01:07</text>
<text x="1585.7" y="836.3" text-anchor="middle">01:08</text>
<text x="1682.6" y="836.3" text-anchor="middle">01:09</text>
<text x="1779.4" y="836.3" text-anchor="middle">01:10</text>
<text x="1876.2" y="836.3" text-anchor="middle">01:11</text>
<text x="1881.1" y="701.9" text-anchor="end" font-size="28.8">(e4)</text>
<text transform="translate(27.6 273.6) rotate(-90)" font-size="20.4" text-anchor="middle"><tspan font-style="italic">B</tspan><tspan dy="3.9" font-size="14.3" font-style="italic">LMN</tspan><tspan dy="-3.9" font-style="italic">, nT</tspan></text>
<text transform="translate(16.4 429.2) rotate(-90)" font-size="20.4" text-anchor="middle"><tspan font-style="italic">V</tspan><tspan dy="3.9" font-size="14.3" font-style="italic">iLMN</tspan><tspan dy="-3.9" font-style="italic">, km/s</tspan></text>
<text transform="translate(36.1 584.9) rotate(-90)" font-size="20.4" text-anchor="middle"><tspan font-style="italic">n</tspan><tspan dy="3.9" font-size="14.3" font-style="italic">i</tspan><tspan dy="-3.9" font-style="italic">,  cm</tspan><tspan dy="-7.3" font-size="14.7">−3</tspan></text>
<text transform="translate(36.1 737.7) rotate(-90)" font-size="20.4" text-anchor="middle"><tspan font-style="italic">Energy</tspan><tspan dy="3.9" font-size="14.3" font-style="italic">i</tspan><tspan dy="-3.9">,  eV</tspan></text>
<text transform="translate(1958 584) rotate(-90)" font-size="20.4" text-anchor="middle"><tspan font-style="italic">T</tspan><tspan dy="3.9" font-size="14.3" font-style="italic">i</tspan><tspan dy="-3.9">,  eV</tspan></text>
<rect x="1899.8" y="23.3" width="89.1" height="91.9" rx="3.5" fill="#fff" fill-opacity="0.8" stroke="#ccc" stroke-width="1.3"/>
<path d="M1906.6 38.8H1946.4" stroke="#ff0000" stroke-width="2.2"/>
<text x="1960.7" y="45.4" font-size="20.4"><tspan font-style="italic">B</tspan><tspan dy="3.9" font-size="14.3" font-style="italic">x</tspan></text>
<path d="M1906.6 66.2H1946.4" stroke="#008000" stroke-width="2.2"/>
<text x="1960.7" y="72.8" font-size="20.4"><tspan font-style="italic">B</tspan><tspan dy="3.9" font-size="14.3" font-style="italic">y</tspan></text>
<path d="M1906.6 96.3H1946.4" stroke="#0000ff" stroke-width="2.2"/>
<text x="1960.7" y="102.9" font-size="20.4"><tspan font-style="italic">B</tspan><tspan dy="3.9" font-size="14.3" font-style="italic">z</tspan></text>
<rect x="1899.5" y="220.8" width="93.1" height="88.6" rx="3.5" fill="#fff" fill-opacity="0.8" stroke="#ccc" stroke-width="1.3"/>
<path d="M1906.2 235.4H1946.4" stroke="#ff0000" stroke-width="2.2"/>
<text x="1960.7" y="242.2" font-size="20.4"><tspan font-style="italic">B</tspan><tspan dy="3.9" font-size="14.3" font-style="italic">L</tspan></text>
<path d="M1906.2 263.2H1946.4" stroke="#008000" stroke-width="2.2"/>
<text x="1960.7" y="270" font-size="20.4"><tspan font-style="italic">B</tspan><tspan dy="3.9" font-size="14.3" font-style="italic">M</tspan></text>
<path d="M1906.2 290.9H1946.4" stroke="#0000ff" stroke-width="2.2"/>
<text x="1960.7" y="297.7" font-size="20.4"><tspan font-style="italic">B</tspan><tspan dy="3.9" font-size="14.3" font-style="italic">N</tspan></text>
<rect x="1899.5" y="375.5" width="93.1" height="88" rx="3.5" fill="#fff" fill-opacity="0.8" stroke="#ccc" stroke-width="1.3"/>
<path d="M1906.2 390.6H1946.4" stroke="#ff0000" stroke-width="2.2"/>
<text x="1960.7" y="397.4" font-size="20.4"><tspan font-style="italic">V</tspan><tspan dy="3.9" font-size="14.3" font-style="italic">L</tspan></text>
<path d="M1906.2 418.1H1946.4" stroke="#008000" stroke-width="2.2"/>
<text x="1960.7" y="424.9" font-size="20.4"><tspan font-style="italic">V</tspan><tspan dy="3.9" font-size="14.3" font-style="italic">M</tspan></text>
<path d="M1906.2 445.9H1946.4" stroke="#0000ff" stroke-width="2.2"/>
<text x="1960.7" y="452.7" font-size="20.4"><tspan font-style="italic">V</tspan><tspan dy="3.9" font-size="14.3" font-style="italic">N</tspan></text>
<rect x="415.4" y="585.7" width="88.1" height="59" rx="3.5" fill="#fff" fill-opacity="0.8" stroke="#ccc" stroke-width="1.3"/>
<path d="M421.3 600.6H458.4" stroke="#008000" stroke-width="2.2"/>
<path d="M421.3 629.6H458.4" stroke="#008000" stroke-width="2.2" stroke-dasharray="8.1 3.5"/>
<text x="471.5" y="607.4" font-size="20.4"><tspan font-style="italic">T</tspan><tspan dy="3.9" font-size="14.3">∥</tspan></text>
<text x="471.5" y="636.4" font-size="20.4"><tspan font-style="italic">T</tspan><tspan dy="3.9" font-size="14.3">⊥</tspan></text>
<defs><linearGradient id="tg" x1="0" y1="0" x2="0" y2="1"><stop offset="0.00" stop-color="#7a0403"/><stop offset="0.05" stop-color="#a11201"/><stop offset="0.10" stop-color="#c32503"/><stop offset="0.15" stop-color="#dd3d08"/><stop offset="0.20" stop-color="#f05b12"/><stop offset="0.25" stop-color="#fb7e21"/><stop offset="0.30" stop-color="#fea431"/><stop offset="0.35" stop-color="#f6c33a"/><stop offset="0.40" stop-color="#e1dd37"/><stop offset="0.45" stop-color="#c3f134"/><stop offset="0.50" stop-color="#a4fc3c"/><stop offset="0.55" stop-color="#79fe59"/><stop offset="0.60" stop-color="#46f884"/><stop offset="0.65" stop-color="#20eaac"/><stop offset="0.70" stop-color="#19d5cd"/><stop offset="0.75" stop-color="#28bceb"/><stop offset="0.80" stop-color="#3e9bfe"/><stop offset="0.85" stop-color="#477bf2"/><stop offset="0.90" stop-color="#4559cb"/><stop offset="0.95" stop-color="#3d358b"/><stop offset="1.00" stop-color="#30123b"/></linearGradient></defs>
<rect x="1894.5" y="668.65" width="9.2" height="140.7" fill="url(#tg)" stroke="#000" stroke-width="1.3"/>
<path d="M1903.7 668.65h4.5M1903.7 739h4.5M1903.7 809.35h4.5" stroke="#000" stroke-width="1.3"/>
<text x="1913" y="676" font-size="20.4">10<tspan dy="-7.3" font-size="14.7">7</tspan></text>
<text x="1913" y="746.4" font-size="20.4">10<tspan dy="-7.3" font-size="14.7">5</tspan></text>
<text x="1913" y="816.8" font-size="20.4">10<tspan dy="-7.3" font-size="14.7">3</tspan></text>
<text transform="translate(1970.8 738.6) rotate(-90)" text-anchor="middle" font-size="17.5">ion eflux</text>
<text transform="translate(1990.7 738) rotate(-90)" font-size="17.5" text-anchor="middle"><tspan font-style="italic">eV/(cm</tspan><tspan dy="-6.3" font-size="12.6">2</tspan><tspan dy="6.3"> · </tspan><tspan font-style="italic">s</tspan> · <tspan font-style="italic">sr</tspan> · <tspan font-style="italic">eV)</tspan></text>
<g transform="scale(0.5)" stroke="#000" stroke-width="3.7" fill-rule="evenodd" stroke-linejoin="round"><path fill="#000080" d="M656 1738l2 0l-2 4l6 6l0 4l-4 2l6 6l2 0l4-4l2 2l4-2l-2 2l8 4l4-4l2 0l4 6l2-4l6 0l-2 2l4 4l4 0l4-2l4 4l2-4l4 0l-2 2l2 2l2-2l-2-2l8 0l6 4l2-2l4 2l4 0l-2 2l2 2l4 0l4-2l-2 4l2 2l4-2l2 4l2 0l4-4l2 2l4 0l-2 2l4 4l4-2l2 2l2-2l4 0l2 2l-2 2l2 2l4 0l4-2l2 2l-4 2l4 4l4-4l2 2l-4 2l2 2l4 2l2-4l4 2l2 2l-2 4l2 2l2-2l4 0l4 2l-2 4l8 6l2-4l2 0l4 4l2 0l-2 4l2 2l4-2l8 8l-2 2l2 2l2-2l-2-2l2 0l6 6l0 2l4 2l0 4l2 2l2-4l2 2l-2 2l2 2l2-2l2 2l0 4l6 4l0 2l-2-2l-2 4l2 2l6 0l0 4l2 2l-2 4l2 2l2-4l2 2l0 6l2 2l4 0l0 2l-4 2l4 4l2-4l2 2l0 2l-4 2l4 4l4 0l-2 4l8 10l2-2l0 4l2 2l0 4l-2 4l8 6l6 12l0 2l-2-2l-2 4l8 6l-4 4l8 4l2 4l0 4l-4 2l2 4l4 4l4 0l2 4l0 2l-2-2l-2 2l2 4l2-2l0 10l4 6l4-2l0 6l2 2l0 4l2 2l0 6l2 2l0 2l-2-2l-2 2l2 2l2-2l0 6l-2 4l2 2l4 0l0 4l-4 2l6 4l-2 4l0 12l2 2l-2 2l2 2l2-2l0 8l-4 4l4 4l0 2l-2-2l-2 2l0 4l2 2l2-2l0 10l2 2l-4 2l2 4l-2 2l2 4l-2 2l0 6l2 2l2-2l0 8l-2-2l-2 2l2 2l2-2l-2 4l2 2l0 4l-4 4l2 2l-2 4l2 2l0 14l-2-2l-4 4l4 8l0 12l-2-2l-2 2l2 2l2-2l0 2l-4 8l0 12l-4 2l2 4l-4 2l2 4l-2-2l-2 2l4 6l0 4l-2 2l0 8l-2 2l0 6l-2 2l0 4l-4-2l-2 2l2 4l0 4l-4 8l-2-2l-2 2l2 2l-2 2l0 4l-4 0l-2 2l4 4l-2 2l0 4l-4-2l-2 2l0 2l4 2l-2 4l-4 4l0 2l-4 2l0 2l-2-2l-4 2l-2 4l2 4l-2 4l-6 6l0 2l-2-2l-6 6l2 4l-2 2l-2-4l-10 12l2 2l-6 2l-4 4l2 2l2-2l-2 6l-8 8l-2-2l-2 2l2 2l-8 10l-2-4l-4 4l4 2l-4 4l-2-2l-4 4l-2-2l-4 4l0 4l-4-2l-4 2l-2 2l2 4l-2 2l-4 2l-4 0l-2 2l-2-2l-4 4l2 4l-2 0l-4 4l-2 0l2-2l-4-2l-2 2l4 2l-6 6l-4 2l-4-4l-4 8l-10 2l-4 4l-4 0l-6 4l-4-4l-2 0l-6 6l-2-2l-2 2l2 2l2-2l2 2l-4 2l-4 0l-6 4l-6 0l-4 4l-2 0l4-4l-2-2l-4 4l-2-2l-2 2l2 2l-4 2l-2-2l-8 0l-2 2l-2-2l-2 2l2 2l-6 0l-2 2l-4-2l-6 2l-2-4l-6 4l2 2l-2 0l-4-4l-4 4l0 2l-2 0l-2-4l-6 4l-2-2l-2 2l-2-2l-4 2l-2 4l-2 0l-2-4l-2 4l-2-2l-14 0l2-2l-2-2l-4 0l-2 4l-4 0l-2-4l-2 4l-16 0l2-2l-2-2l-12 0l-2 4l-2 0l-2-4l-2 2l-4 0l2-2l-2-2l-2 2l2 2l-6 0l-2-2l-2 2l-4 0l-2-2l-2 2l-2-2l-10 0l-4-4l-2 2l-4 0l-2-2l-6 0l2-2l-2-2l-2 2l2 2l-4-2l-8 0l2-2l-8-4l-2 0l-2 4l-6 0l-2-2l4-2l-4-4l-2 4l-18-18l0-4l-8-6l-6-12l2-6l-2-2l-4 2l-2-4l4-4l-4-4l-2 2l-4-4l0-2l-8-6l-2 0l-4 4l-4-4l-8-4l-4 2l2 2l-6 0l-2-2l-4 0l0-4l-2-2l-4 2l-4-2l-4 0l-4-2l-6-8l-4 0l-4 2l-2-4l-4-2l-2 2l-8-6l-2 0l2-2l-2-4l-6-6l-4 0l-2-4l-6 2l-8-8l-2 0l-2-4l-2 0l2-2l-2-2l-10-4l-4-4l0-2l2 2l2-4l-2-2l-2 4l-2-2l0-4l-6-4l-2-6l-4-4l2-4l-8-4l0-2l-4-4l4-2l-4-4l0-4l-2-2l-2 4l-2-2l0-10l2-2l-2-2l-4 2l-2-10l2 2l2-2l-2-4l-4-2l0-6l2-4l-2-2l-2 4l-2-2l2-2l0-4l-4-4l2-4l0-4l-4-4l-2 0l0-8l-2-4l2 2l2-2l0-4l-6-4l0-8l-2-2l0-4l2 2l2-2l0-6l-4-6l-2 2l0-12l-2-2l0-2l2 2l2-2l0-4l-2-2l2-2l-4-2l-2-4l0-10l2 2l2-2l0-6l-2-2l-2 2l0-4l2 0l2-4l-4-4l-2 2l0-6l4-2l-4-2l0-2l4-2l-2-4l2-4l-2-2l-2 2l0-4l4-2l0-4l-2-4l2 2l2-2l-2-4l-2 2l0-10l2 2l2-2l-2-2l-2 2l0-4l4-2l-2-6l4-2l-4-2l0-2l4-4l-2-2l2-2l0-6l-2-2l0-14l4-4l-2-2l2-2l-2-4l2-2l0-10l-4-2l0-4l4-4l0 2l4 2l4-4l-4-2l10-8l2 2l4-4l2 0l-2 2l4 2l2-4l2 2l4-2l4 0l2-2l-4-2l2-2l6 0l2 2l4-2l-2-2l0-4l2 2l4-2l-2-4l-2 2l4-8l0-4l2-4l4 2l2-2l0-4l4-4l-2-2l4-2l-2-2l0-6l2-4l4-4l4-8l4 2l2-4l4-2l0-2l-4-2l8-8l4-2l-2-2l2-4l4-4l4 2l4-6l-2-4l6-6l2 2l4-2l-4-2l0-2l4 2l2-2l-2-4l2-2l4 2l8-8l0-2l-2-2l-2 2l0-2l2-2l2 2l6-4l-2-4l6-6l0-2l4 0l6-8l4-2l2 2l2-2l-2-4l2 0l8-8l2 4l6-6l-2-4l2 0l6-6l2 0l6-8l2 0l-2 2l2 2l2-2l-2-2l2-4l2 0l2-4l6-4l0-2l4 2l2-2l0-4l4 0l-2 2l2 2l4-2l-2-2l10 0l4 2l2-4l4 0l-2 2l2 2l4 0l2-2l4 2l4-4l4 0l2-2l6 0l2-2l10 0l2 2l8-4l4 0l2 2l2-2l10 0l-2 2l2 2l2-2l-2-2l6 0l2-2l4 2l4 0l2 2l2-4l6 0l-2 2l2 2l10 0l4-4l0-2l4 0l4 4l4-2l2 2l4-2l2 2l2-2l-2-2l4 0l2-2l4 0l2 4l4-4l6 4l8-6zM762 1778l2 2l2-2l-2-2l-2 2zM428 1798l-2 2l2 2l4-4l-2-2l-2 2zM844 1824l2 2l2-2l-2-2l-2 2zM342 1896l2 2l2-2l-2-2l-2 2zM790 2032l-2 2l0 28l-2 2l0 8l-2 2l0 8l-2 2l0 12l2 2l0 8l2 2l0 6l2 2l0 8l2 2l0 8l-2 2l0 14l-2 2l0 14l-2 2l0 4l-84 0l-2-2l-30 0l-4-2l-14-14l0-4l-4-8l0-6l-2-2l0-4l-2-2l0-4l-2-4l-4-2l-6-6l-6-2l-10 8l2 14l2 2l0 4l2 2l0 4l4 8l0 10l-2 2l-2 14l-10 4l-12 10l0 4l-6 12l0 8l2 2l0 8l2 2l0 6l4 4l22 10l4 4l2 0l4 4l8 4l12 10l6 0l2 2l12 0l2 2l12 0l2 2l4 0l4-4l10-4l4-4l16-8l20-20l2 0l66-66l10-20l0-4l6-10l0-10l2-2l0-10l2-2l0-18l-2-2l0-8l-2-2l-2-14l-6-8l-2-6l-4-4l-2-6l-6-6l-4 0l-6-4l-4 0l-4-2zM712 2104l-4 4l-2 0l-4 4l0 2l6 12l10 0l4-4l2-10l-8-8l-4 0zM948 2220l2 2l2-2l-2-2l-2 2zM872 2352l2 2l2-2l-2-2l-2 2zM476 2410l2 2l2-2l-2-2l-2 2zM548 2446l2 2l2-2l-2-2l-2 2zM626 1742l-2 2l0-2l2 0zM702 1760l2 2l-2 0l-2-2l2 0zM392 1832l0 2l-2 0l2-2zM388 1836l0 2l-2 0l2-2zM886 1862l0 2l-2-2l2 0zM328 1916l2 2l-4 2l2-4zM294 1956l0 2l-2-2l2 0zM264 1996l2 2l-2 2l0-4zM262 2026l2 2l-2 0l0-2zM964 2052l0 4l-2-2l2-2zM966 2102l0 2l-2-2l2 0zM264 2134l-2 2l0-2l2 0zM940 2260l0 2l-2 0l2-2zM894 2334l-2 2l0-2l2 0zM732 2440l2 2l-4 0l2-2zM714 2444l2 2l-4 0l2-2z"/><path fill="#000080" d="M656 1738l2 0l-2 4l6 6l0 4l-4 2l6 6l2 0l4-4l2 2l4-2l-2 2l2 2l4 0l2 2l4-4l2 0l4 6l2-4l6 0l-2 2l4 4l4 0l4-2l4 4l2-4l4 0l-2 2l2 2l2-2l-2-2l6 0l8 4l2-2l4 2l3 0l-1 2l2 2l4 0l2-2l2 0l-2 4l2 2l4-2l2 4l2 0l4-4l2 2l4 0l-2 2l4 4l4-2l2 2l2-2l4 0l2 2l-2 2l2 2l4 0l2-2l2 1l1 1l-3 2l4 4l3-4l2 2l-3 2l6 4l2-3l4 2l2 2l-2 3l2 2l2-2l8 2l-2 4l8 6l2-4l8 4l-2 2l2 4l4-2l8 8l-2 2l2 2l2-2l-2-2l2 0l6 6l0 2l4 2l0 4l2 2l2-4l2 2l-2 2l2 2l2-2l2 2l0 4l6 4l0 2l-2-2l-2 4l2 2l6 0l0 4l2 2l-2 4l2 2l2-4l2 2l0 6l2 2l4 0l0 2l-4 2l4 4l2-4l2 2l0 2l-4 2l4 4l4 0l-2 4l8 10l2-2l0 4l2 4l-2 6l7 5l6 13l0 1l-1-1l-2 2l0 2l8 6l-4 4l7 4l2 4l1 4l-4 2l2 4l4 4l3 0l3 4l0 1l-2-1l-2 2l0 2l2 2l2-2l0 10l2 4l2 2l4-2l0 6l2 2l0 4l2 2l0 6l2 2l0 2l-2-2l-2 2l2 2l2-2l0 6l-2 4l2 2l4 0l0 4l-4 2l6 4l-2 4l0 12l2 2l-2 2l2 2l2-2l-1 8l-3 4l3 3l0 2l-1-1l-2 2l0 4l2 2l1-2l0 10l1 2l-2 2l2 4l-2 2l2 4l-2 2l0 6l2 2l2-2l0 8l-2-2l-2 2l2 2l2-2l-2 4l2 1l0 5l-4 4l1 1l0 3l-1 2l1 1l0 14l-1-1l-4 4l3 7l0 12l-1-1l-2 2l3 2l-2 2l0 4l-1 2l0 12l-4 2l2 4l-4 2l2 4l-2-2l-2 2l4 6l0 4l-2 2l0 8l-2 2l0 6l-2 2l0 4l-4-2l-2 2l2 4l0 4l-4 8l-2-2l-2 2l2 2l-2 2l0 4l-4 0l-2 2l4 3l-2 3l-1 4l-3-2l-2 2l0 2l3 2l-2 4l-3 3l0 3l-4 2l0 2l-2-2l-4 2l-2 4l2 4l-2 4l-6 5l0 2l-2-1l-6 6l2 3l-2 2l-2-3l-6 6l0 2l-4 4l2 2l-6 2l-4 4l2 2l2-2l0 1l-10 12l-2-1l-2 2l2 1l-4 4l-1 3l-3 3l-2-3l-4 4l3 2l-3 3l-2-1l-4 4l-2-2l-4 4l0 3l-2 1l-2-2l-4 2l-2 2l2 3l-2 2l-5 3l-3 0l-2 2l-2-2l-4 4l2 2l-6 4l-2-2l-2 0l-2 2l2 2l-9 7l-3-3l-2 2l0 3l-12 5l-4 3l-5 1l-6 3l-3-3l-2 0l-6 6l-2-2l-2 2l2 2l2-2l1 1l-7 2l-6 4l-6 1l-4 3l-2 0l4-3l-2-2l-4 4l-2-2l-2 2l2 1l-4 3l-2-2l-8 0l-2 2l-2-2l-2 2l2 2l-6 0l-4 2l-2-2l-6 1l-2-3l-6 4l1 1l-2 0l-3-3l-4 5l-2 0l-2-3l-6 4l-2-2l-2 2l-2-2l-4 2l-2 3l-2 0l-2-3l-2 2l-2-1l-14 0l2-1l-2-2l-4 0l-2 3l-4 0l-2-3l-2 3l-16 0l2-1l-2-2l-12 0l-2 3l-2 0l-2-3l-2 1l-4 0l2-1l-2-2l-2 2l1 1l-6 0l-1-1l-2 1l-5 0l-1-1l-2 1l-2-2l-8 0l-6-3l-2 1l-4 0l-7-2l1-1l-2-2l-2 2l1 1l-10-2l1-1l-2-2l-4 0l-2-2l-2 0l-2 3l-6-1l2-2l-4-4l-2 2l-18-16l0-4l-8-6l-6-13l2-5l-2-2l-4 1l-2-4l4-3l-4-4l-2 2l-4-4l0-2l-8-6l-2 0l-4 4l-4-4l-8-4l-4 2l2 2l-6 0l-2-2l-4 0l0-4l-2-2l-6 2l-2-2l-4 0l-4-2l-6-8l-4 0l-4 2l-2-4l-4-2l-2 2l-4-2l-4-4l-2 0l2-2l-2-4l-6-6l-4 0l-2-4l-6 2l-8-8l-2 0l-2-4l-2 0l2-2l-2-2l-10-4l-4-4l0-2l2 2l2-4l-2-2l-2 4l-2-2l0-4l-6-4l-2-6l-4-4l2-4l-8-4l0-2l-4-4l4-2l-4-4l0-4l-2-2l-2 4l-2-2l0-10l2-2l-2-2l-4 2l-2-10l2 2l2-2l-2-4l-4-2l0-6l2-4l-2-2l-2 4l-2-2l2-2l0-4l-4-4l2-4l0-4l-4-4l-2 0l0-8l-2-4l2 2l2-2l0-4l-6-4l0-8l-2-2l0-4l2 2l2-2l0-6l-4-6l-2 2l0-12l-2-2l0-2l2 2l2-2l0-4l-2-2l2-2l-4-2l-2-6l1-8l1 2l2-2l0-6l-2-2l-2 1l0-3l4-2l0-2l-4-4l-2 1l0-5l4-2l-4-2l0-2l4-2l-2-4l2-4l-2-2l-2 1l0-3l4-2l0-4l-2-4l2 2l2-2l-2-4l-2 2l0-10l2 2l2-2l-2-2l-2 2l0-4l4-2l-2-6l4-2l-4-2l0-2l4-4l-2-2l2-2l0-6l-2-2l0-14l4-4l-2-2l2-2l-2-4l2-2l0-10l-4-2l0-2l4-6l2 4l2 0l4-4l-3-2l9-8l2 2l3-4l2 0l-1 2l4 2l2-4l2 2l4-2l4 0l2-2l-2-2l2-1l8 1l2-2l-2-2l1-4l3 2l2-2l0-2l-3-2l5-14l4 2l2-2l0-4l4-4l-2-2l4-2l-2-2l0-4l2-6l8-10l0-2l4 2l2-4l4-2l0-2l-4-2l8-8l4-2l-2-2l8-8l2 2l2-2l2-4l-2-4l6-6l4 2l2-2l-4-2l1-2l3 2l2-2l-2-4l2-2l4 2l8-8l0-2l-2-2l-2 2l0-2l2-2l2 2l6-4l-2-4l6-6l0-2l4 0l2-4l8-6l2 2l2-2l-2-4l2 0l8-8l2 4l6-6l-2-3l10-7l6-8l2 0l-2 2l2 2l2-2l-2-2l2-4l2 0l2-4l6-4l0-2l4 2l2-2l0-4l4 0l-2 2l2 2l4-2l-2-2l10 0l4 2l2-4l4 0l-2 2l2 2l4 0l2-2l4 2l4-4l4 0l2-2l6 0l2-2l10 0l2 2l8-4l4 0l2 2l2-2l10 0l-2 2l2 2l2-2l-2-2l6 0l2-2l4 2l4 0l2 2l2-4l6 0l-2 2l2 2l10 0l4-4l0-2l4 0l4 4l4-2l2 2l4-2l2 2l2-2l-2-2l4 0l2-2l4 0l2 4l4-4l6 4l8-6zM762 1778l2 2l2-2l-2-2l-2 2zM428 1798l-2 2l2 2l4-4l-2-2l-2 2zM844 1824l2 2l2-2l-2-2l-2 2zM342 1896l2 2l2-2l-2-2l-2 2zM790 2032l-2 2l0 28l-2 2l0 8l-2 2l0 8l-2 2l0 12l2 2l0 8l2 2l0 6l2 2l0 8l2 2l0 8l-2 2l0 14l-2 2l0 14l-2 2l0 4l-84 0l-2-2l-30 0l-4-2l-14-14l0-4l-4-8l0-6l-2-2l0-4l-2-2l0-4l-2-4l-4-2l-6-6l-6-2l-10 8l2 14l2 2l0 4l2 2l0 4l4 8l0 10l-2 2l-2 14l-10 4l-12 10l0 4l-6 12l0 8l2 2l0 8l2 2l0 6l4 4l22 10l4 4l2 0l4 4l8 4l12 10l6 0l2 2l12 0l2 2l12 0l2 2l4 0l4-4l10-4l4-4l16-8l20-20l2 0l66-66l10-20l0-4l6-10l0-10l2-2l0-10l2-2l0-18l-2-2l0-8l-2-2l-2-14l-6-8l-2-6l-4-4l-2-6l-6-6l-4 0l-6-4l-4 0l-4-2zM712 2104l-4 4l-2 0l-4 4l0 2l6 12l10 0l4-4l2-10l-8-8l-4 0zM948 2220l2 2l2-2l-2-2l-2 2zM872 2352l2 2l2-2l-2-2l-2 2zM476 2410l2 2l2-2l-2-2l-2 2zM548 2446l2 2l2-2l-2-2l-2 2zM626 1742l-2 2l0-2l2 0zM702 1760l2 2l-2 0l-2-2l2 0zM392 1832l0 2l-2 0l2-2zM388 1836l0 2l-2 0l2-2zM886 1862l0 2l-2-2l2 0zM328 1916l2 2l-4 2l2-4zM294 1956l0 2l-1-2l1 0zM264 1996l2 2l-2 2l0-4zM262 2026l2 2l-2 0l0-2zM964 2052l0 4l-2-2l2-2zM966 2103l-2-1l2 0l0 1zM264 2134l-2 1l0-1l2 0zM940 2260l0 2l-2 0l2-2zM892 2335l0-1l1 0l-1 1zM732 2440l2 1l-4 0l2-1zM714 2444l2 2l-4 0l2-2z"/><path fill="#000080" d="M656 1741l4 5l0 6l-2 2l6 6l4-2l6 0l8 4l4-2l6 4l2-2l4 0l4 4l4 0l4-2l4 4l2-2l4 2l2-2l2 0l6 2l6 0l8 4l6 0l2 4l4-2l2 4l2 0l2-3l1 1l-1 2l2 2l1-3l3 0l4 5l4-2l2 2l4 0l4 4l6 0l1 1l-1 1l4 4l1-2l3 4l10 4l1 1l-1 1l2 2l2-2l6 3l0 3l8 6l2-3l6 4l0 3l2 2l1-2l6 6l-1 2l2 2l1-2l3 4l2-2l12 14l1-2l1 1l6 6l3 5l-1 4l6 4l3 4l-1 4l2 2l1-2l1 2l2 4l4 4l-2 2l4 4l1-2l1 2l-2 2l4 4l2 0l1 2l-1 2l8 10l3 8l-1 4l4 2l7 17l-1 3l6 8l-2 2l4 2l4 8l0 2l-2 2l8 10l1 2l-1 4l4 4l0 6l2 4l2 2l2-1l0 5l4 10l1 6l-1 2l4 5l-2 5l4 4l0 2l-2 2l4 4l0 16l2 2l-2 2l2 1l-1 9l-1 2l1 1l-1 9l1 1l0 9l2 3l-1 3l1 1l-1 3l2 4l-2 2l0 6l2 2l0 4l-2 2l2 2l0 6l-2 6l-1 20l-3 4l1 18l-1 2l0 12l-2 4l0 6l-2 2l0 4l-2 2l2 3l-2-1l-2 2l2 2l1 6l-1 1l-2-1l-2 2l2 2l1-2l-2 16l-4 7l-1-1l-2 2l1 3l-5 11l-2 2l1 1l-3 7l-2 0l-2 2l2 2l-2 6l-4 2l1 3l-7 11l-2 2l-2 0l-2 2l-2 4l0 2l-14 18l-1 3l-1-1l-6 6l0 2l-4 4l0 2l-4 2l-4 4l1 1l-3 5l-1 1l-1-1l-2 2l0 2l-8 8l-2 4l-2 0l-4 4l1 1l-3 3l-5 3l-1-1l-4 4l0 1l-8 3l-2 2l0 2l-10 7l-2-1l-4 4l1 0l-7 4l-2 0l-6 7l-5 2l-1-1l-2 3l-4 2l-4 0l-20 10l-4-1l-6 5l-2-1l-2 3l-4 1l-6 3l-6 2l-2-1l-4 3l-2-1l-6 4l-8 0l-2 2l-2-2l-2 2l-4 0l-4 2l-8-1l-2-1l-6 3l-2 0l-2-1l-4 3l-3 0l-1-1l-7 3l-1-1l-3 1l-1-1l-6 3l-8-2l-13 0l-1-1l-10 1l-2-1l-2 1l-15 0l-1-1l-12 0l-2 1l-2 0l-8-3l-2 1l-14 0l-4-2l-8 0l-2-3l-2 1l-8 0l-8-3l-4 0l-8-2l-4 0l-2-2l-3 1l-6-1l1 0l-4-4l-2 0l-20-20l-2-3l2-1l-2-2l-1 1l-1-1l-5-10l-2-3l1-3l-4-2l-2-4l2-2l-4-4l-1 1l-7-9l-4 0l-2-2l-2 0l-2 2l-8-2l-6-4l-2 0l-2 2l-4 0l-6-3l-2-3l-3 0l-7-2l-8-4l-4-4l-6 0l-13-6l-5-4l-2-4l-6-6l-4 0l-2-4l-5 0l-14-12l1 0l-2-2l-5-2l-6-6l1-4l-2-2l-2 1l-2-1l-11-17l1-3l-6-4l-4-7l2-1l-4-4l0-4l-2-2l-2 2l-1-2l-1-8l2-2l-2-2l-2 2l-3-8l3-2l-5-6l-1-6l2-4l-2-2l-2 1l-1-1l1-4l-2-4l0-8l-4-6l-2-9l2-1l0-4l-4-6l0-6l-2-4l2-2l0-6l-4-6l-2-6l0-7l2-1l0-4l-2-3l2-1l-2-2l-2-6l0-7l2-1l-2-11l2-3l-4-4l0-5l2-1l-2-2l0-3l2-3l-2-3l2-3l-2-4l2-2l0-7l2-1l0-2l-3-2l0-7l3-1l-3-2l0-2l3-2l-1-6l3-2l-3-2l0-4l3-2l-2-2l2-2l0-24l2-2l-2-2l2-2l-2-4l2-2l0-10l-2-2l0-2l3-3l3 1l4-4l0-2l10-8l6 2l2-3l4 1l2-2l4 0l2-3l8-1l2-2l1-4l3-2l0-8l4-8l4-2l0-4l4-4l-2-2l4-2l-2-2l6-12l4-5l2 1l2-2l-2-2l1-1l1 1l2-4l4-2l-1-3l13-17l6-4l2-6l6-6l4-2l-2-2l4-2l-1-1l2-4l3 1l8-8l-1-5l7-3l-1-3l7-7l12-11l2 1l2-4l3-1l1 1l4-4l-1-1l1-2l2 1l6-6l-1-1l3-2l12-12l2 1l2-2l-1-2l13-14l2 2l2-2l0-3l3 0l-1 1l2 2l2 0l2-2l-1-1l13 1l2-3l3 0l-1 1l2 2l4 0l2-2l4 2l4-4l12-1l4-2l9 0l1 1l10-4l4 2l1-2l10 0l-1 2l2 2l2-2l-1-2l5 1l4-2l6 1l2 2l2-3l5 0l-1 1l2 2l10 0l4-5l6 0l2 3l4-2l4 2l2-2l2 2l6-4l4 0l2 2l2-2l6 0l2 2l2-2l6-1zM790 2032l-2 2l0 28l-2 2l0 8l-2 2l0 8l-2 2l0 12l2 2l0 8l2 2l0 6l2 2l0 8l2 2l0 8l-2 2l0 14l-2 2l0 14l-2 2l0 4l-84 0l-2-2l-30 0l-4-2l-14-14l0-4l-4-8l0-6l-2-2l0-4l-2-2l0-4l-2-4l-4-2l-6-6l-6-2l-10 8l2 14l2 2l0 4l2 2l0 4l4 8l0 10l-2 2l-2 14l-10 4l-12 10l0 4l-6 12l0 8l2 2l0 8l2 2l0 6l4 4l22 10l4 4l2 0l4 4l8 4l12 10l6 0l2 2l12 0l2 2l12 0l2 2l4 0l4-4l10-4l4-4l16-8l20-20l2 0l66-66l10-20l0-4l6-10l0-10l2-2l0-10l2-2l0-18l-2-2l0-8l-2-2l-2-14l-6-8l-2-6l-4-4l-2-6l-6-6l-4 0l-6-4l-4 0l-4-2zM712 2104l-4 4l-2 0l-4 4l0 2l6 12l10 0l4-4l2-10l-8-8l-4 0z"/><path fill="#000080" d="M654 1744l3 0l1 10l6 6l8 0l18 4l10 0l2 2l10 0l2 2l10 0l10 2l22 6l8 4l6 0l2 2l16 4l48 30l34 30l33 52l27 62l15 32l1 6l8 22l2 12l4 10l-1 44l3 14l0 26l-3 6l0 18l-2 6l0 18l-1 4l-4 30l-2 2l1 8l-3 2l1 6l-3 10l-23 50l-34 46l-12 12l-2 4l-12 12l-2 4l-17 15l-36 23l-4 4l-26 12l-46 19l-20 5l-8 0l-4 2l-8 0l-14 3l-8 0l-14 4l-8-2l-58 0l-6-2l-18 0l-4-2l-8 0l-4-2l-44-7l-24-22l-17-32l-9-11l-24-3l-2-2l-8 0l-14-8l-34-14l-14-12l-2 0l-26-20l-8-8l0-2l-5-4l-23-35l0-3l-3-2l-2-6l0-3l1-1l-3-2l-2-6l1-2l-4-12l0-4l-2-2l-1-6l-3-8l-8-40l0-6l-2-2l-2-12l0-18l-2-6l0-18l-2-6l0-26l2-8l-1-16l3-10l0-15l2-5l0-40l2-4l16-11l26-7l5-4l6-14l17-36l31-40l38-44l31-28l4-2l30-31l16 0l6-2l14 1l2-3l14 0l4-2l16-1l6-2l13 0l1 2l12-3l24 1l4-3l20 1l8-2l20 0zM790 2032l-2 2l0 28l-2 2l0 8l-2 2l0 8l-2 2l0 12l2 2l0 8l2 2l0 6l2 2l0 8l2 2l0 8l-2 2l0 14l-2 2l0 14l-2 2l0 4l-84 0l-2-2l-30 0l-4-2l-14-14l0-4l-4-8l0-6l-2-2l0-4l-2-2l0-4l-2-4l-4-2l-6-6l-6-2l-10 8l2 14l2 2l0 4l2 2l0 4l4 8l0 10l-2 2l-2 14l-10 4l-12 10l0 4l-6 12l0 8l2 2l0 8l2 2l0 6l4 4l22 10l4 4l2 0l4 4l8 4l12 10l6 0l2 2l12 0l2 2l12 0l2 2l4 0l4-4l10-4l4-4l16-8l20-20l2 0l66-66l10-20l0-4l6-10l0-10l2-2l0-10l2-2l0-18l-2-2l0-8l-2-2l-2-14l-6-8l-2-6l-4-4l-2-6l-6-6l-4 0l-6-4l-4 0l-4-2zM712 2104l-4 4l-2 0l-4 4l0 2l6 12l10 0l4-4l2-10l-8-8l-4 0z"/><path fill="#000080" d="M634 1745l22 0l2 11l6 5l8 0l16 4l10 0l4 2l32 4l52 17l49 30l24 22l5 2l38 58l11 26l31 68l8 28l2 12l4 10l-1 40l0 6l2 4l0 32l-2 6l0 18l-2 6l0 18l-2 4l0 8l-1 4l-3 26l-7 24l-21 44l-9 14l-25 32l-12 12l-24 28l-29 21l-16 9l-4 4l-26 12l-44 18l-54 10l-8 0l-14 4l-8-2l-58 0l-6-2l-18 0l-4-2l-20-2l-16-4l-18-2l-24-22l-16-31l-10-12l-4-2l-8 0l-4-1l-18-2l-40-18l-15-8l-37-29l-6-6l-29-41l-6-18l-14-48l-9-50l-2-42l-2-6l-1-26l2-6l0-18l2-6l0-18l2-6l1-41l18-13l24-6l6-5l24-51l30-39l24-27l2-4l26-26l21-16l29-31l2-1l14 0l6-2l30-1l6-3l14 0l6-2l20 0l6-2l50-1l6-2zM790 2032l-2 2l0 28l-2 2l0 8l-2 2l0 8l-2 2l0 12l2 2l0 8l2 2l0 6l2 2l0 8l2 2l0 8l-2 2l0 14l-2 2l0 14l-2 2l0 4l-84 0l-2-2l-30 0l-4-2l-14-14l0-4l-4-8l0-6l-2-2l0-4l-2-2l0-4l-2-4l-4-2l-6-6l-6-2l-10 8l2 14l2 2l0 4l2 2l0 4l4 8l0 10l-2 2l-2 14l-10 4l-12 10l0 4l-6 12l0 8l2 2l0 8l2 2l0 6l4 4l22 10l4 4l2 0l4 4l8 4l12 10l6 0l2 2l12 0l2 2l12 0l2 2l4 0l4-4l10-4l4-4l16-8l20-20l2 0l66-66l10-20l0-4l6-10l0-10l2-2l0-10l2-2l0-18l-2-2l0-8l-2-2l-2-14l-6-8l-2-6l-4-4l-2-6l-6-6l-4 0l-6-4l-4 0l-4-2zM712 2104l-4 4l-2 0l-4 4l0 2l6 12l10 0l4-4l2-10l-8-8l-4 0z"/><path fill="#000080" d="M632 1747l2-1l20 0l2 10l4 4l4 2l8 0l16 4l10 1l4 1l8 1l4 1l20 3l52 16l48 30l24 22l5 3l35 52l4 8l16 40l24 50l0 4l8 24l2 12l4 10l-1 42l2 10l0 28l-2 6l0 18l-3 8l0 18l-6 36l0 6l-6 24l-20 42l-11 16l-25 32l-10 10l-24 28l-50 34l-68 29l-76 14l-8-2l-56 0l-8-2l-16 0l-58-10l-22-20l-18-32l-6-7l-6-6l-34-5l-40-18l-14-8l-6-5l-31-22l-6-6l-29-42l-6-16l-13-48l0-6l-2-4l0-6l-8-34l-2-42l-1-6l-1-26l2-6l0-18l2-6l0-18l2-6l0-40l17-13l26-6l6-5l23-50l30-40l39-45l29-25l5-4l30-30l14 0l6-2l30-2l6-2l16-1l4-1l20 0l6-2l22 0l6-2l26-1zM790 2032l-2 2l0 28l-2 2l0 8l-2 2l0 8l-2 2l0 12l2 2l0 8l2 2l0 6l2 2l0 8l2 2l0 8l-2 2l0 14l-2 2l0 14l-2 2l0 4l-84 0l-2-2l-30 0l-4-2l-14-14l0-4l-4-8l0-6l-2-2l0-4l-2-2l0-4l-2-4l-4-2l-6-6l-6-2l-10 8l2 14l2 2l0 4l2 2l0 4l4 8l0 10l-2 2l-2 14l-10 4l-12 10l0 4l-6 12l0 8l2 2l0 8l2 2l0 6l4 4l22 10l4 4l2 0l4 4l8 4l12 10l6 0l2 2l12 0l2 2l12 0l2 2l4 0l4-4l10-4l4-4l16-8l20-20l2 0l66-66l10-20l0-4l6-10l0-10l2-2l0-10l2-2l0-18l-2-2l0-8l-2-2l-2-14l-6-8l-2-6l-4-4l-2-6l-6-6l-4 0l-6-4l-4 0l-4-2zM712 2104l-4 4l-2 0l-4 4l0 2l6 12l10 0l4-4l2-10l-8-8l-4 0z"/><path fill="#000080" d="M630 1750l4-2l18 0l3 10l7 5l72 12l34 10l19 7l20 14l27 15l28 25l36 54l18 46l22 46l15 54l-2 36l0 8l3 6l0 26l-2 8l-1 18l-2 6l0 18l-5 42l-8 28l-18 36l-10 16l-26 34l-12 12l-20 24l-32 22l-44 23l-43 19l-33 7l-44 6l-62-2l-6-2l-18-1l-6-2l-18-2l-34-6l-20-18l-17-30l-5-7l-8-7l-4-2l-8 0l-24-4l-30-14l-8-2l-14-8l-42-32l-30-44l-7-20l0-4l-11-38l-1-6l-1-4l-1-6l-7-34l-2-44l-1-6l-2-20l2-10l-1-18l3-6l0-18l2-6l1-39l16-10l24-6l6-3l4-6l5-16l15-32l41-50l3-6l10-12l2-4l26-25l22-17l27-30l15-1l6-2l14 0l4-2l14 0l4-2l14 0l6-2l20 0l6-2l22 1l6-2l24 0zM790 2032l-2 2l0 28l-2 2l0 8l-2 2l0 8l-2 2l0 12l2 2l0 8l2 2l0 6l2 2l0 8l2 2l0 8l-2 2l0 14l-2 2l0 14l-2 2l0 4l-84 0l-2-2l-30 0l-4-2l-14-14l0-4l-4-8l0-6l-2-2l0-4l-2-2l0-4l-2-4l-4-2l-6-6l-6-2l-10 8l2 14l2 2l0 4l2 2l0 4l4 8l0 10l-2 2l-2 14l-10 4l-12 10l0 4l-6 12l0 8l2 2l0 8l2 2l0 6l4 4l22 10l4 4l2 0l4 4l8 4l12 10l6 0l2 2l12 0l2 2l12 0l2 2l4 0l4-4l10-4l4-4l16-8l20-20l2 0l66-66l10-20l0-4l6-10l0-10l2-2l0-10l2-2l0-18l-2-2l0-8l-2-2l-2-14l-6-8l-2-6l-4-4l-2-6l-6-6l-4 0l-6-4l-4 0l-4-2zM712 2104l-4 4l-2 0l-4 4l0 2l6 12l10 0l4-4l2-10l-8-8l-4 0z"/><path fill="#000080" d="M580 1756l22 1l6-2l38-1l9 12l7 3l70 12l34 9l18 7l14 11l32 20l8 7l6 3l8 9l6 5l10 16l23 34l17 46l25 48l12 50l-2 42l3 10l1 20l-2 12l-1 16l-3 8l0 16l-3 44l-2 10l-6 14l-7 12l-12 26l-29 39l-39 45l-29 18l-42 22l-44 19l-20 6l-52 7l-34 1l-52-5l-56-9l-16-15l-17-30l-6-8l-9-9l-8-3l-32-4l-29-12l-9-3l-32-20l-22-17l-19-28l-11-14l-3-8l-11-46l-4-24l-7-24l-2-10l1-18l-2-8l0-16l-3-28l1-6l0-18l2-6l1-18l3-8l0-34l12-9l24-5l6-4l4-4l3-4l6-18l15-32l40-48l15-24l11-11l36-29l26-30l14-1l6-2l12 1l6-2l12 0l26-6l20 1l6-1zM790 2032l-2 2l0 28l-2 2l0 8l-2 2l0 8l-2 2l0 12l2 2l0 8l2 2l0 6l2 2l0 8l2 2l0 8l-2 2l0 14l-2 2l0 14l-2 2l0 4l-84 0l-2-2l-30 0l-4-2l-14-14l0-4l-4-8l0-6l-2-2l0-4l-2-2l0-4l-2-4l-4-2l-6-6l-6-2l-10 8l2 14l2 2l0 4l2 2l0 4l4 8l0 10l-2 2l-2 14l-10 4l-12 10l0 4l-6 12l0 8l2 2l0 8l2 2l0 6l4 4l22 10l4 4l2 0l4 4l8 4l12 10l6 0l2 2l12 0l2 2l12 0l2 2l4 0l4-4l10-4l4-4l16-8l20-20l2 0l66-66l10-20l0-4l6-10l0-10l2-2l0-10l2-2l0-18l-2-2l0-8l-2-2l-2-14l-6-8l-2-6l-4-4l-2-6l-6-6l-4 0l-6-4l-4 0l-4-2zM712 2104l-4 4l-2 0l-4 4l0 2l6 12l10 0l4-4l2-10l-8-8l-4 0z"/><path fill="#0000bb" d="M610 1762l18 0l14-2l12 13l8 3l24 5l10 0l18 6l36 5l20 6l12 6l11 12l15 11l16 8l8 9l20 14l6 16l12 9l14 22l2 11l6 12l1 16l14 20l19 34l3 20l7 30l-4 20l0 20l5 20l1 12l-4 20l-5 12l-2 12l0 8l5 20l-5 30l-4 12l-6 10l-3 8l-10 20l-16 22l-34 42l-14 16l-10 7l-22 11l-18 6l-22 13l-16 6l-18 11l-20 8l-18 4l-40 6l-26 0l-34-3l-10-3l-14 0l-24-3l-28-4l-14-13l-7-14l-9-14l-18-20l-10-4l-34-4l-16-6l-10-6l-16-5l-44-29l-31-44l-3-6l-11-46l-4-22l-9-36l0-16l-2-8l0-18l-3-24l5-48l3-8l1-33l8-6l24-5l6-3l5-5l4-6l6-18l15-32l39-48l16-24l17-16l28-23l24-28l20-3l10 1l18-2l28-6l18 0l8-1l20 1l8-1zM790 2032l-2 2l0 28l-2 2l0 8l-2 2l0 8l-2 2l0 12l2 2l0 8l2 2l0 6l2 2l0 8l2 2l0 8l-2 2l0 14l-2 2l0 14l-2 2l0 4l-84 0l-2-2l-30 0l-4-2l-14-14l0-4l-4-8l0-6l-2-2l0-4l-2-2l0-4l-2-4l-4-2l-6-6l-6-2l-10 8l2 14l2 2l0 4l2 2l0 4l4 8l0 10l-2 2l-2 14l-10 4l-12 10l0 4l-6 12l0 8l2 2l0 8l2 2l0 6l4 4l22 10l4 4l2 0l4 4l8 4l12 10l6 0l2 2l12 0l2 2l12 0l2 2l4 0l4-4l10-4l4-4l16-8l20-20l2 0l66-66l10-20l0-4l6-10l0-10l2-2l0-10l2-2l0-18l-2-2l0-8l-2-2l-2-14l-6-8l-2-6l-4-4l-2-6l-6-6l-4 0l-6-4l-4 0l-4-2zM712 2104l-4 4l-2 0l-4 4l0 2l6 12l10 0l4-4l2-10l-8-8l-4 0z"/><path fill="#0008ff" d="M582 1773l22 2l32-3l2 0l8 10l8 5l38 10l16 8l54 6l12 9l16 20l12 9l22 13l6 13l11 15l1 12l2 6l11 20l10 10l4 10l14 24l4 10l5 10l7 18l1 14l3 10l2 16l4 16l0 6l-4 16l2 16l-10 24l2 12l-1 10l3 12l-2 12l3 12l-3 12l2 18l-7 22l-9 14l-3 8l-13 16l-31 50l-12 13l-14 5l-10 0l-8 1l-10 9l-10 3l-10 8l-10 5l-50 30l-12 5l-26 4l-10 3l-22-1l-27-3l-5-2l-10-7l-8-3l-10 1l-16-1l-8 3l-22-4l-6-5l-8-12l-9-8l-9-12l-8-5l-4 0l-6-4l-4 0l-8-4l-6-6l-2 0l-10-8l-16-2l-16-5l-50-24l-18-10l-5-6l-26-42l-9-36l2-24l-1-8l-12-14l-6-20l0-14l-2-10l1-14l-2-10l-1-16l2-24l11-24l0-16l6-7l6-4l8-2l6-5l14-24l9-24l14-28l33-40l8-8l16-24l16-16l20-16l12-8l18-21l8 1l8-2l12 0l24-6l10-1l10-3l14 1l10-2zM790 2032l-2 2l0 28l-2 2l0 8l-2 2l0 8l-2 2l0 12l2 2l0 8l2 2l0 6l2 2l0 8l2 2l0 8l-2 2l0 14l-2 2l0 14l-2 2l0 4l-84 0l-2-2l-30 0l-4-2l-14-14l0-4l-4-8l0-6l-2-2l0-4l-2-2l0-4l-2-4l-4-2l-6-6l-6-2l-10 8l2 14l2 2l0 4l2 2l0 4l4 8l0 10l-2 2l-2 14l-10 4l-12 10l0 4l-6 12l0 8l2 2l0 8l2 2l0 6l4 4l22 10l4 4l2 0l4 4l8 4l12 10l6 0l2 2l12 0l2 2l12 0l2 2l4 0l4-4l10-4l4-4l16-8l20-20l2 0l66-66l10-20l0-4l6-10l0-10l2-2l0-10l2-2l0-18l-2-2l0-8l-2-2l-2-14l-6-8l-2-6l-4-4l-2-6l-6-6l-4 0l-6-4l-4 0l-4-2zM712 2104l-4 4l-2 0l-4 4l0 2l6 12l10 0l4-4l2-10l-8-8l-4 0z"/><path fill="#005cff" d="M562 1793l18 2l2-2l18 2l2-2l12-1l2 3l16-2l10 7l6 1l2 1l8 0l2 3l6 0l2 3l6-1l2 2l8 1l4 8l4 4l26 7l8 5l16 2l22 15l12 15l20 14l16 23l10 41l6 16l3 4l13 10l3 6l9 9l2 5l2 12l2 6l0 18l5 12l0 4l-3 3l-10 6l-3 9l3 2l-1 4l-4 12l1 6l6 14l-1 2l2 12l-1 12l-1 12l-3 4l4 8l-1 8l1 8l-2 4l-8 6l-7 4l-1 4l-2 1l-4 5l-14 52l-3 4l-13 12l-12 20l-6 16l-6 6l-10 3l-12 11l-8 4l-8 7l-18 6l-3 3l-3 8l-6 5l-6 2l-12 8l-12 5l-6 0l-2 2l-6 0l-10 9l-6 2l-12 7l-22-1l-13-5l-13-9l-6-2l-16-2l-20 7l-10-1l-10-5l-14-3l-6-3l-4 0l-6-4l-4 0l-6-4l-4 0l-6-5l-12-3l-6-6l-2 0l-12-14l-12-6l-2 0l-6-6l-2 0l-6-6l-2 0l-13-14l-1-4l-7-4l0-2l-6-6l0-2l-13-12l-2-4l0-2l-6-6l0-2l-4-6l-3-18l-6-10l-6-8l-2-6l1-14l-2-12l4-12l-5-22l-8-10l-14-12l-1-10l-3-2l-4-12l0-10l10-38l2-2l5-14l10-12l4-14l3-22l3-14l2-18l4-4l0-2l4-4l-1-2l4-4l0-2l8-10l5-8l6-6l0-2l4-4l0-2l4-4l0-2l4-4l0-2l24-23l2 0l12-12l2-1l9-10l11-12l4-2l14-2l10-5l4 0l10-5l4 0l14-5l14-9l10-2l2-2l16-2l4-3zM790 2032l-2 2l0 28l-2 2l0 8l-2 2l0 8l-2 2l0 12l2 2l0 8l2 2l0 6l2 2l0 8l2 2l0 8l-2 2l0 14l-2 2l0 14l-2 2l0 4l-84 0l-2-2l-30 0l-4-2l-14-14l0-4l-4-8l0-6l-2-2l0-4l-2-2l0-4l-2-4l-4-2l-6-6l-6-2l-10 8l2 14l2 2l0 4l2 2l0 4l4 8l0 10l-2 2l-2 14l-10 4l-12 10l0 4l-6 12l0 8l2 2l0 8l2 2l0 6l4 4l22 10l4 4l2 0l4 4l8 4l12 10l6 0l2 2l12 0l2 2l12 0l2 2l4 0l4-4l10-4l4-4l16-8l20-20l2 0l66-66l10-20l0-4l6-10l0-10l2-2l0-10l2-2l0-18l-2-2l0-8l-2-2l-2-14l-6-8l-2-6l-4-4l-2-6l-6-6l-4 0l-6-4l-4 0l-4-2zM712 2104l-4 4l-2 0l-4 4l0 2l6 12l10 0l4-4l2-10l-8-8l-4 0z"/><path fill="#00b0ff" d="M560 1817l30 1l28 13l54 13l26 10l18 1l20 9l10 12l14 30l6 16l4 5l8 3l2 2l6 12l10 12l6 16l9 12l5 14l5 10l2 20l3 8l0 6l-4 15l-6-7l-2-6l-6-6l-4 0l-12-6l-4 2l0 28l-2 2l0 8l-2 2l0 8l-2 2l0 12l2 2l0 8l2 2l0 6l2 2l2 18l-2 2l0 14l-2 2l0 14l-2 2l0 4l-84 0l-2-2l-30 0l-4-2l-14-14l0-4l-4-8l0-6l-2-2l-2-10l-4-6l-2 0l-6-6l-4-2l-2 0l-10 8l2 14l2 2l0 4l2 2l0 4l4 8l0 10l-2 2l-2 14l-16 8l-6 6l0 4l-4 6l0 4l-2 2l0 8l2 2l0 8l2 2l0 6l4 4l22 10l4 4l2 0l4 4l8 4l12 10l6 0l2 2l12 0l2 2l12 0l2 2l4 0l4-4l10-4l4-4l16-8l20-20l2 0l66-66l3-8l-5 16l-7 14l-2 16l-2 6l-7 8l-15 10l-11 17l-4 2l-10-2l-14-1l-6 1l-4 6l-2 11l-5 8l-4 10l-16 16l-11 21l-8 9l-10 7l-10 2l-12 5l-10 2l-12 5l-24-9l-14 2l-50-2l-20-1l-20-5l-10-6l-24-18l-15-8l-16-18l-27-23l-13-13l-7-12l-7-26l-3-22l4-16l0-8l-3-16l-1-17l-6-9l-19-16l-7-16l-2-6l1-28l13-18l9-22l1-30l4-28l16-39l12-15l10-18l22-20l16-18l12-9l24-7l36-8l16-6l22-3zM712 2104l-4 4l-2 0l-4 4l0 2l6 12l10 0l4-4l2-10l-8-8l-4 0z"/><path fill="#19ffde" d="M508 1841l34 0l4 0l2 2l10 1l28-1l2 2l6 0l2 3l8 2l14 2l10 4l26 7l18 9l4 4l12 6l10 0l6 2l2 4l4 10l27 28l17 20l4 7l16 17l4 10l9 8l3 4l9 26l-1 16l-4 0l-2-2l-4 2l0 28l-2 2l0 8l-2 2l0 8l-2 2l1 18l3 7l0 5l2 2l0 8l2 2l0 8l-2 2l0 14l-2 2l0 14l-2 4l-22-4l-26-2l-8 1l-1-1l-8-28l-3-7l-4-3l6 0l4-4l0-4l2-2l0-4l-8-8l-4 0l-10 8l4 11l-6-4l-4 0l-4 4l-6 1l-2-2l-2 2l-6 0l-6 7l-4 3l-2 8l-6 10l-2 8l-6-6l0-4l-4-8l0-6l-2-2l0-4l-2-2l0-4l-2-4l-14-10l-2 0l-10 8l2 14l2 2l0 4l2 2l0 4l4 8l0 10l-2 2l-2 14l-16 8l-6 6l0 4l-4 6l0 4l-2 2l0 8l2 2l0 8l2 2l0 6l4 4l22 10l4 4l2 0l4 4l8 4l12 10l6 0l2 2l3 0l-3 6l-6 3l-6 0l-1 3l-2 2l0 4l-2 2l1 4l-4 3l-2-1l-2 2l-12-5l-6 0l-18 7l-10 6l-10 4l-5 4l-3 0l-16 0l-10-3l-22 3l-14-4l-8-4l-6-5l-4-1l-2-3l-12-5l-54-42l-6-11l-2-7l-4-4l-4-15l-6-9l0-16l-1-4l0-18l-2-4l-1-18l-2-4l-2-44l1-42l-2-2l1-38l0-6l-2-2l-1-20l0-8l1-2l1-16l2-2l0-14l2-2l0-6l17-29l6-15l36-35l2 0l2-2l4 0l2-3l4 0l2-2l4 0l2-2l4 0l2-2l16-3l8-4z"/><path fill="#60ff97" d="M510 1855l26-1l28 5l16 0l40 9l8 2l26 16l13 6l22 16l11 13l22 17l8 12l8 18l12 14l19 28l4 14l-1 12l-4 8l0 8l-9 20l-10 20l-3 11l-4 4l-18 6l-8-9l-4 0l-10 8l2 5l-8 2l-4 4l-6 0l-2-2l-26 2l-5 5l-7 10l-6-18l-4-2l-6-6l-6-2l-10 8l2 14l2 2l0 4l2 2l0 4l4 8l0 10l-2 2l-2 14l-10 4l-12 10l0 4l-6 12l0 8l2 2l0 8l2 2l0 6l4 4l28 14l1 1l-2 9l-5 6l-6 3l-20 7l-24 3l-10 5l-6 4l-6 2l-18-2l-16-7l-24-4l-20-11l-17-14l-9-7l-12-11l-12-20l-6-14l-2-16l-7-26l-4-30l-2-24l0-92l-2-30l2-6l3-28l3-8l23-41l12-11l32-22l36-13z"/><path fill="#a4ff53" d="M524 1866l12 0l2 2l18 1l2 2l26 3l6 3l4 0l14 7l10 1l16 8l18 14l12 7l4 4l2 0l32 34l0 2l17 30l0 4l3 2l0 4l3 4l3 8l0 14l2 2l1 4l2 4l-3 4l1 12l-3 4l-1 12l-2 2l0 10l-2 2l-1 4l-2 2l-2 10l-2 2l-4 10l-4 4l-2 0l-8 10l-2 0l-4 4l-6 0l-2-2l-10 0l-2-1l-10 0l-4-2l-2 2l-9 3l-5 3l-4-7l-2 0l-6-6l-4-2l-2 0l-10 8l2 14l2 2l0 4l2 2l0 4l1 1l-12 13l-3 6l-2 8l0 14l-6 6l0 4l-6 12l0 8l2 2l0 8l2 2l0 6l4 4l14 6l-4 2l-6 6l-2 0l-6 5l-10 1l-14 4l-6 0l-12 4l-2 2l-8 1l-2-2l-10 0l-2-2l-10 0l-2-2l-10 0l-2-1l-8-1l-4-3l-11-4l-3-5l-10-4l-4-4l-6-2l-4-3l0-2l-10-9l-2-5l-16-20l-1-4l-2-2l0-4l-2-2l0-6l-2-2l0-6l-2-2l0-4l-2-2l0-6l-2-2l0-6l-4-8l1-12l-2-2l-1-22l-2-2l2-22l-2-4l1-14l-1-60l1-4l-1-8l2-2l0-8l1-2l0-8l2-2l0-8l2-2l0-8l23-44l5-5l2 0l6-6l8-4l22-15l6-1l8-5l6 0l2-2l6-1l2-2l12-2l2-1z"/><path fill="#e7ff0f" d="M528 1877l54 11l32 11l11 7l29 19l8 9l14 21l17 17l4 6l9 18l1 12l6 22l1 10l0 18l-6 16l-3 14l-5 12l-7 10l-5 4l-6 2l-18 2l-6-1l-16 2l-6-1l-6-6l-6-2l-10 8l0 6l2 2l0 6l1 1l-18 19l-2 4l-5 34l-5 18l-3 26l-8 8l-18 8l-10 3l-34-2l-10-2l-12-4l-25-17l-17-19l-10-15l-5-14l-8-18l-6-24l-1-24l1-8l-1-30l1-14l-3-62l1-6l0-16l0-10l6-18l17-30l12-12l12-5l16-12l32-11l14-3z"/><path fill="#ffb900" d="M516 1891l8 1l2-2l10 0l2 2l8 0l2 2l8 1l2 2l10 0l2 2l6 0l6 4l2 0l4 4l6 1l4 5l6 2l4 3l7 2l9 7l12 5l12 12l12 16l19 18l2 10l4 6l0 4l4 6l0 4l2 2l-1 4l2 2l0 12l2 14l6 12l-5 14l-1 16l-3 4l-2 8l-3 4l-2 6l-4 4l0 2l-14 2l-2 2l-10 0l-2-2l-6 0l-2-2l-12 1l-8-3l-4 4l-2 0l-4 4l0 6l-6 4l-20 24l0 6l-2 2l0 8l-2 2l0 6l-2 2l0 8l-2 2l-1 6l-2 2l0 4l-4 6l-3 10l-8 10l-4 1l-6 7l-4 1l-2 2l-6 0l-2 2l-4-1l-6 0l-32-7l-20-14l-16-15l-5-8l-3-10l-3-4l-2-6l-8-14l0-2l-2-2l0-10l-2-2l-1-8l-2-2l0-20l-2-2l2-10l0-16l3-12l-2-42l1-12l-5-18l1-4l-2-16l2-2l0-18l2-2l1-6l6-12l4-4l6-14l5-5l2 0l4-4l10-2l16-12l30-10z"/><path fill="#ff6c00" d="M528 1909l12 1l18 5l26 13l20 18l8 3l12 1l9 6l21 20l8 10l9 14l1 4l0 10l-5 16l0 4l0 2l-7 4l0 4l4 4l6-1l2 1l5 30l-2 8l-7 8l-8 2l-22 1l-8 3l-9 6l-11 11l-8 4l-22 27l-5 16l-28 28l-5 14l-6 2l-26-5l-6-7l-16-4l-5-6l-8-34l-9-15l-7-15l-5-22l-1-8l2-22l-3-30l2-18l-3-14l0-10l-1-8l2-20l3-10l10-14l7-12l8-6l26-14l22-5z"/><path fill="#ff1e00" d="M542 1931l8 0l4 3l6 2l4 4l10 4l2 4l7 16l-1 14l4 19l2 3l4-1l11-13l9-2l2-4l4-1l6-1l4 1l4 3l4 1l2 3l6 1l6 12l4 3l-10 10l-2 0l-6 5l-4 1l-6 3l-6 7l12 16l6 18l4 6l-14 0l-6 4l-4 10l-11 12l-11 21l-10 10l-14 11l-4 7l-1 7l-2 2l0 2l-5 1l-2 1l-20-4l-11-6l-17-4l-10-12l-2-4l-1-10l3-15l-5-5l-11-3l2-11l-1-12l-3-8l-5-4l-1-4l-1-14l-3-2l0-2l1-36l1-7l3-7l11-8l24-31l16-13l14-3z"/><path fill="#ad0000" d="M518 2075l2 1l2 4l1 10l-1 10l-2 4l-2 0l-3-4l-2-10l2-10l3-5z"/><path fill="#800000" d="M518 2084l2 6l-2 5l-2-5l2-6z"/></g>
<g transform="scale(0.5)" stroke="#000" stroke-width="3.7" fill-rule="evenodd" stroke-linejoin="round"><path fill="#000080" d="M1509 1738l8 0l-2 2l2 2l6-2l-2 2l2 2l10 0l2 2l2-4l2 0l2 2l-4 2l2 2l4-2l-2-2l2 0l4 4l4 0l4-2l-2 2l2 2l2 0l2-2l-2-2l2 0l4 2l2 4l2 0l2-2l-2-2l2 0l10 10l6-4l2 4l2-2l2 2l4 0l2 2l-2 2l2 2l4-4l4 4l6 0l2 4l4-4l2 0l2 2l6 0l-2 2l2 2l4 0l2-2l6 2l2-2l2 2l14 2l8 4l4 4l4 0l4 2l-2 2l2 2l6 0l-2 2l4 4l4-4l2 2l-2 2l2 2l6-2l4 2l6 6l4 0l-2 4l2 2l4-2l2 2l-2 4l2 2l8 0l-2 4l6 6l2-2l-2-4l4 4l0 4l2 2l2-4l8 8l0 4l2 2l2-2l4 2l0 2l-4-2l-2 2l8 8l2-4l2 4l4 2l0 8l4 4l2-2l4 2l0 2l4 4l0 8l2 2l2-4l8 10l-2 4l0 4l2 2l4-2l-2 2l2 2l2-2l-2 6l2 2l2-2l0 4l2 2l2-2l0 6l2 2l2-2l0 2l4 4l0 4l-2-2l-2 4l2 2l2-4l4 6l0 2l-2-2l-2 2l2 2l-2 2l4 4l2-2l2 2l0 4l6 12l0 14l4 4l2-2l-2 6l6 8l0 8l2 2l0 4l-2-2l-2 4l2 2l2-2l2 4l0 10l-2 2l0 6l2 2l4 0l0 6l-4 2l4 2l0 6l2 2l0 2l-4 2l0 4l4 2l-4 8l2 2l2-2l0 4l2 2l0 2l-4 4l0 2l4 4l-2 0l-2 4l2 2l2-2l0 6l2 2l0 4l-4 2l2 2l-4 4l0 4l4 4l0 4l-2-2l-2 2l4 4l0 2l-2 4l-2-2l-2 2l2 2l2-2l0 4l-4 6l2 4l2-2l0 6l-2 2l0 4l-4 2l2 2l-2 4l2 2l2-2l0 2l-2 2l0 4l-2-2l-2 2l2 2l2-2l0 6l-2 2l0 6l-4 0l-2 2l4 8l0 4l-2 2l0 8l-4 4l2 6l-2-2l-4 4l0 4l4 2l-2 2l-2-2l-2 2l4 4l0 2l-4 2l2 2l0 4l-4 0l-4 8l0 2l4 4l-2 2l-2-2l-2 2l0 4l2 2l2-2l-2 4l0 6l-2 2l0 4l-2 2l-2 10l-2 2l-2-2l-4 4l4 4l-2 4l-2-4l-2 2l0 6l2 2l-4 0l-4 6l4 2l0 4l-4 6l0 4l-4 2l2 2l-2 4l-4 4l-4 0l-4 4l2 4l-2 4l-8 8l0 2l-4 2l-2 6l-12 14l-2-2l-6 6l-2 4l-2 0l-8 6l-2-4l-4 4l2 2l-4 2l-2 4l-4 0l-6 6l-6-2l-2 2l2 2l-4 0l-2 2l2 4l-6-2l-2 4l-4 2l0 2l-4 0l-2-4l-4 4l-2 0l-4 4l0 2l-6 0l-2 2l-2-4l-6 6l0 2l-6 2l2-2l-4-2l-2 2l2 2l-2 0l-4 4l-6 0l-2 2l0-2l-4-2l-4 4l-4 0l-2 2l-4-4l-2 0l-6 6l-2-2l-4 2l-8 0l-4-2l-2 4l-4 0l-2 2l-12 0l-2-2l-2 2l2 2l-4-2l-4 2l-2-4l-4 2l2 2l-12 0l2-2l-2-2l-2 2l2 2l-8 0l2-2l-2-2l-2 2l2 2l-6 0l2-2l-2-2l-4 2l2 2l-6 0l-2-4l-8 0l-4 4l-4 0l-2-4l-2 4l-2 0l-2-4l-6-4l-2 4l-2-2l-4 2l-2-2l2-2l-2-2l-4 2l2 2l-4 0l-2-2l2-2l-2-2l-4 0l-2 2l-2-2l-4 2l-2-4l-6 2l2-2l-2-2l-4 2l-6 0l-2-4l-6 2l-2-2l2-2l-2-2l-6 2l2-4l-2-2l-8-4l-4 0l-2 2l-6-8l-8-4l-2 2l4 4l-2 0l-4-2l-2-4l-6 0l2-2l-2-4l-6 0l-2 2l-2-2l2-2l-4-4l-2 2l4 4l-2 0l-14-12l-12-6l-4-4l2-2l-2-4l-2 4l-2 0l-4-6l-4 0l-4-2l-2-4l-12-10l4 2l2-2l-10-10l-2 4l-4-4l0-2l-12-12l2-2l-2-6l-4-4l-2 4l-2-2l0-6l-4-4l-2 0l-10-12l-2-4l0-4l2-2l-6-6l2-2l-6-6l0-4l-6-8l-4 0l-4-4l0-6l-6-6l-4-8l0-2l2 2l2-4l-4-4l-2 2l0-2l-6-8l0-4l-4-4l-4-8l0-4l-2-2l4-6l-6-8l-2 2l0-4l-2-2l2-2l0-4l-2-2l-2 2l2-4l-4-4l0-2l2 2l2-4l-6-8l0-6l-4-4l0-2l-4-2l-4-8l-2 2l-4-2l0-2l-4-4l0-8l-2-2l2-2l-2-6l4-2l-2-4l-2 2l0-8l2 0l4-4l4 2l2-4l2 2l4-4l0-4l2-2l2 2l4-2l0-2l-4-2l0-6l2 2l2-2l-4-6l6-8l0-2l-4-2l2-2l0-8l2-2l-2-4l2 2l4-4l-2-4l-2 2l0-10l2-2l0-4l4-2l-4-2l2-2l2 2l2-2l-2-4l-2 2l0-8l4-4l-2-2l0-4l2-2l0-6l2-2l-2-2l2-2l0-6l2-2l2-10l4-2l4-8l-2-2l0-4l4-2l-2-2l2 0l4-6l-2-4l2 0l4-6l0-4l-2-2l2-4l-2-2l6-8l0-2l4-2l0-4l2 2l2-2l-2-4l4-4l0-2l4-4l4-8l2 2l4-2l-4-2l0-2l4 0l2-2l-2-4l4-4l4-8l4 2l4-4l0-8l20-22l2 2l2-2l0-4l4-4l2 2l2-2l0-6l4-2l4-4l0-2l4-2l2 2l4 0l2-2l-2-4l2-2l4 2l2-2l-2-2l4-4l2 2l6-2l2-2l-2-2l18-14l10 0l2-2l-2-4l4 0l6-4l10-2l6-4l2 0l2 4l2-2l0-4l4 0l12-6l0 2l4 2l2-2l0-4l4-2l2 4l6-4l2 2l6-4l4 2l2-2l10 0l4 4l4 0l4-4l6 0l-2 2l2 2l4-2l4 2l2-2l6 0l2-2l-2-2l2 0zM1423 1752l2 2l2-2l-2-2l-2 2zM1639 1772l2 2l2-2l-2-2l-2 2zM1655 1776l2 2l2-2l-2-2l-2 2zM1659 1778l2 2l2-2l-2-2l-2 2zM1363 1780l2 2l2-2l-2-2l-2 2zM1303 1830l2 2l2-2l-2-2l-2 2zM1781 1880l2 2l2-2l-2-2l-2 2zM1829 1990l2 2l2-2l-2-2l-2 2zM1841 2086l2 2l2-2l-2-2l-2 2zM1837 2138l2 2l2-2l-2-2l-2 2zM1231 2224l2 2l2-2l-2-2l-2 2zM1241 2244l2 2l2-2l-2-2l-2 2zM1243 2248l2 2l2-2l-2-2l-2 2zM1811 2262l2 2l2-2l-2-2l-2 2zM1809 2268l2 2l2-2l-2-2l-2 2zM1301 2336l4 4l2-2l-4-4l-2 2zM1751 2372l2 2l2-2l-2-2l-2 2zM1737 2382l2 2l2-2l-2-2l-2 2zM1711 2400l2 2l2-2l-2-2l-2 2zM1813 1926l0 2l-2 0l2-2zM1827 1962l2 4l-2-4zM1211 2038l-2 4l2-4zM1197 2092l-2 2l0-2l2 0zM1201 2150l0 2l-2-2l2 0zM1255 2270l0 2l-2-2l2 0zM1263 2282l2 2l-2 2l-2-4l2 0zM1315 2352l0 2l-2-2l2 0zM1405 2414l2 2l-2 0l-2-2l2 0z"/><path fill="#000080" d="M1509 1738l7 0l-1 2l2 2l5-2l-1 2l2 2l10 0l2 2l2-4l2 0l1 2l-3 2l2 2l4-2l-2-2l2 0l4 4l4 0l4-2l-2 2l2 2l2 0l2-2l-2-2l2 0l4 2l2 4l2 0l2-2l-2-2l2 0l10 10l6-4l2 4l2-2l2 2l4 0l2 2l-2 2l2 2l4-4l4 4l6 0l2 4l4-4l2 0l2 2l6 0l-2 2l2 2l4 0l2-2l6 2l2-2l2 2l14 2l8 4l4 4l8 2l-2 2l2 2l6 0l-2 2l4 4l4-4l2 2l-2 2l2 2l6-2l4 2l6 6l4 0l-2 4l2 2l4-2l2 2l-2 4l2 2l8 0l-2 4l6 6l2-2l-2-4l4 4l0 4l2 2l2-4l8 8l0 4l2 2l2-2l4 2l0 2l-4-2l-2 2l8 8l2-4l2 4l4 2l0 8l4 4l2-2l4 2l0 2l4 4l0 8l2 2l2-4l8 10l-2 4l0 4l2 2l4-2l-2 2l2 2l2-2l-2 6l2 2l2-2l0 4l2 2l2-2l0 6l2 2l2-2l0 2l4 4l0 4l-2-2l-2 4l2 2l2-4l2 2l2 6l-2-2l-2 2l2 2l-2 2l4 4l2-2l2 2l0 4l6 12l0 14l4 4l2-2l-2 6l5 8l0 8l2 4l0 1l-1-1l-2 2l0 2l2 2l2-2l2 6l0 8l-2 2l0 6l2 2l4 0l0 6l-4 2l4 2l0 6l2 2l0 2l-4 2l0 4l4 2l-4 8l2 2l2-2l0 4l2 2l0 2l-4 4l0 2l4 4l-4 2l0 2l2 2l2-2l0 6l2 2l0 4l-4 2l2 2l-4 4l0 4l4 4l0 4l-2-2l-2 2l4 4l-2 5l-2-1l-2 2l2 2l2-2l0 4l-4 6l2 4l2-2l0 4l-2 4l-1 4l-3 2l2 2l-2 4l2 2l1-2l-1 7l-2-1l-2 2l2 2l2-2l0 6l-2 2l0 6l-4 0l-2 2l4 7l0 5l-2 2l0 8l-4 4l2 6l-2-2l-4 4l0 4l4 2l-2 2l-2-2l-2 2l4 3l-1 3l-3 2l2 1l-1 5l-3 0l-2 2l0 4l-2 2l0 2l4 3l-2 3l-2-2l-2 2l0 4l2 2l2-2l-2 4l-1 6l-3 8l-3 10l-1 1l-2-1l-4 4l4 3l-1 3l-1 1l-2-3l-2 2l0 6l1 2l-3 0l-4 6l3 2l0 2l-5 12l-2 2l1 1l-3 5l-10 8l1 3l-2 5l-7 7l-1 3l-3 2l-2 6l-12 14l-2-2l-6 6l-2 4l-2 0l-8 6l-2-4l-4 4l2 2l-4 2l-2 4l-4 0l-6 6l-6-2l-2 2l2 2l-4 0l-2 2l2 4l-6-2l-2 4l-4 2l0 2l-4 0l-2-4l-4 4l-2 0l-4 4l0 2l-6 0l-2 2l-2-4l-6 6l0 2l-6 1l2-1l-4-2l-2 2l2 2l-2 0l-4 3l-6 0l-2 2l-2-3l-2 0l-4 3l-4 0l-3 2l-3-3l-2 0l-7 5l-3-1l-2 1l-8 1l-4-2l-2 4l-4 0l-2 2l-12 0l-2-2l-2 2l2 2l-4-2l-4 2l-2-4l-4 2l2 2l-12 0l2-2l-2-2l-2 2l2 2l-8 0l2-2l-2-2l-2 2l2 2l-6 0l2-2l-2-2l-4 2l2 2l-6 0l-2-4l-8 0l-4 4l-4 0l-2-4l-2 4l-2 0l-2-4l-6-4l-2 3l-2-1l-4 1l-2-2l2-1l-2-2l-4 2l2 1l-4 0l-2-2l2-1l-2-2l-4 0l-2 2l-2-2l-4 2l-2-4l-6 2l2-2l-2-2l-4 2l-6 0l-2-4l-6 2l-2-2l2-2l-2-2l-6 2l2-4l-2-2l-8-4l-4 0l-2 2l-6-8l-8-4l-2 2l4 4l-2 0l-4-2l-2-4l-6 0l2-2l-2-4l-6 0l-2 2l-2-2l2-2l-4-4l-2 2l4 4l-2 0l-14-12l-12-6l-4-4l2-4l-2-2l-2 4l-2 0l-4-6l-4 0l-4-2l-2-4l-12-10l4 2l2-2l-10-10l-2 4l-4-4l0-2l-12-12l2-2l-2-6l-4-4l-2 4l-2-2l0-6l-4-4l-2 0l-10-12l-2-4l0-4l2-2l-6-6l2-2l-6-6l0-4l-6-8l-4 0l-4-4l0-6l-6-6l-4-8l0-2l2 2l2-4l-4-4l-2 2l0-2l-4-4l-2-8l-3-4l-7-15l4-5l-6-8l-2 1l0-3l-2-3l2-1l0-4l-2-2l-1 1l1-3l-3-4l0-2l1 2l2-2l0-2l-6-8l0-6l-4-4l0-2l-4-2l-4-8l-2 2l-4-2l0-3l-4-3l0-8l-2-2l2-4l-2-4l2 0l2-4l-2-2l-2 2l0-8l2 0l4-4l4 2l2-4l2 2l4-4l0-4l2-2l4 2l2-2l0-2l-4-2l0-6l2 2l2-2l-4-6l6-8l0-2l-4-2l2-2l0-8l2-2l-2-4l2 2l4-4l-2-4l-2 2l0-10l2-2l0-4l4-2l-4-2l2-2l2 2l2-2l-2-4l-2 2l0-8l4-4l-2-2l0-4l2-2l0-6l2-2l-2-2l2-2l0-6l2-2l2-10l4-2l4-8l-2-2l0-4l4-2l-2-2l2 0l4-6l-2-4l2 0l4-6l0-4l-2-2l2-4l-2-2l6-8l0-2l4-2l0-4l2 2l2-2l-2-4l4-4l0-2l4-4l4-8l2 2l4-2l-4-2l0-2l4 0l2-2l-2-4l4-4l4-8l4 2l4-4l0-8l20-22l2 2l2-2l0-4l4-4l2 2l2-2l0-6l4-2l4-4l0-2l4-2l2 2l4 0l2-2l-2-4l2-2l4 2l2-2l-2-2l4-4l2 2l6-2l2-2l-2-2l18-14l10 0l2-2l-2-4l4 0l6-4l10-2l6-4l2 0l2 4l2-2l0-4l4 0l12-6l2 4l2 0l2-2l0-4l4-2l2 4l6-4l2 2l6-4l4 2l2-2l10 0l4 4l4 0l4-4l6 0l-2 2l2 2l4-2l4 2l2-2l6 0l2-2l-2-2l2 0zM1423 1752l2 2l2-2l-2-2l-2 2zM1639 1772l2 2l2-2l-2-2l-2 2zM1655 1776l2 2l2-2l-2-2l-2 2zM1659 1778l2 2l2-2l-2-2l-2 2zM1363 1780l2 2l2-2l-2-2l-2 2zM1303 1830l2 2l2-2l-2-2l-2 2zM1781 1880l2 2l2-2l-2-2l-2 2zM1829 1990l2 2l2-2l-2-2l-2 2zM1841 2086l2 2l2-2l-2-2l-2 2zM1837 2138l2 2l2-2l-2-2l-2 2zM1231 2224l2 2l2-2l-2-2l-2 2zM1241 2244l2 2l2-2l-2-2l-2 2zM1243 2248l2 2l2-2l-2-2l-2 2zM1811 2262l2 2l2-2l-2-2l-2 2zM1809 2268l2 2l2-2l-2-2l-2 2zM1301 2336l4 4l2-2l-4-4l-2 2zM1751 2372l2 2l2-2l-2-2l-2 2zM1737 2382l2 2l2-2l-2-2l-2 2zM1711 2400l2 2l2-2l-2-2l-2 2zM1813 1926l0 2l-2 0l2-2zM1827 1962l2 4l-2-4zM1211 2038l-2 4l2-4zM1197 2092l-2 2l2-2zM1255 2270l0 2l-2-2l2 0zM1263 2282l2 2l-2 2l-2-4l2 0zM1315 2352l0 2l-2-2l2 0zM1405 2414l2 2l-2 0l-2-2l2 0z"/><path fill="#000080" d="M1457 1741l18 0l2 3l4 0l2-2l6 0l4 2l2-2l4 2l1-2l7 0l1-2l7 0l8 4l10 0l2 2l2-2l2 4l6-2l2 2l6 0l2 2l3-1l5 1l2 2l3-2l5 2l6 6l2-2l2 0l6 3l4 1l4 4l2-2l4 2l6 0l4 4l2-2l4 0l6 2l2 2l12-1l1 1l-1 2l2 2l2-3l6 1l6 2l1 0l-1 2l2 2l2-2l1 0l-1 2l2 2l2-2l16 8l6 6l2-2l4 4l4 0l12 6l2 1l0 3l2 2l1-2l4 4l-1 2l2 2l5 0l2 2l-1 2l6 6l1-2l5 6l1-2l11 12l1-1l0 1l-1 2l8 8l1-2l4 4l3 5l0 3l4 4l1-2l1 2l2 4l6 5l0 5l2 2l1-2l3 4l-2 2l2 2l1-2l3 4l0 6l2 2l1-2l1 1l2 2l0 5l2 2l1-2l1 4l10 14l-2 2l0 2l2 2l1-2l1 2l1 2l-1 2l2 2l-2 2l6 6l8 19l0 9l4 3l0 5l2 2l2 14l-2 2l3 2l-1 4l4 6l1 8l-1 2l0 6l4 4l0 4l-2 2l2 2l0 6l2 4l-2 2l0 4l2 2l0 6l-2 2l2 2l2 6l-2 4l2 6l-2 4l2 1l0 5l-2 2l2 2l1-2l1 4l-2 2l1 1l-1 2l-2 3l2 10l-2 2l2 2l0 2l-4 6l2 1l0 7l-2 2l2 6l-4 2l2 1l-1 5l-1 2l1 2l-1 2l1 3l-1 5l-2 2l2 4l-2 4l0 6l-4 2l2 3l0 5l-2 6l0 6l-2 4l0 6l-4 4l0 4l2 2l-4 2l2 2l-2 10l-4 4l0 4l-2 2l2 4l-4 4l1 5l-1 7l-4 2l2 2l0 2l-4 2l2 2l-2 8l-6 6l2 1l0 3l-4 2l-1 8l-3 2l-2 4l2 1l-1 3l-8 18l-9 10l-4 8l-6 6l-15 21l-1-1l-2 2l1 1l0 1l-1 0l-10 8l-2-2l-2 2l1 1l-1 1l-5 3l-1-1l-8 8l-8 6l-2-2l-3 5l-3-1l-2 2l0 2l-2 0l-2 4l-4 0l-8 6l-2 0l-2-2l-4 4l-2 0l-10 6l-4-2l-6 6l-5 1l-3-1l-2 2l1 1l-7 2l-7 2l-3-1l-2 1l-6 0l-5 2l-3-1l-8 3l-13 2l-3-1l-2 2l-4 0l-4 2l-12 0l-2 2l-6 0l-2-2l-2 0l-2 2l-9 0l-1-2l-2 2l-5 0l-1-2l-2 2l-3 0l-1-2l-2 0l-2 2l-4 0l-2-2l-8 0l-2 2l-6 0l-2-2l-2 2l-10-6l-2 1l-4 0l-4-3l-4 1l-4-3l-5 1l-7-1l-2-2l-4 0l-2-2l-8 0l-4-2l-4 0l-4-4l-3 0l-3-1l2-1l-2-2l-8-4l-6 0l-6-6l-8-4l-2 2l1 1l-1-1l-9-4l1-2l-2-2l-7 0l-5-6l-2 1l-3-1l-5-5l-16-11l-3-2l1-2l-2-2l-2 2l-21-14l-3-5l2-1l-10-10l-2 1l-1-1l-5-7l2-1l-4-4l-2 1l-5-5l1-2l-2-4l-4-4l-2 1l-2-2l0-3l-8-7l-10-18l2-1l-6-6l2-2l-6-6l0-4l-4-4l0-2l-2-2l-2 0l-4-6l-5-9l3-1l-2-2l-2 1l0-1l2-2l-2-2l-2 1l-2-4l2-3l-6-6l-2-5l2-1l-2-2l-2 1l-1-3l-7-14l0-4l-2-2l2-4l-6-8l-4-16l-2-2l2-4l-6-8l0-6l-4-4l0-2l-4-2l-2-6l-2-2l-2 1l-6-9l-2-16l2-2l0-2l-2-2l0-4l6-5l2 1l2-4l2 2l4-4l0-2l8-4l-2-4l0-4l2-2l-2-4l4-12l-2-4l1-4l0-9l5-3l0-2l-2-2l0-6l2-4l0-4l2-2l-2-2l4-2l0-2l-2-2l0-4l4-14l0-8l5-20l7-12l-2-2l1-4l3-2l-1-2l5-6l-2-4l4-2l2-4l0-4l-2-2l4-9l10-13l0-2l12-19l2 1l2-2l-2-2l4-4l0-2l8-13l2 1l4-4l0-5l13-13l3-5l2 1l2-2l-1-2l13-12l0-3l8-8l5-4l5 1l3-7l3 1l6-7l6-1l8-9l2 3l2-2l-1-2l9-6l3-2l5 0l2-2l-1-2l1-1l20-6l6-4l2 3l4-4l6-2l2 2l2-4l5-1l3 1l7-6l1 2l2-2l6 0l6-3zM1751 1837l-1-1l1 1zM1264 2283l0 1l0-1z"/><path fill="#000080" d="M1457 1743l46 1l4-2l10 0l4 2l16 2l2 2l8 0l14 4l6 0l8 3l4 3l4 0l20 8l36 6l2 2l1-1l7 1l8 4l1-1l3 3l1-1l23 13l1-1l21 11l10 10l2 0l10 10l6 4l12 11l12 13l2 4l21 25l-1 1l5 6l1 4l4 4l14 22l0 4l3 4l2 4l-1 2l3 4l15 38l0 6l3 11l-1 1l2 2l0 6l2 4l0 6l4 16l0 12l2 5l0 19l2 4l0 20l1 0l-1 2l2 4l-2 6l0 18l-2 4l0 18l-2 2l1 1l-1 1l0 12l-2 4l-2 18l-2 2l0 10l-4 14l0 8l-2 2l0 6l-2 2l1 0l-3 7l-2 13l-2 2l-4 20l-2 2l-4 16l-4 6l0 4l-17 38l-37 48l-8 6l-2 0l-18 13l-14 9l-6 5l-12 6l-4 1l-6 4l-10 4l-4 0l-6 3l-16 6l-31 5l-5 2l-20 2l-6 2l-8 0l-6 2l-62 0l-12-4l-54-12l-38-20l-1 1l-9-5l-2-2l-6-2l-10-6l-5-4l-15-11l-6-5l-2-1l-18-12l-47-53l-9-18l-6-7l2-1l-6-6l0-4l-12-16l-2-6l-2-1l2-1l-4-3l2-1l-6-5l2-3l-6-6l-2-4l2-2l-2-2l-2 1l0-3l-8-14l0-4l-2-2l2-4l-4-4l0-2l-2-2l-4-16l-2-2l2-4l-6-8l0-6l-4-4l0-2l-4-3l-2-5l-2-2l-2 1l-2-5l-4-4l0-8l-2-2l0-7l2-3l-2-4l10-10l2 2l4-6l2 0l6-4l-2-9l2-1l-2-4l2-2l0-7l2-1l-2-6l2-2l0-11l4-3l-2-4l0-6l2-2l0-7l2-1l-2-2l4-2l-2-8l2-2l0-8l2-2l0-10l2-2l0-6l2-2l4-16l4-6l-2-2l2 0l0-4l6-10l-2-4l4-2l2-4l0-4l-2-2l2 0l0-4l10-14l2-6l4-4l4-8l4-4l0-2l4-2l-2-2l4-2l8-14l6-6l0-2l30-32l2-4l12-12l6-2l8-8l14-8l5-6l1 2l16-12l12-6l26-8l5-3l1 1l18-8l8-1l6-2z"/><path fill="#000080" d="M1507 1742l10 0l4 2l6 0l4 2l26 4l4 2l6 0l34 14l8 0l4 2l6 0l4 2l6 0l4 2l6 0l16 4l52 26l24 22l4 2l23 24l2 4l16 18l28 44l22 56l2 16l6 24l0 6l2 4l0 14l2 4l0 20l2 4l0 20l2 4l0 4l-2 4l0 18l-2 4l0 18l-2 4l0 12l-2 4l-2 18l-2 4l-2 18l-2 4l0 8l-20 70l-21 48l-36 46l-44 30l-4 4l-22 10l-38 14l-56 9l-4 1l-10 1l-4 1l-62 0l-64-16l-62-30l-30-22l-16-10l-21-20l-2-4l-25-26l-19-31l1-1l-5-6l-1-4l-11-16l-3-6l-1-1l1-1l-3-3l1-1l-5-5l1-3l-7-10l1-2l-2-2l-1 0l0-2l-8-14l0-4l-2-2l1-4l-3-3l0-3l-2-2l-4-16l-2-2l1-4l-5-8l-1-6l-19-24l0-8l-2-2l1-10l-1-4l6-6l4-3l1 1l4-5l2-1l6-4l-1-14l2-2l0-7l1-1l-1-6l2-2l0-11l3-3l-1-10l2-2l0-7l1-1l-1-1l3-3l-1-8l2-2l0-8l2-2l0-10l2-2l0-6l2-2l0-4l2-2l0-4l2-2l0-4l3-6l-1-1l2-1l0-4l5-10l-1-3l5-7l-1-5l2-1l0-4l10-14l2-6l12-16l0-2l3-2l-1-1l3-3l14-22l14-14l2-4l26-28l52-36l30-12l26-8l6-4l8 0l6-2l46 0l4-2z"/><path fill="#000080" d="M1507 1743l10 0l2 2l8 0l2 2l28 4l2 2l8 0l34 14l8 0l2 2l8 0l2 2l8 0l2 2l8 0l2 2l8 0l6 2l52 26l24 22l4 2l23 23l2 4l15 18l29 44l21 56l3 16l5 24l1 6l2 4l0 14l2 4l0 20l1 4l1 20l2 4l0 4l-2 4l-1 18l-1 4l-1 18l-2 4l0 12l-2 4l-2 18l-1 4l-3 18l-1 2l-1 10l-1 2l-1 6l-3 8l-3 14l-3 8l-3 14l-6 18l-20 47l-36 46l-50 35l-58 23l-30 4l-4 2l-22 2l-4 2l-10 0l-4 2l-62 0l-20-6l-44-10l-61-29l-31-23l-16-9l-20-20l-2-4l-25-26l-20-34l-4-4l-8-16l-4-4l-6-14l-4-4l1-2l-7-10l1-2l-3-2l0-2l-8-14l0-4l-2-2l1-4l-3-3l-2-9l-2-2l0-4l-2-2l0-4l-2-2l1-4l-2-2l-4-12l-19-24l0-8l-2-2l0-14l6-6l5-2l4-5l2 0l6-5l-1-14l2-2l0-14l2-2l0-12l3-2l-1-10l2-2l0-9l3-3l-1-8l2-2l0-8l2-2l0-10l2-2l0-6l2-2l4-16l2-2l0-5l2-1l0-4l5-10l-1-3l5-7l-1-5l2-1l0-4l10-14l2-6l12-16l0-2l6-6l13-21l15-15l1-3l26-28l52-36l14-6l10-3l6-3l10-3l6-3l10-2l6-4l8 0l6-2l46 0l4-2z"/><path fill="#000080" d="M1455 1746l50 0l4-2l6 0l4 2l7 0l3 1l7 1l3 1l8 1l2 1l7 1l3 1l8 1l12 5l4 1l6 3l10 3l2 1l8 1l2 1l7 1l3 1l8 1l2 1l8 1l2 1l8 1l2 1l4 1l52 26l40 36l28 32l0 2l8 10l2 6l8 10l2 6l8 10l0 4l4 6l0 4l4 6l0 4l4 6l0 4l4 6l0 4l6 12l2 18l2 2l0 8l2 2l0 8l2 2l0 8l2 2l0 14l2 6l0 18l2 4l0 20l2 4l0 4l-2 4l0 18l-2 2l0 20l-2 2l0 13l-2 3l0 10l-2 2l0 8l-2 2l-2 19l-2 3l0 9l-2 3l0 5l-4 9l-2 12l-4 10l-2 12l-6 18l-22 48l-35 46l-45 30l-4 4l-22 10l-14 4l-6 4l-4 0l-12 6l-6 0l-2 2l-12 0l-2 1l-10 1l-2 1l-12 1l-2 1l-10 1l-2 2l-12 0l-2 1l-62 0l-34-9l-6 0l-2-2l-6 0l-2-2l-14-2l-65-32l-27-20l-14-8l-48-50l-21-34l-3-4l-2-6l-4-4l-2-6l-4-4l-7-14l-3-4l0-2l-16-30l0-4l-2-2l0-4l-4-8l-8-28l-4-8l-4-4l0-2l-14-18l0-8l-2-2l0-14l22-18l0-14l2-2l0-14l1-2l1-12l2-2l0-10l2-2l0-9l2-1l0-10l2-2l0-8l2-2l0-10l2-2l0-6l1-2l3-10l3-8l1-5l1-1l1-4l4-8l0-5l4-7l2-10l10-14l6-12l8-10l0-2l6-6l4-8l8-10l0-3l16-15l0-3l26-28l52-36l8-2l6-4l10-2l6-4l10-2l6-3l10-3l6-3l10-1l2-1z"/><path fill="#000080" d="M1457 1749l46 1l10-2l52 9l34 14l54 10l50 25l30 23l12 13l9 10l3 5l22 29l21 32l22 56l4 26l6 24l4 60l2 6l-1 4l-1 16l-2 6l0 16l-2 6l-3 24l-6 26l-2 16l-15 54l-6 18l-21 44l-34 47l-52 34l-18 8l-44 15l-8 0l-58 10l-32 0l-26-1l-20-6l-44-8l-48-21l-18-10l-24-19l-21-13l-14-14l-5-6l-24-24l-5-6l-21-38l-9-12l-15-28l-11-24l-16-46l-22-32l-2-10l1-12l17-12l5-6l-1-12l2-4l0-12l2-6l0-8l10-48l0-8l21-62l4-10l41-62l41-44l46-32l20-10l26-8l22-9l8 0l4-2z"/><path fill="#0000bb" d="M1459 1753l44 1l10-2l50 9l36 14l52 10l50 25l30 23l12 12l7 9l12 18l15 18l19 30l21 54l0 8l11 44l0 12l2 6l0 18l1 6l1 16l1 6l-2 20l-3 8l0 14l-4 22l-2 16l-5 16l-1 18l-9 34l-12 36l-28 52l-26 36l-50 34l-46 18l-14 4l-68 10l-54-1l-20-6l-46-8l-50-23l-14-8l-44-30l-14-14l-4-6l-24-22l-5-6l-22-38l-11-16l-12-23l-11-23l-15-46l-6-10l-18-22l-1-8l-1-2l0-10l18-12l4-4l2-4l-1-12l2-30l9-38l4-26l6-20l15-40l9-12l6-12l9-10l19-30l40-43l53-35l59-22l14-3z"/><path fill="#0008ff" d="M1459 1762l22-1l14 2l18-1l18 1l36 7l30 13l20 5l32 5l50 25l30 25l14 17l10 18l26 34l8 13l6 17l10 42l6 14l0 16l6 14l-1 10l2 8l-1 14l3 22l2 8l0 12l-11 34l-2 30l-4 18l-2 28l-3 8l-3 14l-6 20l-5 10l-1 7l-4 9l-14 20l-4 9l-17 19l-7 13l-6 6l-6 11l-4 4l-36 25l-22 7l-10 1l-14 9l-26 7l-52 7l-29-2l-7-3l-4 3l-10 0l-38-9l-18-2l-8-2l-54-22l-48-33l-16-15l-6-7l-22-21l-12-15l-12-22l-3-8l-11-13l-14-25l-11-28l-9-30l-12-20l-16-22l-2-8l1-4l15-9l4-5l3-6l-1-30l1-14l5-18l2-18l2-4l0-14l2-2l0-16l2-2l1-12l11-22l0-4l6-12l9-14l0-4l4-8l12-12l0-2l37-42l2 0l11-10l9-11l14-10l40-25l56-21l12-1z"/><path fill="#005cff" d="M1523 1779l8-1l4 2l20 1l14 3l16 5l8 1l2 2l10 3l18 10l4 0l14 6l6 0l8 2l22 12l6 7l15 8l13 20l2 0l13 14l0 2l5 4l0 2l5 6l0 2l5 6l1 2l22 24l4 8l4 10l0 6l7 26l8 16l0 4l2 2l0 10l3 2l-1 10l2 2l0 10l1 2l0 10l2 4l0 6l2 12l3 3l1 17l-2 2l1 12l-2 14l-2 4l-2 12l-2 2l-4 12l-1 10l-3 8l0 6l-4 16l0 4l-2 2l1 4l-2 2l0 4l-2 2l0 4l-2 2l0 4l-2 2l-1 10l-4 8l-9 10l-2 6l-4 4l-3 6l-4 4l-6 12l-4 4l-4 8l-15 12l-9 10l-2 0l-8 9l-2 0l-24 21l-4 1l-4 0l-12 3l-8 4l-10 2l-6 4l-4 0l-2 2l-4 1l-2 2l-3 1l-5 8l-3 12l-3 2l-4-1l-18-15l-26-1l-2 2l-12 1l-14 4l-8-2l-20 0l-10-6l-6-1l-2-2l-10 2l-4-2l-12 1l-2-2l-8-1l-18-8l-18-10l-12-4l-4 1l-2-2l-4 0l-20-11l-12-11l-4-2l-30-24l-5-6l-11-10l-2-5l-10-7l0-2l-12-12l0-2l-6-6l-22-44l-2-10l-6-12l-4-14l-2-2l0-6l-2-2l-4-8l0-14l-2-2l1-6l-2-2l2-18l-3-30l0-16l1-18l2-2l0-16l2-2l0-16l2-2l0-16l2-2l1-12l11-22l0-4l15-26l0-4l4-8l12-12l0-2l13-14l0-2l16-16l1-2l6-7l2 0l22-17l24-16l2 0l4-4l8-4l10-2l2-2l14-2l8-3l14-3l2-2l4 0l2-2l6-1l2-1l12 0l2-2l68-1z"/><path fill="#00b0ff" d="M1525 1789l26 2l26 7l84 33l8 5l20 18l21 24l21 28l10 10l11 14l11 26l2 12l10 32l3 44l10 32l1 14l-2 13l-17 51l-4 30l-12 36l-18 26l-9 10l-9 16l-8 8l-27 19l-18 15l-20 9l-12 3l-30 11l-10 2l-52 3l-14 2l-4 1l-22 1l-20-5l-38-5l-18-8l-12-7l-16-5l-22-10l-28-18l-21-16l-17-21l-10-7l-9-10l-17-22l-26-66l-5-24l2-28l-9-46l3-22l0-12l3-36l3-14l3-9l18-30l13-25l15-18l10-14l22-22l24-18l16-8l12-8l16-5l34-7l18-7l14-3l46 1l20-2z"/><path fill="#19ffde" d="M1531 1802l6-1l4 2l6 0l12 5l6 0l2 2l6 0l2 2l8 1l2 2l14 2l6 4l52 22l10 8l32 36l2 0l6 7l0 2l5 4l0 2l8 10l0 2l20 22l4 8l7 22l3 20l5 18l1 18l2 2l0 8l1 2l1 6l2 2l-1 8l2 2l0 8l2 2l2 6l2 2l-1 6l2 20l-5 22l-3 2l-4 8l-4 16l-5 10l-1 12l1 12l-2 2l0 6l-2 2l0 4l-2 2l-2 10l-4 6l0 2l-4 4l1 2l-7 6l-4 8l-14 16l-1 4l-5 6l0 2l-8 8l-2 0l-4 4l-2 0l-10 8l-6 2l-4 4l-2 0l-4 5l-8 4l-12 9l-6 2l-18 4l-2 2l-8 2l-4-1l-2 2l-4 0l-2 2l-6 1l-8 4l-10 0l-2 1l-12 0l-2 1l-24-2l-4 2l-10 1l-4 3l-4 0l-10 2l-2-2l-12 1l-4-2l-22-2l-4-2l-10 0l-18-7l-2-2l-4-1l-2-2l-4-1l-2-2l-10-2l-2-2l-34-14l-4-4l-2 0l-4-4l-2 0l-4-4l-2 0l-4-4l-6-2l-3-4l-11-8l-11-14l-11-8l0-2l-11-10l0-2l-12-12l-3-8l-6-10l-1-4l-5-10l0-4l-5-10l0-4l-4-6l-1-6l-2-2l0-12l-2-2l1-14l-2-2l0-28l-3-12l-4-28l1-4l1-12l0-26l2-4l1-18l3-20l8-16l8-10l6-12l13-26l4-4l0-2l49-50l2 0l8-6l22-10l4-4l14-6l6-4l4 0l2-2l8 0l2-2l6 0l2-2l8 1l2-2l8 0l2-2l6-1l2-2l8 0l2-2l70 0z"/><path fill="#60ff97" d="M1465 1811l68 1l14 4l32 7l16 5l20 9l34 17l10 10l8 11l16 14l11 13l21 32l3 10l8 8l9 20l1 12l4 18l1 22l3 8l1 8l-2 18l5 12l3 18l-14 30l-4 20l-5 14l-1 16l-7 18l-2 12l-9 10l-6 10l-8 8l-6 12l-14 17l-8 7l-16 9l-12 11l-8 5l-18 6l-12 2l-24 9l-10 2l-12-2l-24-1l-22 6l-14 0l-30-4l-10 1l-20-4l-45-20l-29-16l-24-16l-7-6l-5-8l-17-14l-6-8l-9-8l-7-12l-6-14l-5-22l-6-14l-2-16l2-10l-2-16l-9-48l2-6l0-36l1-4l0-18l8-30l33-60l12-16l31-30l6-4l36-19l16-6l62-14zM1674 2216l-5 2l-1 4l2 2l7 2l6-1l1-1l0-4l-5-4l-5 0z"/><path fill="#a4ff53" d="M1477 1822l36-1l12 2l18 5l34 7l16 6l32 19l14 10l10 14l14 12l12 8l13 14l2 4l4 18l10 24l8 14l7 24l0 22l-2 22l-5 14l3 28l-5 28l-8 28l-1 14l-8 26l-6 10l-8 8l-16 7l-6 7l-1 6l3 12l-2 4l-9 6l-14 12l-23 12l-13 4l-21 9l-38 3l-16 3l-36 5l-44-5l-12-3l-20-8l-20-13l-22-8l-18-11l-10-8l-8-10l-15-12l-13-16l-7-10l-14-40l-1-8l-1-24l-10-58l2-64l2-12l5-18l6-14l22-46l8-12l38-34l38-20l32-8l32-7l20-1z"/><path fill="#e7ff0f" d="M1485 1831l30 1l32 10l28 4l12 6l30 20l12 11l18 21l14 12l9 10l20 48l3 18l-3 42l-3 16l1 10l-3 10l1 8l-1 8l2 10l1 8l-8 24l-3 26l-1 6l-6 10l-7 16l-16 18l-7 16l-12 12l-9 5l-10 4l-21 13l-21 6l-6 2l-12 0l-30 8l-28 5l-30 0l-14-2l-16-3l-20-12l-14-10l-24-6l-26-18l-20-20l-9-12l-13-24l-2-10l-6-14l1-14l-8-38l-4-36l2-32l-1-26l5-26l6-22l21-46l6-9l13-11l27-22l16-10l16-6l30-7l12-1l46-7z"/><path fill="#ffb900" d="M1471 1843l40-1l2 2l6 0l2 1l6 1l8 4l14 2l8 4l14 2l10 4l10 7l12 11l12 7l22 29l10 10l8 10l2 8l6 9l3 15l3 2l5 16l-3 47l-2 11l0 8l-3 10l0 14l-1 4l1 10l-2 2l0 4l-5 10l0 4l-9 24l-6 6l1 4l-3 2l1 4l-4 12l-5 6l0 2l-4 4l-2 6l-4 4l-2 8l-5 8l-16 19l-4 1l-16 13l-8 4l-16 4l-6 3l-4 1l-14 6l-10 1l-4 3l-16 2l-12 0l-10 2l-4-1l-26 0l-16-3l-14-9l-4-1l-16-9l-4 0l-6-4l-8-1l-4-3l-10-5l-22-19l-10-6l-4-6l-4-14l-9-16l-3-12l-2-2l0-4l-2-2l1-8l-2-2l-1-8l-2-2l0-8l-2-2l0-6l-2-2l0-8l-2-2l-4-40l3-26l-1-28l2-2l-1-12l2-14l2-2l0-16l6-10l0-4l8-14l0-4l6-10l0-4l5-8l54-42l6 0l8-4l6 0l2-2l6 0l8-3l6 0l2-2l6 0l2-1l20 0l14-3z"/><path fill="#ff6c00" d="M1479 1853l24-1l2 2l6 0l2 1l6 0l6 2l2 3l6 0l2 3l6 0l2 2l6 0l2 1l6 0l4 4l10 3l20 14l10 11l3 2l0 2l13 13l0 3l5 6l0 2l4 4l0 2l9 12l0 8l2 2l1 10l3 2l3 10l1 22l-2 4l0 26l-2 2l-1 18l-2 2l0 10l-2 2l2 8l-1 14l-10 22l-3 2l-1 4l-10 6l-12 10l-4 6l-1 8l3 16l2 4l-3 6l0 4l-3 4l-6 15l-7 11l-11 11l-8 3l-10 6l-20 10l-36 6l-18-1l-4 2l-14-3l-18-1l-12-6l-6 0l-4-1l-10-9l-8-4l-4 0l-2-2l-12-2l-6-2l-5-3l-5-8l-17-16l-4-8l0-4l-7-10l-2-12l-3-8l-8-14l0-4l-3-2l0-7l-3-3l-6-26l0-6l-2-6l2-26l-2-2l2-28l-3-28l2-2l1-8l0-24l6-8l0-2l9-14l2-6l10-14l9-8l9-5l4-7l2-1l6-7l2 0l12-10l14-4l2-2l4 0l8-4l10-1l2-2l4 0l2-1l16 2l22-2l8-5zM1508 2126l-1 4l3 2l5 0l3-2l1-2l-2-3l-4-1l-5 2z"/><path fill="#ff1e00" d="M1481 1871l12-1l2 2l8 0l2 2l8 1l12 9l12 1l8 7l6 1l14 0l6 4l4-1l2 2l2 0l32 32l1 8l2 2l0 6l2 2l0 6l2 2l0 4l2 2l0 6l2 2l0 8l-2 2l0 10l-2 2l0 12l-2 2l-1 7l-4 3l-4 8l2 14l-2 2l6 24l-2 12l-9 10l-3 5l-14 9l-12 13l-13 9l-8 16l0 8l-2 4l1 16l-2 4l1 8l-3 5l-6 4l-22 5l-8 5l-8 2l-6 0l-6-3l-8-10l-10-2l-15-6l-21-5l-2-2l-12 1l-2-2l-4 0l-2-2l-4 1l-8-7l-2 1l-6-7l-2 0l-4-4l-2 1l-6-6l-2 0l-6-7l0-4l-2-8l-4-6l-6-2l-1-2l-3-10l-2-4l-6-3l-13-17l-6-16l-1-6l4-17l4-2l10-11l1-4l0-12l-2-8l-13-19l-2-13l0-6l2-2l1-12l11-16l6-6l14-6l7-6l7-8l2-8l2-4l2 0l4-7l9-5l17-3l6-3l4 0l6-4l4 0l2-2l16 2l12-2l16-7zM1506 2118l-7 4l-4 6l2 6l6 4l10 2l8-1l7-3l5-6l-2-6l-6-5l-10-3l-9 2z"/><path fill="#ad0000" d="M1483 1896l10-1l12 5l20 15l31 15l7 8l16 12l2 24l-1 6l-6 14l0 10l-2 2l0 10l-2 2l0 6l-6 12l-2 2l-1 2l-2 0l-7 6l-11 3l-14-5l-28 2l-6 7l-14 5l-6 6l-19 12l-8 10l-7 15l-4-1l-12-6l-8 1l-4-3l-3-8l1-16l-11-20l1-14l-1-12l4-12l-1-2l8-12l10-8l6-8l16-9l2 1l6 14l10 5l14 2l9-3l5-4l0-6l-6-6l-8-3l-26-5l-2-2l2-6l7-14l2-14l6-8l4-10l5-7l7-7l5-2zM1545 2085l10-1l8 5l4 7l-1 4l-2 4l-7 4l-10 1l-8-1l-7-4l-2-4l2-6l5-6l8-3z"/></g>
<g transform="scale(0.5)" stroke="#000" stroke-width="3.7" fill-rule="evenodd" stroke-linejoin="round"><path fill="#000080" d="M2430 1736l0 2l-2-2l2 0zM2438 1736l10 0l-2 2l2 2l2 0l2-4l10 0l-2 2l2 2l2-2l-2-2l6 0l-2 2l8 4l4 0l2-2l-2-2l12 0l-2 2l2 2l2-2l-2-2l8 0l2 2l4-2l6 0l2 4l2-4l2 0l4 4l4 0l6 4l2-2l-2-2l10 0l4 2l-2 2l2 2l4-2l2 4l4-2l-2-2l6 0l2 2l-2 2l2 2l6 0l2-2l2 4l2-2l4 2l2-4l2 2l4 0l-2 2l2 2l2-2l-2-2l4 0l4 4l8 4l2-2l-2-4l4 4l20 10l2 2l-4 2l4 4l2 0l2-4l4 2l-2 4l4 4l2-2l-2-2l4 0l0 4l4 4l2-4l8 4l8 8l2 0l16 14l2 0l2 2l-2 4l2 2l2-2l2 2l4 0l4 4l-2 2l2 2l6 0l2 2l-4 2l4 4l2-4l10 10l2 4l-2 2l2 2l2-2l4 4l0 2l6 6l0 2l10 12l-4 2l4 4l4 0l0 4l-2 2l8 6l0 2l-2-2l-2 2l2 2l2-2l2 2l-2 4l0 4l2 4l4 2l-2 2l2 2l4 0l0 2l4 4l2 4l-2 6l2 2l4 0l-2 2l0 4l4 4l2 0l0 2l-2 0l-2 4l2 2l4-2l0 4l2 2l0 4l-2 2l0 6l8 6l0 4l2 2l0 6l-2 2l2 2l-2 2l2 2l0 4l8 6l0 2l-4 2l0 2l4 2l0 8l-2-2l-2 2l2 2l2-2l0 6l2 2l0 2l-2-2l-2 2l2 4l2-2l0 4l-4 2l0 6l4 2l0 4l-2-2l-2 4l2 2l2-4l2 2l0 6l-2-2l-2 2l0 4l2 2l2-2l0 12l-2-2l-2 2l0 6l4 2l-4 8l0 4l4 2l0 2l-4 2l0 2l4 2l0 12l-2-2l-2 2l2 4l-2 2l2 2l2-2l0 14l-4 4l2 2l0 6l-2 2l2 2l0 8l-6 4l0 2l4 4l-4 2l0 4l4 2l0 4l-2 2l2 4l-2 2l0 4l-4 2l0 4l-4 4l0 4l2 2l0 10l-2-2l-4 2l0 2l4 2l0 4l-2 2l0 6l-6 4l2 4l2-2l-2 4l0 6l-2 2l0 4l-6 8l0 2l-2-2l-2 2l-2 4l2 2l-2 0l-4 4l2 2l0 4l-4 4l-2-2l-2 2l2 2l-6 4l2 4l-2 0l-4 4l4 2l0 2l-2 2l-2-2l-2 2l2 4l-2 4l-6 4l0 4l-8 8l0 2l-4-2l-4 4l4 2l-2 2l-2-2l-4 2l0 8l-4 4l0 2l-6 4l0 2l-2-2l-2 2l2 4l-4-2l-2 2l2 4l-6 6l-2-4l-4 4l4 2l-4 2l-8 8l-2 0l-16 14l-4 0l-2-2l-2 2l2 4l-14 12l-2 0l0-2l-4-2l-2 2l2 4l-4 2l0-2l-4-2l-2 2l2 4l-8 4l-2 0l-2-4l-2 4l-8 6l-4-4l-8 6l-2-2l-2 2l2 4l-2 0l-2-4l-6 4l-4 0l-2 2l0 4l-4 0l2-2l-2-2l-2 0l-4 4l-2-2l-4 2l-6 0l-2 2l2 4l-6 0l-2 2l-4-2l-4 4l-2 0l4-4l-2-2l-4 4l2 2l-4 0l-2 2l-4-2l-4 4l-2 0l-2-4l-2 4l-6 0l-2-2l-6 2l-4-4l-4 4l-2 0l2-2l-2-2l-4 2l2 2l-6 0l-8-4l-4 0l-2 4l-8 0l-6-4l-4 4l-8 0l2-2l-2-2l-4 2l2 2l-4-2l-4 0l-2 2l-4-2l-2 2l-4-4l-4 2l-6-4l-2 2l-4-4l-6 0l-2 4l-4 0l-4-2l2-2l-2-2l-6 0l-2 2l2 2l-6 0l-4-4l-2 2l-4 0l2-2l-2-2l-2 0l-2 2l2 2l-2 0l-2-2l-4 0l-2-4l-4 4l-2-4l-4 2l-4-4l-4 0l2-2l-2-2l-2 2l-4 0l-4-2l2-4l-2-2l-4 0l-6-4l-4 2l2 2l-4 0l-8-4l-2-4l-4 2l-6-4l-4 0l-4-2l-4-4l2-2l-6-6l-2 0l-2-4l-2 0l-10-8l-2 4l-4-4l-2 0l-4-4l2-2l-2-4l-2 4l-2 0l-8-8l-2 0l-6-8l-4 0l-2-2l0-6l-2-2l-6 2l-2-2l2-2l-2-4l-2 4l-4-4l-2 0l-6-6l-2-4l-4 0l-2-2l4-2l-6-6l-2 4l-2-2l-6-12l-4-4l0-2l-6-8l0-4l2-2l-4-2l-6-6l2-6l-2-2l-4 2l-2-6l2 2l2-4l-2-2l-4 2l-2-4l2-2l-4-2l-2-4l0-2l4-2l-8-4l0-4l2-4l-4-6l-4 2l-4-8l2 0l2-4l-4-2l-2-2l0-4l-4-2l0-4l-4-6l-2-10l-6-10l0-2l4-4l-4-6l0-4l-2-2l-2 2l-2-2l0-8l-2-2l4-2l0-4l-2-2l0-4l-2-2l-2 2l-2-2l0-6l-2-2l2-2l-4-6l0-2l4-2l0-4l-2-2l-4 0l0-4l-2-2l4-2l-4-2l0-6l2 2l2-2l-2-2l-2 2l2-4l-2-4l2-2l-2-2l-2 2l0-2l4-4l-4-2l4-8l-4-4l-2 0l0-8l2 2l2-4l-2-2l-2 2l2-10l-4-2l0-18l2-2l2 4l2-2l0-4l-2-2l2-4l-2-2l-2 2l0-4l4-4l-2-4l0-18l2-2l0-4l2 2l2-2l-2-4l6-6l-4-2l0-4l8-12l-4-2l4-6l2 2l2-2l-2-2l-2 2l0-8l4 2l4-8l-4-2l0-2l4-2l6-6l0-4l-2-2l4-2l-2-4l6-4l-2-2l6-8l0-4l2-4l2-2l4 0l4-4l-2-2l-2 2l0-4l4-4l0-2l4-4l4-8l4 0l2-4l6-4l0-2l-4-2l6-6l0-2l4 2l6-8l-4-2l0-2l4 0l2-4l2 0l6-8l2 4l2-2l0-6l2 0l2 4l6-6l-2-2l-4 2l8-8l4 2l4-4l-2-4l2 0l6-6l6 0l2-2l-2-4l6 0l2 2l4-4l2-6l6-2l4-4l4 2l2-2l-2-2l2 0l4-4l2 0l-2 2l2 2l2-2l-2-2l2-2l2 0l4-4l10-4l4-4l8-4l4 0l4-2l2 4l4 0l2-2l-2-4l6 0l2-2l6 0l-2 2l4 2l2-2l-2-4l6 0l2 4l2-2l4 0l2-2l-2-2l2-2l6 0l2-2l6 0l2 2l4-2l2 2l2-2l-2-2l4 0l0 2l4 2l4-4l-2-2l4 0l4 4l2-2l-2-2l12 0l4-2l-2 2l4 2l2-2l-2-2l12 0l-2 2l2 2l2-2l-2-2l2-2l4 4l6 0l2-4l4 0l2 2l4 0l2-2l4 2l4-4zM2286 1764l2 2l2-2l-2-2l-2 2zM2612 1766l2 2l2-2l-2-2l-2 2zM2648 1788l2 2l2-2l-2-2l-2 2zM2708 1836l2 2l2-2l-2-2l-2 2zM2152 1876l2 2l2-2l-2-2l-2 2zM2760 1920l2 2l2-2l-2-2l-2 2zM2684 2372l-2 2l2 2l4-4l-2-2l-2 2zM2242 2378l2 2l2-2l-2-2l-2 2zM2672 2382l2 2l2-2l-2-2l-2 2zM2354 1744l2 0l-2 2l-2-2l2 0zM2570 1748l-2 2l0-2l2 0zM2754 1898l2 2l-2 0l0-2zM2098 1992l-2 2l0-2l2 0zM2094 2036l-2 2l0-2l2 0zM2094 2102l2 2l-2 0l0-2zM2798 2114l0 2l-2-2l2 0zM2758 2282l0 2l-2 0l2-2zM2268 2398l2 4l-4-4l2 0zM2320 2426l2 2l-2 0l-2-2l2 0zM2568 2438l2 2l-2 0l0-2zM2412 2448l0 2l-2 0l2-2z"/><path fill="#000080" d="M2430 1736l0 2l-2-2l2 0zM2438 1736l10 0l-2 2l2 2l2 0l2-4l10 0l-2 2l2 2l2-2l-2-2l6 0l-2 2l8 4l4 0l2-2l-2-2l12 0l-2 2l2 2l2-2l-2-2l8 0l2 2l4-2l6 0l2 4l2-4l2 0l4 4l4 0l6 4l2-2l-2-2l10 0l4 2l-2 2l2 2l4-2l2 4l4-2l-2-2l6 0l2 2l-2 2l2 2l6 0l2-2l2 4l2-2l4 2l2-4l2 2l4 0l-2 2l2 2l2-2l-2-2l4 0l4 4l8 4l2-2l-2-4l4 4l20 10l2 2l-4 2l4 4l2 0l2-4l4 2l-2 4l4 4l2-2l-2-2l1 0l3 1l0 3l4 4l2-3l8 4l25 21l3 1l2 2l-2 3l2 2l2-2l2 2l4 0l4 4l-2 2l2 2l6 0l2 2l-4 2l4 4l2-4l3 2l7 8l2 4l-2 2l2 2l2-2l4 4l0 2l6 6l0 2l10 12l-4 2l4 4l4 0l0 4l-2 2l8 6l0 1l-2-1l-2 2l2 2l2-2l1 2l-1 8l2 4l4 2l-2 2l2 2l4 0l6 12l-2 4l2 2l4 0l-2 2l0 4l5 4l1 2l-4 2l0 2l2 2l4-2l2 10l-2 2l0 6l8 6l0 4l2 2l0 6l-2 2l2 2l-2 2l2 2l0 4l8 6l0 2l-4 2l0 2l4 2l0 8l-2-2l-2 2l2 2l2-2l0 6l2 2l0 2l-2-2l-2 2l2 4l2-2l0 4l-4 2l0 6l4 2l0 4l-2-2l-2 4l2 2l2-4l2 2l0 6l-2-2l-2 2l0 4l2 2l2-2l0 12l-2-2l-2 2l0 6l4 2l-4 8l0 4l4 2l0 2l-4 2l0 2l4 2l0 12l-2-2l-2 2l2 4l-2 2l2 2l2-2l0 14l-4 4l2 2l0 6l-2 2l2 2l0 8l-6 4l0 2l4 3l-4 3l0 4l4 2l0 4l-2 2l2 1l-1 3l-1 2l0 4l-4 2l0 4l-4 4l0 4l2 2l0 10l-4-2l-2 2l0 2l4 2l0 4l-2 2l0 6l-6 4l2 4l2-2l-2 4l0 6l-2 2l0 4l-6 8l0 2l-2-2l-2 2l-2 4l2 2l-2 0l-4 4l2 2l0 4l-4 4l-2-2l-2 2l2 2l-6 4l2 4l-2 0l-4 4l4 2l0 2l-2 2l-2-2l-2 2l2 4l-2 4l-6 4l0 4l-8 8l0 2l-4-2l-4 4l4 2l-2 2l-2-2l-4 2l0 8l-4 3l0 3l-6 4l0 2l-2-2l-2 2l2 4l-4-2l-2 2l2 4l-6 6l-2-4l-4 4l4 2l-2 2l-2 0l-8 7l-2 1l-16 14l-4 0l-2-2l-2 2l2 4l-14 12l-2 0l0-2l-4-2l-2 2l2 4l-4 2l0-2l-4-2l-2 2l2 4l-8 4l-2 0l-2-4l-2 4l-8 6l-4-4l-8 6l-2-2l-2 2l2 4l-2 0l-2-4l-6 4l-4 0l-2 2l0 4l-4 0l2-2l-4-2l-4 4l-2-2l-4 2l-6 0l-2 2l2 4l-6-1l-2 2l-4-1l-5 3l3-3l-2-2l-4 4l2 1l-4 0l-4 2l-2-1l-6 3l-2-3l-2 3l-7 0l-3-1l-4 1l-4-3l-4 3l-2 1l2-2l-4-2l-2 2l2 2l-6 0l-8-4l-4 0l-2 4l-8 0l-6-4l-4 4l-8 0l2-2l-4-2l-2 2l2 2l-4-2l-4 0l-2 2l-4-2l-2 2l-4-4l-4 2l-6-4l-2 2l-4-4l-6 0l-2 4l-4 0l-4-2l2-2l-2-2l-6 0l-2 2l2 2l-6-1l-4-3l-2 1l-4 0l2-1l-2-2l-4 2l1 1l-7-2l-2-3l-4 4l-2-4l-2 2l-2-1l-4-3l-4 0l2-2l-2-2l-4 2l-6-3l2-3l-2-2l-4 0l-6-4l-4 2l2 1l-4 0l-8-4l-2-3l-2 1l-2 0l-14-7l-4-3l2-1l-6-6l-2 0l-2-4l-2 0l-10-8l-2 3l-4-3l-2-1l-4-3l2-4l-2-2l-2 4l-2 0l-8-8l-2 0l-6-8l-4 0l-2-2l0-6l-2-2l-6 2l-2-2l2-2l-2-4l-2 4l-4-4l-2 0l-6-6l-2-4l-4 0l-2-2l4-2l-6-6l-2 4l-2-2l-6-12l-4-4l0-2l-6-8l0-4l2-2l-4-2l-6-6l2-6l-2-2l-4 2l-2-6l2 2l2-4l-2-2l-4 2l-2-4l2-2l-4-2l-2-4l0-2l4-2l-8-4l0-4l2-4l-4-6l-4 2l-4-8l2 0l2-4l-4-2l-2-2l0-4l-4-2l0-4l-4-6l-2-10l-5-10l-1-3l4-3l-4-6l0-4l-2-2l-2 2l-2-2l0-8l-2-2l4-2l0-4l-2-2l0-4l-2-2l-2 2l-2-2l0-6l-2-2l2-2l-4-6l0-2l4-2l0-4l-2-2l-4 0l0-4l-2-2l4-2l-4-2l0-6l2 2l2-2l-2-2l-2 2l2-4l-2-4l2-2l-2-2l-2 2l0-2l4-4l-4-2l4-8l-4-4l-2 0l0-8l2 2l2-4l-2-2l-2 1l2-9l-4-2l0-16l2-4l2 4l2-2l0-4l-2-2l2-4l-2-2l-2 2l0-4l4-4l-2-4l0-18l2-2l0-4l2 2l2-2l-2-4l6-6l-4-2l0-2l2-7l6-7l-3-2l1-4l2-2l2 2l2-2l-2-2l-2 2l0-8l4 2l4-8l-4-2l0-2l4-2l6-6l0-4l-2-2l4-2l-2-4l6-4l-2-2l6-8l0-4l2-4l2-2l4 0l4-4l-2-2l-2 2l0-4l4-4l0-2l4-4l4-8l4 0l2-4l6-4l0-2l-4-2l6-6l0-2l4 2l2-2l0-2l4-4l-4-2l4-2l10-12l2 4l2-2l0-6l2 0l2 4l6-6l-2-2l-3 2l7-8l4 2l4-4l-2-4l2 0l6-6l6 0l2-2l-2-4l6 0l2 2l4-4l2-6l6-2l4-4l4 2l2-2l-2-2l2 0l4-4l2 0l-2 2l2 2l2-2l-2-2l2-2l2 0l4-4l10-4l4-4l8-4l4 0l4-2l2 4l4 0l2-2l-2-4l14-2l-2 2l4 2l2-2l-1-4l5 0l2 4l2-2l4 0l2-2l-1-2l3-2l4 0l4-2l4 0l4 2l2-2l2 2l2-2l-2-2l4 0l2 4l2 0l4-4l-2-2l4 0l4 4l2-2l-2-2l12 0l4-2l-2 2l4 2l2-2l-2-2l12 0l-2 2l2 2l2-2l-2-2l2-2l4 4l6 0l2-4l10 2l2-2l4 2l4-4zM2286 1764l2 2l2-2l-2-2l-2 2zM2612 1766l2 2l2-2l-2-2l-2 2zM2648 1788l2 2l2-2l-2-2l-2 2zM2708 1836l2 2l2-2l-2-2l-2 2zM2152 1876l2 2l2-2l-2-2l-2 2zM2760 1920l2 2l2-2l-2-2l-2 2zM2684 2372l-2 2l2 2l4-4l-2-2l-2 2zM2242 2378l2 2l2-2l-2-2l-2 2zM2672 2382l2 2l2-2l-2-2l-2 2zM2354 1744l2 0l-2 2l-2-2l2 0zM2570 1748l-2 2l0-2l2 0zM2755 1900l-1-2l1 2zM2098 1992l-1 1l0-1l1 0zM2094 2036l-2 2l0-2l2 0zM2094 2102l2 2l-2 0l0-2zM2798 2114l0 2l-2-2l2 0zM2758 2282l0 2l-2 0l2-2zM2268 2398l2 2l-3-2l1 0zM2320 2426l1 1l-1-1zM2568 2438l2 2l-2 0l0-2zM2412 2448l0 2l-2 0l2-2z"/><path fill="#000080" d="M2438 1737l8 0l2 3l2 0l2-3l9 0l1 3l1-3l4 0l1 3l4 0l2 2l4 0l1-3l10 0l-1 1l2 2l2-2l-1-1l19 0l2 3l2-3l4 0l2 3l4 0l6 4l2-3l6 0l6 5l4-2l2 4l2 0l2-3l4 1l1 0l-1 2l2 2l6 0l2-2l2 4l2-2l4 2l2-3l6 5l2-3l2 0l12 7l2-2l11 6l-1 2l2 2l1-2l8 4l-1 2l4 4l3-1l3 1l0 2l4 4l2-2l6 6l1-1l4 2l-1 1l2 2l1-2l3 2l28 22l0 2l2 2l1-1l5 3l11 9l-1 1l4 4l1-2l5 3l-2 3l2 2l1-2l4 4l2 3l-1 1l5 4l13 17l4 5l-2 2l6 6l1 2l-1 2l4 4l1 3l-1 1l4 4l0 6l2 4l4 2l-2 2l4 2l4 8l-2 2l2 2l1-1l1 5l4 4l0 4l4 6l-2 4l4 2l2 6l0 10l4 4l4 10l2 4l-2 2l2 2l-2 2l2 2l0 4l5 2l2 6l-3 2l0 2l3 2l0 7l-1-1l-2 2l2 2l1-1l1 7l-2 4l2 2l1-1l0 3l-3 2l0 6l3 2l0 2l-3 2l0 2l2 2l2-2l0 2l0 2l-2 2l0 4l2 1l0 9l-2 2l0 6l2 2l0 6l-2 2l0 4l2 2l0 2l-2 2l0 2l2 2l0 10l-2 2l0 2l2 2l-2 2l2 1l1 14l-3 3l1 1l-1 20l-4 3l2 4l-2 4l0 4l2 1l0 9l-2 3l0 5l-2 2l0 4l-4 4l0 4l2 2l-2 4l0 4l-4 2l2 6l-2 3l0 5l-4 6l1 3l-3 13l-6 10l-2 2l-2 6l-4 4l1 1l-1 3l-6 6l1 1l0 2l-5 3l2 2l-6 6l2 2l-4 4l-2 6l-14 18l-2 0l-4 4l1 1l-1 1l-2 0l-2 2l0 4l-14 16l-1 3l-1-1l-2 2l0 2l-5 5l-1-1l-4 4l1 1l-1 1l-3 1l-1-1l-4 4l1 1l-1 1l-7 5l-1-1l-2 2l1 2l-5 2l-6 6l-2 2l-2-2l-2 2l0 2l-14 12l-4-2l-2 2l0 2l-3 1l-3-1l-2 2l0 2l-8 4l-2-2l-3 4l-9 4l-2-2l-8 6l-2-2l-2 2l1 1l-1 1l-2-2l-6 4l-4 0l-2 2l0 2l-6-2l-4 4l-4-2l-2 2l-6 0l-2 4l-10 1l-4-1l-4 3l-15 4l-1-1l-1 1l-17 0l-2-1l-2 1l-2 1l-4-2l-2 2l-10 0l-2-2l-4 0l-2 2l-10 0l-4-2l-2 2l-8 0l-2-2l-2 0l-2 2l-14 0l-4-2l-8 0l-2-2l-2 2l-4-4l-6 0l-2 2l-2 0l-6-4l-6 0l-2 2l-2-1l-4-2l-6 0l-2-1l-3 1l-7-2l-2-1l-2 2l-6-2l-10-6l-1 1l-7-4l-2-3l-4 0l-6-4l-4 1l-28-12l-10-9l-2 0l-2-4l-2 0l-10-8l-1 1l-5-4l-4-3l0-2l-2-2l-2 2l-3-3l1-1l-2-2l-1 1l-17-13l-4-6l-4 0l-3-2l1-2l-2-2l-1 1l-17-13l-1-1l1-1l-6-6l-1 1l-8-13l-7-10l-3-7l1-1l-4-2l-4-6l-1-3l1-3l-2-2l-2 0l-1-3l1-3l-2-2l-2 0l-7-12l3-2l-2-2l-3 0l-3-7l2-3l-4-6l-3 0l-2-7l1-3l-4-3l-8-23l-8-16l0-3l2-1l-4-6l0-4l-4-4l0-4l-2-4l2-2l0-4l-2-2l0-4l-4-4l-2-12l-2-4l2-2l0-4l-2-2l-2 0l-1-7l1-1l-2-2l0-5l2-1l-3-3l1-3l-2-2l2-2l-2-2l0-2l2-2l-2-2l0-4l2-2l0-2l-4-4l0-7l2-3l-2-2l0-8l-2-2l0-16l4-2l0-4l-2-2l2-4l-2-2l0-4l2-2l0-20l4-8l-1-3l1-4l4-3l-2-2l1-2l1-3l1-5l3-6l-1-1l1-5l4-2l-2-2l0-4l4-2l0-4l2-2l-2-2l0-2l8-8l0-6l2-2l0-3l4-5l-1-1l9-15l8-8l-2-2l9-14l2-2l1 2l2-2l-2-2l4-4l0-2l6-4l-1-4l5-7l2 1l6-8l-2-2l12-11l2 1l2-2l0-3l2-1l2 2l6-6l-1-1l5-6l2 1l4-4l0-3l9-7l3 0l2-2l0-3l4-1l2 2l4-4l0-3l9-5l5-3l2 1l7-6l1 2l1-3l23-14l5-2l1 3l2-2l-1-2l1-1l6-2l2 3l4 0l2-4l5 0l3-2l6 2l2-4l5 0l1 2l2-2l4 0l4-4l16-2l2-2l2 2l2-2l2 0l4 2l4-4l4 0l2 2l2-2l6 0l4-2l6 2l2-2l8 0l2 2l2-4l2 0l2 2l6 0l2-2l10 0l2-2l4 2l4-3z"/><path fill="#000080" d="M2430 1740l37-1l7 3l42-1l12 3l2 2l6-1l12 3l2 2l6-1l4 3l8 0l2 2l6-1l21 5l55 33l56 44l30 39l29 60l9 28l8 20l2 10l2 2l3 7l-1 13l3 12l-1 20l2 4l1 80l-2 6l-1 18l-2 4l0 20l-18 72l-22 38l-4 10l-12 18l-23 26l-10 14l-11 11l-4 2l-44 36l-4 1l-18 9l-16 7l-6 3l-4 1l-10 6l-4 0l-2 2l-6 0l-2 2l-6 0l-3 2l-5 0l-36 9l-90 1l-4-2l-12 0l-6-2l-8 0l-4-2l-12-1l-4-1l-10-1l-18-4l-64-27l-12-10l-28-19l-46-38l-4-2l-8-7l-7-14l-17-24l-6-14l-8-14l0-2l-6-10l-2-6l-6-10l0-2l-2-2l-13-36l-7-16l-18-77l0-19l-2-4l0-18l-2-6l0-12l2-4l0-16l2-4l0-16l3-10l6-16l7-31l4-11l4-4l4-10l5-8l7-14l38-56l16-15l4-2l28-27l6-2l14-11l10-4l36-21l36-8l28-8l8 0l6-2l14 0l6-2l14 0l6-2l14 0l8-2z"/><path fill="#000080" d="M2428 1742l40-1l6 2l42 0l44 10l36 7l54 33l57 45l29 37l29 61l10 32l13 34l0 18l2 6l0 18l2 6l0 80l-2 6l-1 18l-2 6l0 18l-18 70l-26 48l-12 18l-23 26l-10 14l-10 10l-4 2l-44 36l-64 29l-36 6l-20 6l-90 1l-4-1l-12-1l-4-2l-10 0l-4-2l-12-1l-4-2l-22-2l-66-28l-42-31l-30-24l-25-20l-25-40l-29-58l-7-24l-13-34l-13-48l-4-22l1-18l-2-6l-1-18l-2-6l2-28l5-30l6-16l8-38l21-40l35-52l49-47l62-37l10-4l28-5l28-9l10 0l4-2l16 0l4-2l14 0l6-2l14 0l6-2z"/><path fill="#000080" d="M2428 1743l40 0l6 2l42 0l44 10l36 7l52 32l61 50l24 32l29 60l10 34l13 32l0 18l2 8l0 18l1 6l0 42l1 34l-2 6l-1 18l-2 8l0 16l-19 72l-24 46l-13 18l-23 26l-11 14l-8 8l-48 38l-40 19l-22 9l-58 13l-86 1l-22-4l-8 0l-6-2l-36-5l-65-27l-43-32l-52-44l-24-38l-32-66l-17-50l-14-56l-2-14l0-16l-1-8l-1-16l-2-8l2-26l5-30l5-14l8-38l19-38l36-56l46-44l64-39l34-8l28-8l10-1l4-2l16 0l4-2l14 0l6-2l14 0l6-3z"/><path fill="#000080" d="M2430 1745l36 0l8 2l40 0l44 10l26 5l14 3l40 27l32 26l36 26l26 34l9 22l17 34l10 36l8 17l6 17l0 18l2 6l0 18l1 6l-1 42l2 34l-2 6l-1 18l-2 6l-1 18l-18 70l-17 30l-7 15l-22 29l-14 14l-18 20l-46 40l-20 10l-38 17l-62 14l-86 1l-30-5l-6-3l-10 0l-6-3l-24-2l-12-5l-18-11l-28-11l-12-10l-30-19l-52-45l-24-38l-31-66l-24-80l-5-24l-2-12l1-18l-2-22l-3-12l2-8l-1-12l4-20l7-23l1-11l3-12l2-16l19-38l33-53l46-46l63-39l15-4l20-3l28-9l34-5l14 0l26-6z"/><path fill="#000080" d="M2440 1752l26-2l8 2l40 2l80 18l38 24l34 28l36 26l25 32l6 18l16 34l10 40l15 30l4 26l-4 62l4 34l-3 24l-2 8l-1 16l-17 64l-25 49l-14 18l-36 38l-49 43l-53 27l-14 4l-48 8l-24 2l-58-1l-52-13l-24-2l-55-25l-39-29l-21-17l-21-22l-8-4l-22-38l-32-74l-23-74l-4-28l3-18l-2-8l1-16l-3-20l2-14l-1-12l6-24l5-34l5-18l9-20l34-53l28-27l8-6l8-11l38-25l20-15l36-6l28-10l34-5l12 0l20-3l6-3l10 0z"/><path fill="#0000bb" d="M2432 1759l32-1l18 2l30 1l20 3l26 8l33 8l47 30l32 28l23 16l26 32l24 56l3 14l0 16l5 12l9 12l5 12l1 14l2 10l-2 14l2 10l-3 38l4 30l-5 32l-1 16l-18 66l-7 10l-16 34l-6 9l-26 26l-22 19l-14 8l-16 16l-6 3l-10 15l-52 28l-56 9l-24 2l-54-2l-15-3l-9-6l-10-4l-20-3l-18 0l-20-5l-12-8l-18-8l-12-12l-13-8l-5-6l-13-6l-11-8l-38-37l-18-32l-11-35l-6-10l-7-21l-9-17l-15-38l-6-32l0-56l-3-24l1-32l5-22l3-20l12-36l7-14l21-36l7-8l31-29l8-10l10-9l18-11l28-21l26-5l34-12l34-5l30-2l10-5z"/><path fill="#0008ff" d="M2448 1771l14 0l38 1l30 5l22 7l34 7l45 31l11 11l36 29l27 34l17 40l3 12l0 16l2 14l12 24l6 8l5 24l-3 14l2 10l-3 38l3 14l6 14l-4 20l-5 12l-2 14l-7 18l-5 27l-5 15l-10 20l-15 23l-33 31l-15 17l-38 31l-20 11l-9 11l-17 13l-12 4l-28 1l-24 3l-16 4l-22-2l-14-2l-50-15l-34-3l-10-2l-40-17l-41-32l-25-18l-16-16l-11-14l-17-36l-9-12l-2-10l-4-6l-3-10l-3-6l-3-10l-4-6l0-4l-2-2l0-4l-4-8l-9-28l-3-16l-3-26l-1-34l-2-24l2-30l9-38l12-38l21-40l9-12l13-12l28-29l38-29l12-7l26-7l32-12l66-7l22-4z"/><path fill="#005cff" d="M2422 1786l48-2l2 2l8 0l2 2l8 0l2 2l8 0l2 2l8 0l2 2l8 0l2 2l8 0l2 1l8 0l10 2l26 10l18 13l8 8l6 3l6 6l2 0l43 41l3 1l5 5l3 6l4 4l2 6l11 14l10 18l1 8l5 10l-2 4l2 8l3 4l1 12l3 4l0 4l2 2l1 4l2 2l2 14l2 2l0 6l2 2l4 22l-1 20l2 4l-1 22l2 2l-1 8l-1 2l1 12l-2 2l1 12l-3 5l-1 9l-3 2l0 10l-3 4l-3 20l0 4l-2 2l1 4l-1 2l-2 8l-4 6l-1 4l-4 6l0 4l-2 2l0 2l-2 2l1 4l-2 2l0 4l-4 6l0 4l-18 20l1 2l-6 6l0 2l-12 14l0 2l-6 6l-4 8l-3 0l-6 7l-8 4l-6 6l-8 4l-6 5l-8 4l-18 14l-12 3l-12 13l-40 9l-14 1l-12 2l-14-1l-10 2l-22-4l-2 2l-10-1l-2-2l-12-3l-12 0l-2-1l-12-3l-10 1l-2-2l-10 0l-2-2l-10 1l-10-7l-4 0l-10-5l-4 0l-14-9l-4 0l-10-6l-4 0l-8-4l-30-27l-2 0l-16-16l-3-1l0-2l-6-6l-4-8l-10-12l0-2l-5-6l-4-8l-6-6l-9-26l-7-12l-2-10l-4-6l0-4l-2-2l-2-10l-2-2l-1-8l-1-2l-1-8l-2-2l0-8l-2-2l-2-18l-2-2l0-8l-2-2l0-14l-1-2l1-28l-1-14l-2-2l0-12l1-2l0-14l2-2l0-12l2-2l0-12l2-2l1-6l3-8l0-4l2-2l4-16l6-14l0-4l2-2l0-4l4-8l0-4l6-8l0-2l14-16l0-2l31-36l8-5l6-6l8-4l36-26l10-2l2-2l6 0l8-4l6 0l8-4l6 0l2-2l6-1l8-4l6 0l8-3l34 1l4-2l8 0z"/><path fill="#00b0ff" d="M2460 1795l6 0l14 5l48 10l16 2l22 9l12 7l12 12l12 8l16 18l34 32l17 24l11 32l4 22l8 14l9 28l1 16l3 14l-1 12l3 22l0 12l-5 24l-3 6l0 10l-5 16l0 10l-5 18l-11 16l-4 14l-4 8l-3 18l-17 28l-12 17l-24 27l-38 21l-24 16l-8 4l-12 5l-20 4l-12-1l-34 2l-50-3l-10-3l-16 0l-18-5l-6-1l-29-9l-27-16l-8-3l-28-18l-10-7l-18-19l-30-41l-3-6l-15-42l-10-25l-10-39l-1-22l1-36l-1-12l-3-12l3-32l15-64l12-26l10-16l8-10l32-33l24-20l28-18l10-4l16-2l20-8l28-6l30 1l50-5z"/><path fill="#19ffde" d="M2388 1809l34 1l42-2l2 2l6 0l2 2l14 2l2 2l6 1l2 1l14 2l2 2l6 0l2 2l6 0l2 2l10 1l28 13l14 14l2 0l11 14l15 12l23 22l8 10l14 28l1 8l4 10l1 26l4 14l5 2l2 4l3 2l0 4l2 2l0 6l3 2l0 21l2 3l1 22l-2 48l-3 2l-4 18l-1 20l-3 10l-7 12l-7 20l-2 22l-3 6l-2 8l-5 6l0 2l-6 6l0 2l-7 6l0 2l-7 8l0 2l-6 6l0 2l-6 6l0 2l-8 9l-4 1l-8 5l-2 0l-10 8l-12 6l-12 10l-8 8l-10 5l-16 3l-8-1l-4 1l-6-2l-2 2l-8-1l-2 2l-6-1l-2 3l-86 0l-8-3l-12-2l-2-2l-6 0l-2-2l-4 0l-2-2l-6-1l-2-3l-6-2l-12-2l-9-5l-13-11l-6-3l-10-2l-10-8l-2 0l-4-3l-8-4l-11-11l0-2l-19-22l0-2l-11-10l0-2l-8-10l-2-4l0-4l-2-2l0-4l-4-6l-2-10l-4-6l-2-10l-6-12l0-10l-2-2l0-8l-2-2l-1-10l-2-2l0-10l-2-2l0-8l-2-2l1-26l-2-2l0-28l-2-36l2-4l2-22l2-2l0-14l4-6l0-4l2-4l2-2l0-4l4-6l0-4l5-10l0-4l5-6l0-4l2-2l2-6l4-4l0-2l8-8l0-2l14-16l0-2l6-6l0-2l8-8l1-2l8-5l16-13l6-3l15-11l9-4l4-4l16-2l2-1l6-1l2-2l6 0l2-2l6 0l2-2l6 0l2-2l8 0l2-2l6 1l2-2z"/><path fill="#60ff97" d="M2384 1819l8-1l66 2l18 3l38 13l27 14l17 14l10 4l15 16l32 28l10 18l5 42l2 24l15 34l1 16l3 16l-14 44l2 24l4 16l1 12l-8 36l-4 14l-10 22l-10 9l-10 13l-12 10l-7 10l-15 14l-14 10l-10 12l-12 5l-18 1l-26-1l-30 8l-18 0l-36 4l-34-10l-32-14l-24-16l-26-11l-10-8l-23-30l-19-20l-7-14l-11-32l-2-16l-8-26l-7-82l0-20l6-44l17-54l8-15l20-29l18-18l18-14l34-20l62-13zM2562 2198l-1 6l1 3l2 1l2-3l0-5l-2-4l-2 2z"/><path fill="#a4ff53" d="M2382 1829l12-1l42 2l44 7l20 11l10 7l8 7l8 12l6 5l10 5l22 14l29 28l3 4l5 28l5 12l4 20l19 40l3 26l-1 8l-5 12l-13 20l-3 8l5 30l0 18l-7 26l-2 18l-7 16l-11 10l-12 15l-7 13l-13 15l-17 15l-13 6l-24 5l-16 2l-24 7l-20 1l-16 5l-18 2l-14-2l-14-4l-36-15l-28-19l-23-12l-25-32l-21-18l-6-10l-9-32l-5-24l-5-14l-4-24l0-22l-4-18l2-60l10-50l6-22l26-44l22-20l22-15l12-7l14-6l54-9zM2560 2188l-4 8l0 14l4 12l6 2l4-2l2-4l1-18l-2-6l-3-6l-4-2l-4 2z"/><path fill="#e7ff0f" d="M2374 1840l22-2l40 3l18 3l16 5l20 12l20 23l17 14l32 34l15 24l5 12l9 16l5 32l3 8l4 5l12 5l3 6l1 10l-2 7l-18 12l-8 15l-6 16l-1 10l7 18l1 14l-3 20l-5 14l-3 3l-12-4l-4 1l-4 4l-7 16l-2 34l-1 6l-10 14l-8 6l-8 9l-10 7l-52 12l-24-2l-16 4l-14 2l-14-1l-44-14l-30-23l-14-7l-6-5l-31-32l-11-14l-7-20l-14-48l0-8l-4-18l-1-22l-3-18l2-16l0-42l3-8l3-36l2-8l2-14l23-46l33-24l13-9l22-8l16-2l14-4l14-1z"/><path fill="#ffb900" d="M2360 1848l36 0l18 1l2 1l16 0l2 2l9 2l17 10l4 0l2 2l10 4l26 28l13 10l5 6l12 19l3 7l13 18l3 10l2 10l2 6l1 4l4 6l3 12l3 4l3 16l-1 12l-5 14l0 20l-2 2l-2 24l-2 4l2 22l-2 2l1 16l-2 2l0 2l2 4l-2 14l-2 2l0 6l-3 2l-1 8l-5 8l-3 12l-8 20l-22 25l-6 2l-9 7l-7 2l-16 3l-6 3l-12 3l-38 2l-4 4l-18-2l-2-2l-6 0l-2-2l-8 0l-2-2l-6 0l-2-2l-8 0l-2-2l-6 0l-12-6l-4-4l-6-2l-4-4l-6-2l-10-8l-7-3l0-2l-8-8l0-2l-9-8l0-2l-12-14l-6-12l0-4l-15-30l0-6l-2-2l0-10l-2-2l0-8l-2-2l0-10l-2-2l0-8l-2-2l0-26l-2-8l0-40l1-24l2-2l-1-38l0-6l2-2l0-16l6-10l0-4l10-18l1-4l4-8l2-1l6-6l8-4l10-8l8-4l4-4l2 0l4-5l6 0l2-2l6 0l2-2l6 0l2-2l8 0l2-1l6 0l2-2l6-1l2-2z"/><path fill="#ff6c00" d="M2372 1862l20 0l14 3l20-1l4 4l8 1l6 3l11 8l5 8l8 38l-2 4l-6 2l-2 3l-10 7l-4 6l0 6l14 12l6 10l7 6l2 6l0 14l2 2l5 0l2 2l6-1l2 3l4-1l2 2l4-2l6 1l10 4l10 0l10 2l4 4l1 4l6 24l-2 20l0 22l-1 2l-1 14l-6 12l1 10l-2 8l2 2l12 1l2 3l2 6l2 2l0 2l-2 2l0 12l-6 2l-4-11l-4-2l-20 7l-7 16l0 2l3 4l-2 3l-6 2l-3 5l-3-1l-2 2l-3-1l-15-21l-14-11l-6 0l-12 6l-16 5l-2 3l-3 12l0 8l7 25l10 9l2 6l-5 10l-3 3l-10 5l-8 8l-8 6l-4 6l-4 0l-2-2l-8 0l-2-2l-6 0l-2-2l-8 0l-2-2l-6 0l-2-2l-8 0l-2-2l-6 0l-12-6l-4-4l-6-2l-16-21l-10-6l-10-3l-14-16l0-2l-4-4l-6-12l0-4l-4-6l-4-8l0-4l-2-2l0-14l-2-2l-1-26l2-30l-3-44l0-108l19-36l8-6l15-8l4-4l6-2l10-7l8 0l2-2l12 0l2-2l14 0l2-3l14-4zM2416 2030l-6 3l-5 7l-3 22l3 10l5 7l6 4l6 0l10-4l6-7l5-18l1-8l-4-8l-7-6l-9-3l-8 1z"/><path fill="#ff1e00" d="M2378 1902l8 0l5 4l5 8l4 12l3 4l0 4l-1 2l-1 10l-2 2l-2 8l-10 4l-2 2l1 12l-3 18l-17 40l0 4l5 14l0 10l-2 10l2 6l-1 28l-12 10l-7 12l-11 10l-1 8l5 18l0 8l0 1l-8 0l-4-3l-4-5l-16 1l-2-2l-2 0l-23-22l-3-8l-2-2l0-4l-2-2l-2-16l-2-2l4-16l1-8l-6-16l-2-2l-1-20l0-4l2-3l1-31l2-2l-2-14l1-12l5-24l-1-8l5-20l6-8l3-2l20-5l6 1l2-2l8 1l2-2l8 3l12-8l28-2zM2492 2049l10 4l12 10l4 9l2 18l-5 14l-11 13l-10 7l-8 1l-12-3l-9-6l-8-16l-1-10l7-18l5-8l10-9l8-4l6-2zM2436 2158l4-1l4 1l-1 2l-3 0l-3 0l-1-2zM2350 2177l4 0l4 5l8 2l16 0l5 6l0 6l-5 2l-6 0l-16-8l-3-2l-1-5l-6-1l0-5z"/><path fill="#ad0000" d="M2314 2034l3 2l2 4l-1 4l-4 2l-3-2l0-4l3-6zM2486 2067l6-1l8 3l5 5l2 8l1 8l-4 9l-6 6l-6 3l-6 0l-6-3l-5-5l-2-6l-1-6l3-8l5-8l6-5z"/><path fill="#800000" d="M2490 2081l4 1l2 4l-1 4l-3 2l-4-1l-2-3l1-4l3-3z"/></g>
<g transform="scale(0.5)" stroke="#000" stroke-width="3.7" fill-rule="evenodd" stroke-linejoin="round"><path fill="#000080" d="M3333 1738l2 0l4 4l4 0l2-2l-2-2l4 2l2-2l6 0l4 4l14 0l2-4l2 0l2 4l2 0l2-4l28 0l0 2l4 4l2-4l10 0l2 2l14 0l2 2l8 0l8 6l2-4l10 0l4 2l-2 2l-2-2l-2 2l2 2l2-2l2 2l2-2l-2-2l8 0l-2 2l4 4l2-2l2 2l8 0l4-2l-2 2l2 4l4 0l2 2l2-4l2 0l2 2l-2 2l2 2l2-2l-2-2l6 0l2 2l4 0l4 2l2 2l-2 2l2 2l4-2l-2-2l4 0l2 2l4 0l2 2l10 2l2 4l4-2l2 2l4 0l-2 4l2 2l4-4l2 0l-2 4l2 2l4-2l2 2l-2 4l2 2l4 0l2-2l12 10l-4-2l-2 2l6 6l4 0l0 2l6 6l2-4l4 8l2-2l4 4l4 0l-2 4l2 2l6 0l8 8l0 2l8 8l0 6l4 4l0 2l6 6l4 2l2-2l4 4l0 2l4 4l-4-2l-2 2l4 4l2 0l-2 4l2 2l2-2l4 2l2 4l-2 2l6 4l-4 4l2 2l4-2l2 4l-2 2l4 2l6 8l-2 4l0 4l6 6l2-2l0 4l4 6l0 4l2 2l0 4l2 2l0 4l4 8l0 4l-2 2l2 2l0 4l2 4l4 2l0 4l2 2l0 2l-2 0l-2 4l2 4l4 2l0 4l2 2l0 6l-2-2l-2 2l4 4l0 6l2 2l0 2l-2 0l-2 4l2 2l2-2l0 10l-2 2l4 4l0 130l-2-2l-2 2l2 4l-4 2l0 2l4 2l-2 2l-2-2l-2 2l0 2l4 4l-4 4l2 2l0 4l-2 0l-4 4l2 4l-4 2l2 4l-2 2l2 2l-2 0l-2 4l4 4l-2 2l-2-2l-4 8l0 4l2 2l-2 2l2 4l-2 2l0 6l-4 4l2 2l-6 4l0 6l2 2l-2 2l0 4l-6 10l-2-4l-2 2l0 4l2 2l-2 2l-2-4l-2 2l2 6l-2 2l-2-4l-2 2l-2 4l4 4l-2 2l-2-2l-4 2l2 4l-4 4l2 2l-2 4l-4 2l2 2l-2 2l-2-2l-4 2l4 4l-10 10l-2 4l-2-4l-2 2l2 4l-6 6l-2-4l-4 4l0 8l-4 4l-2 0l2-2l-2-2l-2 2l2 2l-6 4l2 2l-4 0l-2 2l2 2l-4 6l-4-4l-10 8l2 2l4-2l-6 6l-2-2l-2 4l-6 4l-4-2l-2 2l0 4l-10 8l-2 0l-2-4l-2 2l2 4l-2 2l-6-2l-8 6l0 4l-4-2l-6 6l-2 0l0-2l-4-2l-2 2l-4 0l-6 8l-6-2l-2 4l-2-2l-2 4l-4 2l-6 0l-2 2l-2-2l-2 4l-4-2l-2 4l-4 0l-4-2l-2 2l2 2l-4 0l-4-2l-2 4l-2-2l-6 0l-2 2l2 2l-2 2l-2-4l-8 0l-6 4l2 2l-4-2l-2 4l-10 0l-2 2l-10 0l-8 4l-6 0l0-2l-4-2l-2 2l0 4l-6 0l-4-4l-6 0l-4 2l-8-4l-2 2l2 2l-4 0l-2-2l-2 2l-4 0l-4-4l-2 4l-2 0l-2-2l2-2l-2-2l-4 0l-2 2l2 2l-6 0l-2-4l-4 0l-2 2l-2-2l-4 2l-2-2l-4 2l-6 0l-2-2l-2 2l-4 0l-2-2l-10 0l-4-2l2-2l-2-2l-4 2l-6-4l-4 2l2 2l-6 0l2-2l-2-2l-4 0l-4 2l-6-6l-2 4l-8 0l-4-4l2-2l-4-4l-2 4l-6-4l0-4l-2-2l-4 2l2-2l-2-4l-2 0l-2 2l2 2l-2 0l-4-4l-2 0l2-2l-2-2l-2 2l-4-2l2-2l-2-4l-2 0l-2 4l-4-4l-4 0l-8-4l2-2l-2-4l-2 4l-2 0l-4-2l0-2l-4-2l-2-4l-2 4l-16-8l0-2l-4-2l2-2l-2-2l-6-2l-2 2l2 2l-2 0l-14-12l-2-6l-6-6l-2 2l-4-2l0-4l-2-2l-4 2l0-4l-2-2l-4 2l-6-6l-2 0l-6-6l2-4l-4-4l-2 2l-4-4l0-4l-4-2l2-4l-2-2l-2 4l-4-4l2-4l-2-2l-4 0l2-4l-4-4l-2 2l-2-4l2-2l-2-2l-2 2l2 2l-2 0l-6-6l-2-4l2-4l-2-2l-2 4l-2-2l2-4l-4-2l-4-6l0-2l2 2l2-4l-2-2l-2 4l-2-2l2-2l0-6l-2-2l-4 2l0-4l2-4l-2-2l-2 2l0-10l-2-2l-2 4l-4-6l2-6l-8-8l0-4l2-2l-2-2l-2 2l-2-4l2-4l-2-4l2-4l-2-2l0-4l-2-2l-2 4l-2-2l0-4l2-2l0-6l-8-6l0-4l-2-2l2 0l2-4l-2-2l-2 2l-2-2l0-2l2 0l2-4l-2-2l-4 2l0-6l2 2l2-2l-2-2l-2 2l-2-2l0-12l2-2l-4-2l-2-4l0-6l4-4l0-2l-4-4l-2 2l-2-14l2 2l2-2l0-4l-2-2l0-6l-2-2l-4 0l0-16l2-2l-2-2l0-8l4-2l-2-2l2-2l-4-2l2-2l-2-2l2-4l0-4l-2-4l2 2l2-2l-2-2l2-2l-2-2l-2 2l0-12l4-4l-2-4l-2 2l0-18l4 2l4-6l-2-4l-2 2l0-4l2-2l0-4l2 2l2-2l-2-2l0-4l4 0l4-6l-4-2l0-4l4 0l2-2l2-4l0-6l-2-4l2-4l2 2l2-2l0-8l2 2l4-2l-2-4l2-6l8-4l4-8l-2-2l-2 2l0-4l4-4l8-18l4-2l2 2l2-2l0-8l6-6l0-2l2-2l2 2l4-2l-2-4l2-4l2-2l2 2l2-2l-2-2l6 0l2-2l-4-4l2 0l2-4l4 0l2-2l-2-2l2-4l2 4l2-2l-2-4l4-4l0-2l2 0l4-4l2 4l12-12l0-6l4-4l2 2l12-14l4 2l4-4l-2-2l-4 2l6-6l2 2l4 0l4-6l-2-2l4-4l2 2l2-2l0-4l4 2l6-6l0-2l4 0l2 4l2-2l4 0l4-4l-2-2l4-2l4 0l4-2l-4 4l2 2l4-4l-2-2l4-2l4 0l2-2l4 0l2-2l4 0l8-4l4 0l-2 2l2 2l4-4l0-2l4-2l4 0l2-2l2 2l2-2l2 2l2-2l2 2l4 0l4-4l4 0l2-2l4 0l-2 2l2 2l2-2l-2-2l8 0l2-2l6 0l-2 2l2 2l2-2l2 2l6 0l2-2l-2-4l2 0l2 4l4-2l-2-2l6 0l-2 2l2 2l4-4l2 2l2 0l4-4l10 2l4-4zM3549 1772l2 2l2-2l-2-2l-2 2zM3585 1790l2 2l2-2l-2-2l-2 2zM3119 1818l2 2l2-2l-2-2l-2 2zM3635 1834l2 2l2-2l-2-2l-2 2zM3639 1838l4 4l2-2l-4-4l-2 2zM3687 1906l2 2l2-2l-2-2l-2 2zM3699 1930l2 2l2-2l-2-2l-2 2zM3701 1936l2 2l2-2l-2-2l-2 2zM3719 1996l2 2l2-2l-2-2l-2 2zM3657 2332l2 2l2-2l-2-2l-2 2zM3179 2392l2 2l2-2l-2-2l-2 2zM3317 2448l2 2l2-2l-2-2l-2 2zM3311 1740l2 0l-2 2l-2-2l2 0zM3487 1748l4 2l-2 2l-4-4l2 0zM3111 1824l0 2l-4 2l4-4zM3697 1914l2 2l-2 0l0-2zM3001 2040l2 2l-2 2l0-4zM3025 2190l0 2l-2-2l2 0zM3719 2206l0 4l-2-2l2-2zM3719 2210l0 4l-2-2l2-2zM3713 2232l0 2l-2 0l2-2zM3103 2336l2 4l-2-4zM3165 2386l0 2l-2-2l2 0zM3545 2422l-2 2l0-2l2 0zM3485 2442l0 2l-2 0l2-2zM3299 2446l0 2l-2 0l2-2z"/><path fill="#000080" d="M3333 1738l2 0l4 4l4 0l2-2l-2-2l4 2l2-2l6 0l4 4l14 0l2-4l2 0l2 4l2 0l2-4l28 0l0 2l4 4l2-4l10 0l2 2l24 2l8 6l2-4l10 0l4 2l-2 2l-2-2l-2 2l2 2l2-2l2 2l2-2l-2-2l8 0l-2 2l4 4l2-2l2 2l8 0l4-2l-2 2l2 4l4 0l2 2l2-4l2 0l2 2l-2 2l2 2l2-2l-2-2l6 0l2 2l4 0l4 2l2 2l-2 2l2 2l4-2l-2-2l4 0l8 4l10 2l2 4l4-2l2 2l4 0l-2 4l2 2l4-4l2 0l-2 4l2 2l4-2l2 2l-2 4l2 2l4 0l2-2l12 10l-4-2l-2 2l6 6l4 0l0 2l6 6l2-4l4 8l2-2l4 4l4 0l-2 4l2 2l5 0l17 18l0 6l4 4l0 2l6 6l4 2l2-2l8 10l-4-2l-2 2l4 4l2 0l-2 4l2 2l4-2l2 2l2 4l-2 2l6 4l-4 4l2 2l4-2l2 4l-2 2l4 2l6 8l-2 4l0 4l6 6l2-2l0 4l3 6l8 26l1 2l-2 2l2 2l0 4l5 6l3 8l-4 2l0 2l2 4l4 2l2 11l-2-1l-2 2l4 4l0 6l2 2l0 2l-2 0l-2 4l2 2l2-2l0 10l-2 2l4 4l0 130l-2-2l-2 2l2 4l-4 2l0 2l4 2l-2 2l-2-2l-2 2l0 2l4 4l-4 4l2 1l-1 5l-5 4l2 4l-4 2l2 4l-2 2l2 2l-2 0l-2 4l3 3l-1 2l-2-1l-2 2l0 4l-2 2l0 4l2 2l-2 2l2 4l-2 2l0 6l-4 4l2 2l-6 4l0 6l2 2l-2 2l0 4l-6 10l-2-4l-2 2l0 4l2 2l-2 2l-2-4l-2 2l2 6l-2 2l-2-4l-2 2l-2 4l4 4l-2 2l-2-2l-4 2l2 4l-4 4l2 2l-2 4l-4 2l2 2l-2 2l-2-2l-4 2l4 4l-10 10l-2 4l-2-4l-2 2l2 4l-6 6l-2-4l-4 4l0 8l-4 4l-2 0l2-2l-2-2l-2 2l2 2l-6 4l2 2l-4 0l-2 2l2 2l-4 6l-4-4l-10 8l2 2l4-2l-6 6l-2-2l-2 4l-6 3l-4-1l-2 2l0 3l-10 8l-2 0l-2-3l-2 2l2 4l-2 2l-6-2l-8 6l0 4l-4-2l-6 6l-2 0l0-2l-4-2l-2 2l-4 0l-6 8l-6-2l-2 4l-2-2l-2 3l-4 2l-6 1l-2 1l-2-1l-2 3l-2 0l-2-1l-2 3l-4 1l-4-2l-2 2l2 1l-4 1l-4-2l-2 4l-2-2l-6 0l-2 2l2 2l-2 2l-2-4l-8 0l-6 4l2 2l-4-2l-2 3l-22 3l-2 1l-4 0l-4 2l-4 0l-2-3l-2 0l-2 2l0 3l-6 1l-4-4l-6 0l-4 2l-8-4l-2 2l2 2l-4 0l-2-2l-2 2l-4 0l-4-4l-2 4l-2 0l-2-2l2-2l-2-2l-4 0l-2 2l2 2l-6 0l-2-4l-4 0l-2 2l-2-2l-4 2l-2-2l-4 2l-6 0l-2-2l-2 2l-4 0l-2-2l-10 0l-4-2l2-2l-2-2l-4 2l-6-4l-4 2l2 2l-6 0l2-2l-2-2l-4 0l-4 2l-6-6l-2 4l-8 0l-4-4l2-2l-4-4l-2 4l-6-4l0-4l-2-2l-4 2l2-2l-2-4l-4 2l2 2l-2 0l-4-4l-2 0l2-2l-2-2l-2 2l-4-2l2-2l-2-4l-2 0l-2 4l-4-4l-4 0l-8-4l2-2l-2-4l-2 4l-2 0l-4-2l0-2l-4-2l-2-4l-2 4l-16-9l-2-3l-2 0l2-2l-2-2l-6-2l-2 2l2 2l-2 0l-14-12l-2-6l-6-6l-2 2l-4-2l0-4l-2-2l-4 2l0-4l-2-2l-4 2l-6-6l-2 0l-6-6l2-4l-4-4l-2 2l-4-4l0-4l-4-2l2-4l-2-2l-2 4l-4-4l2-4l-2-2l-4 0l2-4l-4-4l-2 2l-2-4l2-2l-2-2l-2 2l2 2l-2 0l-6-6l-2-4l2-4l-2-2l-2 4l-2-2l2-4l-4-2l-4-6l0-2l2 2l2-4l-2-2l-2 4l-2-2l2-2l0-6l-2-2l-4 2l0-4l2-4l-2-2l-2 1l0-9l-2-2l-2 3l-2-1l-2-6l2-4l-8-8l0-4l2-2l-2-2l-2 2l-2-4l2-4l-2-4l2-4l-2-2l0-4l-2-2l-2 4l-2-2l0-4l2-2l0-6l-7-6l-1-4l-1-2l3-2l0-2l-2-2l-2 1l-2-1l0-2l4-2l0-2l-2-2l-4 2l0-6l2 2l2-2l-2-2l-2 2l-2-2l0-12l2-2l-4-2l-2-4l0-6l4-4l0-2l-4-4l-2 2l-2-14l2 2l2-2l0-4l-2-2l0-6l-2-2l-4 0l0-16l2-2l-2-2l0-8l4-2l-2-2l2-2l-4-2l2-2l-2-2l2-4l0-4l-2-4l2 2l2-2l-2-2l2-2l-2-2l-2 2l0-12l4-4l-2-4l-2 2l0-18l4 2l4-6l-2-4l-1 1l2-9l1 2l2-2l-2-2l1-4l3 0l4-6l-4-2l0-4l4 0l4-6l0-6l-2-4l2-4l2 2l2-2l0-8l2 2l4-2l-2-4l2-6l6-2l6-10l-2-2l-2 2l0-4l4-4l8-18l4-2l2 2l2-2l0-8l6-6l0-2l2-2l2 2l4-2l-2-4l2-4l2-2l2 2l2-2l-2-2l6 0l2-2l-4-4l2 0l2-4l4 0l2-2l-2-2l2-4l2 4l2-2l-2-4l4-4l0-2l2 0l4-4l2 4l12-12l0-6l4-4l2 2l12-14l4 2l4-4l-2-2l-4 2l6-6l2 2l4 0l4-6l-2-2l4-4l2 2l2-2l0-4l4 2l6-8l4 0l2 4l2-2l4 0l4-4l-2-2l10-3l-2 3l2 2l4-4l-1-2l29-10l1 0l-1 2l2 2l4-4l0-2l8-2l2-2l2 2l2-2l2 2l2-2l2 2l4 0l4-4l4 0l2-2l4 0l-2 2l2 2l2-2l-2-2l8 0l2-2l6 0l-2 2l2 2l2-2l2 2l6 0l2-2l-2-4l2 0l2 4l4-2l-2-2l6 0l-2 2l2 2l4-4l2 2l2 0l4-4l10 2l4-4zM3549 1772l2 2l2-2l-2-2l-2 2zM3585 1790l2 2l2-2l-2-2l-2 2zM3119 1818l2 2l2-2l-2-2l-2 2zM3635 1834l2 2l2-2l-2-2l-2 2zM3639 1838l4 4l2-2l-4-4l-2 2zM3687 1906l2 2l2-2l-2-2l-2 2zM3699 1930l2 2l2-2l-2-2l-2 2zM3701 1936l2 2l2-2l-2-2l-2 2zM3719 1996l2 2l2-2l-2-2l-2 2zM3657 2332l2 2l2-2l-2-2l-2 2zM3179 2392l2 2l2-2l-2-2l-2 2zM3317 2448l2 2l2-2l-2-2l-2 2zM3311 1740l2 0l-2 2l-2-2l2 0zM3487 1748l4 2l-2 2l-4-4l2 0zM3111 1824l0 2l-4 2l4-4zM3697 1914l2 2l-2 0l0-2zM3001 2040l2 2l-2 2l0-4zM3025 2190l0 1l-2-1l2 0zM3718 2208l0 1l-1-1l1-2l0 2zM3718 2212l0 1l-1-1l1-2l0 2zM3712 2234l-1 0l1-2l0 2zM3103 2336l2 4l-2-4zM3165 2386l0 2l-2-2l2 0zM3545 2422l-2 2l0-2l2 0zM3485 2442l0 1l-2 0l2-1zM3299 2446l0 2l-2 0l2-2z"/><path fill="#000080" d="M3333 1739l3 0l3 3l4 0l2-3l12 0l2 3l14 0l2-3l2 0l2 3l2 0l2-3l28 0l4 5l2-3l8 1l4 2l26 2l6 4l2-2l8 0l2 4l2-2l2 2l2-2l4 0l4 4l2-2l2 2l11-1l-1 3l2 2l4 0l2 2l2-3l2 0l1 1l-1 2l2 2l1-3l3 0l12 5l1 0l-1 2l2 2l4-2l12 4l2 4l4-2l12 4l1 0l-1 2l2 2l2-3l3 1l-1 2l2 2l1-2l4 4l-1 2l2 2l5-1l0 1l-1 2l2 2l1-2l6 4l-1 2l6 6l4 0l0 2l6 6l1-2l3 2l0 2l2 2l1-2l8 7l-1 1l2 2l2 0l8 8l2 2l-2 2l2 2l1-1l1 1l0 2l4 4l1-1l3 2l0 3l4 4l0 2l6 6l4 1l4 5l1 2l-1 2l5 4l-1 4l2 2l1-2l2 2l7 12l-2 2l4 2l4 6l2 4l-2 2l2 2l1-2l3 4l0 6l6 5l2 5l-2 4l4 2l0 2l-2 2l4 2l6 22l7 20l-1 4l4 5l0 5l-2 2l4 2l0 2l-2 2l2 1l0 9l2 4l-2 2l0 2l2 2l0 10l4 4l0 128l-2 0l-2 2l1 4l-3 2l1 3l-3 3l0 2l2 2l-2 4l0 6l-4 6l1 4l-3 2l1 8l-3 2l1 4l-3 4l0 4l-2 2l1 5l-5 19l-4 6l0 8l-6 12l-1 1l-1-1l-2 2l0 4l-1 1l-1-1l-2 2l1 3l-5 3l-2 4l2 2l-1 2l-3 0l-2 2l2 2l-8 14l-1 2l-3 0l-2 2l2 2l-6 7l-2-1l-2 2l2 1l-2 4l-2-1l-2 2l1 2l-6 5l-1-1l-4 4l0 2l-3 6l-2 1l-1-1l-2 2l1 2l-9 8l-4 6l-2-2l-4 4l-2 0l-4 4l1 1l-1 1l-12 8l-2 0l-6 6l-8 6l-2-2l-2 2l0 2l-4 2l-2 0l-10 8l-2 0l-2 2l-6 2l-2-2l-4 2l-4 0l-4 4l-4 2l-4 0l-6 3l-16 5l-6 3l-5 2l-3-1l-4 3l-4-1l-3 3l-7-1l-3 3l-1-1l-8 0l-6 4l-6 1l-16 2l-14 4l-4 0l-4-1l-2 3l-8 1l-2-2l-6 0l-1 1l-9-1l-2-2l-2 2l1 0l-5 0l-7 1l-3-3l-2 3l-3-2l1-1l-2-2l-4 0l-2 2l1 1l-5 0l-2-3l-4 0l-2 2l-2-2l-4 2l-2-2l-3 1l-8 0l-1-1l-4 1l-4-2l-8-1l-5-2l-1-2l-4 2l-6-4l-2 0l-2 2l-2 0l-2-2l-10 0l-4-4l-2 2l-6 0l-8-8l-1 1l-3-1l-6-6l-1 1l-1-1l0-2l-2-2l-3 1l-11-7l0-2l-2-2l-3 1l-3-1l-12-6l0-2l-2-2l-2 2l-8-4l-4-4l-1 1l-7-3l-2-4l-2 2l-9-5l1-1l-2-2l-4-2l-3 1l-17-13l0-2l-6-6l-1 1l-3-1l-4-6l-1 1l-5-5l-2 0l-6-6l-4-2l-5-4l1-2l-12-12l0-4l-6-4l0-2l-4-4l0-2l-4-4l-1 1l-2-4l1-1l-2-2l-1 1l-4-3l-5-10l-1 1l-2-2l1-1l-5-9l1-3l-2-2l-1 1l-1-1l0-6l-2-2l-2 0l0-6l-4-4l0-6l-4-2l-2-8l-7-13l1-1l-2-2l-2-4l0-4l-2-2l2-4l-2-2l0-4l-4-2l0-10l-4-4l-2-4l-1-5l1-3l-4-4l2-4l-4-2l0-2l2-2l-4-4l0-6l-2-4l2-2l-2-2l-2-6l0-6l2-4l-4-4l0-4l-2-4l2-4l0-4l-2-2l0-6l-4-4l0-26l2-2l-2-2l2-2l-2-2l0-15l2-1l-2-2l2-2l-2-2l0-12l2-2l0-2l-2-2l0-14l4-2l2-4l-1-4l4-12l5-8l-2-4l6-8l0-8l2-5l2-1l1-7l3 1l2-2l-2-4l5-7l5-3l4-8l-2-2l-1 1l0-1l4-4l9-19l3-3l1 2l2-2l0-5l7-7l3-5l2 1l2-2l0-3l4-6l8-5l-2-2l8-8l1-3l1 1l2-2l0-3l4-5l5-4l1 2l12-12l0-3l2-2l2 1l2-2l-1-2l3-1l12-12l2 1l4-4l-1-2l3-3l4 1l4-7l8-8l2 1l8-6l2 0l2 2l2-2l4 0l4-4l4-2l2 0l2 2l3-4l29-10l2 2l4-4l12-5l7-1l1 2l4 0l2-2l6 0l4-2l2 2l2-3l6 0l4-2l2 0l2 3l2-2l2 2l6 0l2-2l-2-2l2-1l2 3l2 0l2-2l-1-1l4 0l-1 1l2 2l4-4l4 2l3-3l11 1l4-3zM3317 2448l2 2l2-2l-2-2l-2 2z"/><path fill="#000080" d="M3331 1741l78 0l6 3l8-1l4 2l12 1l6 2l8 0l6 2l10 0l6 2l8 0l4 2l8 0l6 1l2 3l10 1l2 3l4 0l14 6l34 10l2 2l4 0l8 8l2 0l16 14l24 18l11 12l2 4l13 12l2 4l12 12l4 6l2 6l4 4l12 20l2 6l4 4l2 6l4 4l2 10l2 2l0 4l2 2l14 46l2 2l0 10l2 4l0 12l2 4l0 14l2 4l4 2l0 126l-4 2l-1 4l-1 6l-4 12l0 6l-2 4l0 6l-2 2l0 8l-2 2l-2 12l-2 2l-10 38l-12 22l-4 4l-2 4l1 0l-5 6l1 0l-9 16l-4 4l1 1l-25 27l-2 4l-14 14l-2 4l-42 28l-12 10l-16 6l-4 0l-2 2l-4 0l-2 2l-10 3l-22 7l-18 7l-18 4l-8 1l-2 1l-16 3l-24 5l-8 1l-4 1l-13 1l-13-2l-15 1l-1-1l-1 1l-5-3l-10 1l-2-1l-5 1l-5-1l-2 1l-6-2l-12 0l-2-3l-1 1l-7-1l-8-2l-6 0l-4-2l-6 0l-6-2l-8 0l-2-2l-8 0l-38-26l-62-31l-44-36l-4-2l-8-7l-17-24l-23-26l-20-48l-8-14l-13-46l-9-24l-2-16l-2-4l0-8l-2-4l-2-16l-4-14l1-84l6-14l11-38l6-12l2-2l0-3l8-11l4-8l0-2l3-4l9-18l46-56l64-59l58-19l21-8l33-5l6-2l12 1l3-3l9 1l5-3l3 1l16-3z"/><path fill="#000080" d="M3329 1743l80 1l4 2l10 0l6 3l10 0l6 2l8 0l4 2l12 0l4 1l20 2l80 27l50 40l38 41l4 6l31 50l22 68l1 8l1 4l0 12l2 6l1 14l2 3l4 1l0 125l-4 2l-2 3l-1 8l-4 12l-2 16l-1 2l-1 8l-9 28l-1 6l-5 14l-1 6l-34 58l-43 47l-48 33l-4 4l-80 29l-78 16l-12 0l-6-2l-24 0l-6-2l-24 0l-4-2l-12 0l-16-4l-8 0l-4-2l-8 0l-24-5l-32-23l-67-33l-49-40l-45-56l-20-48l-8-14l-13-46l-8-22l-8-48l-4-14l-1-48l2-36l5-12l12-38l7-16l24-44l46-56l20-20l5-3l38-36l58-18l20-9l8-2l12 0l4-2l10 0l4-2l10 0l6-3l10 0l4-2l12 0l4-2z"/><path fill="#000080" d="M3327 1747l4-1l76 1l20 4l10 0l20 4l10 0l6 2l20 1l78 26l51 40l37 40l6 8l30 50l23 66l0 8l2 4l0 14l2 4l0 14l3 3l4 2l0 124l-2 0l-5 5l0 8l-4 10l-3 18l-1 2l-1 8l-3 8l-1 6l-11 34l-1 6l-34 58l-42 46l-28 19l-25 19l-79 28l-78 15l-12 1l-6-2l-24 0l-6-2l-24 0l-4-2l-12 0l-16-4l-8 0l-4-2l-30-5l-34-23l-66-34l-34-29l-14-11l-43-54l-21-50l-7-12l-12-46l-9-24l-12-62l-1-48l1-32l4-8l14-44l6-14l24-44l40-50l24-25l6-4l20-19l18-16l84-28l12-1l18-4l26-3l4-2l14-1z"/><path fill="#000080" d="M3329 1750l78-1l14 3l8 3l8 1l6 2l12 2l26 0l4 1l8 0l76 25l54 42l24 27l12 11l4 6l9 16l22 34l14 44l8 22l1 8l2 4l0 14l2 4l1 16l3 3l4 1l0 122l-2 0l-6 6l0 8l-4 10l0 6l-2 4l-6 30l-12 36l0 4l-34 58l-26 28l0 2l-16 16l0 2l-2 0l-12 10l-14 8l-24 18l-38 14l-22 6l-19 8l-15 2l-4 2l-6 0l-2 2l-8 0l-2 2l-8 0l-3 2l-7 0l-3 2l-7 0l-3 2l-7 0l-4 2l-12 0l-6-2l-24 1l-6-2l-24 0l-4-2l-12 0l-16-5l-8 0l-4-2l-8 0l-4-2l-18-2l-32-23l-67-35l-17-14l-16-16l-15-10l-11-14l-11-16l-20-24l-16-40l-10-22l-5-16l-4-32l-9-20l-7-20l-3-18l-5-24l0-68l2-12l5-12l11-39l6-13l24-44l26-32l4-6l22-25l52-49l46-14l37-14l13-1l20-5l44-6z"/><path fill="#000080" d="M3315 1757l10 0l8-1l26 2l42-1l42 10l58 3l14 4l50 19l11 7l41 32l25 26l11 10l34 50l3 6l11 38l10 28l1 6l2 6l1 12l2 6l0 14l5 6l7 2l0 115l-6 2l-4 6l-1 7l-10 32l-9 40l-6 20l-34 57l-42 45l-28 18l-24 19l-78 26l-78 16l-14-1l-24 1l-6-1l-24-1l-6-1l-10 0l-18-6l-6 0l-34-8l-32-22l-64-35l-18-16l-14-14l-16-11l-20-28l-19-24l-18-46l-7-14l-3-14l-1-16l-5-24l-13-34l-4-12l-2-16l-4-14l-1-20l1-30l3-24l7-18l8-33l9-23l10-16l8-16l39-48l22-23l8-5l16-19l18-16l36-10l46-17l10-1l48-12z"/><path fill="#0000bb" d="M3317 1767l18-1l32 2l34-1l24 7l14 2l54 2l20 3l28 10l20 9l10 6l22 15l20 21l36 30l31 46l5 8l6 18l2 8l0 20l15 32l1 12l2 4l-1 14l2 6l5 6l4 2l8-1l0 106l-8 2l-6 7l-7 26l-9 16l-2 14l0 14l-10 32l-4 8l-10 12l-8 18l-10 16l-27 30l-23 17l-4 5l-16 8l-22 20l-94 29l-62 12l-66-2l-6-2l-10 0l-14-4l-10-1l-32-8l-12-10l-18-11l-62-35l-20-18l-11-12l-17-12l-13-20l-24-32l-16-40l-7-20l-2-22l-5-24l-5-16l-10-24l-5-26l-4-14l-1-28l1-20l4-22l7-18l6-31l14-31l6-10l5-12l39-48l20-20l8-6l16-19l17-15l27-7l16-7l24-9l42-11l28-5z"/><path fill="#0008ff" d="M3319 1779l18-1l24 5l40-3l20 6l16 3l22 0l12 4l16-3l22 3l12 3l16 8l13 10l11 12l20 9l10 17l10 4l8 8l27 20l13 22l18 20l3 14l0 40l2 6l5 8l1 8l4 8l-4 14l-1 28l2 7l4 4l8 2l22 14l16 7l0 44l-20 1l-10 6l-6-1l-2 2l0 10l-10 32l0 12l-3 10l-6 8l-1 14l-6 8l1 2l3 2l0 6l-2 4l-4 2l-2 8l-8 10l-6 4l-16 0l-4 4l-4 14l0 6l2 6l8 5l1 3l-5 10l-6 8l-20 18l-14 5l-16 19l-15 8l-3 6l-6 4l-12 4l-22 3l-12 6l-8 2l-10 9l-28 8l-12 3l-28 3l-12 4l-8-2l-54 0l-16-3l-23-7l-7-8l-14-6l-4-1l-4 4l-4 0l-12-9l-8-2l-8-6l-18-7l-20-10l-19-11l-5-4l-5-8l-1-3l3-7l-3-6l-20-12l-10-1l-8-6l-7-9l-2-6l-9-12l-3-12l-13-11l-15-35l-2-10l-5-12l-1-20l-5-18l-16-50l-1-20l-7-30l-1-18l1-13l5-19l7-16l1-14l6-22l9-20l6-10l6-15l49-59l16-14l15-16l18-12l12-3l44-19l22-6l10-4l28-8l14-1zM3170 2176l-2 2l0 4l5 3l8 0l6-3l0-4l-4-3l-6-1l-7 2z"/><path fill="#005cff" d="M3303 1795l12-1l36 4l52-1l2 2l14 2l2 2l8 0l2 2l14 2l2 2l6 0l2 2l6-1l2 2l6 0l2 2l6 0l2 1l6-1l6 1l12 13l10 4l4 5l6 2l4 4l6 2l4 4l10 3l6 5l8 4l15 21l13 10l7 10l7 22l10 20l9 14l0 4l2 2l2 6l6 10l0 10l2 2l0 12l1 2l0 24l2 14l2 4l4 32l-2 4l-4 44l-3 14l-1 16l-1 2l0 8l-2 2l2 10l-3 6l-2 2l-1 8l-2 2l-1 4l-4 8l-14 20l-14 30l-14 20l-4 8l-1 4l2 12l-1 4l-14 8l-8 12l-12 4l-12-6l-12 0l-6 3l-18 4l-24 19l-10 3l-10-2l-8 1l-9-10l-1-1l-6 0l-2 2l-22-1l-2-2l-8 1l-2-2l-10 3l-8-2l-4-4l-5 0l-5 3l-12-5l-8 1l-4-2l-4 3l-8 1l-3-1l-1-4l4-6l-4 0l-2-3l-6 0l-2-2l-4-1l-2-2l-4 0l-2-2l-6 0l-2-1l-4 0l-2-2l-6 1l-3 2l-4 8l-5 1l-8-5l-9-12l-2-8l-3-5l-10-4l-4-5l-4-2l-10-3l-2-1l-6 0l-6-4l-6-3l-12-11l-4-1l-24-17l-12-5l-7-5l-16-20l0-2l-8-10l0-2l-6-6l0-2l-8-10l1-6l-2-2l-3-14l-4-8l-4-22l-2-2l0-6l-2-2l0-6l-2-2l1-10l-2-2l0-14l-2-2l-1-16l-2-2l-1-13l-2-3l-1-4l1-8l2-2l1-8l2-2l1-6l6-14l0-6l2-4l-1-6l1-4l0-6l2-4l-1-8l2-2l0-2l4-4l6-14l4-4l4-10l5-4l2-6l9-10l1-8l36-38l0-2l16-15l44-20l26-17l6 0l10-4l8 0l10-3l2-2l6-2l10-6l10-2zM3164 2168l-9 4l-5 8l0 4l3 4l9 6l13 1l14-2l8-5l5-6l1-4l-2-4l-8-5l-14-3l-15 2z"/><path fill="#00b0ff" d="M3309 1810l12-1l42 2l28-3l16 1l26 5l16 6l32 9l18 9l24 18l24 12l10 8l8 8l12 16l10 16l16 30l8 20l10 20l4 34l0 26l5 30l-1 16l-8 60l-5 16l-4 22l-3 10l-12 22l-12 18l-14 26l-8 10l-19 14l-5 5l-14 9l-12 6l-26 9l-18 8l-16 4l-18 1l-12-2l-14 0l-8-2l-28 2l-32-8l-38-15l-12-3l-8-4l-14-4l-12-8l-8-8l-14-10l-23-6l-9-4l-22-16l-11-10l-15-8l-3-4l-1-6l0-4l6-6l4-2l14 0l12-2l12-5l7-5l5-6l2-6l-1-6l-3-4l-8-5l-12-4l-26 0l-11 3l-8 4l-8 6l-3 6l-1-2l-7 0l-14-8l-13-20l-6-26l0-48l-10-30l3-10l7-12l3-8l4-16l4-24l4-10l22-31l20-41l12-14l8-8l28-18l24-9l8-6l34-17l6-1l22-8l18-3z"/><path fill="#19ffde" d="M3345 1821l12 0l2 2l42-2l26 1l12 7l4 0l2 2l4 0l2 2l4 0l2 2l4 0l2 2l4 0l6 4l4 0l2 2l4 0l2 1l4 0l2 2l4 1l4 2l6 6l2 1l12 10l6 4l2-1l12 9l2 0l18 14l0 2l4 4l0 2l5 6l0 2l10 14l14 32l15 28l2 2l0 4l4 8l0 6l2 2l0 14l1 4l-1 12l3 46l-2 26l-2 2l0 12l-2 2l-1 14l-1 2l0 10l-4 8l0 4l-2 2l0 4l-2 2l-1 10l-2 2l-2 10l-2 2l0 4l-8 18l-11 16l-4 4l-11 23l-16 16l-23 15l-9 4l-10 7l-4 1l-2 2l-6 1l-4 0l-2 2l-4 0l-2 2l-4 1l-14 7l-20 5l-4-1l-2 2l-24-2l-2-1l-44 1l-2-2l-6 0l-2-2l-4 0l-6-5l-10-2l-6-4l-10-2l-6-4l-4 0l-6-4l-4 0l-38-35l-12-3l-1-2l-7-3l-6-1l-6 0l-2-2l-4 0l-2-2l-2 1l-8-6l-2 0l-4-4l-2 0l-4-4l-2 0l-6-5l0-10l2-4l22-18l6-10l1-6l-1-6l-8-10l-12-6l-18-3l-24 0l-38 3l-8-10l-6-14l0-10l-1-2l1-36l-2-4l-1-26l-2-2l0-14l3-2l6-14l2-14l4-12l1-14l3-6l2-8l26-38l6-18l6-8l4-2l10-14l14-14l12-6l6-6l12-4l8-2l8-5l10-4l24-16l6 0l2-2l12-1l2-2l12-1l2-2l10 1l2-2l12 1l2-2l12 0l2-2z"/><path fill="#60ff97" d="M3393 1831l16-1l10 2l38 16l34 11l16 11l16 14l12 6l12 9l20 31l11 24l12 24l10 32l0 24l3 28l0 22l-9 38l-1 20l-9 36l-4 12l-9 16l-12 18l-12 24l-10 10l-30 17l-14 5l-28 16l-16 8l-12 4l-8 0l-18-2l-40 2l-48-15l-6-4l-14-6l-9-7l-11-13l-14-13l-38-23l-5-5l-3-5l0-5l8-18l2-10l-3-10l-7-11l-6-5l-12-6l-42-6l-26-7l-4-4l-4-7l-7-30l1-16l-1-16l2-20l7-26l8-42l21-40l5-17l12-15l17-18l17-13l26-8l16-8l18-12l12-4l26-5l34-2l8-3l22 1l20-3z"/><path fill="#a4ff53" d="M3407 1843l12 1l34 18l32 10l14 8l18 16l22 16l14 22l28 62l6 24l2 54l-12 46l-2 18l-6 20l-12 25l-12 15l-12 10l-9 14l-2 4l-1 10l-2 4l-44 29l-15 13l-15 7l-20 4l-14-1l-14 3l-24 0l-32-7l-32-14l-8-7l-47-51l-4-8l-6-32l-6-10l-6-8l-8-6l-11-5l-27-7l-17-7l-16-11l-5-10l-5-14l-1-28l3-24l7-28l1-28l15-40l5-18l12-16l18-17l18-14l22-7l12-6l18-11l12-5l40-6l8 0l18-4l18 0l38-3z"/><path fill="#e7ff0f" d="M3351 1858l32 1l14-2l16 0l16 5l20 12l28 9l16 9l14 14l26 22l7 8l23 52l5 12l5 26l2 18l-1 22l-2 18l-6 14l-11 34l-5 10l-12 18l-10 8l-7 7l-10 7l-12 14l-4 6l-3 12l-16 28l-19 18l-11 8l-19 7l-16 1l-16 6l-50-3l-30-14l-6-5l-12-16l-8-8l-6-8l-15-30l-11-28l-6-12l-8-11l-8-6l-40-13l-18-12l-10-32l-2-18l1-18l4-14l-2-22l3-24l13-50l11-14l28-26l26-11l28-16l22-5l10 1l18-5l8 0l16-4zM3354 2102l-3 4l2 4l2 1l8 1l4-4l0-4l-4-3l-4-1l-5 2z"/><path fill="#ffb900" d="M3355 1868l4-1l2 2l14 0l2 1l16 0l2 1l15-1l3 1l14 3l2 2l6 1l10 7l4 0l10 5l4 0l6 4l4 0l10 6l4 1l53 46l18 36l0 4l2 2l0 8l2 2l0 8l2 2l0 8l2 2l0 8l2 2l0 6l-2 2l0 12l-1 2l0 10l-2 2l0 12l-4 1l-6 7l-2 4l0 4l-2 2l-1 4l-4 6l0 4l-13 14l-6 14l-4 3l-14 5l-7 10l-11 8l-4 6l1 2l-15 20l-1 18l-11 24l-24 23l-6 2l-18 9l-4 0l-6 4l-10 2l-28-3l-14 1l-34-22l-6-5l-6-9l-4-2l-5-8l-1-6l-2-2l0-4l-2-2l0-6l-2-2l0-5l-3-3l-10-24l-6-28l-7-10l-4-10l-10 1l-27-5l-7-6l-11-14l-4-20l-4-8l-1-8l-3-6l0-8l-2-2l1-16l-2-2l0-18l-2-2l1-26l2-2l0-8l2-2l1-8l2-2l0-8l2-2l1-6l9-10l12-7l10-14l12-9l16-6l28-14l20-6l10 1l12-3l4-2l10-1l2-1l10 0l4-2zM3352 2094l-7 3l-4 5l-1 6l5 6l8 4l8 1l8-2l7-5l2-4l-1-4l-4-7l-10-4l-11 1z"/><path fill="#ff6c00" d="M3363 1881l16-1l2 2l18-1l18 2l4 2l14 3l2 2l28 9l12 7l16 5l12 9l10 9l12 7l14 18l13 24l5 12l0 6l2 2l0 8l2 2l0 8l2 2l0 8l2 2l0 6l-2 2l0 12l-2 2l0 10l-1 2l-1 12l-2 0l-20 20l-4 2l-12-2l-36 7l-6-1l-7 2l-3 12l1 4l-3 4l-5 14l-5 6l-6 20l-6 8l0 14l-2 2l0 16l-2 8l-5 8l-10 8l-3 6l-5 2l-1 8l-6 3l-2-2l-8-3l-5-4l-4-6l-5-14l-6-6l-12 1l-12-6l-12-1l-12 2l-10 5l-8-5l-6-6l-9-14l-8-20l-3-10l-1-20l1-8l3-4l1-1l8 4l4-1l4-3l3-5l-1-6l-4-4l-6-1l-6 2l-4 5l-4-12l-10-12l-26-6l-8-4l1-22l-11-22l-12-18l0-12l-4-12l-5-8l5-14l1-10l3-2l2-12l6-6l6-10l8-8l0-2l8-10l8-4l4-1l10-6l28-13l16-1l2-1l18-2l2-2l20 1l2-2zM3342 2086l-5 2l-3 4l-6 12l0 4l2 6l7 6l14 5l14 1l16-6l7-6l1-6l-1-4l-15-16l-10-3l-21 1zM3424 2086l-5 6l0 8l4 5l6 1l3-2l3-4l0-8l-5-6l-3-1l-3 1z"/><path fill="#ff1e00" d="M3325 1902l26-1l12 1l2 2l8 0l18-2l28 1l2 3l6 0l2 3l6 0l8 4l6 1l2 2l4-1l2 2l6 0l2 2l4 0l8 6l2 0l6 5l2 0l6 7l16 9l10 12l5 8l5 6l5 8l8 10l0 8l2 2l0 6l2 2l0 8l2 2l1 6l1 2l1 4l-2 2l0 18l-3 14l-5 5l-12 4l-14 1l-10-1l-22-8l-2-1l-4-1l-2-2l-4 0l-6-4l-18-1l-8-6l-12-2l-2-2l-2-8l-2-4l-8-9l-2 0l-4-7l-18-20l-5-8l-17-14l-22-2l-12 8l-14-1l-2 1l-6-2l-2-3l-26-9l-14 1l-5-1l-2-4l-4-16l-3-6l9-16l13-13l12-3l2-2l6 0l2-2l8 0l2-1l6-1l2-2l8 0zM3327 2041l5 3l2 6l-1 6l-4 3l-4-1l-2-2l-1-6l1-6l4-3zM3389 2081l6 0l4 3l2 6l-2 4l-6 1l-7-3l-2-6l5-5zM3329 2133l16-1l15 4l7 4l0 6l-4 5l-10 5l-10 2l-8-1l-8-4l-5-7l1-8l6-5z"/><path fill="#ad0000" d="M3401 1927l8 0l14 3l18 1l10 6l16 4l20 12l20 16l12 15l13 30l1 26l-5 12l-11 7l-8 0l-4-2l-8-1l-2-2l-10-1l-9-3l-13-6l-20-12l-21-22l-3-6l-6-28l-21-28l-5-10l14-11z"/><path fill="#800000" d="M3451 1969l8-1l12 2l12 6l5 4l6 12l2 6l-2 6l-5 8l-12 5l-8 0l-18-6l-8-7l-6-10l0-12l4-8l10-5z"/></g>
<rect x="1879.4" y="1214.4" width="18" height="17.7" fill="#000080"/>
<rect x="1879.4" y="1196.9" width="18" height="17.7" fill="#000080"/>
<rect x="1879.4" y="1179.5" width="18" height="17.7" fill="#000080"/>
<rect x="1879.4" y="1162.1" width="18" height="17.7" fill="#000080"/>
<rect x="1879.4" y="1144.7" width="18" height="17.7" fill="#000080"/>
<rect x="1879.4" y="1127.2" width="18" height="17.7" fill="#000080"/>
<rect x="1879.4" y="1109.8" width="18" height="17.7" fill="#000080"/>
<rect x="1879.4" y="1092.4" width="18" height="17.7" fill="#000080"/>
<rect x="1879.4" y="1074.9" width="18" height="17.7" fill="#0000bb"/>
<rect x="1879.4" y="1057.5" width="18" height="17.7" fill="#0008ff"/>
<rect x="1879.4" y="1040.1" width="18" height="17.7" fill="#005cff"/>
<rect x="1879.4" y="1022.7" width="18" height="17.7" fill="#00b0ff"/>
<rect x="1879.4" y="1005.2" width="18" height="17.7" fill="#19ffde"/>
<rect x="1879.4" y="987.8" width="18" height="17.7" fill="#60ff97"/>
<rect x="1879.4" y="970.4" width="18" height="17.7" fill="#a4ff53"/>
<rect x="1879.4" y="952.9" width="18" height="17.7" fill="#e7ff0f"/>
<rect x="1879.4" y="935.5" width="18" height="17.7" fill="#ffb900"/>
<rect x="1879.4" y="918.1" width="18" height="17.7" fill="#ff6c00"/>
<rect x="1879.4" y="900.7" width="18" height="17.7" fill="#ff1e00"/>
<rect x="1879.4" y="883.2" width="18" height="17.7" fill="#ad0000"/>
<rect x="1879.4" y="865.8" width="18" height="17.7" fill="#800000"/>
<rect x="1879.4" y="865.8" width="18" height="366" fill="none" stroke="#000" stroke-width="1.35"/>
<text x="1909" y="890.6" font-size="20.4">10<tspan dy="-7.3" font-size="14.7">−6</tspan></text>
<text x="1909" y="925.5" font-size="20.4">10<tspan dy="-7.3" font-size="14.7">−7</tspan></text>
<text x="1909" y="960.3" font-size="20.4">10<tspan dy="-7.3" font-size="14.7">−8</tspan></text>
<text x="1909" y="995.2" font-size="20.4">10<tspan dy="-7.3" font-size="14.7">−9</tspan></text>
<text x="1909" y="1030.1" font-size="20.4">10<tspan dy="-7.3" font-size="14.7">−10</tspan></text>
<text x="1909" y="1064.9" font-size="20.4">10<tspan dy="-7.3" font-size="14.7">−11</tspan></text>
<text x="1909" y="1099.8" font-size="20.4">10<tspan dy="-7.3" font-size="14.7">−12</tspan></text>
<text x="1909" y="1134.6" font-size="20.4">10<tspan dy="-7.3" font-size="14.7">−13</tspan></text>
<text x="1909" y="1169.5" font-size="20.4">10<tspan dy="-7.3" font-size="14.7">−14</tspan></text>
<text x="1909" y="1204.3" font-size="20.4">10<tspan dy="-7.3" font-size="14.7">−15</tspan></text>
<path d="M1897.4 883.2h5.8M1897.4 918.1h5.8M1897.4 952.9h5.8M1897.4 987.8h5.8M1897.4 1022.7h5.8M1897.4 1057.5h5.8M1897.4 1092.4h5.8M1897.4 1127.2h5.8M1897.4 1162.1h5.8M1897.4 1196.9h5.8" stroke="#000" stroke-width="1.3"/>
<text transform="translate(1988.4 1049.5) rotate(-90)" font-size="20.4" text-anchor="middle"><tspan font-style="italic">f, s</tspan><tspan dy="-7.3" font-size="14.7">3</tspan><tspan dy="7.3" font-style="italic">/(</tspan><tspan font-style="italic">cm</tspan><tspan dy="-7.3" font-size="14.7">3</tspan><tspan dy="7.3"> · </tspan><tspan font-style="italic">m</tspan><tspan dy="-7.3" font-size="14.7">3</tspan><tspan dy="7.3" font-style="italic">)</tspan></text>
<rect x="119.9" y="865.8" width="366" height="366" fill="none" stroke="#000" stroke-width="1.35"/>
<path d="M134.1 1231.8v5.8M119.9 1217.6h-5.8M185.2 1231.8v5.8M119.9 1166.5h-5.8M236.4 1231.8v5.8M119.9 1115.3h-5.8M287.5 1231.8v5.8M119.9 1064.1h-5.8M318.2 1231.8v5.8M119.9 1033.5h-5.8M369.4 1231.8v5.8M119.9 982.3h-5.8M420.5 1231.8v5.8M119.9 931.1h-5.8M471.7 1231.8v5.8M119.9 880h-5.8" stroke="#000" stroke-width="1.3"/>
<g transform="translate(132.6 1267.2) rotate(-45)"><text x="0" y="7.3" font-size="20.4" text-anchor="middle">−10<tspan dy="-7.3" font-size="14.7">4</tspan></text></g>
<g transform="translate(183.8 1267.2) rotate(-45)"><text x="0" y="7.3" font-size="20.4" text-anchor="middle">−10<tspan dy="-7.3" font-size="14.7">3</tspan></text></g>
<g transform="translate(234.9 1267.2) rotate(-45)"><text x="0" y="7.3" font-size="20.4" text-anchor="middle">−10<tspan dy="-7.3" font-size="14.7">2</tspan></text></g>
<g transform="translate(286 1267.2) rotate(-45)"><text x="0" y="7.3" font-size="20.4" text-anchor="middle">−10<tspan dy="-7.3" font-size="14.7">1</tspan></text></g>
<g transform="translate(316.8 1262.3) rotate(-45)"><text x="0" y="7.3" font-size="20.4" text-anchor="middle">10<tspan dy="-7.3" font-size="14.7">1</tspan></text></g>
<g transform="translate(367.9 1262.3) rotate(-45)"><text x="0" y="7.3" font-size="20.4" text-anchor="middle">10<tspan dy="-7.3" font-size="14.7">2</tspan></text></g>
<g transform="translate(419 1262.3) rotate(-45)"><text x="0" y="7.3" font-size="20.4" text-anchor="middle">10<tspan dy="-7.3" font-size="14.7">3</tspan></text></g>
<g transform="translate(470.2 1262.3) rotate(-45)"><text x="0" y="7.3" font-size="20.4" text-anchor="middle">10<tspan dy="-7.3" font-size="14.7">4</tspan></text></g>
<text x="106.7" y="1225" font-size="20.4" text-anchor="end">−10<tspan dy="-7.3" font-size="14.7">4</tspan></text>
<text x="106.7" y="1173.9" font-size="20.4" text-anchor="end">−10<tspan dy="-7.3" font-size="14.7">3</tspan></text>
<text x="106.7" y="1122.7" font-size="20.4" text-anchor="end">−10<tspan dy="-7.3" font-size="14.7">2</tspan></text>
<text x="106.7" y="1071.5" font-size="20.4" text-anchor="end">−10<tspan dy="-7.3" font-size="14.7">1</tspan></text>
<text x="106.7" y="1040.9" font-size="20.4" text-anchor="end">10<tspan dy="-7.3" font-size="14.7">1</tspan></text>
<text x="106.7" y="989.7" font-size="20.4" text-anchor="end">10<tspan dy="-7.3" font-size="14.7">2</tspan></text>
<text x="106.7" y="938.5" font-size="20.4" text-anchor="end">10<tspan dy="-7.3" font-size="14.7">3</tspan></text>
<text x="106.7" y="887.4" font-size="20.4" text-anchor="end">10<tspan dy="-7.3" font-size="14.7">4</tspan></text>
<text x="303.2" y="1319.9" font-size="20.4" text-anchor="middle"><tspan font-style="italic">m</tspan><tspan dy="3.9" font-size="14.3" font-style="italic">p</tspan><tspan dy="-3.9" font-style="italic">v</tspan><tspan dy="3.9" font-size="14.3">∥</tspan><tspan dx="-7.1" dy="-11.2" font-size="14.7">2</tspan><tspan dy="7.3">/2, </tspan><tspan font-style="italic">eV</tspan></text>
<rect x="579.4" y="865.8" width="366" height="366" fill="none" stroke="#000" stroke-width="1.35"/>
<path d="M593.6 1231.8v5.8M579.4 1217.6h-5.8M644.8 1231.8v5.8M579.4 1166.5h-5.8M695.9 1231.8v5.8M579.4 1115.3h-5.8M747 1231.8v5.8M579.4 1064.1h-5.8M777.8 1231.8v5.8M579.4 1033.5h-5.8M828.9 1231.8v5.8M579.4 982.3h-5.8M880 1231.8v5.8M579.4 931.1h-5.8M931.2 1231.8v5.8M579.4 880h-5.8" stroke="#000" stroke-width="1.3"/>
<g transform="translate(592.1 1267.2) rotate(-45)"><text x="0" y="7.3" font-size="20.4" text-anchor="middle">−10<tspan dy="-7.3" font-size="14.7">4</tspan></text></g>
<g transform="translate(643.2 1267.2) rotate(-45)"><text x="0" y="7.3" font-size="20.4" text-anchor="middle">−10<tspan dy="-7.3" font-size="14.7">3</tspan></text></g>
<g transform="translate(694.4 1267.2) rotate(-45)"><text x="0" y="7.3" font-size="20.4" text-anchor="middle">−10<tspan dy="-7.3" font-size="14.7">2</tspan></text></g>
<g transform="translate(745.5 1267.2) rotate(-45)"><text x="0" y="7.3" font-size="20.4" text-anchor="middle">−10<tspan dy="-7.3" font-size="14.7">1</tspan></text></g>
<g transform="translate(776.2 1262.3) rotate(-45)"><text x="0" y="7.3" font-size="20.4" text-anchor="middle">10<tspan dy="-7.3" font-size="14.7">1</tspan></text></g>
<g transform="translate(827.4 1262.3) rotate(-45)"><text x="0" y="7.3" font-size="20.4" text-anchor="middle">10<tspan dy="-7.3" font-size="14.7">2</tspan></text></g>
<g transform="translate(878.5 1262.3) rotate(-45)"><text x="0" y="7.3" font-size="20.4" text-anchor="middle">10<tspan dy="-7.3" font-size="14.7">3</tspan></text></g>
<g transform="translate(929.7 1262.3) rotate(-45)"><text x="0" y="7.3" font-size="20.4" text-anchor="middle">10<tspan dy="-7.3" font-size="14.7">4</tspan></text></g>
<text x="762.7" y="1319.9" font-size="20.4" text-anchor="middle"><tspan font-style="italic">m</tspan><tspan dy="3.9" font-size="14.3" font-style="italic">p</tspan><tspan dy="-3.9" font-style="italic">v</tspan><tspan dy="3.9" font-size="14.3">∥</tspan><tspan dx="-7.1" dy="-11.2" font-size="14.7">2</tspan><tspan dy="7.3">/2, </tspan><tspan font-style="italic">eV</tspan></text>
<rect x="1039" y="865.8" width="366" height="366" fill="none" stroke="#000" stroke-width="1.35"/>
<path d="M1053.2 1231.8v5.8M1039 1217.6h-5.8M1104.3 1231.8v5.8M1039 1166.5h-5.8M1155.5 1231.8v5.8M1039 1115.3h-5.8M1206.7 1231.8v5.8M1039 1064.1h-5.8M1237.3 1231.8v5.8M1039 1033.5h-5.8M1288.5 1231.8v5.8M1039 982.3h-5.8M1339.7 1231.8v5.8M1039 931.1h-5.8M1390.8 1231.8v5.8M1039 880h-5.8" stroke="#000" stroke-width="1.3"/>
<g transform="translate(1051.7 1267.2) rotate(-45)"><text x="0" y="7.3" font-size="20.4" text-anchor="middle">−10<tspan dy="-7.3" font-size="14.7">4</tspan></text></g>
<g transform="translate(1102.8 1267.2) rotate(-45)"><text x="0" y="7.3" font-size="20.4" text-anchor="middle">−10<tspan dy="-7.3" font-size="14.7">3</tspan></text></g>
<g transform="translate(1154 1267.2) rotate(-45)"><text x="0" y="7.3" font-size="20.4" text-anchor="middle">−10<tspan dy="-7.3" font-size="14.7">2</tspan></text></g>
<g transform="translate(1205.2 1267.2) rotate(-45)"><text x="0" y="7.3" font-size="20.4" text-anchor="middle">−10<tspan dy="-7.3" font-size="14.7">1</tspan></text></g>
<g transform="translate(1235.8 1262.3) rotate(-45)"><text x="0" y="7.3" font-size="20.4" text-anchor="middle">10<tspan dy="-7.3" font-size="14.7">1</tspan></text></g>
<g transform="translate(1287 1262.3) rotate(-45)"><text x="0" y="7.3" font-size="20.4" text-anchor="middle">10<tspan dy="-7.3" font-size="14.7">2</tspan></text></g>
<g transform="translate(1338.2 1262.3) rotate(-45)"><text x="0" y="7.3" font-size="20.4" text-anchor="middle">10<tspan dy="-7.3" font-size="14.7">3</tspan></text></g>
<g transform="translate(1389.3 1262.3) rotate(-45)"><text x="0" y="7.3" font-size="20.4" text-anchor="middle">10<tspan dy="-7.3" font-size="14.7">4</tspan></text></g>
<text x="1222.3" y="1319.9" font-size="20.4" text-anchor="middle"><tspan font-style="italic">m</tspan><tspan dy="3.9" font-size="14.3" font-style="italic">p</tspan><tspan dy="-3.9" font-style="italic">v</tspan><tspan dy="3.9" font-size="14.3">∥</tspan><tspan dx="-7.1" dy="-11.2" font-size="14.7">2</tspan><tspan dy="7.3">/2, </tspan><tspan font-style="italic">eV</tspan></text>
<rect x="1498.5" y="865.8" width="366" height="366" fill="none" stroke="#000" stroke-width="1.35"/>
<path d="M1512.7 1231.8v5.8M1498.5 1217.6h-5.8M1563.8 1231.8v5.8M1498.5 1166.5h-5.8M1615 1231.8v5.8M1498.5 1115.3h-5.8M1666.2 1231.8v5.8M1498.5 1064.1h-5.8M1696.8 1231.8v5.8M1498.5 1033.5h-5.8M1748 1231.8v5.8M1498.5 982.3h-5.8M1799.2 1231.8v5.8M1498.5 931.1h-5.8M1850.3 1231.8v5.8M1498.5 880h-5.8" stroke="#000" stroke-width="1.3"/>
<g transform="translate(1511.2 1267.2) rotate(-45)"><text x="0" y="7.3" font-size="20.4" text-anchor="middle">−10<tspan dy="-7.3" font-size="14.7">4</tspan></text></g>
<g transform="translate(1562.3 1267.2) rotate(-45)"><text x="0" y="7.3" font-size="20.4" text-anchor="middle">−10<tspan dy="-7.3" font-size="14.7">3</tspan></text></g>
<g transform="translate(1613.5 1267.2) rotate(-45)"><text x="0" y="7.3" font-size="20.4" text-anchor="middle">−10<tspan dy="-7.3" font-size="14.7">2</tspan></text></g>
<g transform="translate(1664.7 1267.2) rotate(-45)"><text x="0" y="7.3" font-size="20.4" text-anchor="middle">−10<tspan dy="-7.3" font-size="14.7">1</tspan></text></g>
<g transform="translate(1695.3 1262.3) rotate(-45)"><text x="0" y="7.3" font-size="20.4" text-anchor="middle">10<tspan dy="-7.3" font-size="14.7">1</tspan></text></g>
<g transform="translate(1746.5 1262.3) rotate(-45)"><text x="0" y="7.3" font-size="20.4" text-anchor="middle">10<tspan dy="-7.3" font-size="14.7">2</tspan></text></g>
<g transform="translate(1797.7 1262.3) rotate(-45)"><text x="0" y="7.3" font-size="20.4" text-anchor="middle">10<tspan dy="-7.3" font-size="14.7">3</tspan></text></g>
<g transform="translate(1848.8 1262.3) rotate(-45)"><text x="0" y="7.3" font-size="20.4" text-anchor="middle">10<tspan dy="-7.3" font-size="14.7">4</tspan></text></g>
<text x="1681.8" y="1319.9" font-size="20.4" text-anchor="middle"><tspan font-style="italic">m</tspan><tspan dy="3.9" font-size="14.3" font-style="italic">p</tspan><tspan dy="-3.9" font-style="italic">v</tspan><tspan dy="3.9" font-size="14.3">∥</tspan><tspan dx="-7.1" dy="-11.2" font-size="14.7">2</tspan><tspan dy="7.3">/2, </tspan><tspan font-style="italic">eV</tspan></text>
<text transform="translate(44.3 1047) rotate(-90)" font-size="20.4" text-anchor="middle"><tspan font-style="italic">m</tspan><tspan dy="3.9" font-size="14.3" font-style="italic">p</tspan><tspan dy="-3.9" font-style="italic">v</tspan><tspan dy="3.9" font-size="14.3">⊥</tspan><tspan dx="-12.4" dy="-11.2" font-size="14.7">2</tspan><tspan dx="3.1" dy="7.3">/2, </tspan><tspan font-style="italic">eV</tspan></text>
<rect x="124" y="870.5" width="71.9" height="41.4" fill="#000"/>
<text x="129.5" y="899.1" font-size="28.5" fill="#fff">THA</text>
<rect x="123.7" y="1192.4" width="113.2" height="35.0" fill="#000"/>
<text x="130.9" y="1216.6" font-size="22" fill="#fff">01:04:17</text>
<text x="480.5" y="898.8" font-size="28.8" text-anchor="end">(f1)</text>
<rect x="583.5" y="870.5" width="71.9" height="41.4" fill="#000"/>
<text x="589" y="899.1" font-size="28.5" fill="#fff">THA</text>
<rect x="583.2" y="1192.4" width="113.2" height="35.0" fill="#000"/>
<text x="590.4" y="1216.6" font-size="22" fill="#fff">01:04:31</text>
<text x="940" y="898.8" font-size="28.8" text-anchor="end">(f2)</text>
<rect x="1043.1" y="870.5" width="71.9" height="41.4" fill="#000"/>
<text x="1048.6" y="899.1" font-size="28.5" fill="#fff">THD</text>
<rect x="1042.8" y="1192.4" width="113.2" height="35.0" fill="#000"/>
<text x="1050" y="1216.6" font-size="22" fill="#fff">01:04:28</text>
<text x="1399.6" y="898.8" font-size="28.8" text-anchor="end">(f3)</text>
<rect x="1502.6" y="870.5" width="71.9" height="41.4" fill="#000"/>
<text x="1508.1" y="899.1" font-size="28.5" fill="#fff">THD</text>
<rect x="1502.3" y="1192.4" width="113.2" height="35.0" fill="#000"/>
<text x="1509.5" y="1216.6" font-size="22" fill="#fff">01:08:52</text>
<text x="1859.1" y="898.8" font-size="28.8" text-anchor="end">(f4)</text></svg></body></html>
